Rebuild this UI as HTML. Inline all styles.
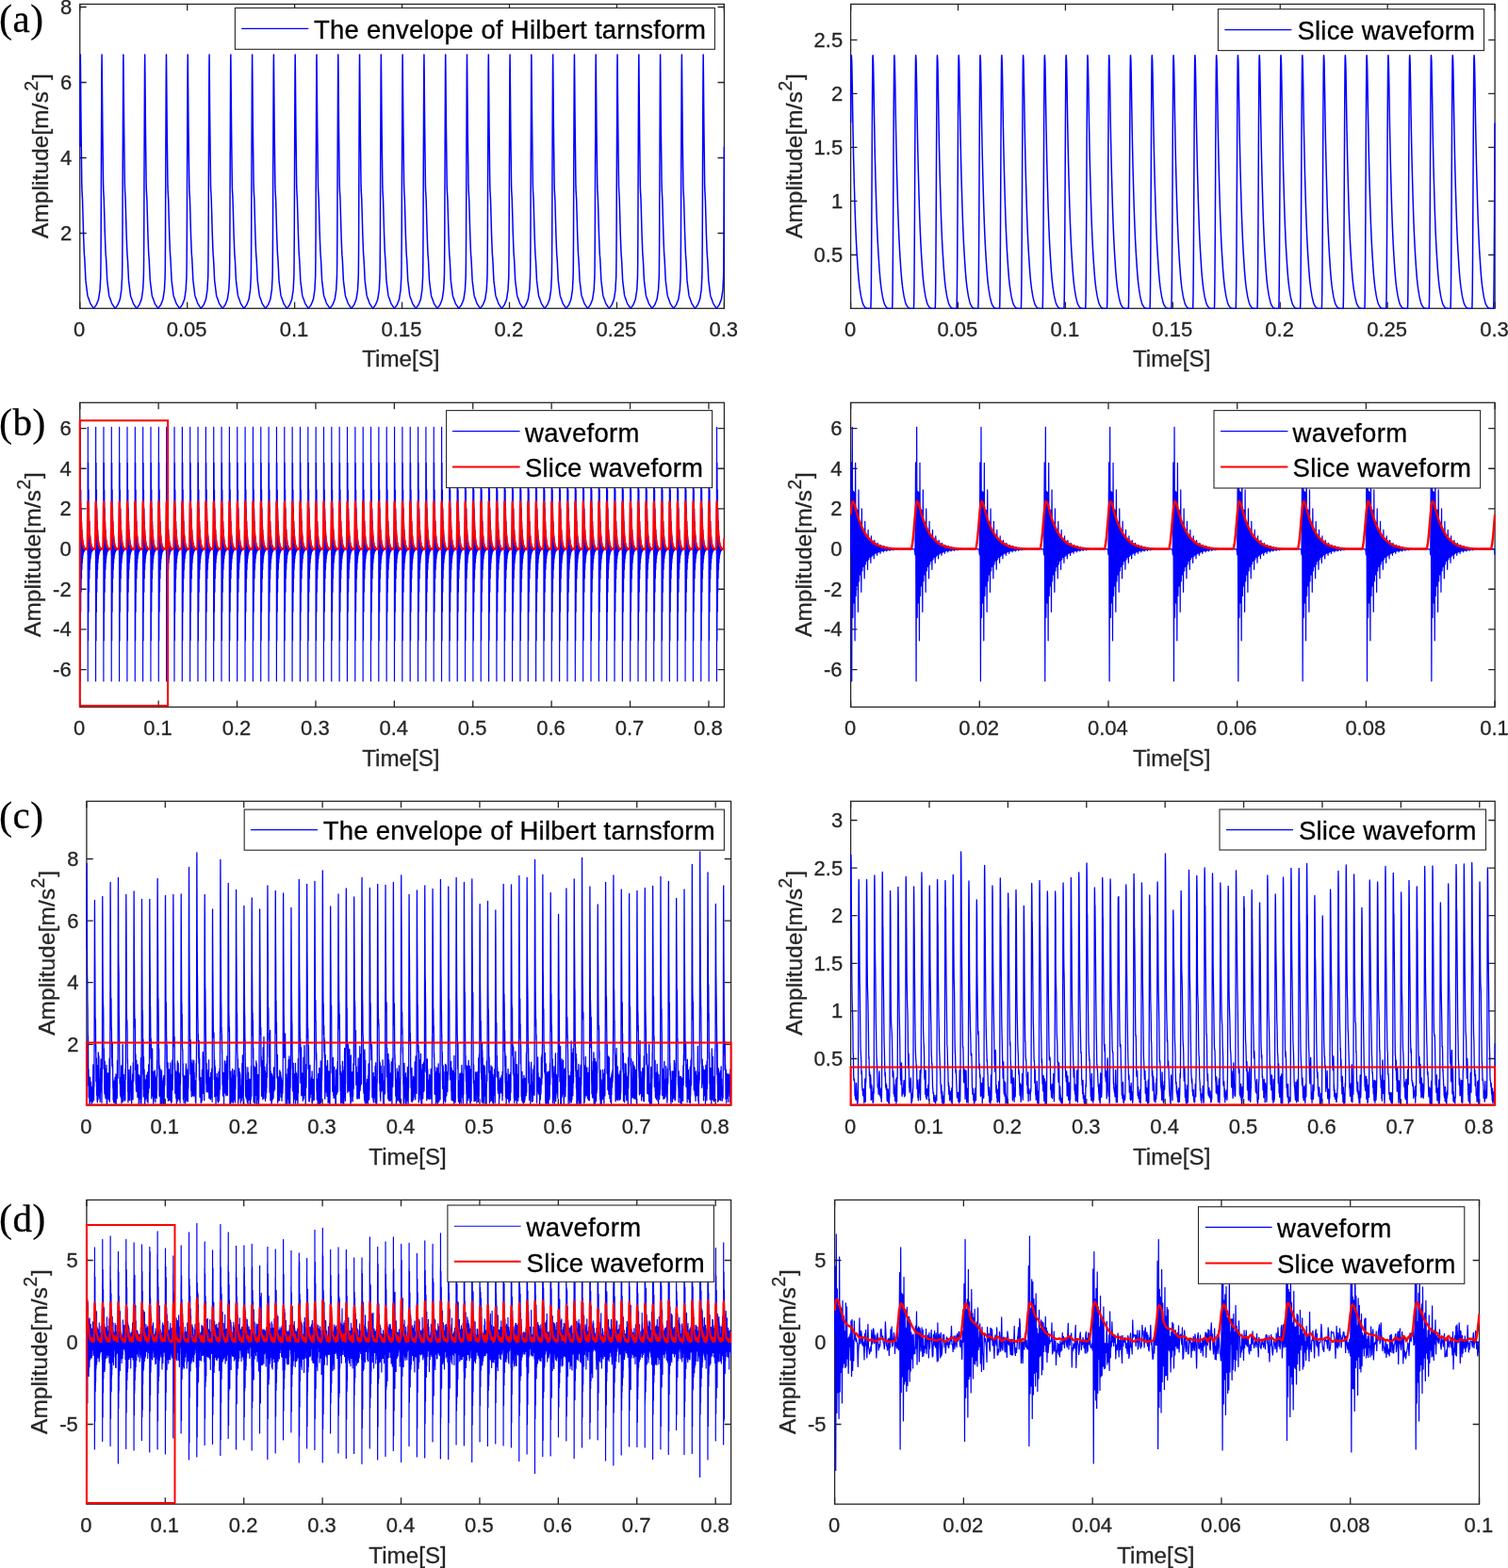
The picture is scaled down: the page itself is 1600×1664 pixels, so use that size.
<!DOCTYPE html>
<html lang="en"><head><meta charset="utf-8"><title>Waveform, Hilbert envelope and slice waveform</title>
<style>html,body{margin:0;padding:0;background:#fff}body{width:1600px;height:1664px;overflow:hidden}svg{display:block}text{white-space:pre}</style>
</head><body>
<svg width="1600" height="1664" viewBox="0 0 1600 1664">
<rect width="1600" height="1664" fill="#fff"/>
<clipPath id="caL"><rect x="84.15" y="3.80" width="684.85" height="324.10"/></clipPath>
<g stroke="#262626" stroke-width="1.3" fill="none" stroke-linecap="butt">
<rect x="84.75" y="4.40" width="683.65" height="322.90"/>
<path d="M84.75 327.30v-6.90M84.75 4.40v6.90M198.69 327.30v-6.90M198.69 4.40v6.90M312.63 327.30v-6.90M312.63 4.40v6.90M426.58 327.30v-6.90M426.58 4.40v6.90M540.52 327.30v-6.90M540.52 4.40v6.90M654.46 327.30v-6.90M654.46 4.40v6.90M768.40 327.30v-6.90M768.40 4.40v6.90M84.75 247.50h6.90M768.40 247.50h-6.90M84.75 167.50h6.90M768.40 167.50h-6.90M84.75 87.50h6.90M768.40 87.50h-6.90M84.75 7.50h6.90M768.40 7.50h-6.90"/>
</g>
<g clip-path="url(#caL)"><path transform="translate(84.750 4.40) scale(0.186790 0.25)" d="M0 605l1-164 1-153 1-74 1 71 1 82 1 85 1 77 1 61 1 60 1 61 1 60 1 21 1 13 1 13 1 15 1 27 1 27 1 26 1 27 1 27 1 22 1 20 1 20 1 20 1 14 1 9 1 9 1 13 1 15 1 16 1 16 1 16 1 15 1 6 1 7 1 6 1 6 1 6 1 6 1 6 1 6 1 6 1 6 1 4 1 3 1 2 1 2 1 2 1 2 1 2 1 2 1 2 1 2 1 2 1 2 1 3 1 2 1 2 1 2 1 2 1 1 1 2 1 1 1 1 1 1 1 1 1 1 1 1 1 2 1 1 1 1 1 1 1 1 1 1 1 1 1 2 1 0 1 1 1 0 1-1 1-1 1-1 1-1 1-1 1-1 1-1 1-1 1-1 1-1 1-1 1-1 1-1 1-1 1-2 1-2 1-2 1-2 1-1 1-2 1-2 1-2 1-2 1-2 1-2 1-2 1-1 1-5 1-5 1-5 1-5 1-5 1-5 1-5 1-5 1-14 1-14 1-14 1-14 1-56 1-111 1-212 1-173 1-164 1-153 1-74 1 71 1 82 1 85 1 77 1 61 1 60 1 61 1 60 1 21 1 13 1 13 1 15 1 27 1 27 1 26 1 27 1 27 1 22 1 20 1 20 1 20 1 14 1 9 1 9 1 13 1 15 1 16 1 16 1 16 1 15 1 6 1 7 1 6 1 6 1 6 1 6 1 6 1 6 1 6 1 6 1 4 1 3 1 2 1 2 1 2 1 2 1 2 1 2 1 2 1 2 1 2 1 2 1 3 1 2 1 2 1 2 1 2 1 1 1 2 1 1 1 1 1 1 1 1 1 1 1 1 1 2 1 1 1 1 1 1 1 1 1 1 1 1 1 2 1 0 1 1 1 0 1-1 1-1 1-1 1-1 1-1 1-1 1-1 1-1 1-1 1-1 1-1 1-1 1-1 1-1 1-2 1-2 1-2 1-2 1-1 1-2 1-2 1-2 1-2 1-2 1-2 1-2 1-1 1-5 1-5 1-5 1-5 1-5 1-5 1-5 1-5 1-14 1-14 1-14 1-14 1-56 1-111 1-212 1-173 1-164 1-153 1-74 1 71 1 82 1 85 1 77 1 61 1 60 1 61 1 60 1 21 1 13 1 13 1 15 1 27 1 27 1 26 1 27 1 27 1 22 1 20 1 20 1 20 1 14 1 9 1 9 1 13 1 15 1 16 1 16 1 16 1 15 1 6 1 7 1 6 1 6 1 6 1 6 1 6 1 6 1 6 1 6 1 4 1 3 1 2 1 2 1 2 1 2 1 2 1 2 1 2 1 2 1 2 1 2 1 3 1 2 1 2 1 2 1 2 1 1 1 2 1 1 1 1 1 1 1 1 1 1 1 1 1 2 1 1 1 1 1 1 1 1 1 1 1 1 1 2 1 0 1 1 1 0 1-1 1-1 1-1 1-1 1-1 1-1 1-1 1-1 1-1 1-1 1-1 1-1 1-1 1-1 1-2 1-2 1-2 1-2 1-1 1-2 1-2 1-2 1-2 1-2 1-2 1-2 1-1 1-5 1-5 1-5 1-5 1-5 1-5 1-5 1-5 1-14 1-14 1-14 1-14 1-56 1-111 1-212 1-173 1-164 1-153 1-74 1 71 1 82 1 85 1 77 1 61 1 60 1 61 1 60 1 21 1 13 1 13 1 15 1 27 1 27 1 26 1 27 1 27 1 22 1 20 1 20 1 20 1 14 1 9 1 9 1 13 1 15 1 16 1 16 1 16 1 15 1 6 1 7 1 6 1 6 1 6 1 6 1 6 1 6 1 6 1 6 1 4 1 3 1 2 1 2 1 2 1 2 1 2 1 2 1 2 1 2 1 2 1 2 1 3 1 2 1 2 1 2 1 2 1 1 1 2 1 1 1 1 1 1 1 1 1 1 1 1 1 2 1 1 1 1 1 1 1 1 1 1 1 1 1 2 1 0 1 1 1 0 1-1 1-1 1-1 1-1 1-1 1-1 1-1 1-1 1-1 1-1 1-1 1-1 1-1 1-1 1-2 1-2 1-2 1-2 1-1 1-2 1-2 1-2 1-2 1-2 1-2 1-2 1-1 1-5 1-5 1-5 1-5 1-5 1-5 1-5 1-5 1-14 1-14 1-14 1-14 1-56 1-111 1-212 1-173 1-164 1-153 1-74 1 71 1 82 1 85 1 77 1 61 1 60 1 61 1 60 1 21 1 13 1 13 1 15 1 27 1 27 1 26 1 27 1 27 1 22 1 20 1 20 1 20 1 14 1 9 1 9 1 13 1 15 1 16 1 16 1 16 1 15 1 6 1 7 1 6 1 6 1 6 1 6 1 6 1 6 1 6 1 6 1 4 1 3 1 2 1 2 1 2 1 2 1 2 1 2 1 2 1 2 1 2 1 2 1 3 1 2 1 2 1 2 1 2 1 1 1 2 1 1 1 1 1 1 1 1 1 1 1 1 1 2 1 1 1 1 1 1 1 1 1 1 1 1 1 2 1 0 1 1 1 0 1-1 1-1 1-1 1-1 1-1 1-1 1-1 1-1 1-1 1-1 1-1 1-1 1-1 1-1 1-2 1-2 1-2 1-2 1-1 1-2 1-2 1-2 1-2 1-2 1-2 1-2 1-1 1-5 1-5 1-5 1-5 1-5 1-5 1-5 1-5 1-14 1-14 1-14 1-14 1-56 1-111 1-212 1-173 1-164 1-153 1-74 1 71 1 82 1 85 1 77 1 61 1 60 1 61 1 60 1 21 1 13 1 13 1 15 1 27 1 27 1 26 1 27 1 27 1 22 1 20 1 20 1 20 1 14 1 9 1 9 1 13 1 15 1 16 1 16 1 16 1 15 1 6 1 7 1 6 1 6 1 6 1 6 1 6 1 6 1 6 1 6 1 4 1 3 1 2 1 2 1 2 1 2 1 2 1 2 1 2 1 2 1 2 1 2 1 3 1 2 1 2 1 2 1 2 1 1 1 2 1 1 1 1 1 1 1 1 1 1 1 1 1 2 1 1 1 1 1 1 1 1 1 1 1 1 1 2 1 0 1 1 1 0 1-1 1-1 1-1 1-1 1-1 1-1 1-1 1-1 1-1 1-1 1-1 1-1 1-1 1-1 1-2 1-2 1-2 1-2 1-1 1-2 1-2 1-2 1-2 1-2 1-2 1-2 1-1 1-5 1-5 1-5 1-5 1-5 1-5 1-5 1-5 1-14 1-14 1-14 1-14 1-56 1-111 1-212 1-173 1-164 1-153 1-74 1 71 1 82 1 85 1 77 1 61 1 60 1 61 1 60 1 21 1 13 1 13 1 15 1 27 1 27 1 26 1 27 1 27 1 22 1 20 1 20 1 20 1 14 1 9 1 9 1 13 1 15 1 16 1 16 1 16 1 15 1 6 1 7 1 6 1 6 1 6 1 6 1 6 1 6 1 6 1 6 1 4 1 3 1 2 1 2 1 2 1 2 1 2 1 2 1 2 1 2 1 2 1 2 1 3 1 2 1 2 1 2 1 2 1 1 1 2 1 1 1 1 1 1 1 1 1 1 1 1 1 2 1 1 1 1 1 1 1 1 1 1 1 1 1 2 1 0 1 1 1 0 1-1 1-1 1-1 1-1 1-1 1-1 1-1 1-1 1-1 1-1 1-1 1-1 1-1 1-1 1-2 1-2 1-2 1-2 1-1 1-2 1-2 1-2 1-2 1-2 1-2 1-2 1-1 1-5 1-5 1-5 1-5 1-5 1-5 1-5 1-5 1-14 1-14 1-14 1-14 1-56 1-111 1-212 1-173 1-164 1-153 1-74 1 71 1 82 1 85 1 77 1 61 1 60 1 61 1 60 1 21 1 13 1 13 1 15 1 27 1 27 1 26 1 27 1 27 1 22 1 20 1 20 1 20 1 14 1 9 1 9 1 13 1 15 1 16 1 16 1 16 1 15 1 6 1 7 1 6 1 6 1 6 1 6 1 6 1 6 1 6 1 6 1 4 1 3 1 2 1 2 1 2 1 2 1 2 1 2 1 2 1 2 1 2 1 2 1 3 1 2 1 2 1 2 1 2 1 1 1 2 1 1 1 1 1 1 1 1 1 1 1 1 1 2 1 1 1 1 1 1 1 1 1 1 1 1 1 2 1 0 1 1 1 0 1-1 1-1 1-1 1-1 1-1 1-1 1-1 1-1 1-1 1-1 1-1 1-1 1-1 1-1 1-2 1-2 1-2 1-2 1-1 1-2 1-2 1-2 1-2 1-2 1-2 1-2 1-1 1-5 1-5 1-5 1-5 1-5 1-5 1-5 1-5 1-14 1-14 1-14 1-14 1-56 1-111 1-212 1-173 1-164 1-153 1-74 1 71 1 82 1 85 1 77 1 61 1 60 1 61 1 60 1 21 1 13 1 13 1 15 1 27 1 27 1 26 1 27 1 27 1 22 1 20 1 20 1 20 1 14 1 9 1 9 1 13 1 15 1 16 1 16 1 16 1 15 1 6 1 7 1 6 1 6 1 6 1 6 1 6 1 6 1 6 1 6 1 4 1 3 1 2 1 2 1 2 1 2 1 2 1 2 1 2 1 2 1 2 1 2 1 3 1 2 1 2 1 2 1 2 1 1 1 2 1 1 1 1 1 1 1 1 1 1 1 1 1 2 1 1 1 1 1 1 1 1 1 1 1 1 1 2 1 0 1 1 1 0 1-1 1-1 1-1 1-1 1-1 1-1 1-1 1-1 1-1 1-1 1-1 1-1 1-1 1-1 1-2 1-2 1-2 1-2 1-1 1-2 1-2 1-2 1-2 1-2 1-2 1-2 1-1 1-5 1-5 1-5 1-5 1-5 1-5 1-5 1-5 1-14 1-14 1-14 1-14 1-56 1-111 1-212 1-173 1-164 1-153 1-74 1 71 1 82 1 85 1 77 1 61 1 60 1 61 1 60 1 21 1 13 1 13 1 15 1 27 1 27 1 26 1 27 1 27 1 22 1 20 1 20 1 20 1 14 1 9 1 9 1 13 1 15 1 16 1 16 1 16 1 15 1 6 1 7 1 6 1 6 1 6 1 6 1 6 1 6 1 6 1 6 1 4 1 3 1 2 1 2 1 2 1 2 1 2 1 2 1 2 1 2 1 2 1 2 1 3 1 2 1 2 1 2 1 2 1 1 1 2 1 1 1 1 1 1 1 1 1 1 1 1 1 2 1 1 1 1 1 1 1 1 1 1 1 1 1 2 1 0 1 1 1 0 1-1 1-1 1-1 1-1 1-1 1-1 1-1 1-1 1-1 1-1 1-1 1-1 1-1 1-1 1-2 1-2 1-2 1-2 1-1 1-2 1-2 1-2 1-2 1-2 1-2 1-2 1-1 1-5 1-5 1-5 1-5 1-5 1-5 1-5 1-5 1-14 1-14 1-14 1-14 1-56 1-111 1-212 1-173 1-164 1-153 1-74 1 71 1 82 1 85 1 77 1 61 1 60 1 61 1 60 1 21 1 13 1 13 1 15 1 27 1 27 1 26 1 27 1 27 1 22 1 20 1 20 1 20 1 14 1 9 1 9 1 13 1 15 1 16 1 16 1 16 1 15 1 6 1 7 1 6 1 6 1 6 1 6 1 6 1 6 1 6 1 6 1 4 1 3 1 2 1 2 1 2 1 2 1 2 1 2 1 2 1 2 1 2 1 2 1 3 1 2 1 2 1 2 1 2 1 1 1 2 1 1 1 1 1 1 1 1 1 1 1 1 1 2 1 1 1 1 1 1 1 1 1 1 1 1 1 2 1 0 1 1 1 0 1-1 1-1 1-1 1-1 1-1 1-1 1-1 1-1 1-1 1-1 1-1 1-1 1-1 1-1 1-2 1-2 1-2 1-2 1-1 1-2 1-2 1-2 1-2 1-2 1-2 1-2 1-1 1-5 1-5 1-5 1-5 1-5 1-5 1-5 1-5 1-14 1-14 1-14 1-14 1-56 1-111 1-212 1-173 1-164 1-153 1-74 1 71 1 82 1 85 1 77 1 61 1 60 1 61 1 60 1 21 1 13 1 13 1 15 1 27 1 27 1 26 1 27 1 27 1 22 1 20 1 20 1 20 1 14 1 9 1 9 1 13 1 15 1 16 1 16 1 16 1 15 1 6 1 7 1 6 1 6 1 6 1 6 1 6 1 6 1 6 1 6 1 4 1 3 1 2 1 2 1 2 1 2 1 2 1 2 1 2 1 2 1 2 1 2 1 3 1 2 1 2 1 2 1 2 1 1 1 2 1 1 1 1 1 1 1 1 1 1 1 1 1 2 1 1 1 1 1 1 1 1 1 1 1 1 1 2 1 0 1 1 1 0 1-1 1-1 1-1 1-1 1-1 1-1 1-1 1-1 1-1 1-1 1-1 1-1 1-1 1-1 1-2 1-2 1-2 1-2 1-1 1-2 1-2 1-2 1-2 1-2 1-2 1-2 1-1 1-5 1-5 1-5 1-5 1-5 1-5 1-5 1-5 1-14 1-14 1-14 1-14 1-56 1-111 1-212 1-173 1-164 1-153 1-74 1 71 1 82 1 85 1 77 1 61 1 60 1 61 1 60 1 21 1 13 1 13 1 15 1 27 1 27 1 26 1 27 1 27 1 22 1 20 1 20 1 20 1 14 1 9 1 9 1 13 1 15 1 16 1 16 1 16 1 15 1 6 1 7 1 6 1 6 1 6 1 6 1 6 1 6 1 6 1 6 1 4 1 3 1 2 1 2 1 2 1 2 1 2 1 2 1 2 1 2 1 2 1 2 1 3 1 2 1 2 1 2 1 2 1 1 1 2 1 1 1 1 1 1 1 1 1 1 1 1 1 2 1 1 1 1 1 1 1 1 1 1 1 1 1 2 1 0 1 1 1 0 1-1 1-1 1-1 1-1 1-1 1-1 1-1 1-1 1-1 1-1 1-1 1-1 1-1 1-1 1-2 1-2 1-2 1-2 1-1 1-2 1-2 1-2 1-2 1-2 1-2 1-2 1-1 1-5 1-5 1-5 1-5 1-5 1-5 1-5 1-5 1-14 1-14 1-14 1-14 1-56 1-111 1-212 1-173 1-164 1-153 1-74 1 71 1 82 1 85 1 77 1 61 1 60 1 61 1 60 1 21 1 13 1 13 1 15 1 27 1 27 1 26 1 27 1 27 1 22 1 20 1 20 1 20 1 14 1 9 1 9 1 13 1 15 1 16 1 16 1 16 1 15 1 6 1 7 1 6 1 6 1 6 1 6 1 6 1 6 1 6 1 6 1 4 1 3 1 2 1 2 1 2 1 2 1 2 1 2 1 2 1 2 1 2 1 2 1 3 1 2 1 2 1 2 1 2 1 1 1 2 1 1 1 1 1 1 1 1 1 1 1 1 1 2 1 1 1 1 1 1 1 1 1 1 1 1 1 2 1 0 1 1 1 0 1-1 1-1 1-1 1-1 1-1 1-1 1-1 1-1 1-1 1-1 1-1 1-1 1-1 1-1 1-2 1-2 1-2 1-2 1-1 1-2 1-2 1-2 1-2 1-2 1-2 1-2 1-1 1-5 1-5 1-5 1-5 1-5 1-5 1-5 1-5 1-14 1-14 1-14 1-14 1-56 1-111 1-212 1-173 1-164 1-153 1-74 1 71 1 82 1 85 1 77 1 61 1 60 1 61 1 60 1 21 1 13 1 13 1 15 1 27 1 27 1 26 1 27 1 27 1 22 1 20 1 20 1 20 1 14 1 9 1 9 1 13 1 15 1 16 1 16 1 16 1 15 1 6 1 7 1 6 1 6 1 6 1 6 1 6 1 6 1 6 1 6 1 4 1 3 1 2 1 2 1 2 1 2 1 2 1 2 1 2 1 2 1 2 1 2 1 3 1 2 1 2 1 2 1 2 1 1 1 2 1 1 1 1 1 1 1 1 1 1 1 1 1 2 1 1 1 1 1 1 1 1 1 1 1 1 1 2 1 0 1 1 1 0 1-1 1-1 1-1 1-1 1-1 1-1 1-1 1-1 1-1 1-1 1-1 1-1 1-1 1-1 1-2 1-2 1-2 1-2 1-1 1-2 1-2 1-2 1-2 1-2 1-2 1-2 1-1 1-5 1-5 1-5 1-5 1-5 1-5 1-5 1-5 1-14 1-14 1-14 1-14 1-56 1-111 1-212 1-173 1-164 1-153 1-74 1 71 1 82 1 85 1 77 1 61 1 60 1 61 1 60 1 21 1 13 1 13 1 15 1 27 1 27 1 26 1 27 1 27 1 22 1 20 1 20 1 20 1 14 1 9 1 9 1 13 1 15 1 16 1 16 1 16 1 15 1 6 1 7 1 6 1 6 1 6 1 6 1 6 1 6 1 6 1 6 1 4 1 3 1 2 1 2 1 2 1 2 1 2 1 2 1 2 1 2 1 2 1 2 1 3 1 2 1 2 1 2 1 2 1 1 1 2 1 1 1 1 1 1 1 1 1 1 1 1 1 2 1 1 1 1 1 1 1 1 1 1 1 1 1 2 1 0 1 1 1 0 1-1 1-1 1-1 1-1 1-1 1-1 1-1 1-1 1-1 1-1 1-1 1-1 1-1 1-1 1-2 1-2 1-2 1-2 1-1 1-2 1-2 1-2 1-2 1-2 1-2 1-2 1-1 1-5 1-5 1-5 1-5 1-5 1-5 1-5 1-5 1-14 1-14 1-14 1-14 1-56 1-111 1-212 1-173 1-164 1-153 1-74 1 71 1 82 1 85 1 77 1 61 1 60 1 61 1 60 1 21 1 13 1 13 1 15 1 27 1 27 1 26 1 27 1 27 1 22 1 20 1 20 1 20 1 14 1 9 1 9 1 13 1 15 1 16 1 16 1 16 1 15 1 6 1 7 1 6 1 6 1 6 1 6 1 6 1 6 1 6 1 6 1 4 1 3 1 2 1 2 1 2 1 2 1 2 1 2 1 2 1 2 1 2 1 2 1 3 1 2 1 2 1 2 1 2 1 1 1 2 1 1 1 1 1 1 1 1 1 1 1 1 1 2 1 1 1 1 1 1 1 1 1 1 1 1 1 2 1 0 1 1 1 0 1-1 1-1 1-1 1-1 1-1 1-1 1-1 1-1 1-1 1-1 1-1 1-1 1-1 1-1 1-2 1-2 1-2 1-2 1-1 1-2 1-2 1-2 1-2 1-2 1-2 1-2 1-1 1-5 1-5 1-5 1-5 1-5 1-5 1-5 1-5 1-14 1-14 1-14 1-14 1-56 1-111 1-212 1-173 1-164 1-153 1-74 1 71 1 82 1 85 1 77 1 61 1 60 1 61 1 60 1 21 1 13 1 13 1 15 1 27 1 27 1 26 1 27 1 27 1 22 1 20 1 20 1 20 1 14 1 9 1 9 1 13 1 15 1 16 1 16 1 16 1 15 1 6 1 7 1 6 1 6 1 6 1 6 1 6 1 6 1 6 1 6 1 4 1 3 1 2 1 2 1 2 1 2 1 2 1 2 1 2 1 2 1 2 1 2 1 3 1 2 1 2 1 2 1 2 1 1 1 2 1 1 1 1 1 1 1 1 1 1 1 1 1 2 1 1 1 1 1 1 1 1 1 1 1 1 1 2 1 0 1 1 1 0 1-1 1-1 1-1 1-1 1-1 1-1 1-1 1-1 1-1 1-1 1-1 1-1 1-1 1-1 1-2 1-2 1-2 1-2 1-1 1-2 1-2 1-2 1-2 1-2 1-2 1-2 1-1 1-5 1-5 1-5 1-5 1-5 1-5 1-5 1-5 1-14 1-14 1-14 1-14 1-56 1-111 1-212 1-173 1-164 1-153 1-74 1 71 1 82 1 85 1 77 1 61 1 60 1 61 1 60 1 21 1 13 1 13 1 15 1 27 1 27 1 26 1 27 1 27 1 22 1 20 1 20 1 20 1 14 1 9 1 9 1 13 1 15 1 16 1 16 1 16 1 15 1 6 1 7 1 6 1 6 1 6 1 6 1 6 1 6 1 6 1 6 1 4 1 3 1 2 1 2 1 2 1 2 1 2 1 2 1 2 1 2 1 2 1 2 1 3 1 2 1 2 1 2 1 2 1 1 1 2 1 1 1 1 1 1 1 1 1 1 1 1 1 2 1 1 1 1 1 1 1 1 1 1 1 1 1 2 1 0 1 1 1 0 1-1 1-1 1-1 1-1 1-1 1-1 1-1 1-1 1-1 1-1 1-1 1-1 1-1 1-1 1-2 1-2 1-2 1-2 1-1 1-2 1-2 1-2 1-2 1-2 1-2 1-2 1-1 1-5 1-5 1-5 1-5 1-5 1-5 1-5 1-5 1-14 1-14 1-14 1-14 1-56 1-111 1-212 1-173 1-164 1-153 1-74 1 71 1 82 1 85 1 77 1 61 1 60 1 61 1 60 1 21 1 13 1 13 1 15 1 27 1 27 1 26 1 27 1 27 1 22 1 20 1 20 1 20 1 14 1 9 1 9 1 13 1 15 1 16 1 16 1 16 1 15 1 6 1 7 1 6 1 6 1 6 1 6 1 6 1 6 1 6 1 6 1 4 1 3 1 2 1 2 1 2 1 2 1 2 1 2 1 2 1 2 1 2 1 2 1 3 1 2 1 2 1 2 1 2 1 1 1 2 1 1 1 1 1 1 1 1 1 1 1 1 1 2 1 1 1 1 1 1 1 1 1 1 1 1 1 2 1 0 1 1 1 0 1-1 1-1 1-1 1-1 1-1 1-1 1-1 1-1 1-1 1-1 1-1 1-1 1-1 1-1 1-2 1-2 1-2 1-2 1-1 1-2 1-2 1-2 1-2 1-2 1-2 1-2 1-1 1-5 1-5 1-5 1-5 1-5 1-5 1-5 1-5 1-14 1-14 1-14 1-14 1-56 1-111 1-212 1-173 1-164 1-153 1-74 1 71 1 82 1 85 1 77 1 61 1 60 1 61 1 60 1 21 1 13 1 13 1 15 1 27 1 27 1 26 1 27 1 27 1 22 1 20 1 20 1 20 1 14 1 9 1 9 1 13 1 15 1 16 1 16 1 16 1 15 1 6 1 7 1 6 1 6 1 6 1 6 1 6 1 6 1 6 1 6 1 4 1 3 1 2 1 2 1 2 1 2 1 2 1 2 1 2 1 2 1 2 1 2 1 3 1 2 1 2 1 2 1 2 1 1 1 2 1 1 1 1 1 1 1 1 1 1 1 1 1 2 1 1 1 1 1 1 1 1 1 1 1 1 1 2 1 0 1 1 1 0 1-1 1-1 1-1 1-1 1-1 1-1 1-1 1-1 1-1 1-1 1-1 1-1 1-1 1-1 1-2 1-2 1-2 1-2 1-1 1-2 1-2 1-2 1-2 1-2 1-2 1-2 1-1 1-5 1-5 1-5 1-5 1-5 1-5 1-5 1-5 1-14 1-14 1-14 1-14 1-56 1-111 1-212 1-173 1-164 1-153 1-74 1 71 1 82 1 85 1 77 1 61 1 60 1 61 1 60 1 21 1 13 1 13 1 15 1 27 1 27 1 26 1 27 1 27 1 22 1 20 1 20 1 20 1 14 1 9 1 9 1 13 1 15 1 16 1 16 1 16 1 15 1 6 1 7 1 6 1 6 1 6 1 6 1 6 1 6 1 6 1 6 1 4 1 3 1 2 1 2 1 2 1 2 1 2 1 2 1 2 1 2 1 2 1 2 1 3 1 2 1 2 1 2 1 2 1 1 1 2 1 1 1 1 1 1 1 1 1 1 1 1 1 2 1 1 1 1 1 1 1 1 1 1 1 1 1 2 1 0 1 1 1 0 1-1 1-1 1-1 1-1 1-1 1-1 1-1 1-1 1-1 1-1 1-1 1-1 1-1 1-1 1-2 1-2 1-2 1-2 1-1 1-2 1-2 1-2 1-2 1-2 1-2 1-2 1-1 1-5 1-5 1-5 1-5 1-5 1-5 1-5 1-5 1-14 1-14 1-14 1-14 1-56 1-111 1-212 1-173 1-164 1-153 1-74 1 71 1 82 1 85 1 77 1 61 1 60 1 61 1 60 1 21 1 13 1 13 1 15 1 27 1 27 1 26 1 27 1 27 1 22 1 20 1 20 1 20 1 14 1 9 1 9 1 13 1 15 1 16 1 16 1 16 1 15 1 6 1 7 1 6 1 6 1 6 1 6 1 6 1 6 1 6 1 6 1 4 1 3 1 2 1 2 1 2 1 2 1 2 1 2 1 2 1 2 1 2 1 2 1 3 1 2 1 2 1 2 1 2 1 1 1 2 1 1 1 1 1 1 1 1 1 1 1 1 1 2 1 1 1 1 1 1 1 1 1 1 1 1 1 2 1 0 1 1 1 0 1-1 1-1 1-1 1-1 1-1 1-1 1-1 1-1 1-1 1-1 1-1 1-1 1-1 1-1 1-2 1-2 1-2 1-2 1-1 1-2 1-2 1-2 1-2 1-2 1-2 1-2 1-1 1-5 1-5 1-5 1-5 1-5 1-5 1-5 1-5 1-14 1-14 1-14 1-14 1-56 1-111 1-212 1-173 1-164 1-153 1-74 1 71 1 82 1 85 1 77 1 61 1 60 1 61 1 60 1 21 1 13 1 13 1 15 1 27 1 27 1 26 1 27 1 27 1 22 1 20 1 20 1 20 1 14 1 9 1 9 1 13 1 15 1 16 1 16 1 16 1 15 1 6 1 7 1 6 1 6 1 6 1 6 1 6 1 6 1 6 1 6 1 4 1 3 1 2 1 2 1 2 1 2 1 2 1 2 1 2 1 2 1 2 1 2 1 3 1 2 1 2 1 2 1 2 1 1 1 2 1 1 1 1 1 1 1 1 1 1 1 1 1 2 1 1 1 1 1 1 1 1 1 1 1 1 1 2 1 0 1 1 1 0 1-1 1-1 1-1 1-1 1-1 1-1 1-1 1-1 1-1 1-1 1-1 1-1 1-1 1-1 1-2 1-2 1-2 1-2 1-1 1-2 1-2 1-2 1-2 1-2 1-2 1-2 1-1 1-5 1-5 1-5 1-5 1-5 1-5 1-5 1-5 1-14 1-14 1-14 1-14 1-56 1-111 1-212 1-173 1-164 1-153 1-74 1 71 1 82 1 85 1 77 1 61 1 60 1 61 1 60 1 21 1 13 1 13 1 15 1 27 1 27 1 26 1 27 1 27 1 22 1 20 1 20 1 20 1 14 1 9 1 9 1 13 1 15 1 16 1 16 1 16 1 15 1 6 1 7 1 6 1 6 1 6 1 6 1 6 1 6 1 6 1 6 1 4 1 3 1 2 1 2 1 2 1 2 1 2 1 2 1 2 1 2 1 2 1 2 1 3 1 2 1 2 1 2 1 2 1 1 1 2 1 1 1 1 1 1 1 1 1 1 1 1 1 2 1 1 1 1 1 1 1 1 1 1 1 1 1 2 1 0 1 1 1 0 1-1 1-1 1-1 1-1 1-1 1-1 1-1 1-1 1-1 1-1 1-1 1-1 1-1 1-1 1-2 1-2 1-2 1-2 1-1 1-2 1-2 1-2 1-2 1-2 1-2 1-2 1-1 1-5 1-5 1-5 1-5 1-5 1-5 1-5 1-5 1-14 1-14 1-14 1-14 1-56 1-111 1-212 1-173 1-164 1-153 1-74 1 71 1 82 1 85 1 77 1 61 1 60 1 61 1 60 1 21 1 13 1 13 1 15 1 27 1 27 1 26 1 27 1 27 1 22 1 20 1 20 1 20 1 14 1 9 1 9 1 13 1 15 1 16 1 16 1 16 1 15 1 6 1 7 1 6 1 6 1 6 1 6 1 6 1 6 1 6 1 6 1 4 1 3 1 2 1 2 1 2 1 2 1 2 1 2 1 2 1 2 1 2 1 2 1 3 1 2 1 2 1 2 1 2 1 1 1 2 1 1 1 1 1 1 1 1 1 1 1 1 1 2 1 1 1 1 1 1 1 1 1 1 1 1 1 2 1 0 1 1 1 0 1-1 1-1 1-1 1-1 1-1 1-1 1-1 1-1 1-1 1-1 1-1 1-1 1-1 1-1 1-2 1-2 1-2 1-2 1-1 1-2 1-2 1-2 1-2 1-2 1-2 1-2 1-1 1-5 1-5 1-5 1-5 1-5 1-5 1-5 1-5 1-14 1-14 1-14 1-14 1-56 1-111 1-212 1-173 1-164 1-153 1-74 1 71 1 82 1 85 1 77 1 61 1 60 1 61 1 60 1 21 1 13 1 13 1 15 1 27 1 27 1 26 1 27 1 27 1 22 1 20 1 20 1 20 1 14 1 9 1 9 1 13 1 15 1 16 1 16 1 16 1 15 1 6 1 7 1 6 1 6 1 6 1 6 1 6 1 6 1 6 1 6 1 4 1 3 1 2 1 2 1 2 1 2 1 2 1 2 1 2 1 2 1 2 1 2 1 3 1 2 1 2 1 2 1 2 1 1 1 2 1 1 1 1 1 1 1 1 1 1 1 1 1 2 1 1 1 1 1 1 1 1 1 1 1 1 1 2 1 0 1 1 1 0 1-1 1-1 1-1 1-1 1-1 1-1 1-1 1-1 1-1 1-1 1-1 1-1 1-1 1-1 1-2 1-2 1-2 1-2 1-1 1-2 1-2 1-2 1-2 1-2 1-2 1-2 1-1 1-5 1-5 1-5 1-5 1-5 1-5 1-5 1-5 1-14 1-14 1-14 1-14 1-56 1-111 1-212 1-173 1-164 1-153 1-74 1 71 1 82 1 85 1 77 1 61 1 60 1 61 1 60 1 21 1 13 1 13 1 15 1 27 1 27 1 26 1 27 1 27 1 22 1 20 1 20 1 20 1 14 1 9 1 9 1 13 1 15 1 16 1 16 1 16 1 15 1 6 1 7 1 6 1 6 1 6 1 6 1 6 1 6 1 6 1 6 1 4 1 3 1 2 1 2 1 2 1 2 1 2 1 2 1 2 1 2 1 2 1 2 1 3 1 2 1 2 1 2 1 2 1 1 1 2 1 1 1 1 1 1 1 1 1 1 1 1 1 2 1 1 1 1 1 1 1 1 1 1 1 1 1 2 1 0 1 1 1 0 1-1 1-1 1-1 1-1 1-1 1-1 1-1 1-1 1-1 1-1 1-1 1-1 1-1 1-1 1-2 1-2 1-2 1-2 1-1 1-2 1-2 1-2 1-2 1-2 1-2 1-2 1-1 1-5 1-5 1-5 1-5 1-5 1-5 1-5 1-5 1-14 1-14 1-14 1-14 1-56 1-111 1-212 1-173 1-164 1-153 1-74 1 71 1 82 1 85 1 77 1 61 1 60 1 61 1 60 1 21 1 13 1 13 1 15 1 27 1 27 1 26 1 27 1 27 1 22 1 20 1 20 1 20 1 14 1 9 1 9 1 13 1 15 1 16 1 16 1 16 1 15 1 6 1 7 1 6 1 6 1 6 1 6 1 6 1 6 1 6 1 6 1 4 1 3 1 2 1 2 1 2 1 2 1 2 1 2 1 2 1 2 1 2 1 2 1 3 1 2 1 2 1 2 1 2 1 1 1 2 1 1 1 1 1 1 1 1 1 1 1 1 1 2 1 1 1 1 1 1 1 1 1 1 1 1 1 2 1 0 1 1 1 0 1-1 1-1 1-1 1-1 1-1 1-1 1-1 1-1 1-1 1-1 1-1 1-1 1-1 1-1 1-2 1-2 1-2 1-2 1-1 1-2 1-2 1-2 1-2 1-2 1-2 1-2 1-1 1-5 1-5 1-5 1-5 1-5 1-5 1-5 1-5 1-14 1-14 1-14 1-14 1-56 1-111 1-212 1-173 1-164 1-153 1-74 1 71 1 82 1 85 1 77 1 61 1 60 1 61 1 60 1 21 1 13 1 13 1 15 1 27 1 27 1 26 1 27 1 27 1 22 1 20 1 20 1 20 1 14 1 9 1 9 1 13 1 15 1 16 1 16 1 16 1 15 1 6 1 7 1 6 1 6 1 6 1 6 1 6 1 6 1 6 1 6 1 4 1 3 1 2 1 2 1 2 1 2 1 2 1 2 1 2 1 2 1 2 1 2 1 3 1 2 1 2 1 2 1 2 1 1 1 2 1 1 1 1 1 1 1 1 1 1 1 1 1 2 1 1 1 1 1 1 1 1 1 1 1 1 1 2 1 0 1 1 1 0 1-1 1-1 1-1 1-1 1-1 1-1 1-1 1-1 1-1 1-1 1-1 1-1 1-1 1-1 1-2 1-2 1-2 1-2 1-1 1-2 1-2 1-2 1-2 1-2 1-2 1-2 1-1 1-5 1-5 1-5 1-5 1-5 1-5 1-5 1-5 1-14 1-14 1-14 1-14 1-56 1-111 1-212 1-173" fill="none" stroke="#0000ff" stroke-width="1.5" stroke-linejoin="round" vector-effect="non-scaling-stroke"/></g>
<g fill="#262626" stroke="#262626" stroke-width="0.3">
<text x="84.15" y="357.10" font-size="22" text-anchor="middle" font-family='"Liberation Sans", Arial, Helvetica, sans-serif'>0</text>
<text x="198.09" y="357.10" font-size="22" text-anchor="middle" font-family='"Liberation Sans", Arial, Helvetica, sans-serif'>0.05</text>
<text x="312.03" y="357.10" font-size="22" text-anchor="middle" font-family='"Liberation Sans", Arial, Helvetica, sans-serif'>0.1</text>
<text x="425.98" y="357.10" font-size="22" text-anchor="middle" font-family='"Liberation Sans", Arial, Helvetica, sans-serif'>0.15</text>
<text x="539.92" y="357.10" font-size="22" text-anchor="middle" font-family='"Liberation Sans", Arial, Helvetica, sans-serif'>0.2</text>
<text x="653.86" y="357.10" font-size="22" text-anchor="middle" font-family='"Liberation Sans", Arial, Helvetica, sans-serif'>0.25</text>
<text x="767.80" y="357.10" font-size="22" text-anchor="middle" font-family='"Liberation Sans", Arial, Helvetica, sans-serif'>0.3</text>
<text x="76.35" y="255.00" font-size="22" text-anchor="end" font-family='"Liberation Sans", Arial, Helvetica, sans-serif'>2</text>
<text x="76.35" y="175.00" font-size="22" text-anchor="end" font-family='"Liberation Sans", Arial, Helvetica, sans-serif'>4</text>
<text x="76.35" y="95.00" font-size="22" text-anchor="end" font-family='"Liberation Sans", Arial, Helvetica, sans-serif'>6</text>
<text x="76.35" y="15.00" font-size="22" text-anchor="end" font-family='"Liberation Sans", Arial, Helvetica, sans-serif'>8</text>
<text x="425.38" y="389.20" font-size="24.2" text-anchor="middle" font-family='"Liberation Sans", Arial, Helvetica, sans-serif'>Time[S]</text>
<text transform="translate(50.90 165.65) rotate(-90)" font-size="24.3" text-anchor="middle" textLength="174.7" lengthAdjust="spacing" font-family='"Liberation Sans", Arial, Helvetica, sans-serif'>Amplitude[m/s<tspan dy="-11" dx="0.4" font-size="19.4">2</tspan><tspan dy="11" dx="0.6">]</tspan></text>
</g>
<rect x="249.40" y="8.45" width="509.00" height="43.85" fill="#fff" stroke="#262626" stroke-width="1.1"/>
<path d="M256.20 30.40H327.30" stroke="#0000ff" stroke-width="1.1" fill="none"/>
<text x="333.00" y="40.60" font-size="27.5" text-anchor="start" font-family='"Liberation Sans", Arial, Helvetica, sans-serif' textLength="416.0" lengthAdjust="spacing" fill="#000" stroke="#000" stroke-width="0.3">The envelope of Hilbert tarnsform</text>
<text x="-0.90" y="34.40" font-family='"Liberation Serif", "Times New Roman", serif' fill="#000" stroke="#000" stroke-width="0.15" font-size="41"><tspan font-size="42.5">(</tspan><tspan dy="-0.5" dx="0.3" stroke-width="0.3">a</tspan><tspan font-size="42.5" dy="0.5" dx="0.3">)</tspan></text>
<clipPath id="caR"><rect x="902.00" y="3.80" width="684.70" height="324.10"/></clipPath>
<g stroke="#262626" stroke-width="1.3" fill="none" stroke-linecap="butt">
<rect x="902.60" y="4.40" width="683.50" height="322.90"/>
<path d="M902.60 327.30v-6.90M902.60 4.40v6.90M1016.52 327.30v-6.90M1016.52 4.40v6.90M1130.43 327.30v-6.90M1130.43 4.40v6.90M1244.35 327.30v-6.90M1244.35 4.40v6.90M1358.27 327.30v-6.90M1358.27 4.40v6.90M1472.18 327.30v-6.90M1472.18 4.40v6.90M1586.10 327.30v-6.90M1586.10 4.40v6.90M902.60 270.50h6.90M1586.10 270.50h-6.90M902.60 213.47h6.90M1586.10 213.47h-6.90M902.60 156.45h6.90M1586.10 156.45h-6.90M902.60 99.42h6.90M1586.10 99.42h-6.90M902.60 42.40h6.90M1586.10 42.40h-6.90"/>
</g>
<g clip-path="url(#caR)"><path transform="translate(902.600 4.40) scale(0.186749 0.25)" d="M0 504l1-123 1-95 1-58 1-11 1 12 1 12 1 32 1 38 1 41 1 50 1 48 1 45 1 41 1 38 1 37 1 34 1 32 1 29 1 29 1 27 1 26 1 26 1 26 1 24 1 23 1 21 1 21 1 19 1 18 1 17 1 17 1 15 1 14 1 14 1 13 1 12 1 12 1 11 1 12 1 12 1 11 1 10 1 9 1 9 1 9 1 8 1 7 1 7 1 6 1 7 1 5 1 6 1 5 1 4 1 5 1 5 1 4 1 5 1 4 1 3 1 4 1 3 1 3 1 3 1 3 1 3 1 3 1 2 1 2 1 2 1 2 1 2 1 1 1 2 1 1 1 1 1 1 1 2 1 1 1 1 1 1 1 0 1 1 1 1 1 0 1 0 1 1 1 0 1 0 1 1 1 0 1 0 1 0 1 0 1 1 1 0 1 0 1 0 1 0 1 0 1 0 1 0 1 0 1 0 1 0 1 0 1 0 1 0 1 0 1 0 1 0 1 0 1 0 1-1 1-17 1-45 1-73 1-101 1-124 1-140 1-146 1-141 1-123 1-95 1-58 1-11 1 12 1 12 1 32 1 38 1 41 1 50 1 48 1 45 1 41 1 38 1 37 1 34 1 32 1 29 1 29 1 27 1 26 1 26 1 26 1 24 1 23 1 21 1 21 1 19 1 18 1 17 1 17 1 15 1 14 1 14 1 13 1 12 1 12 1 11 1 12 1 12 1 11 1 10 1 9 1 9 1 9 1 8 1 7 1 7 1 6 1 7 1 5 1 6 1 5 1 4 1 5 1 5 1 4 1 5 1 4 1 3 1 4 1 3 1 3 1 3 1 3 1 3 1 3 1 2 1 2 1 2 1 2 1 2 1 1 1 2 1 1 1 1 1 1 1 2 1 1 1 1 1 1 1 0 1 1 1 1 1 0 1 0 1 1 1 0 1 0 1 1 1 0 1 0 1 0 1 0 1 1 1 0 1 0 1 0 1 0 1 0 1 0 1 0 1 0 1 0 1 0 1 0 1 0 1 0 1 0 1 0 1 0 1 0 1 0 1-1 1-17 1-45 1-73 1-101 1-124 1-140 1-146 1-141 1-123 1-95 1-58 1-11 1 12 1 12 1 32 1 38 1 41 1 50 1 48 1 45 1 41 1 38 1 37 1 34 1 32 1 29 1 29 1 27 1 26 1 26 1 26 1 24 1 23 1 21 1 21 1 19 1 18 1 17 1 17 1 15 1 14 1 14 1 13 1 12 1 12 1 11 1 12 1 12 1 11 1 10 1 9 1 9 1 9 1 8 1 7 1 7 1 6 1 7 1 5 1 6 1 5 1 4 1 5 1 5 1 4 1 5 1 4 1 3 1 4 1 3 1 3 1 3 1 3 1 3 1 3 1 2 1 2 1 2 1 2 1 2 1 1 1 2 1 1 1 1 1 1 1 2 1 1 1 1 1 1 1 0 1 1 1 1 1 0 1 0 1 1 1 0 1 0 1 1 1 0 1 0 1 0 1 0 1 1 1 0 1 0 1 0 1 0 1 0 1 0 1 0 1 0 1 0 1 0 1 0 1 0 1 0 1 0 1 0 1 0 1 0 1 0 1-1 1-17 1-45 1-73 1-101 1-124 1-140 1-146 1-141 1-123 1-95 1-58 1-11 1 12 1 12 1 32 1 38 1 41 1 50 1 48 1 45 1 41 1 38 1 37 1 34 1 32 1 29 1 29 1 27 1 26 1 26 1 26 1 24 1 23 1 21 1 21 1 19 1 18 1 17 1 17 1 15 1 14 1 14 1 13 1 12 1 12 1 11 1 12 1 12 1 11 1 10 1 9 1 9 1 9 1 8 1 7 1 7 1 6 1 7 1 5 1 6 1 5 1 4 1 5 1 5 1 4 1 5 1 4 1 3 1 4 1 3 1 3 1 3 1 3 1 3 1 3 1 2 1 2 1 2 1 2 1 2 1 1 1 2 1 1 1 1 1 1 1 2 1 1 1 1 1 1 1 0 1 1 1 1 1 0 1 0 1 1 1 0 1 0 1 1 1 0 1 0 1 0 1 0 1 1 1 0 1 0 1 0 1 0 1 0 1 0 1 0 1 0 1 0 1 0 1 0 1 0 1 0 1 0 1 0 1 0 1 0 1 0 1-1 1-17 1-45 1-73 1-101 1-124 1-140 1-146 1-141 1-123 1-95 1-58 1-11 1 12 1 12 1 32 1 38 1 41 1 50 1 48 1 45 1 41 1 38 1 37 1 34 1 32 1 29 1 29 1 27 1 26 1 26 1 26 1 24 1 23 1 21 1 21 1 19 1 18 1 17 1 17 1 15 1 14 1 14 1 13 1 12 1 12 1 11 1 12 1 12 1 11 1 10 1 9 1 9 1 9 1 8 1 7 1 7 1 6 1 7 1 5 1 6 1 5 1 4 1 5 1 5 1 4 1 5 1 4 1 3 1 4 1 3 1 3 1 3 1 3 1 3 1 3 1 2 1 2 1 2 1 2 1 2 1 1 1 2 1 1 1 1 1 1 1 2 1 1 1 1 1 1 1 0 1 1 1 1 1 0 1 0 1 1 1 0 1 0 1 1 1 0 1 0 1 0 1 0 1 1 1 0 1 0 1 0 1 0 1 0 1 0 1 0 1 0 1 0 1 0 1 0 1 0 1 0 1 0 1 0 1 0 1 0 1 0 1-1 1-17 1-45 1-73 1-101 1-124 1-140 1-146 1-141 1-123 1-95 1-58 1-11 1 12 1 12 1 32 1 38 1 41 1 50 1 48 1 45 1 41 1 38 1 37 1 34 1 32 1 29 1 29 1 27 1 26 1 26 1 26 1 24 1 23 1 21 1 21 1 19 1 18 1 17 1 17 1 15 1 14 1 14 1 13 1 12 1 12 1 11 1 12 1 12 1 11 1 10 1 9 1 9 1 9 1 8 1 7 1 7 1 6 1 7 1 5 1 6 1 5 1 4 1 5 1 5 1 4 1 5 1 4 1 3 1 4 1 3 1 3 1 3 1 3 1 3 1 3 1 2 1 2 1 2 1 2 1 2 1 1 1 2 1 1 1 1 1 1 1 2 1 1 1 1 1 1 1 0 1 1 1 1 1 0 1 0 1 1 1 0 1 0 1 1 1 0 1 0 1 0 1 0 1 1 1 0 1 0 1 0 1 0 1 0 1 0 1 0 1 0 1 0 1 0 1 0 1 0 1 0 1 0 1 0 1 0 1 0 1 0 1-1 1-17 1-45 1-73 1-101 1-124 1-140 1-146 1-141 1-123 1-95 1-58 1-11 1 12 1 12 1 32 1 38 1 41 1 50 1 48 1 45 1 41 1 38 1 37 1 34 1 32 1 29 1 29 1 27 1 26 1 26 1 26 1 24 1 23 1 21 1 21 1 19 1 18 1 17 1 17 1 15 1 14 1 14 1 13 1 12 1 12 1 11 1 12 1 12 1 11 1 10 1 9 1 9 1 9 1 8 1 7 1 7 1 6 1 7 1 5 1 6 1 5 1 4 1 5 1 5 1 4 1 5 1 4 1 3 1 4 1 3 1 3 1 3 1 3 1 3 1 3 1 2 1 2 1 2 1 2 1 2 1 1 1 2 1 1 1 1 1 1 1 2 1 1 1 1 1 1 1 0 1 1 1 1 1 0 1 0 1 1 1 0 1 0 1 1 1 0 1 0 1 0 1 0 1 1 1 0 1 0 1 0 1 0 1 0 1 0 1 0 1 0 1 0 1 0 1 0 1 0 1 0 1 0 1 0 1 0 1 0 1 0 1-1 1-17 1-45 1-73 1-101 1-124 1-140 1-146 1-141 1-123 1-95 1-58 1-11 1 12 1 12 1 32 1 38 1 41 1 50 1 48 1 45 1 41 1 38 1 37 1 34 1 32 1 29 1 29 1 27 1 26 1 26 1 26 1 24 1 23 1 21 1 21 1 19 1 18 1 17 1 17 1 15 1 14 1 14 1 13 1 12 1 12 1 11 1 12 1 12 1 11 1 10 1 9 1 9 1 9 1 8 1 7 1 7 1 6 1 7 1 5 1 6 1 5 1 4 1 5 1 5 1 4 1 5 1 4 1 3 1 4 1 3 1 3 1 3 1 3 1 3 1 3 1 2 1 2 1 2 1 2 1 2 1 1 1 2 1 1 1 1 1 1 1 2 1 1 1 1 1 1 1 0 1 1 1 1 1 0 1 0 1 1 1 0 1 0 1 1 1 0 1 0 1 0 1 0 1 1 1 0 1 0 1 0 1 0 1 0 1 0 1 0 1 0 1 0 1 0 1 0 1 0 1 0 1 0 1 0 1 0 1 0 1 0 1-1 1-17 1-45 1-73 1-101 1-124 1-140 1-146 1-141 1-123 1-95 1-58 1-11 1 12 1 12 1 32 1 38 1 41 1 50 1 48 1 45 1 41 1 38 1 37 1 34 1 32 1 29 1 29 1 27 1 26 1 26 1 26 1 24 1 23 1 21 1 21 1 19 1 18 1 17 1 17 1 15 1 14 1 14 1 13 1 12 1 12 1 11 1 12 1 12 1 11 1 10 1 9 1 9 1 9 1 8 1 7 1 7 1 6 1 7 1 5 1 6 1 5 1 4 1 5 1 5 1 4 1 5 1 4 1 3 1 4 1 3 1 3 1 3 1 3 1 3 1 3 1 2 1 2 1 2 1 2 1 2 1 1 1 2 1 1 1 1 1 1 1 2 1 1 1 1 1 1 1 0 1 1 1 1 1 0 1 0 1 1 1 0 1 0 1 1 1 0 1 0 1 0 1 0 1 1 1 0 1 0 1 0 1 0 1 0 1 0 1 0 1 0 1 0 1 0 1 0 1 0 1 0 1 0 1 0 1 0 1 0 1 0 1-1 1-17 1-45 1-73 1-101 1-124 1-140 1-146 1-141 1-123 1-95 1-58 1-11 1 12 1 12 1 32 1 38 1 41 1 50 1 48 1 45 1 41 1 38 1 37 1 34 1 32 1 29 1 29 1 27 1 26 1 26 1 26 1 24 1 23 1 21 1 21 1 19 1 18 1 17 1 17 1 15 1 14 1 14 1 13 1 12 1 12 1 11 1 12 1 12 1 11 1 10 1 9 1 9 1 9 1 8 1 7 1 7 1 6 1 7 1 5 1 6 1 5 1 4 1 5 1 5 1 4 1 5 1 4 1 3 1 4 1 3 1 3 1 3 1 3 1 3 1 3 1 2 1 2 1 2 1 2 1 2 1 1 1 2 1 1 1 1 1 1 1 2 1 1 1 1 1 1 1 0 1 1 1 1 1 0 1 0 1 1 1 0 1 0 1 1 1 0 1 0 1 0 1 0 1 1 1 0 1 0 1 0 1 0 1 0 1 0 1 0 1 0 1 0 1 0 1 0 1 0 1 0 1 0 1 0 1 0 1 0 1 0 1-1 1-17 1-45 1-73 1-101 1-124 1-140 1-146 1-141 1-123 1-95 1-58 1-11 1 12 1 12 1 32 1 38 1 41 1 50 1 48 1 45 1 41 1 38 1 37 1 34 1 32 1 29 1 29 1 27 1 26 1 26 1 26 1 24 1 23 1 21 1 21 1 19 1 18 1 17 1 17 1 15 1 14 1 14 1 13 1 12 1 12 1 11 1 12 1 12 1 11 1 10 1 9 1 9 1 9 1 8 1 7 1 7 1 6 1 7 1 5 1 6 1 5 1 4 1 5 1 5 1 4 1 5 1 4 1 3 1 4 1 3 1 3 1 3 1 3 1 3 1 3 1 2 1 2 1 2 1 2 1 2 1 1 1 2 1 1 1 1 1 1 1 2 1 1 1 1 1 1 1 0 1 1 1 1 1 0 1 0 1 1 1 0 1 0 1 1 1 0 1 0 1 0 1 0 1 1 1 0 1 0 1 0 1 0 1 0 1 0 1 0 1 0 1 0 1 0 1 0 1 0 1 0 1 0 1 0 1 0 1 0 1 0 1-1 1-17 1-45 1-73 1-101 1-124 1-140 1-146 1-141 1-123 1-95 1-58 1-11 1 12 1 12 1 32 1 38 1 41 1 50 1 48 1 45 1 41 1 38 1 37 1 34 1 32 1 29 1 29 1 27 1 26 1 26 1 26 1 24 1 23 1 21 1 21 1 19 1 18 1 17 1 17 1 15 1 14 1 14 1 13 1 12 1 12 1 11 1 12 1 12 1 11 1 10 1 9 1 9 1 9 1 8 1 7 1 7 1 6 1 7 1 5 1 6 1 5 1 4 1 5 1 5 1 4 1 5 1 4 1 3 1 4 1 3 1 3 1 3 1 3 1 3 1 3 1 2 1 2 1 2 1 2 1 2 1 1 1 2 1 1 1 1 1 1 1 2 1 1 1 1 1 1 1 0 1 1 1 1 1 0 1 0 1 1 1 0 1 0 1 1 1 0 1 0 1 0 1 0 1 1 1 0 1 0 1 0 1 0 1 0 1 0 1 0 1 0 1 0 1 0 1 0 1 0 1 0 1 0 1 0 1 0 1 0 1 0 1-1 1-17 1-45 1-73 1-101 1-124 1-140 1-146 1-141 1-123 1-95 1-58 1-11 1 12 1 12 1 32 1 38 1 41 1 50 1 48 1 45 1 41 1 38 1 37 1 34 1 32 1 29 1 29 1 27 1 26 1 26 1 26 1 24 1 23 1 21 1 21 1 19 1 18 1 17 1 17 1 15 1 14 1 14 1 13 1 12 1 12 1 11 1 12 1 12 1 11 1 10 1 9 1 9 1 9 1 8 1 7 1 7 1 6 1 7 1 5 1 6 1 5 1 4 1 5 1 5 1 4 1 5 1 4 1 3 1 4 1 3 1 3 1 3 1 3 1 3 1 3 1 2 1 2 1 2 1 2 1 2 1 1 1 2 1 1 1 1 1 1 1 2 1 1 1 1 1 1 1 0 1 1 1 1 1 0 1 0 1 1 1 0 1 0 1 1 1 0 1 0 1 0 1 0 1 1 1 0 1 0 1 0 1 0 1 0 1 0 1 0 1 0 1 0 1 0 1 0 1 0 1 0 1 0 1 0 1 0 1 0 1 0 1-1 1-17 1-45 1-73 1-101 1-124 1-140 1-146 1-141 1-123 1-95 1-58 1-11 1 12 1 12 1 32 1 38 1 41 1 50 1 48 1 45 1 41 1 38 1 37 1 34 1 32 1 29 1 29 1 27 1 26 1 26 1 26 1 24 1 23 1 21 1 21 1 19 1 18 1 17 1 17 1 15 1 14 1 14 1 13 1 12 1 12 1 11 1 12 1 12 1 11 1 10 1 9 1 9 1 9 1 8 1 7 1 7 1 6 1 7 1 5 1 6 1 5 1 4 1 5 1 5 1 4 1 5 1 4 1 3 1 4 1 3 1 3 1 3 1 3 1 3 1 3 1 2 1 2 1 2 1 2 1 2 1 1 1 2 1 1 1 1 1 1 1 2 1 1 1 1 1 1 1 0 1 1 1 1 1 0 1 0 1 1 1 0 1 0 1 1 1 0 1 0 1 0 1 0 1 1 1 0 1 0 1 0 1 0 1 0 1 0 1 0 1 0 1 0 1 0 1 0 1 0 1 0 1 0 1 0 1 0 1 0 1 0 1-1 1-17 1-45 1-73 1-101 1-124 1-140 1-146 1-141 1-123 1-95 1-58 1-11 1 12 1 12 1 32 1 38 1 41 1 50 1 48 1 45 1 41 1 38 1 37 1 34 1 32 1 29 1 29 1 27 1 26 1 26 1 26 1 24 1 23 1 21 1 21 1 19 1 18 1 17 1 17 1 15 1 14 1 14 1 13 1 12 1 12 1 11 1 12 1 12 1 11 1 10 1 9 1 9 1 9 1 8 1 7 1 7 1 6 1 7 1 5 1 6 1 5 1 4 1 5 1 5 1 4 1 5 1 4 1 3 1 4 1 3 1 3 1 3 1 3 1 3 1 3 1 2 1 2 1 2 1 2 1 2 1 1 1 2 1 1 1 1 1 1 1 2 1 1 1 1 1 1 1 0 1 1 1 1 1 0 1 0 1 1 1 0 1 0 1 1 1 0 1 0 1 0 1 0 1 1 1 0 1 0 1 0 1 0 1 0 1 0 1 0 1 0 1 0 1 0 1 0 1 0 1 0 1 0 1 0 1 0 1 0 1 0 1-1 1-17 1-45 1-73 1-101 1-124 1-140 1-146 1-141 1-123 1-95 1-58 1-11 1 12 1 12 1 32 1 38 1 41 1 50 1 48 1 45 1 41 1 38 1 37 1 34 1 32 1 29 1 29 1 27 1 26 1 26 1 26 1 24 1 23 1 21 1 21 1 19 1 18 1 17 1 17 1 15 1 14 1 14 1 13 1 12 1 12 1 11 1 12 1 12 1 11 1 10 1 9 1 9 1 9 1 8 1 7 1 7 1 6 1 7 1 5 1 6 1 5 1 4 1 5 1 5 1 4 1 5 1 4 1 3 1 4 1 3 1 3 1 3 1 3 1 3 1 3 1 2 1 2 1 2 1 2 1 2 1 1 1 2 1 1 1 1 1 1 1 2 1 1 1 1 1 1 1 0 1 1 1 1 1 0 1 0 1 1 1 0 1 0 1 1 1 0 1 0 1 0 1 0 1 1 1 0 1 0 1 0 1 0 1 0 1 0 1 0 1 0 1 0 1 0 1 0 1 0 1 0 1 0 1 0 1 0 1 0 1 0 1-1 1-17 1-45 1-73 1-101 1-124 1-140 1-146 1-141 1-123 1-95 1-58 1-11 1 12 1 12 1 32 1 38 1 41 1 50 1 48 1 45 1 41 1 38 1 37 1 34 1 32 1 29 1 29 1 27 1 26 1 26 1 26 1 24 1 23 1 21 1 21 1 19 1 18 1 17 1 17 1 15 1 14 1 14 1 13 1 12 1 12 1 11 1 12 1 12 1 11 1 10 1 9 1 9 1 9 1 8 1 7 1 7 1 6 1 7 1 5 1 6 1 5 1 4 1 5 1 5 1 4 1 5 1 4 1 3 1 4 1 3 1 3 1 3 1 3 1 3 1 3 1 2 1 2 1 2 1 2 1 2 1 1 1 2 1 1 1 1 1 1 1 2 1 1 1 1 1 1 1 0 1 1 1 1 1 0 1 0 1 1 1 0 1 0 1 1 1 0 1 0 1 0 1 0 1 1 1 0 1 0 1 0 1 0 1 0 1 0 1 0 1 0 1 0 1 0 1 0 1 0 1 0 1 0 1 0 1 0 1 0 1 0 1-1 1-17 1-45 1-73 1-101 1-124 1-140 1-146 1-141 1-123 1-95 1-58 1-11 1 12 1 12 1 32 1 38 1 41 1 50 1 48 1 45 1 41 1 38 1 37 1 34 1 32 1 29 1 29 1 27 1 26 1 26 1 26 1 24 1 23 1 21 1 21 1 19 1 18 1 17 1 17 1 15 1 14 1 14 1 13 1 12 1 12 1 11 1 12 1 12 1 11 1 10 1 9 1 9 1 9 1 8 1 7 1 7 1 6 1 7 1 5 1 6 1 5 1 4 1 5 1 5 1 4 1 5 1 4 1 3 1 4 1 3 1 3 1 3 1 3 1 3 1 3 1 2 1 2 1 2 1 2 1 2 1 1 1 2 1 1 1 1 1 1 1 2 1 1 1 1 1 1 1 0 1 1 1 1 1 0 1 0 1 1 1 0 1 0 1 1 1 0 1 0 1 0 1 0 1 1 1 0 1 0 1 0 1 0 1 0 1 0 1 0 1 0 1 0 1 0 1 0 1 0 1 0 1 0 1 0 1 0 1 0 1 0 1-1 1-17 1-45 1-73 1-101 1-124 1-140 1-146 1-141 1-123 1-95 1-58 1-11 1 12 1 12 1 32 1 38 1 41 1 50 1 48 1 45 1 41 1 38 1 37 1 34 1 32 1 29 1 29 1 27 1 26 1 26 1 26 1 24 1 23 1 21 1 21 1 19 1 18 1 17 1 17 1 15 1 14 1 14 1 13 1 12 1 12 1 11 1 12 1 12 1 11 1 10 1 9 1 9 1 9 1 8 1 7 1 7 1 6 1 7 1 5 1 6 1 5 1 4 1 5 1 5 1 4 1 5 1 4 1 3 1 4 1 3 1 3 1 3 1 3 1 3 1 3 1 2 1 2 1 2 1 2 1 2 1 1 1 2 1 1 1 1 1 1 1 2 1 1 1 1 1 1 1 0 1 1 1 1 1 0 1 0 1 1 1 0 1 0 1 1 1 0 1 0 1 0 1 0 1 1 1 0 1 0 1 0 1 0 1 0 1 0 1 0 1 0 1 0 1 0 1 0 1 0 1 0 1 0 1 0 1 0 1 0 1 0 1-1 1-17 1-45 1-73 1-101 1-124 1-140 1-146 1-141 1-123 1-95 1-58 1-11 1 12 1 12 1 32 1 38 1 41 1 50 1 48 1 45 1 41 1 38 1 37 1 34 1 32 1 29 1 29 1 27 1 26 1 26 1 26 1 24 1 23 1 21 1 21 1 19 1 18 1 17 1 17 1 15 1 14 1 14 1 13 1 12 1 12 1 11 1 12 1 12 1 11 1 10 1 9 1 9 1 9 1 8 1 7 1 7 1 6 1 7 1 5 1 6 1 5 1 4 1 5 1 5 1 4 1 5 1 4 1 3 1 4 1 3 1 3 1 3 1 3 1 3 1 3 1 2 1 2 1 2 1 2 1 2 1 1 1 2 1 1 1 1 1 1 1 2 1 1 1 1 1 1 1 0 1 1 1 1 1 0 1 0 1 1 1 0 1 0 1 1 1 0 1 0 1 0 1 0 1 1 1 0 1 0 1 0 1 0 1 0 1 0 1 0 1 0 1 0 1 0 1 0 1 0 1 0 1 0 1 0 1 0 1 0 1 0 1-1 1-17 1-45 1-73 1-101 1-124 1-140 1-146 1-141 1-123 1-95 1-58 1-11 1 12 1 12 1 32 1 38 1 41 1 50 1 48 1 45 1 41 1 38 1 37 1 34 1 32 1 29 1 29 1 27 1 26 1 26 1 26 1 24 1 23 1 21 1 21 1 19 1 18 1 17 1 17 1 15 1 14 1 14 1 13 1 12 1 12 1 11 1 12 1 12 1 11 1 10 1 9 1 9 1 9 1 8 1 7 1 7 1 6 1 7 1 5 1 6 1 5 1 4 1 5 1 5 1 4 1 5 1 4 1 3 1 4 1 3 1 3 1 3 1 3 1 3 1 3 1 2 1 2 1 2 1 2 1 2 1 1 1 2 1 1 1 1 1 1 1 2 1 1 1 1 1 1 1 0 1 1 1 1 1 0 1 0 1 1 1 0 1 0 1 1 1 0 1 0 1 0 1 0 1 1 1 0 1 0 1 0 1 0 1 0 1 0 1 0 1 0 1 0 1 0 1 0 1 0 1 0 1 0 1 0 1 0 1 0 1 0 1-1 1-17 1-45 1-73 1-101 1-124 1-140 1-146 1-141 1-123 1-95 1-58 1-11 1 12 1 12 1 32 1 38 1 41 1 50 1 48 1 45 1 41 1 38 1 37 1 34 1 32 1 29 1 29 1 27 1 26 1 26 1 26 1 24 1 23 1 21 1 21 1 19 1 18 1 17 1 17 1 15 1 14 1 14 1 13 1 12 1 12 1 11 1 12 1 12 1 11 1 10 1 9 1 9 1 9 1 8 1 7 1 7 1 6 1 7 1 5 1 6 1 5 1 4 1 5 1 5 1 4 1 5 1 4 1 3 1 4 1 3 1 3 1 3 1 3 1 3 1 3 1 2 1 2 1 2 1 2 1 2 1 1 1 2 1 1 1 1 1 1 1 2 1 1 1 1 1 1 1 0 1 1 1 1 1 0 1 0 1 1 1 0 1 0 1 1 1 0 1 0 1 0 1 0 1 1 1 0 1 0 1 0 1 0 1 0 1 0 1 0 1 0 1 0 1 0 1 0 1 0 1 0 1 0 1 0 1 0 1 0 1 0 1-1 1-17 1-45 1-73 1-101 1-124 1-140 1-146 1-141 1-123 1-95 1-58 1-11 1 12 1 12 1 32 1 38 1 41 1 50 1 48 1 45 1 41 1 38 1 37 1 34 1 32 1 29 1 29 1 27 1 26 1 26 1 26 1 24 1 23 1 21 1 21 1 19 1 18 1 17 1 17 1 15 1 14 1 14 1 13 1 12 1 12 1 11 1 12 1 12 1 11 1 10 1 9 1 9 1 9 1 8 1 7 1 7 1 6 1 7 1 5 1 6 1 5 1 4 1 5 1 5 1 4 1 5 1 4 1 3 1 4 1 3 1 3 1 3 1 3 1 3 1 3 1 2 1 2 1 2 1 2 1 2 1 1 1 2 1 1 1 1 1 1 1 2 1 1 1 1 1 1 1 0 1 1 1 1 1 0 1 0 1 1 1 0 1 0 1 1 1 0 1 0 1 0 1 0 1 1 1 0 1 0 1 0 1 0 1 0 1 0 1 0 1 0 1 0 1 0 1 0 1 0 1 0 1 0 1 0 1 0 1 0 1 0 1-1 1-17 1-45 1-73 1-101 1-124 1-140 1-146 1-141 1-123 1-95 1-58 1-11 1 12 1 12 1 32 1 38 1 41 1 50 1 48 1 45 1 41 1 38 1 37 1 34 1 32 1 29 1 29 1 27 1 26 1 26 1 26 1 24 1 23 1 21 1 21 1 19 1 18 1 17 1 17 1 15 1 14 1 14 1 13 1 12 1 12 1 11 1 12 1 12 1 11 1 10 1 9 1 9 1 9 1 8 1 7 1 7 1 6 1 7 1 5 1 6 1 5 1 4 1 5 1 5 1 4 1 5 1 4 1 3 1 4 1 3 1 3 1 3 1 3 1 3 1 3 1 2 1 2 1 2 1 2 1 2 1 1 1 2 1 1 1 1 1 1 1 2 1 1 1 1 1 1 1 0 1 1 1 1 1 0 1 0 1 1 1 0 1 0 1 1 1 0 1 0 1 0 1 0 1 1 1 0 1 0 1 0 1 0 1 0 1 0 1 0 1 0 1 0 1 0 1 0 1 0 1 0 1 0 1 0 1 0 1 0 1 0 1-1 1-17 1-45 1-73 1-101 1-124 1-140 1-146 1-141 1-123 1-95 1-58 1-11 1 12 1 12 1 32 1 38 1 41 1 50 1 48 1 45 1 41 1 38 1 37 1 34 1 32 1 29 1 29 1 27 1 26 1 26 1 26 1 24 1 23 1 21 1 21 1 19 1 18 1 17 1 17 1 15 1 14 1 14 1 13 1 12 1 12 1 11 1 12 1 12 1 11 1 10 1 9 1 9 1 9 1 8 1 7 1 7 1 6 1 7 1 5 1 6 1 5 1 4 1 5 1 5 1 4 1 5 1 4 1 3 1 4 1 3 1 3 1 3 1 3 1 3 1 3 1 2 1 2 1 2 1 2 1 2 1 1 1 2 1 1 1 1 1 1 1 2 1 1 1 1 1 1 1 0 1 1 1 1 1 0 1 0 1 1 1 0 1 0 1 1 1 0 1 0 1 0 1 0 1 1 1 0 1 0 1 0 1 0 1 0 1 0 1 0 1 0 1 0 1 0 1 0 1 0 1 0 1 0 1 0 1 0 1 0 1 0 1-1 1-17 1-45 1-73 1-101 1-124 1-140 1-146 1-141 1-123 1-95 1-58 1-11 1 12 1 12 1 32 1 38 1 41 1 50 1 48 1 45 1 41 1 38 1 37 1 34 1 32 1 29 1 29 1 27 1 26 1 26 1 26 1 24 1 23 1 21 1 21 1 19 1 18 1 17 1 17 1 15 1 14 1 14 1 13 1 12 1 12 1 11 1 12 1 12 1 11 1 10 1 9 1 9 1 9 1 8 1 7 1 7 1 6 1 7 1 5 1 6 1 5 1 4 1 5 1 5 1 4 1 5 1 4 1 3 1 4 1 3 1 3 1 3 1 3 1 3 1 3 1 2 1 2 1 2 1 2 1 2 1 1 1 2 1 1 1 1 1 1 1 2 1 1 1 1 1 1 1 0 1 1 1 1 1 0 1 0 1 1 1 0 1 0 1 1 1 0 1 0 1 0 1 0 1 1 1 0 1 0 1 0 1 0 1 0 1 0 1 0 1 0 1 0 1 0 1 0 1 0 1 0 1 0 1 0 1 0 1 0 1 0 1-1 1-17 1-45 1-73 1-101 1-124 1-140 1-146 1-141 1-123 1-95 1-58 1-11 1 12 1 12 1 32 1 38 1 41 1 50 1 48 1 45 1 41 1 38 1 37 1 34 1 32 1 29 1 29 1 27 1 26 1 26 1 26 1 24 1 23 1 21 1 21 1 19 1 18 1 17 1 17 1 15 1 14 1 14 1 13 1 12 1 12 1 11 1 12 1 12 1 11 1 10 1 9 1 9 1 9 1 8 1 7 1 7 1 6 1 7 1 5 1 6 1 5 1 4 1 5 1 5 1 4 1 5 1 4 1 3 1 4 1 3 1 3 1 3 1 3 1 3 1 3 1 2 1 2 1 2 1 2 1 2 1 1 1 2 1 1 1 1 1 1 1 2 1 1 1 1 1 1 1 0 1 1 1 1 1 0 1 0 1 1 1 0 1 0 1 1 1 0 1 0 1 0 1 0 1 1 1 0 1 0 1 0 1 0 1 0 1 0 1 0 1 0 1 0 1 0 1 0 1 0 1 0 1 0 1 0 1 0 1 0 1 0 1-1 1-17 1-45 1-73 1-101 1-124 1-140 1-146 1-141 1-123 1-95 1-58 1-11 1 12 1 12 1 32 1 38 1 41 1 50 1 48 1 45 1 41 1 38 1 37 1 34 1 32 1 29 1 29 1 27 1 26 1 26 1 26 1 24 1 23 1 21 1 21 1 19 1 18 1 17 1 17 1 15 1 14 1 14 1 13 1 12 1 12 1 11 1 12 1 12 1 11 1 10 1 9 1 9 1 9 1 8 1 7 1 7 1 6 1 7 1 5 1 6 1 5 1 4 1 5 1 5 1 4 1 5 1 4 1 3 1 4 1 3 1 3 1 3 1 3 1 3 1 3 1 2 1 2 1 2 1 2 1 2 1 1 1 2 1 1 1 1 1 1 1 2 1 1 1 1 1 1 1 0 1 1 1 1 1 0 1 0 1 1 1 0 1 0 1 1 1 0 1 0 1 0 1 0 1 1 1 0 1 0 1 0 1 0 1 0 1 0 1 0 1 0 1 0 1 0 1 0 1 0 1 0 1 0 1 0 1 0 1 0 1 0 1-1 1-17 1-45 1-73 1-101 1-124 1-140 1-146 1-141 1-123 1-95 1-58 1-11 1 12 1 12 1 32 1 38 1 41 1 50 1 48 1 45 1 41 1 38 1 37 1 34 1 32 1 29 1 29 1 27 1 26 1 26 1 26 1 24 1 23 1 21 1 21 1 19 1 18 1 17 1 17 1 15 1 14 1 14 1 13 1 12 1 12 1 11 1 12 1 12 1 11 1 10 1 9 1 9 1 9 1 8 1 7 1 7 1 6 1 7 1 5 1 6 1 5 1 4 1 5 1 5 1 4 1 5 1 4 1 3 1 4 1 3 1 3 1 3 1 3 1 3 1 3 1 2 1 2 1 2 1 2 1 2 1 1 1 2 1 1 1 1 1 1 1 2 1 1 1 1 1 1 1 0 1 1 1 1 1 0 1 0 1 1 1 0 1 0 1 1 1 0 1 0 1 0 1 0 1 1 1 0 1 0 1 0 1 0 1 0 1 0 1 0 1 0 1 0 1 0 1 0 1 0 1 0 1 0 1 0 1 0 1 0 1 0 1-1 1-17 1-45 1-73 1-101 1-124 1-140 1-146 1-141 1-123 1-95 1-58 1-11 1 12 1 12 1 32 1 38 1 41 1 50 1 48 1 45 1 41 1 38 1 37 1 34 1 32 1 29 1 29 1 27 1 26 1 26 1 26 1 24 1 23 1 21 1 21 1 19 1 18 1 17 1 17 1 15 1 14 1 14 1 13 1 12 1 12 1 11 1 12 1 12 1 11 1 10 1 9 1 9 1 9 1 8 1 7 1 7 1 6 1 7 1 5 1 6 1 5 1 4 1 5 1 5 1 4 1 5 1 4 1 3 1 4 1 3 1 3 1 3 1 3 1 3 1 3 1 2 1 2 1 2 1 2 1 2 1 1 1 2 1 1 1 1 1 1 1 2 1 1 1 1 1 1 1 0 1 1 1 1 1 0 1 0 1 1 1 0 1 0 1 1 1 0 1 0 1 0 1 0 1 1 1 0 1 0 1 0 1 0 1 0 1 0 1 0 1 0 1 0 1 0 1 0 1 0 1 0 1 0 1 0 1 0 1 0 1 0 1-1 1-17 1-45 1-73 1-101 1-124 1-140 1-146 1-141" fill="none" stroke="#0000ff" stroke-width="1.5" stroke-linejoin="round" vector-effect="non-scaling-stroke"/></g>
<g fill="#262626" stroke="#262626" stroke-width="0.3">
<text x="902.00" y="357.10" font-size="22" text-anchor="middle" font-family='"Liberation Sans", Arial, Helvetica, sans-serif'>0</text>
<text x="1015.92" y="357.10" font-size="22" text-anchor="middle" font-family='"Liberation Sans", Arial, Helvetica, sans-serif'>0.05</text>
<text x="1129.83" y="357.10" font-size="22" text-anchor="middle" font-family='"Liberation Sans", Arial, Helvetica, sans-serif'>0.1</text>
<text x="1243.75" y="357.10" font-size="22" text-anchor="middle" font-family='"Liberation Sans", Arial, Helvetica, sans-serif'>0.15</text>
<text x="1357.67" y="357.10" font-size="22" text-anchor="middle" font-family='"Liberation Sans", Arial, Helvetica, sans-serif'>0.2</text>
<text x="1471.58" y="357.10" font-size="22" text-anchor="middle" font-family='"Liberation Sans", Arial, Helvetica, sans-serif'>0.25</text>
<text x="1585.50" y="357.10" font-size="22" text-anchor="middle" font-family='"Liberation Sans", Arial, Helvetica, sans-serif'>0.3</text>
<text x="894.20" y="278.00" font-size="22" text-anchor="end" font-family='"Liberation Sans", Arial, Helvetica, sans-serif'>0.5</text>
<text x="894.20" y="220.97" font-size="22" text-anchor="end" font-family='"Liberation Sans", Arial, Helvetica, sans-serif'>1</text>
<text x="894.20" y="163.95" font-size="22" text-anchor="end" font-family='"Liberation Sans", Arial, Helvetica, sans-serif'>1.5</text>
<text x="894.20" y="106.92" font-size="22" text-anchor="end" font-family='"Liberation Sans", Arial, Helvetica, sans-serif'>2</text>
<text x="894.20" y="49.90" font-size="22" text-anchor="end" font-family='"Liberation Sans", Arial, Helvetica, sans-serif'>2.5</text>
<text x="1243.15" y="389.20" font-size="24.2" text-anchor="middle" font-family='"Liberation Sans", Arial, Helvetica, sans-serif'>Time[S]</text>
<text transform="translate(850.90 165.65) rotate(-90)" font-size="24.3" text-anchor="middle" textLength="174.7" lengthAdjust="spacing" font-family='"Liberation Sans", Arial, Helvetica, sans-serif'>Amplitude[m/s<tspan dy="-11" dx="0.4" font-size="19.4">2</tspan><tspan dy="11" dx="0.6">]</tspan></text>
</g>
<rect x="1292.40" y="9.70" width="282.10" height="43.90" fill="#fff" stroke="#262626" stroke-width="1.1"/>
<path d="M1299.40 31.60H1370.40" stroke="#0000ff" stroke-width="1.1" fill="none"/>
<text x="1376.60" y="41.80" font-size="27.5" text-anchor="start" font-family='"Liberation Sans", Arial, Helvetica, sans-serif' textLength="188.4" lengthAdjust="spacing" fill="#000" stroke="#000" stroke-width="0.3">Slice waveform</text>
<clipPath id="cbL"><rect x="84.15" y="426.70" width="684.85" height="324.20"/></clipPath>
<g stroke="#262626" stroke-width="1.3" fill="none" stroke-linecap="butt">
<rect x="84.75" y="427.30" width="683.65" height="323.00"/>
<path d="M84.75 750.30v-6.90M84.75 427.30v6.90M168.15 750.30v-6.90M168.15 427.30v6.90M251.55 750.30v-6.90M251.55 427.30v6.90M334.96 750.30v-6.90M334.96 427.30v6.90M418.36 750.30v-6.90M418.36 427.30v6.90M501.76 750.30v-6.90M501.76 427.30v6.90M585.16 750.30v-6.90M585.16 427.30v6.90M668.57 750.30v-6.90M668.57 427.30v6.90M751.97 750.30v-6.90M751.97 427.30v6.90M84.75 710.60h6.90M768.40 710.60h-6.90M84.75 667.93h6.90M768.40 667.93h-6.90M84.75 625.27h6.90M768.40 625.27h-6.90M84.75 582.60h6.90M768.40 582.60h-6.90M84.75 539.93h6.90M768.40 539.93h-6.90M84.75 497.27h6.90M768.40 497.27h-6.90M84.75 454.60h6.90M768.40 454.60h-6.90"/>
</g>
<g clip-path="url(#cbL)"><path transform="translate(84.750 427.30) scale(0.068363 0.5)" d="M0 323l1-196 1 464 1-539 1 404 1-268 1 237 1-235 1 315 1-377 1 282 1-183 1 162 1-161 1 216 1-259 1 194 1-126 1 112 1-111 1 148 1-177 1 132 1-86 1 77 1-76 1 101 1-121 1 91 1-59 1 52 1-52 1 70 1-84 1 63 1-41 1 36 1-36 1 48 1-57 1 43 1-28 1 25 1-25 1 33 1-39 1 29 1-19 1 17 1-17 1 22 1-26 1 20 1-13 1 11 1-11 1 15 1-18 1 13 1-8 1 7 1-7 1 10 1-13 1 10 1-6 1 5 1-5 1 7 1-9 1 7 1-4 1 3 1-3 1 5 1-6 1 4 1-3 1 3 1-3 1 4 1-4 1 3 1-2 1 1 1-1 1 2 1-3 1 2 1-1 1 1 1-1 1 2 1-2 1 1 1-1 1 1 1-1 1 1 1-1 1 1 1-1 1 1 1-1 1 1 1-1 1 1 1-1 1 1 1-1 1 1 1-1 1 1 1-1 1 1 1-1 1 1 1-1 1 1 1 0 1 0 1 0 1 12 1-196 1 464 1-539 1 404 1-268 1 237 1-235 1 315 1-377 1 282 1-183 1 162 1-161 1 216 1-259 1 194 1-126 1 112 1-111 1 148 1-177 1 132 1-86 1 77 1-76 1 101 1-121 1 91 1-59 1 52 1-52 1 70 1-84 1 63 1-41 1 36 1-36 1 48 1-57 1 43 1-28 1 25 1-25 1 33 1-39 1 29 1-19 1 17 1-17 1 22 1-26 1 20 1-13 1 11 1-11 1 15 1-18 1 13 1-8 1 7 1-7 1 10 1-13 1 10 1-6 1 5 1-5 1 7 1-9 1 7 1-4 1 3 1-3 1 5 1-6 1 4 1-3 1 3 1-3 1 4 1-4 1 3 1-2 1 1 1-1 1 2 1-3 1 2 1-1 1 1 1-1 1 2 1-2 1 1 1-1 1 1 1-1 1 1 1-1 1 1 1-1 1 1 1-1 1 1 1-1 1 1 1-1 1 1 1-1 1 1 1-1 1 1 1-1 1 1 1-1 1 1 1-1 1 1 1 0 1 0 1 0 1 12 1-196 1 464 1-539 1 404 1-268 1 237 1-235 1 315 1-377 1 282 1-183 1 162 1-161 1 216 1-259 1 194 1-126 1 112 1-111 1 148 1-177 1 132 1-86 1 77 1-76 1 101 1-121 1 91 1-59 1 52 1-52 1 70 1-84 1 63 1-41 1 36 1-36 1 48 1-57 1 43 1-28 1 25 1-25 1 33 1-39 1 29 1-19 1 17 1-17 1 22 1-26 1 20 1-13 1 11 1-11 1 15 1-18 1 13 1-8 1 7 1-7 1 10 1-13 1 10 1-6 1 5 1-5 1 7 1-9 1 7 1-4 1 3 1-3 1 5 1-6 1 4 1-3 1 3 1-3 1 4 1-4 1 3 1-2 1 1 1-1 1 2 1-3 1 2 1-1 1 1 1-1 1 2 1-2 1 1 1-1 1 1 1-1 1 1 1-1 1 1 1-1 1 1 1-1 1 1 1-1 1 1 1-1 1 1 1-1 1 1 1-1 1 1 1-1 1 1 1-1 1 1 1-1 1 1 1 0 1 0 1 0 1 12 1-196 1 464 1-539 1 404 1-268 1 237 1-235 1 315 1-377 1 282 1-183 1 162 1-161 1 216 1-259 1 194 1-126 1 112 1-111 1 148 1-177 1 132 1-86 1 77 1-76 1 101 1-121 1 91 1-59 1 52 1-52 1 70 1-84 1 63 1-41 1 36 1-36 1 48 1-57 1 43 1-28 1 25 1-25 1 33 1-39 1 29 1-19 1 17 1-17 1 22 1-26 1 20 1-13 1 11 1-11 1 15 1-18 1 13 1-8 1 7 1-7 1 10 1-13 1 10 1-6 1 5 1-5 1 7 1-9 1 7 1-4 1 3 1-3 1 5 1-6 1 4 1-3 1 3 1-3 1 4 1-4 1 3 1-2 1 1 1-1 1 2 1-3 1 2 1-1 1 1 1-1 1 2 1-2 1 1 1-1 1 1 1-1 1 1 1-1 1 1 1-1 1 1 1-1 1 1 1-1 1 1 1-1 1 1 1-1 1 1 1-1 1 1 1-1 1 1 1-1 1 1 1-1 1 1 1 0 1 0 1 0 1 12 1-196 1 464 1-539 1 404 1-268 1 237 1-235 1 315 1-377 1 282 1-183 1 162 1-161 1 216 1-259 1 194 1-126 1 112 1-111 1 148 1-177 1 132 1-86 1 77 1-76 1 101 1-121 1 91 1-59 1 52 1-52 1 70 1-84 1 63 1-41 1 36 1-36 1 48 1-57 1 43 1-28 1 25 1-25 1 33 1-39 1 29 1-19 1 17 1-17 1 22 1-26 1 20 1-13 1 11 1-11 1 15 1-18 1 13 1-8 1 7 1-7 1 10 1-13 1 10 1-6 1 5 1-5 1 7 1-9 1 7 1-4 1 3 1-3 1 5 1-6 1 4 1-3 1 3 1-3 1 4 1-4 1 3 1-2 1 1 1-1 1 2 1-3 1 2 1-1 1 1 1-1 1 2 1-2 1 1 1-1 1 1 1-1 1 1 1-1 1 1 1-1 1 1 1-1 1 1 1-1 1 1 1-1 1 1 1-1 1 1 1-1 1 1 1-1 1 1 1-1 1 1 1-1 1 1 1 0 1 0 1 0 1 12 1-196 1 464 1-539 1 404 1-268 1 237 1-235 1 315 1-377 1 282 1-183 1 162 1-161 1 216 1-259 1 194 1-126 1 112 1-111 1 148 1-177 1 132 1-86 1 77 1-76 1 101 1-121 1 91 1-59 1 52 1-52 1 70 1-84 1 63 1-41 1 36 1-36 1 48 1-57 1 43 1-28 1 25 1-25 1 33 1-39 1 29 1-19 1 17 1-17 1 22 1-26 1 20 1-13 1 11 1-11 1 15 1-18 1 13 1-8 1 7 1-7 1 10 1-13 1 10 1-6 1 5 1-5 1 7 1-9 1 7 1-4 1 3 1-3 1 5 1-6 1 4 1-3 1 3 1-3 1 4 1-4 1 3 1-2 1 1 1-1 1 2 1-3 1 2 1-1 1 1 1-1 1 2 1-2 1 1 1-1 1 1 1-1 1 1 1-1 1 1 1-1 1 1 1-1 1 1 1-1 1 1 1-1 1 1 1-1 1 1 1-1 1 1 1-1 1 1 1-1 1 1 1-1 1 1 1 0 1 0 1 0 1 12 1-196 1 464 1-539 1 404 1-268 1 237 1-235 1 315 1-377 1 282 1-183 1 162 1-161 1 216 1-259 1 194 1-126 1 112 1-111 1 148 1-177 1 132 1-86 1 77 1-76 1 101 1-121 1 91 1-59 1 52 1-52 1 70 1-84 1 63 1-41 1 36 1-36 1 48 1-57 1 43 1-28 1 25 1-25 1 33 1-39 1 29 1-19 1 17 1-17 1 22 1-26 1 20 1-13 1 11 1-11 1 15 1-18 1 13 1-8 1 7 1-7 1 10 1-13 1 10 1-6 1 5 1-5 1 7 1-9 1 7 1-4 1 3 1-3 1 5 1-6 1 4 1-3 1 3 1-3 1 4 1-4 1 3 1-2 1 1 1-1 1 2 1-3 1 2 1-1 1 1 1-1 1 2 1-2 1 1 1-1 1 1 1-1 1 1 1-1 1 1 1-1 1 1 1-1 1 1 1-1 1 1 1-1 1 1 1-1 1 1 1-1 1 1 1-1 1 1 1-1 1 1 1-1 1 1 1 0 1 0 1 0 1 12 1-196 1 464 1-539 1 404 1-268 1 237 1-235 1 315 1-377 1 282 1-183 1 162 1-161 1 216 1-259 1 194 1-126 1 112 1-111 1 148 1-177 1 132 1-86 1 77 1-76 1 101 1-121 1 91 1-59 1 52 1-52 1 70 1-84 1 63 1-41 1 36 1-36 1 48 1-57 1 43 1-28 1 25 1-25 1 33 1-39 1 29 1-19 1 17 1-17 1 22 1-26 1 20 1-13 1 11 1-11 1 15 1-18 1 13 1-8 1 7 1-7 1 10 1-13 1 10 1-6 1 5 1-5 1 7 1-9 1 7 1-4 1 3 1-3 1 5 1-6 1 4 1-3 1 3 1-3 1 4 1-4 1 3 1-2 1 1 1-1 1 2 1-3 1 2 1-1 1 1 1-1 1 2 1-2 1 1 1-1 1 1 1-1 1 1 1-1 1 1 1-1 1 1 1-1 1 1 1-1 1 1 1-1 1 1 1-1 1 1 1-1 1 1 1-1 1 1 1-1 1 1 1-1 1 1 1 0 1 0 1 0 1 12 1-196 1 464 1-539 1 404 1-268 1 237 1-235 1 315 1-377 1 282 1-183 1 162 1-161 1 216 1-259 1 194 1-126 1 112 1-111 1 148 1-177 1 132 1-86 1 77 1-76 1 101 1-121 1 91 1-59 1 52 1-52 1 70 1-84 1 63 1-41 1 36 1-36 1 48 1-57 1 43 1-28 1 25 1-25 1 33 1-39 1 29 1-19 1 17 1-17 1 22 1-26 1 20 1-13 1 11 1-11 1 15 1-18 1 13 1-8 1 7 1-7 1 10 1-13 1 10 1-6 1 5 1-5 1 7 1-9 1 7 1-4 1 3 1-3 1 5 1-6 1 4 1-3 1 3 1-3 1 4 1-4 1 3 1-2 1 1 1-1 1 2 1-3 1 2 1-1 1 1 1-1 1 2 1-2 1 1 1-1 1 1 1-1 1 1 1-1 1 1 1-1 1 1 1-1 1 1 1-1 1 1 1-1 1 1 1-1 1 1 1-1 1 1 1-1 1 1 1-1 1 1 1-1 1 1 1 0 1 0 1 0 1 12 1-196 1 464 1-539 1 404 1-268 1 237 1-235 1 315 1-377 1 282 1-183 1 162 1-161 1 216 1-259 1 194 1-126 1 112 1-111 1 148 1-177 1 132 1-86 1 77 1-76 1 101 1-121 1 91 1-59 1 52 1-52 1 70 1-84 1 63 1-41 1 36 1-36 1 48 1-57 1 43 1-28 1 25 1-25 1 33 1-39 1 29 1-19 1 17 1-17 1 22 1-26 1 20 1-13 1 11 1-11 1 15 1-18 1 13 1-8 1 7 1-7 1 10 1-13 1 10 1-6 1 5 1-5 1 7 1-9 1 7 1-4 1 3 1-3 1 5 1-6 1 4 1-3 1 3 1-3 1 4 1-4 1 3 1-2 1 1 1-1 1 2 1-3 1 2 1-1 1 1 1-1 1 2 1-2 1 1 1-1 1 1 1-1 1 1 1-1 1 1 1-1 1 1 1-1 1 1 1-1 1 1 1-1 1 1 1-1 1 1 1-1 1 1 1-1 1 1 1-1 1 1 1-1 1 1 1 0 1 0 1 0 1 12 1-196 1 464 1-539 1 404 1-268 1 237 1-235 1 315 1-377 1 282 1-183 1 162 1-161 1 216 1-259 1 194 1-126 1 112 1-111 1 148 1-177 1 132 1-86 1 77 1-76 1 101 1-121 1 91 1-59 1 52 1-52 1 70 1-84 1 63 1-41 1 36 1-36 1 48 1-57 1 43 1-28 1 25 1-25 1 33 1-39 1 29 1-19 1 17 1-17 1 22 1-26 1 20 1-13 1 11 1-11 1 15 1-18 1 13 1-8 1 7 1-7 1 10 1-13 1 10 1-6 1 5 1-5 1 7 1-9 1 7 1-4 1 3 1-3 1 5 1-6 1 4 1-3 1 3 1-3 1 4 1-4 1 3 1-2 1 1 1-1 1 2 1-3 1 2 1-1 1 1 1-1 1 2 1-2 1 1 1-1 1 1 1-1 1 1 1-1 1 1 1-1 1 1 1-1 1 1 1-1 1 1 1-1 1 1 1-1 1 1 1-1 1 1 1-1 1 1 1-1 1 1 1-1 1 1 1 0 1 0 1 0 1 12 1-196 1 464 1-539 1 404 1-268 1 237 1-235 1 315 1-377 1 282 1-183 1 162 1-161 1 216 1-259 1 194 1-126 1 112 1-111 1 148 1-177 1 132 1-86 1 77 1-76 1 101 1-121 1 91 1-59 1 52 1-52 1 70 1-84 1 63 1-41 1 36 1-36 1 48 1-57 1 43 1-28 1 25 1-25 1 33 1-39 1 29 1-19 1 17 1-17 1 22 1-26 1 20 1-13 1 11 1-11 1 15 1-18 1 13 1-8 1 7 1-7 1 10 1-13 1 10 1-6 1 5 1-5 1 7 1-9 1 7 1-4 1 3 1-3 1 5 1-6 1 4 1-3 1 3 1-3 1 4 1-4 1 3 1-2 1 1 1-1 1 2 1-3 1 2 1-1 1 1 1-1 1 2 1-2 1 1 1-1 1 1 1-1 1 1 1-1 1 1 1-1 1 1 1-1 1 1 1-1 1 1 1-1 1 1 1-1 1 1 1-1 1 1 1-1 1 1 1-1 1 1 1-1 1 1 1 0 1 0 1 0 1 12 1-196 1 464 1-539 1 404 1-268 1 237 1-235 1 315 1-377 1 282 1-183 1 162 1-161 1 216 1-259 1 194 1-126 1 112 1-111 1 148 1-177 1 132 1-86 1 77 1-76 1 101 1-121 1 91 1-59 1 52 1-52 1 70 1-84 1 63 1-41 1 36 1-36 1 48 1-57 1 43 1-28 1 25 1-25 1 33 1-39 1 29 1-19 1 17 1-17 1 22 1-26 1 20 1-13 1 11 1-11 1 15 1-18 1 13 1-8 1 7 1-7 1 10 1-13 1 10 1-6 1 5 1-5 1 7 1-9 1 7 1-4 1 3 1-3 1 5 1-6 1 4 1-3 1 3 1-3 1 4 1-4 1 3 1-2 1 1 1-1 1 2 1-3 1 2 1-1 1 1 1-1 1 2 1-2 1 1 1-1 1 1 1-1 1 1 1-1 1 1 1-1 1 1 1-1 1 1 1-1 1 1 1-1 1 1 1-1 1 1 1-1 1 1 1-1 1 1 1-1 1 1 1-1 1 1 1 0 1 0 1 0 1 12 1-196 1 464 1-539 1 404 1-268 1 237 1-235 1 315 1-377 1 282 1-183 1 162 1-161 1 216 1-259 1 194 1-126 1 112 1-111 1 148 1-177 1 132 1-86 1 77 1-76 1 101 1-121 1 91 1-59 1 52 1-52 1 70 1-84 1 63 1-41 1 36 1-36 1 48 1-57 1 43 1-28 1 25 1-25 1 33 1-39 1 29 1-19 1 17 1-17 1 22 1-26 1 20 1-13 1 11 1-11 1 15 1-18 1 13 1-8 1 7 1-7 1 10 1-13 1 10 1-6 1 5 1-5 1 7 1-9 1 7 1-4 1 3 1-3 1 5 1-6 1 4 1-3 1 3 1-3 1 4 1-4 1 3 1-2 1 1 1-1 1 2 1-3 1 2 1-1 1 1 1-1 1 2 1-2 1 1 1-1 1 1 1-1 1 1 1-1 1 1 1-1 1 1 1-1 1 1 1-1 1 1 1-1 1 1 1-1 1 1 1-1 1 1 1-1 1 1 1-1 1 1 1-1 1 1 1 0 1 0 1 0 1 12 1-196 1 464 1-539 1 404 1-268 1 237 1-235 1 315 1-377 1 282 1-183 1 162 1-161 1 216 1-259 1 194 1-126 1 112 1-111 1 148 1-177 1 132 1-86 1 77 1-76 1 101 1-121 1 91 1-59 1 52 1-52 1 70 1-84 1 63 1-41 1 36 1-36 1 48 1-57 1 43 1-28 1 25 1-25 1 33 1-39 1 29 1-19 1 17 1-17 1 22 1-26 1 20 1-13 1 11 1-11 1 15 1-18 1 13 1-8 1 7 1-7 1 10 1-13 1 10 1-6 1 5 1-5 1 7 1-9 1 7 1-4 1 3 1-3 1 5 1-6 1 4 1-3 1 3 1-3 1 4 1-4 1 3 1-2 1 1 1-1 1 2 1-3 1 2 1-1 1 1 1-1 1 2 1-2 1 1 1-1 1 1 1-1 1 1 1-1 1 1 1-1 1 1 1-1 1 1 1-1 1 1 1-1 1 1 1-1 1 1 1-1 1 1 1-1 1 1 1-1 1 1 1-1 1 1 1 0 1 0 1 0 1 12 1-196 1 464 1-539 1 404 1-268 1 237 1-235 1 315 1-377 1 282 1-183 1 162 1-161 1 216 1-259 1 194 1-126 1 112 1-111 1 148 1-177 1 132 1-86 1 77 1-76 1 101 1-121 1 91 1-59 1 52 1-52 1 70 1-84 1 63 1-41 1 36 1-36 1 48 1-57 1 43 1-28 1 25 1-25 1 33 1-39 1 29 1-19 1 17 1-17 1 22 1-26 1 20 1-13 1 11 1-11 1 15 1-18 1 13 1-8 1 7 1-7 1 10 1-13 1 10 1-6 1 5 1-5 1 7 1-9 1 7 1-4 1 3 1-3 1 5 1-6 1 4 1-3 1 3 1-3 1 4 1-4 1 3 1-2 1 1 1-1 1 2 1-3 1 2 1-1 1 1 1-1 1 2 1-2 1 1 1-1 1 1 1-1 1 1 1-1 1 1 1-1 1 1 1-1 1 1 1-1 1 1 1-1 1 1 1-1 1 1 1-1 1 1 1-1 1 1 1-1 1 1 1-1 1 1 1 0 1 0 1 0 1 12 1-196 1 464 1-539 1 404 1-268 1 237 1-235 1 315 1-377 1 282 1-183 1 162 1-161 1 216 1-259 1 194 1-126 1 112 1-111 1 148 1-177 1 132 1-86 1 77 1-76 1 101 1-121 1 91 1-59 1 52 1-52 1 70 1-84 1 63 1-41 1 36 1-36 1 48 1-57 1 43 1-28 1 25 1-25 1 33 1-39 1 29 1-19 1 17 1-17 1 22 1-26 1 20 1-13 1 11 1-11 1 15 1-18 1 13 1-8 1 7 1-7 1 10 1-13 1 10 1-6 1 5 1-5 1 7 1-9 1 7 1-4 1 3 1-3 1 5 1-6 1 4 1-3 1 3 1-3 1 4 1-4 1 3 1-2 1 1 1-1 1 2 1-3 1 2 1-1 1 1 1-1 1 2 1-2 1 1 1-1 1 1 1-1 1 1 1-1 1 1 1-1 1 1 1-1 1 1 1-1 1 1 1-1 1 1 1-1 1 1 1-1 1 1 1-1 1 1 1-1 1 1 1-1 1 1 1 0 1 0 1 0 1 12 1-196 1 464 1-539 1 404 1-268 1 237 1-235 1 315 1-377 1 282 1-183 1 162 1-161 1 216 1-259 1 194 1-126 1 112 1-111 1 148 1-177 1 132 1-86 1 77 1-76 1 101 1-121 1 91 1-59 1 52 1-52 1 70 1-84 1 63 1-41 1 36 1-36 1 48 1-57 1 43 1-28 1 25 1-25 1 33 1-39 1 29 1-19 1 17 1-17 1 22 1-26 1 20 1-13 1 11 1-11 1 15 1-18 1 13 1-8 1 7 1-7 1 10 1-13 1 10 1-6 1 5 1-5 1 7 1-9 1 7 1-4 1 3 1-3 1 5 1-6 1 4 1-3 1 3 1-3 1 4 1-4 1 3 1-2 1 1 1-1 1 2 1-3 1 2 1-1 1 1 1-1 1 2 1-2 1 1 1-1 1 1 1-1 1 1 1-1 1 1 1-1 1 1 1-1 1 1 1-1 1 1 1-1 1 1 1-1 1 1 1-1 1 1 1-1 1 1 1-1 1 1 1-1 1 1 1 0 1 0 1 0 1 12 1-196 1 464 1-539 1 404 1-268 1 237 1-235 1 315 1-377 1 282 1-183 1 162 1-161 1 216 1-259 1 194 1-126 1 112 1-111 1 148 1-177 1 132 1-86 1 77 1-76 1 101 1-121 1 91 1-59 1 52 1-52 1 70 1-84 1 63 1-41 1 36 1-36 1 48 1-57 1 43 1-28 1 25 1-25 1 33 1-39 1 29 1-19 1 17 1-17 1 22 1-26 1 20 1-13 1 11 1-11 1 15 1-18 1 13 1-8 1 7 1-7 1 10 1-13 1 10 1-6 1 5 1-5 1 7 1-9 1 7 1-4 1 3 1-3 1 5 1-6 1 4 1-3 1 3 1-3 1 4 1-4 1 3 1-2 1 1 1-1 1 2 1-3 1 2 1-1 1 1 1-1 1 2 1-2 1 1 1-1 1 1 1-1 1 1 1-1 1 1 1-1 1 1 1-1 1 1 1-1 1 1 1-1 1 1 1-1 1 1 1-1 1 1 1-1 1 1 1-1 1 1 1-1 1 1 1 0 1 0 1 0 1 12 1-196 1 464 1-539 1 404 1-268 1 237 1-235 1 315 1-377 1 282 1-183 1 162 1-161 1 216 1-259 1 194 1-126 1 112 1-111 1 148 1-177 1 132 1-86 1 77 1-76 1 101 1-121 1 91 1-59 1 52 1-52 1 70 1-84 1 63 1-41 1 36 1-36 1 48 1-57 1 43 1-28 1 25 1-25 1 33 1-39 1 29 1-19 1 17 1-17 1 22 1-26 1 20 1-13 1 11 1-11 1 15 1-18 1 13 1-8 1 7 1-7 1 10 1-13 1 10 1-6 1 5 1-5 1 7 1-9 1 7 1-4 1 3 1-3 1 5 1-6 1 4 1-3 1 3 1-3 1 4 1-4 1 3 1-2 1 1 1-1 1 2 1-3 1 2 1-1 1 1 1-1 1 2 1-2 1 1 1-1 1 1 1-1 1 1 1-1 1 1 1-1 1 1 1-1 1 1 1-1 1 1 1-1 1 1 1-1 1 1 1-1 1 1 1-1 1 1 1-1 1 1 1-1 1 1 1 0 1 0 1 0 1 12 1-196 1 464 1-539 1 404 1-268 1 237 1-235 1 315 1-377 1 282 1-183 1 162 1-161 1 216 1-259 1 194 1-126 1 112 1-111 1 148 1-177 1 132 1-86 1 77 1-76 1 101 1-121 1 91 1-59 1 52 1-52 1 70 1-84 1 63 1-41 1 36 1-36 1 48 1-57 1 43 1-28 1 25 1-25 1 33 1-39 1 29 1-19 1 17 1-17 1 22 1-26 1 20 1-13 1 11 1-11 1 15 1-18 1 13 1-8 1 7 1-7 1 10 1-13 1 10 1-6 1 5 1-5 1 7 1-9 1 7 1-4 1 3 1-3 1 5 1-6 1 4 1-3 1 3 1-3 1 4 1-4 1 3 1-2 1 1 1-1 1 2 1-3 1 2 1-1 1 1 1-1 1 2 1-2 1 1 1-1 1 1 1-1 1 1 1-1 1 1 1-1 1 1 1-1 1 1 1-1 1 1 1-1 1 1 1-1 1 1 1-1 1 1 1-1 1 1 1-1 1 1 1-1 1 1 1 0 1 0 1 0 1 12 1-196 1 464 1-539 1 404 1-268 1 237 1-235 1 315 1-377 1 282 1-183 1 162 1-161 1 216 1-259 1 194 1-126 1 112 1-111 1 148 1-177 1 132 1-86 1 77 1-76 1 101 1-121 1 91 1-59 1 52 1-52 1 70 1-84 1 63 1-41 1 36 1-36 1 48 1-57 1 43 1-28 1 25 1-25 1 33 1-39 1 29 1-19 1 17 1-17 1 22 1-26 1 20 1-13 1 11 1-11 1 15 1-18 1 13 1-8 1 7 1-7 1 10 1-13 1 10 1-6 1 5 1-5 1 7 1-9 1 7 1-4 1 3 1-3 1 5 1-6 1 4 1-3 1 3 1-3 1 4 1-4 1 3 1-2 1 1 1-1 1 2 1-3 1 2 1-1 1 1 1-1 1 2 1-2 1 1 1-1 1 1 1-1 1 1 1-1 1 1 1-1 1 1 1-1 1 1 1-1 1 1 1-1 1 1 1-1 1 1 1-1 1 1 1-1 1 1 1-1 1 1 1-1 1 1 1 0 1 0 1 0 1 12 1-196 1 464 1-539 1 404 1-268 1 237 1-235 1 315 1-377 1 282 1-183 1 162 1-161 1 216 1-259 1 194 1-126 1 112 1-111 1 148 1-177 1 132 1-86 1 77 1-76 1 101 1-121 1 91 1-59 1 52 1-52 1 70 1-84 1 63 1-41 1 36 1-36 1 48 1-57 1 43 1-28 1 25 1-25 1 33 1-39 1 29 1-19 1 17 1-17 1 22 1-26 1 20 1-13 1 11 1-11 1 15 1-18 1 13 1-8 1 7 1-7 1 10 1-13 1 10 1-6 1 5 1-5 1 7 1-9 1 7 1-4 1 3 1-3 1 5 1-6 1 4 1-3 1 3 1-3 1 4 1-4 1 3 1-2 1 1 1-1 1 2 1-3 1 2 1-1 1 1 1-1 1 2 1-2 1 1 1-1 1 1 1-1 1 1 1-1 1 1 1-1 1 1 1-1 1 1 1-1 1 1 1-1 1 1 1-1 1 1 1-1 1 1 1-1 1 1 1-1 1 1 1-1 1 1 1 0 1 0 1 0 1 12 1-196 1 464 1-539 1 404 1-268 1 237 1-235 1 315 1-377 1 282 1-183 1 162 1-161 1 216 1-259 1 194 1-126 1 112 1-111 1 148 1-177 1 132 1-86 1 77 1-76 1 101 1-121 1 91 1-59 1 52 1-52 1 70 1-84 1 63 1-41 1 36 1-36 1 48 1-57 1 43 1-28 1 25 1-25 1 33 1-39 1 29 1-19 1 17 1-17 1 22 1-26 1 20 1-13 1 11 1-11 1 15 1-18 1 13 1-8 1 7 1-7 1 10 1-13 1 10 1-6 1 5 1-5 1 7 1-9 1 7 1-4 1 3 1-3 1 5 1-6 1 4 1-3 1 3 1-3 1 4 1-4 1 3 1-2 1 1 1-1 1 2 1-3 1 2 1-1 1 1 1-1 1 2 1-2 1 1 1-1 1 1 1-1 1 1 1-1 1 1 1-1 1 1 1-1 1 1 1-1 1 1 1-1 1 1 1-1 1 1 1-1 1 1 1-1 1 1 1-1 1 1 1-1 1 1 1 0 1 0 1 0 1 12 1-196 1 464 1-539 1 404 1-268 1 237 1-235 1 315 1-377 1 282 1-183 1 162 1-161 1 216 1-259 1 194 1-126 1 112 1-111 1 148 1-177 1 132 1-86 1 77 1-76 1 101 1-121 1 91 1-59 1 52 1-52 1 70 1-84 1 63 1-41 1 36 1-36 1 48 1-57 1 43 1-28 1 25 1-25 1 33 1-39 1 29 1-19 1 17 1-17 1 22 1-26 1 20 1-13 1 11 1-11 1 15 1-18 1 13 1-8 1 7 1-7 1 10 1-13 1 10 1-6 1 5 1-5 1 7 1-9 1 7 1-4 1 3 1-3 1 5 1-6 1 4 1-3 1 3 1-3 1 4 1-4 1 3 1-2 1 1 1-1 1 2 1-3 1 2 1-1 1 1 1-1 1 2 1-2 1 1 1-1 1 1 1-1 1 1 1-1 1 1 1-1 1 1 1-1 1 1 1-1 1 1 1-1 1 1 1-1 1 1 1-1 1 1 1-1 1 1 1-1 1 1 1-1 1 1 1 0 1 0 1 0 1 12 1-196 1 464 1-539 1 404 1-268 1 237 1-235 1 315 1-377 1 282 1-183 1 162 1-161 1 216 1-259 1 194 1-126 1 112 1-111 1 148 1-177 1 132 1-86 1 77 1-76 1 101 1-121 1 91 1-59 1 52 1-52 1 70 1-84 1 63 1-41 1 36 1-36 1 48 1-57 1 43 1-28 1 25 1-25 1 33 1-39 1 29 1-19 1 17 1-17 1 22 1-26 1 20 1-13 1 11 1-11 1 15 1-18 1 13 1-8 1 7 1-7 1 10 1-13 1 10 1-6 1 5 1-5 1 7 1-9 1 7 1-4 1 3 1-3 1 5 1-6 1 4 1-3 1 3 1-3 1 4 1-4 1 3 1-2 1 1 1-1 1 2 1-3 1 2 1-1 1 1 1-1 1 2 1-2 1 1 1-1 1 1 1-1 1 1 1-1 1 1 1-1 1 1 1-1 1 1 1-1 1 1 1-1 1 1 1-1 1 1 1-1 1 1 1-1 1 1 1-1 1 1 1-1 1 1 1 0 1 0 1 0 1 12 1-196 1 464 1-539 1 404 1-268 1 237 1-235 1 315 1-377 1 282 1-183 1 162 1-161 1 216 1-259 1 194 1-126 1 112 1-111 1 148 1-177 1 132 1-86 1 77 1-76 1 101 1-121 1 91 1-59 1 52 1-52 1 70 1-84 1 63 1-41 1 36 1-36 1 48 1-57 1 43 1-28 1 25 1-25 1 33 1-39 1 29 1-19 1 17 1-17 1 22 1-26 1 20 1-13 1 11 1-11 1 15 1-18 1 13 1-8 1 7 1-7 1 10 1-13 1 10 1-6 1 5 1-5 1 7 1-9 1 7 1-4 1 3 1-3 1 5 1-6 1 4 1-3 1 3 1-3 1 4 1-4 1 3 1-2 1 1 1-1 1 2 1-3 1 2 1-1 1 1 1-1 1 2 1-2 1 1 1-1 1 1 1-1 1 1 1-1 1 1 1-1 1 1 1-1 1 1 1-1 1 1 1-1 1 1 1-1 1 1 1-1 1 1 1-1 1 1 1-1 1 1 1-1 1 1 1 0 1 0 1 0 1 12 1-196 1 464 1-539 1 404 1-268 1 237 1-235 1 315 1-377 1 282 1-183 1 162 1-161 1 216 1-259 1 194 1-126 1 112 1-111 1 148 1-177 1 132 1-86 1 77 1-76 1 101 1-121 1 91 1-59 1 52 1-52 1 70 1-84 1 63 1-41 1 36 1-36 1 48 1-57 1 43 1-28 1 25 1-25 1 33 1-39 1 29 1-19 1 17 1-17 1 22 1-26 1 20 1-13 1 11 1-11 1 15 1-18 1 13 1-8 1 7 1-7 1 10 1-13 1 10 1-6 1 5 1-5 1 7 1-9 1 7 1-4 1 3 1-3 1 5 1-6 1 4 1-3 1 3 1-3 1 4 1-4 1 3 1-2 1 1 1-1 1 2 1-3 1 2 1-1 1 1 1-1 1 2 1-2 1 1 1-1 1 1 1-1 1 1 1-1 1 1 1-1 1 1 1-1 1 1 1-1 1 1 1-1 1 1 1-1 1 1 1-1 1 1 1-1 1 1 1-1 1 1 1-1 1 1 1 0 1 0 1 0 1 12 1-196 1 464 1-539 1 404 1-268 1 237 1-235 1 315 1-377 1 282 1-183 1 162 1-161 1 216 1-259 1 194 1-126 1 112 1-111 1 148 1-177 1 132 1-86 1 77 1-76 1 101 1-121 1 91 1-59 1 52 1-52 1 70 1-84 1 63 1-41 1 36 1-36 1 48 1-57 1 43 1-28 1 25 1-25 1 33 1-39 1 29 1-19 1 17 1-17 1 22 1-26 1 20 1-13 1 11 1-11 1 15 1-18 1 13 1-8 1 7 1-7 1 10 1-13 1 10 1-6 1 5 1-5 1 7 1-9 1 7 1-4 1 3 1-3 1 5 1-6 1 4 1-3 1 3 1-3 1 4 1-4 1 3 1-2 1 1 1-1 1 2 1-3 1 2 1-1 1 1 1-1 1 2 1-2 1 1 1-1 1 1 1-1 1 1 1-1 1 1 1-1 1 1 1-1 1 1 1-1 1 1 1-1 1 1 1-1 1 1 1-1 1 1 1-1 1 1 1-1 1 1 1-1 1 1 1 0 1 0 1 0 1 12 1-196 1 464 1-539 1 404 1-268 1 237 1-235 1 315 1-377 1 282 1-183 1 162 1-161 1 216 1-259 1 194 1-126 1 112 1-111 1 148 1-177 1 132 1-86 1 77 1-76 1 101 1-121 1 91 1-59 1 52 1-52 1 70 1-84 1 63 1-41 1 36 1-36 1 48 1-57 1 43 1-28 1 25 1-25 1 33 1-39 1 29 1-19 1 17 1-17 1 22 1-26 1 20 1-13 1 11 1-11 1 15 1-18 1 13 1-8 1 7 1-7 1 10 1-13 1 10 1-6 1 5 1-5 1 7 1-9 1 7 1-4 1 3 1-3 1 5 1-6 1 4 1-3 1 3 1-3 1 4 1-4 1 3 1-2 1 1 1-1 1 2 1-3 1 2 1-1 1 1 1-1 1 2 1-2 1 1 1-1 1 1 1-1 1 1 1-1 1 1 1-1 1 1 1-1 1 1 1-1 1 1 1-1 1 1 1-1 1 1 1-1 1 1 1-1 1 1 1-1 1 1 1-1 1 1 1 0 1 0 1 0 1 12 1-196 1 464 1-539 1 404 1-268 1 237 1-235 1 315 1-377 1 282 1-183 1 162 1-161 1 216 1-259 1 194 1-126 1 112 1-111 1 148 1-177 1 132 1-86 1 77 1-76 1 101 1-121 1 91 1-59 1 52 1-52 1 70 1-84 1 63 1-41 1 36 1-36 1 48 1-57 1 43 1-28 1 25 1-25 1 33 1-39 1 29 1-19 1 17 1-17 1 22 1-26 1 20 1-13 1 11 1-11 1 15 1-18 1 13 1-8 1 7 1-7 1 10 1-13 1 10 1-6 1 5 1-5 1 7 1-9 1 7 1-4 1 3 1-3 1 5 1-6 1 4 1-3 1 3 1-3 1 4 1-4 1 3 1-2 1 1 1-1 1 2 1-3 1 2 1-1 1 1 1-1 1 2 1-2 1 1 1-1 1 1 1-1 1 1 1-1 1 1 1-1 1 1 1-1 1 1 1-1 1 1 1-1 1 1 1-1 1 1 1-1 1 1 1-1 1 1 1-1 1 1 1-1 1 1 1 0 1 0 1 0 1 12 1-196 1 464 1-539 1 404 1-268 1 237 1-235 1 315 1-377 1 282 1-183 1 162 1-161 1 216 1-259 1 194 1-126 1 112 1-111 1 148 1-177 1 132 1-86 1 77 1-76 1 101 1-121 1 91 1-59 1 52 1-52 1 70 1-84 1 63 1-41 1 36 1-36 1 48 1-57 1 43 1-28 1 25 1-25 1 33 1-39 1 29 1-19 1 17 1-17 1 22 1-26 1 20 1-13 1 11 1-11 1 15 1-18 1 13 1-8 1 7 1-7 1 10 1-13 1 10 1-6 1 5 1-5 1 7 1-9 1 7 1-4 1 3 1-3 1 5 1-6 1 4 1-3 1 3 1-3 1 4 1-4 1 3 1-2 1 1 1-1 1 2 1-3 1 2 1-1 1 1 1-1 1 2 1-2 1 1 1-1 1 1 1-1 1 1 1-1 1 1 1-1 1 1 1-1 1 1 1-1 1 1 1-1 1 1 1-1 1 1 1-1 1 1 1-1 1 1 1-1 1 1 1-1 1 1 1 0 1 0 1 0 1 12 1-196 1 464 1-539 1 404 1-268 1 237 1-235 1 315 1-377 1 282 1-183 1 162 1-161 1 216 1-259 1 194 1-126 1 112 1-111 1 148 1-177 1 132 1-86 1 77 1-76 1 101 1-121 1 91 1-59 1 52 1-52 1 70 1-84 1 63 1-41 1 36 1-36 1 48 1-57 1 43 1-28 1 25 1-25 1 33 1-39 1 29 1-19 1 17 1-17 1 22 1-26 1 20 1-13 1 11 1-11 1 15 1-18 1 13 1-8 1 7 1-7 1 10 1-13 1 10 1-6 1 5 1-5 1 7 1-9 1 7 1-4 1 3 1-3 1 5 1-6 1 4 1-3 1 3 1-3 1 4 1-4 1 3 1-2 1 1 1-1 1 2 1-3 1 2 1-1 1 1 1-1 1 2 1-2 1 1 1-1 1 1 1-1 1 1 1-1 1 1 1-1 1 1 1-1 1 1 1-1 1 1 1-1 1 1 1-1 1 1 1-1 1 1 1-1 1 1 1-1 1 1 1-1 1 1 1 0 1 0 1 0 1 12 1-196 1 464 1-539 1 404 1-268 1 237 1-235 1 315 1-377 1 282 1-183 1 162 1-161 1 216 1-259 1 194 1-126 1 112 1-111 1 148 1-177 1 132 1-86 1 77 1-76 1 101 1-121 1 91 1-59 1 52 1-52 1 70 1-84 1 63 1-41 1 36 1-36 1 48 1-57 1 43 1-28 1 25 1-25 1 33 1-39 1 29 1-19 1 17 1-17 1 22 1-26 1 20 1-13 1 11 1-11 1 15 1-18 1 13 1-8 1 7 1-7 1 10 1-13 1 10 1-6 1 5 1-5 1 7 1-9 1 7 1-4 1 3 1-3 1 5 1-6 1 4 1-3 1 3 1-3 1 4 1-4 1 3 1-2 1 1 1-1 1 2 1-3 1 2 1-1 1 1 1-1 1 2 1-2 1 1 1-1 1 1 1-1 1 1 1-1 1 1 1-1 1 1 1-1 1 1 1-1 1 1 1-1 1 1 1-1 1 1 1-1 1 1 1-1 1 1 1-1 1 1 1-1 1 1 1 0 1 0 1 0 1 12 1-196 1 464 1-539 1 404 1-268 1 237 1-235 1 315 1-377 1 282 1-183 1 162 1-161 1 216 1-259 1 194 1-126 1 112 1-111 1 148 1-177 1 132 1-86 1 77 1-76 1 101 1-121 1 91 1-59 1 52 1-52 1 70 1-84 1 63 1-41 1 36 1-36 1 48 1-57 1 43 1-28 1 25 1-25 1 33 1-39 1 29 1-19 1 17 1-17 1 22 1-26 1 20 1-13 1 11 1-11 1 15 1-18 1 13 1-8 1 7 1-7 1 10 1-13 1 10 1-6 1 5 1-5 1 7 1-9 1 7 1-4 1 3 1-3 1 5 1-6 1 4 1-3 1 3 1-3 1 4 1-4 1 3 1-2 1 1 1-1 1 2 1-3 1 2 1-1 1 1 1-1 1 2 1-2 1 1 1-1 1 1 1-1 1 1 1-1 1 1 1-1 1 1 1-1 1 1 1-1 1 1 1-1 1 1 1-1 1 1 1-1 1 1 1-1 1 1 1-1 1 1 1-1 1 1 1 0 1 0 1 0 1 12 1-196 1 464 1-539 1 404 1-268 1 237 1-235 1 315 1-377 1 282 1-183 1 162 1-161 1 216 1-259 1 194 1-126 1 112 1-111 1 148 1-177 1 132 1-86 1 77 1-76 1 101 1-121 1 91 1-59 1 52 1-52 1 70 1-84 1 63 1-41 1 36 1-36 1 48 1-57 1 43 1-28 1 25 1-25 1 33 1-39 1 29 1-19 1 17 1-17 1 22 1-26 1 20 1-13 1 11 1-11 1 15 1-18 1 13 1-8 1 7 1-7 1 10 1-13 1 10 1-6 1 5 1-5 1 7 1-9 1 7 1-4 1 3 1-3 1 5 1-6 1 4 1-3 1 3 1-3 1 4 1-4 1 3 1-2 1 1 1-1 1 2 1-3 1 2 1-1 1 1 1-1 1 2 1-2 1 1 1-1 1 1 1-1 1 1 1-1 1 1 1-1 1 1 1-1 1 1 1-1 1 1 1-1 1 1 1-1 1 1 1-1 1 1 1-1 1 1 1-1 1 1 1-1 1 1 1 0 1 0 1 0 1 12 1-196 1 464 1-539 1 404 1-268 1 237 1-235 1 315 1-377 1 282 1-183 1 162 1-161 1 216 1-259 1 194 1-126 1 112 1-111 1 148 1-177 1 132 1-86 1 77 1-76 1 101 1-121 1 91 1-59 1 52 1-52 1 70 1-84 1 63 1-41 1 36 1-36 1 48 1-57 1 43 1-28 1 25 1-25 1 33 1-39 1 29 1-19 1 17 1-17 1 22 1-26 1 20 1-13 1 11 1-11 1 15 1-18 1 13 1-8 1 7 1-7 1 10 1-13 1 10 1-6 1 5 1-5 1 7 1-9 1 7 1-4 1 3 1-3 1 5 1-6 1 4 1-3 1 3 1-3 1 4 1-4 1 3 1-2 1 1 1-1 1 2 1-3 1 2 1-1 1 1 1-1 1 2 1-2 1 1 1-1 1 1 1-1 1 1 1-1 1 1 1-1 1 1 1-1 1 1 1-1 1 1 1-1 1 1 1-1 1 1 1-1 1 1 1-1 1 1 1-1 1 1 1-1 1 1 1 0 1 0 1 0 1 12 1-196 1 464 1-539 1 404 1-268 1 237 1-235 1 315 1-377 1 282 1-183 1 162 1-161 1 216 1-259 1 194 1-126 1 112 1-111 1 148 1-177 1 132 1-86 1 77 1-76 1 101 1-121 1 91 1-59 1 52 1-52 1 70 1-84 1 63 1-41 1 36 1-36 1 48 1-57 1 43 1-28 1 25 1-25 1 33 1-39 1 29 1-19 1 17 1-17 1 22 1-26 1 20 1-13 1 11 1-11 1 15 1-18 1 13 1-8 1 7 1-7 1 10 1-13 1 10 1-6 1 5 1-5 1 7 1-9 1 7 1-4 1 3 1-3 1 5 1-6 1 4 1-3 1 3 1-3 1 4 1-4 1 3 1-2 1 1 1-1 1 2 1-3 1 2 1-1 1 1 1-1 1 2 1-2 1 1 1-1 1 1 1-1 1 1 1-1 1 1 1-1 1 1 1-1 1 1 1-1 1 1 1-1 1 1 1-1 1 1 1-1 1 1 1-1 1 1 1-1 1 1 1-1 1 1 1 0 1 0 1 0 1 12 1-196 1 464 1-539 1 404 1-268 1 237 1-235 1 315 1-377 1 282 1-183 1 162 1-161 1 216 1-259 1 194 1-126 1 112 1-111 1 148 1-177 1 132 1-86 1 77 1-76 1 101 1-121 1 91 1-59 1 52 1-52 1 70 1-84 1 63 1-41 1 36 1-36 1 48 1-57 1 43 1-28 1 25 1-25 1 33 1-39 1 29 1-19 1 17 1-17 1 22 1-26 1 20 1-13 1 11 1-11 1 15 1-18 1 13 1-8 1 7 1-7 1 10 1-13 1 10 1-6 1 5 1-5 1 7 1-9 1 7 1-4 1 3 1-3 1 5 1-6 1 4 1-3 1 3 1-3 1 4 1-4 1 3 1-2 1 1 1-1 1 2 1-3 1 2 1-1 1 1 1-1 1 2 1-2 1 1 1-1 1 1 1-1 1 1 1-1 1 1 1-1 1 1 1-1 1 1 1-1 1 1 1-1 1 1 1-1 1 1 1-1 1 1 1-1 1 1 1-1 1 1 1-1 1 1 1 0 1 0 1 0 1 12 1-196 1 464 1-539 1 404 1-268 1 237 1-235 1 315 1-377 1 282 1-183 1 162 1-161 1 216 1-259 1 194 1-126 1 112 1-111 1 148 1-177 1 132 1-86 1 77 1-76 1 101 1-121 1 91 1-59 1 52 1-52 1 70 1-84 1 63 1-41 1 36 1-36 1 48 1-57 1 43 1-28 1 25 1-25 1 33 1-39 1 29 1-19 1 17 1-17 1 22 1-26 1 20 1-13 1 11 1-11 1 15 1-18 1 13 1-8 1 7 1-7 1 10 1-13 1 10 1-6 1 5 1-5 1 7 1-9 1 7 1-4 1 3 1-3 1 5 1-6 1 4 1-3 1 3 1-3 1 4 1-4 1 3 1-2 1 1 1-1 1 2 1-3 1 2 1-1 1 1 1-1 1 2 1-2 1 1 1-1 1 1 1-1 1 1 1-1 1 1 1-1 1 1 1-1 1 1 1-1 1 1 1-1 1 1 1-1 1 1 1-1 1 1 1-1 1 1 1-1 1 1 1-1 1 1 1 0 1 0 1 0 1 12 1-196 1 464 1-539 1 404 1-268 1 237 1-235 1 315 1-377 1 282 1-183 1 162 1-161 1 216 1-259 1 194 1-126 1 112 1-111 1 148 1-177 1 132 1-86 1 77 1-76 1 101 1-121 1 91 1-59 1 52 1-52 1 70 1-84 1 63 1-41 1 36 1-36 1 48 1-57 1 43 1-28 1 25 1-25 1 33 1-39 1 29 1-19 1 17 1-17 1 22 1-26 1 20 1-13 1 11 1-11 1 15 1-18 1 13 1-8 1 7 1-7 1 10 1-13 1 10 1-6 1 5 1-5 1 7 1-9 1 7 1-4 1 3 1-3 1 5 1-6 1 4 1-3 1 3 1-3 1 4 1-4 1 3 1-2 1 1 1-1 1 2 1-3 1 2 1-1 1 1 1-1 1 2 1-2 1 1 1-1 1 1 1-1 1 1 1-1 1 1 1-1 1 1 1-1 1 1 1-1 1 1 1-1 1 1 1-1 1 1 1-1 1 1 1-1 1 1 1-1 1 1 1-1 1 1 1 0 1 0 1 0 1 12 1-196 1 464 1-539 1 404 1-268 1 237 1-235 1 315 1-377 1 282 1-183 1 162 1-161 1 216 1-259 1 194 1-126 1 112 1-111 1 148 1-177 1 132 1-86 1 77 1-76 1 101 1-121 1 91 1-59 1 52 1-52 1 70 1-84 1 63 1-41 1 36 1-36 1 48 1-57 1 43 1-28 1 25 1-25 1 33 1-39 1 29 1-19 1 17 1-17 1 22 1-26 1 20 1-13 1 11 1-11 1 15 1-18 1 13 1-8 1 7 1-7 1 10 1-13 1 10 1-6 1 5 1-5 1 7 1-9 1 7 1-4 1 3 1-3 1 5 1-6 1 4 1-3 1 3 1-3 1 4 1-4 1 3 1-2 1 1 1-1 1 2 1-3 1 2 1-1 1 1 1-1 1 2 1-2 1 1 1-1 1 1 1-1 1 1 1-1 1 1 1-1 1 1 1-1 1 1 1-1 1 1 1-1 1 1 1-1 1 1 1-1 1 1 1-1 1 1 1-1 1 1 1-1 1 1 1 0 1 0 1 0 1 12 1-196 1 464 1-539 1 404 1-268 1 237 1-235 1 315 1-377 1 282 1-183 1 162 1-161 1 216 1-259 1 194 1-126 1 112 1-111 1 148 1-177 1 132 1-86 1 77 1-76 1 101 1-121 1 91 1-59 1 52 1-52 1 70 1-84 1 63 1-41 1 36 1-36 1 48 1-57 1 43 1-28 1 25 1-25 1 33 1-39 1 29 1-19 1 17 1-17 1 22 1-26 1 20 1-13 1 11 1-11 1 15 1-18 1 13 1-8 1 7 1-7 1 10 1-13 1 10 1-6 1 5 1-5 1 7 1-9 1 7 1-4 1 3 1-3 1 5 1-6 1 4 1-3 1 3 1-3 1 4 1-4 1 3 1-2 1 1 1-1 1 2 1-3 1 2 1-1 1 1 1-1 1 2 1-2 1 1 1-1 1 1 1-1 1 1 1-1 1 1 1-1 1 1 1-1 1 1 1-1 1 1 1-1 1 1 1-1 1 1 1-1 1 1 1-1 1 1 1-1 1 1 1-1 1 1 1 0 1 0 1 0 1 12 1-196 1 464 1-539 1 404 1-268 1 237 1-235 1 315 1-377 1 282 1-183 1 162 1-161 1 216 1-259 1 194 1-126 1 112 1-111 1 148 1-177 1 132 1-86 1 77 1-76 1 101 1-121 1 91 1-59 1 52 1-52 1 70 1-84 1 63 1-41 1 36 1-36 1 48 1-57 1 43 1-28 1 25 1-25 1 33 1-39 1 29 1-19 1 17 1-17 1 22 1-26 1 20 1-13 1 11 1-11 1 15 1-18 1 13 1-8 1 7 1-7 1 10 1-13 1 10 1-6 1 5 1-5 1 7 1-9 1 7 1-4 1 3 1-3 1 5 1-6 1 4 1-3 1 3 1-3 1 4 1-4 1 3 1-2 1 1 1-1 1 2 1-3 1 2 1-1 1 1 1-1 1 2 1-2 1 1 1-1 1 1 1-1 1 1 1-1 1 1 1-1 1 1 1-1 1 1 1-1 1 1 1-1 1 1 1-1 1 1 1-1 1 1 1-1 1 1 1-1 1 1 1-1 1 1 1 0 1 0 1 0 1 12 1-196 1 464 1-539 1 404 1-268 1 237 1-235 1 315 1-377 1 282 1-183 1 162 1-161 1 216 1-259 1 194 1-126 1 112 1-111 1 148 1-177 1 132 1-86 1 77 1-76 1 101 1-121 1 91 1-59 1 52 1-52 1 70 1-84 1 63 1-41 1 36 1-36 1 48 1-57 1 43 1-28 1 25 1-25 1 33 1-39 1 29 1-19 1 17 1-17 1 22 1-26 1 20 1-13 1 11 1-11 1 15 1-18 1 13 1-8 1 7 1-7 1 10 1-13 1 10 1-6 1 5 1-5 1 7 1-9 1 7 1-4 1 3 1-3 1 5 1-6 1 4 1-3 1 3 1-3 1 4 1-4 1 3 1-2 1 1 1-1 1 2 1-3 1 2 1-1 1 1 1-1 1 2 1-2 1 1 1-1 1 1 1-1 1 1 1-1 1 1 1-1 1 1 1-1 1 1 1-1 1 1 1-1 1 1 1-1 1 1 1-1 1 1 1-1 1 1 1-1 1 1 1-1 1 1 1 0 1 0 1 0 1 12 1-196 1 464 1-539 1 404 1-268 1 237 1-235 1 315 1-377 1 282 1-183 1 162 1-161 1 216 1-259 1 194 1-126 1 112 1-111 1 148 1-177 1 132 1-86 1 77 1-76 1 101 1-121 1 91 1-59 1 52 1-52 1 70 1-84 1 63 1-41 1 36 1-36 1 48 1-57 1 43 1-28 1 25 1-25 1 33 1-39 1 29 1-19 1 17 1-17 1 22 1-26 1 20 1-13 1 11 1-11 1 15 1-18 1 13 1-8 1 7 1-7 1 10 1-13 1 10 1-6 1 5 1-5 1 7 1-9 1 7 1-4 1 3 1-3 1 5 1-6 1 4 1-3 1 3 1-3 1 4 1-4 1 3 1-2 1 1 1-1 1 2 1-3 1 2 1-1 1 1 1-1 1 2 1-2 1 1 1-1 1 1 1-1 1 1 1-1 1 1 1-1 1 1 1-1 1 1 1-1 1 1 1-1 1 1 1-1 1 1 1-1 1 1 1-1 1 1 1-1 1 1 1-1 1 1 1 0 1 0 1 0 1 12 1-196 1 464 1-539 1 404 1-268 1 237 1-235 1 315 1-377 1 282 1-183 1 162 1-161 1 216 1-259 1 194 1-126 1 112 1-111 1 148 1-177 1 132 1-86 1 77 1-76 1 101 1-121 1 91 1-59 1 52 1-52 1 70 1-84 1 63 1-41 1 36 1-36 1 48 1-57 1 43 1-28 1 25 1-25 1 33 1-39 1 29 1-19 1 17 1-17 1 22 1-26 1 20 1-13 1 11 1-11 1 15 1-18 1 13 1-8 1 7 1-7 1 10 1-13 1 10 1-6 1 5 1-5 1 7 1-9 1 7 1-4 1 3 1-3 1 5 1-6 1 4 1-3 1 3 1-3 1 4 1-4 1 3 1-2 1 1 1-1 1 2 1-3 1 2 1-1 1 1 1-1 1 2 1-2 1 1 1-1 1 1 1-1 1 1 1-1 1 1 1-1 1 1 1-1 1 1 1-1 1 1 1-1 1 1 1-1 1 1 1-1 1 1 1-1 1 1 1-1 1 1 1-1 1 1 1 0 1 0 1 0 1 12 1-196 1 464 1-539 1 404 1-268 1 237 1-235 1 315 1-377 1 282 1-183 1 162 1-161 1 216 1-259 1 194 1-126 1 112 1-111 1 148 1-177 1 132 1-86 1 77 1-76 1 101 1-121 1 91 1-59 1 52 1-52 1 70 1-84 1 63 1-41 1 36 1-36 1 48 1-57 1 43 1-28 1 25 1-25 1 33 1-39 1 29 1-19 1 17 1-17 1 22 1-26 1 20 1-13 1 11 1-11 1 15 1-18 1 13 1-8 1 7 1-7 1 10 1-13 1 10 1-6 1 5 1-5 1 7 1-9 1 7 1-4 1 3 1-3 1 5 1-6 1 4 1-3 1 3 1-3 1 4 1-4 1 3 1-2 1 1 1-1 1 2 1-3 1 2 1-1 1 1 1-1 1 2 1-2 1 1 1-1 1 1 1-1 1 1 1-1 1 1 1-1 1 1 1-1 1 1 1-1 1 1 1-1 1 1 1-1 1 1 1-1 1 1 1-1 1 1 1-1 1 1 1-1 1 1 1 0 1 0 1 0 1 12 1-196 1 464 1-539 1 404 1-268 1 237 1-235 1 315 1-377 1 282 1-183 1 162 1-161 1 216 1-259 1 194 1-126 1 112 1-111 1 148 1-177 1 132 1-86 1 77 1-76 1 101 1-121 1 91 1-59 1 52 1-52 1 70 1-84 1 63 1-41 1 36 1-36 1 48 1-57 1 43 1-28 1 25 1-25 1 33 1-39 1 29 1-19 1 17 1-17 1 22 1-26 1 20 1-13 1 11 1-11 1 15 1-18 1 13 1-8 1 7 1-7 1 10 1-13 1 10 1-6 1 5 1-5 1 7 1-9 1 7 1-4 1 3 1-3 1 5 1-6 1 4 1-3 1 3 1-3 1 4 1-4 1 3 1-2 1 1 1-1 1 2 1-3 1 2 1-1 1 1 1-1 1 2 1-2 1 1 1-1 1 1 1-1 1 1 1-1 1 1 1-1 1 1 1-1 1 1 1-1 1 1 1-1 1 1 1-1 1 1 1-1 1 1 1-1 1 1 1-1 1 1 1-1 1 1 1 0 1 0 1 0 1 12 1-196 1 464 1-539 1 404 1-268 1 237 1-235 1 315 1-377 1 282 1-183 1 162 1-161 1 216 1-259 1 194 1-126 1 112 1-111 1 148 1-177 1 132 1-86 1 77 1-76 1 101 1-121 1 91 1-59 1 52 1-52 1 70 1-84 1 63 1-41 1 36 1-36 1 48 1-57 1 43 1-28 1 25 1-25 1 33 1-39 1 29 1-19 1 17 1-17 1 22 1-26 1 20 1-13 1 11 1-11 1 15 1-18 1 13 1-8 1 7 1-7 1 10 1-13 1 10 1-6 1 5 1-5 1 7 1-9 1 7 1-4 1 3 1-3 1 5 1-6 1 4 1-3 1 3 1-3 1 4 1-4 1 3 1-2 1 1 1-1 1 2 1-3 1 2 1-1 1 1 1-1 1 2 1-2 1 1 1-1 1 1 1-1 1 1 1-1 1 1 1-1 1 1 1-1 1 1 1-1 1 1 1-1 1 1 1-1 1 1 1-1 1 1 1-1 1 1 1-1 1 1 1-1 1 1 1 0 1 0 1 0 1 12 1-196 1 464 1-539 1 404 1-268 1 237 1-235 1 315 1-377 1 282 1-183 1 162 1-161 1 216 1-259 1 194 1-126 1 112 1-111 1 148 1-177 1 132 1-86 1 77 1-76 1 101 1-121 1 91 1-59 1 52 1-52 1 70 1-84 1 63 1-41 1 36 1-36 1 48 1-57 1 43 1-28 1 25 1-25 1 33 1-39 1 29 1-19 1 17 1-17 1 22 1-26 1 20 1-13 1 11 1-11 1 15 1-18 1 13 1-8 1 7 1-7 1 10 1-13 1 10 1-6 1 5 1-5 1 7 1-9 1 7 1-4 1 3 1-3 1 5 1-6 1 4 1-3 1 3 1-3 1 4 1-4 1 3 1-2 1 1 1-1 1 2 1-3 1 2 1-1 1 1 1-1 1 2 1-2 1 1 1-1 1 1 1-1 1 1 1-1 1 1 1-1 1 1 1-1 1 1 1-1 1 1 1-1 1 1 1-1 1 1 1-1 1 1 1-1 1 1 1-1 1 1 1-1 1 1 1 0 1 0 1 0 1 12 1-196 1 464 1-539 1 404 1-268 1 237 1-235 1 315 1-377 1 282 1-183 1 162 1-161 1 216 1-259 1 194 1-126 1 112 1-111 1 148 1-177 1 132 1-86 1 77 1-76 1 101 1-121 1 91 1-59 1 52 1-52 1 70 1-84 1 63 1-41 1 36 1-36 1 48 1-57 1 43 1-28 1 25 1-25 1 33 1-39 1 29 1-19 1 17 1-17 1 22 1-26 1 20 1-13 1 11 1-11 1 15 1-18 1 13 1-8 1 7 1-7 1 10 1-13 1 10 1-6 1 5 1-5 1 7 1-9 1 7 1-4 1 3 1-3 1 5 1-6 1 4 1-3 1 3 1-3 1 4 1-4 1 3 1-2 1 1 1-1 1 2 1-3 1 2 1-1 1 1 1-1 1 2 1-2 1 1 1-1 1 1 1-1 1 1 1-1 1 1 1-1 1 1 1-1 1 1 1-1 1 1 1-1 1 1 1-1 1 1 1-1 1 1 1-1 1 1 1-1 1 1 1-1 1 1 1 0 1 0 1 0 1 12 1-196 1 464 1-539 1 404 1-268 1 237 1-235 1 315 1-377 1 282 1-183 1 162 1-161 1 216 1-259 1 194 1-126 1 112 1-111 1 148 1-177 1 132 1-86 1 77 1-76 1 101 1-121 1 91 1-59 1 52 1-52 1 70 1-84 1 63 1-41 1 36 1-36 1 48 1-57 1 43 1-28 1 25 1-25 1 33 1-39 1 29 1-19 1 17 1-17 1 22 1-26 1 20 1-13 1 11 1-11 1 15 1-18 1 13 1-8 1 7 1-7 1 10 1-13 1 10 1-6 1 5 1-5 1 7 1-9 1 7 1-4 1 3 1-3 1 5 1-6 1 4 1-3 1 3 1-3 1 4 1-4 1 3 1-2 1 1 1-1 1 2 1-3 1 2 1-1 1 1 1-1 1 2 1-2 1 1 1-1 1 1 1-1 1 1 1-1 1 1 1-1 1 1 1-1 1 1 1-1 1 1 1-1 1 1 1-1 1 1 1-1 1 1 1-1 1 1 1-1 1 1 1-1 1 1 1 0 1 0 1 0 1 12 1-196 1 464 1-539 1 404 1-268 1 237 1-235 1 315 1-377 1 282 1-183 1 162 1-161 1 216 1-259 1 194 1-126 1 112 1-111 1 148 1-177 1 132 1-86 1 77 1-76 1 101 1-121 1 91 1-59 1 52 1-52 1 70 1-84 1 63 1-41 1 36 1-36 1 48 1-57 1 43 1-28 1 25 1-25 1 33 1-39 1 29 1-19 1 17 1-17 1 22 1-26 1 20 1-13 1 11 1-11 1 15 1-18 1 13 1-8 1 7 1-7 1 10 1-13 1 10 1-6 1 5 1-5 1 7 1-9 1 7 1-4 1 3 1-3 1 5 1-6 1 4 1-3 1 3 1-3 1 4 1-4 1 3 1-2 1 1 1-1 1 2 1-3 1 2 1-1 1 1 1-1 1 2 1-2 1 1 1-1 1 1 1-1 1 1 1-1 1 1 1-1 1 1 1-1 1 1 1-1 1 1 1-1 1 1 1-1 1 1 1-1 1 1 1-1 1 1 1-1 1 1 1-1 1 1 1 0 1 0 1 0 1 12 1-196 1 464 1-539 1 404 1-268 1 237 1-235 1 315 1-377 1 282 1-183 1 162 1-161 1 216 1-259 1 194 1-126 1 112 1-111 1 148 1-177 1 132 1-86 1 77 1-76 1 101 1-121 1 91 1-59 1 52 1-52 1 70 1-84 1 63 1-41 1 36 1-36 1 48 1-57 1 43 1-28 1 25 1-25 1 33 1-39 1 29 1-19 1 17 1-17 1 22 1-26 1 20 1-13 1 11 1-11 1 15 1-18 1 13 1-8 1 7 1-7 1 10 1-13 1 10 1-6 1 5 1-5 1 7 1-9 1 7 1-4 1 3 1-3 1 5 1-6 1 4 1-3 1 3 1-3 1 4 1-4 1 3 1-2 1 1 1-1 1 2 1-3 1 2 1-1 1 1 1-1 1 2 1-2 1 1 1-1 1 1 1-1 1 1 1-1 1 1 1-1 1 1 1-1 1 1 1-1 1 1 1-1 1 1 1-1 1 1 1-1 1 1 1-1 1 1 1-1 1 1 1-1 1 1 1 0 1 0 1 0 1 12 1-196 1 464 1-539 1 404 1-268 1 237 1-235 1 315 1-377 1 282 1-183 1 162 1-161 1 216 1-259 1 194 1-126 1 112 1-111 1 148 1-177 1 132 1-86 1 77 1-76 1 101 1-121 1 91 1-59 1 52 1-52 1 70 1-84 1 63 1-41 1 36 1-36 1 48 1-57 1 43 1-28 1 25 1-25 1 33 1-39 1 29 1-19 1 17 1-17 1 22 1-26 1 20 1-13 1 11 1-11 1 15 1-18 1 13 1-8 1 7 1-7 1 10 1-13 1 10 1-6 1 5 1-5 1 7 1-9 1 7 1-4 1 3 1-3 1 5 1-6 1 4 1-3 1 3 1-3 1 4 1-4 1 3 1-2 1 1 1-1 1 2 1-3 1 2 1-1 1 1 1-1 1 2 1-2 1 1 1-1 1 1 1-1 1 1 1-1 1 1 1-1 1 1 1-1 1 1 1-1 1 1 1-1 1 1 1-1 1 1 1-1 1 1 1-1 1 1 1-1 1 1 1-1 1 1 1 0 1 0 1 0 1 12 1-196 1 464 1-539 1 404 1-268 1 237 1-235 1 315 1-377 1 282 1-183 1 162 1-161 1 216 1-259 1 194 1-126 1 112 1-111 1 148 1-177 1 132 1-86 1 77 1-76 1 101 1-121 1 91 1-59 1 52 1-52 1 70 1-84 1 63 1-41 1 36 1-36 1 48 1-57 1 43 1-28 1 25 1-25 1 33 1-39 1 29 1-19 1 17 1-17 1 22 1-26 1 20 1-13 1 11 1-11 1 15 1-18 1 13 1-8 1 7 1-7 1 10 1-13 1 10 1-6 1 5 1-5 1 7 1-9 1 7 1-4 1 3 1-3 1 5 1-6 1 4 1-3 1 3 1-3 1 4 1-4 1 3 1-2 1 1 1-1 1 2 1-3 1 2 1-1 1 1 1-1 1 2 1-2 1 1 1-1 1 1 1-1 1 1 1-1 1 1 1-1 1 1 1-1 1 1 1-1 1 1 1-1 1 1 1-1 1 1 1-1 1 1 1-1 1 1 1-1 1 1 1-1 1 1 1 0 1 0 1 0 1 12 1-196 1 464 1-539 1 404 1-268 1 237 1-235 1 315 1-377 1 282 1-183 1 162 1-161 1 216 1-259 1 194 1-126 1 112 1-111 1 148 1-177 1 132 1-86 1 77 1-76 1 101 1-121 1 91 1-59 1 52 1-52 1 70 1-84 1 63 1-41 1 36 1-36 1 48 1-57 1 43 1-28 1 25 1-25 1 33 1-39 1 29 1-19 1 17 1-17 1 22 1-26 1 20 1-13 1 11 1-11 1 15 1-18 1 13 1-8 1 7 1-7 1 10 1-13 1 10 1-6 1 5 1-5 1 7 1-9 1 7 1-4 1 3 1-3 1 5 1-6 1 4 1-3 1 3 1-3 1 4 1-4 1 3 1-2 1 1 1-1 1 2 1-3 1 2 1-1 1 1 1-1 1 2 1-2 1 1 1-1 1 1 1-1 1 1 1-1 1 1 1-1 1 1 1-1 1 1 1-1 1 1 1-1 1 1 1-1 1 1 1-1 1 1 1-1 1 1 1-1 1 1 1-1 1 1 1 0 1 0 1 0 1 12 1-196 1 464 1-539 1 404 1-268 1 237 1-235 1 315 1-377 1 282 1-183 1 162 1-161 1 216 1-259 1 194 1-126 1 112 1-111 1 148 1-177 1 132 1-86 1 77 1-76 1 101 1-121 1 91 1-59 1 52 1-52 1 70 1-84 1 63 1-41 1 36 1-36 1 48 1-57 1 43 1-28 1 25 1-25 1 33 1-39 1 29 1-19 1 17 1-17 1 22 1-26 1 20 1-13 1 11 1-11 1 15 1-18 1 13 1-8 1 7 1-7 1 10 1-13 1 10 1-6 1 5 1-5 1 7 1-9 1 7 1-4 1 3 1-3 1 5 1-6 1 4 1-3 1 3 1-3 1 4 1-4 1 3 1-2 1 1 1-1 1 2 1-3 1 2 1-1 1 1 1-1 1 2 1-2 1 1 1-1 1 1 1-1 1 1 1-1 1 1 1-1 1 1 1-1 1 1 1-1 1 1 1-1 1 1 1-1 1 1 1-1 1 1 1-1 1 1 1-1 1 1 1-1 1 1 1 0 1 0 1 0 1 12 1-196 1 464 1-539 1 404 1-268 1 237 1-235 1 315 1-377 1 282 1-183 1 162 1-161 1 216 1-259 1 194 1-126 1 112 1-111 1 148 1-177 1 132 1-86 1 77 1-76 1 101 1-121 1 91 1-59 1 52 1-52 1 70 1-84 1 63 1-41 1 36 1-36 1 48 1-57 1 43 1-28 1 25 1-25 1 33 1-39 1 29 1-19 1 17 1-17 1 22 1-26 1 20 1-13 1 11 1-11 1 15 1-18 1 13 1-8 1 7 1-7 1 10 1-13 1 10 1-6 1 5 1-5 1 7 1-9 1 7 1-4 1 3 1-3 1 5 1-6 1 4 1-3 1 3 1-3 1 4 1-4 1 3 1-2 1 1 1-1 1 2 1-3 1 2 1-1 1 1 1-1 1 2 1-2 1 1 1-1 1 1 1-1 1 1 1-1 1 1 1-1 1 1 1-1 1 1 1-1 1 1 1-1 1 1 1-1 1 1 1-1 1 1 1-1 1 1 1-1 1 1 1-1 1 1 1 0 1 0 1 0 1 12 1-196 1 464 1-539 1 404 1-268 1 237 1-235 1 315 1-377 1 282 1-183 1 162 1-161 1 216 1-259 1 194 1-126 1 112 1-111 1 148 1-177 1 132 1-86 1 77 1-76 1 101 1-121 1 91 1-59 1 52 1-52 1 70 1-84 1 63 1-41 1 36 1-36 1 48 1-57 1 43 1-28 1 25 1-25 1 33 1-39 1 29 1-19 1 17 1-17 1 22 1-26 1 20 1-13 1 11 1-11 1 15 1-18 1 13 1-8 1 7 1-7 1 10 1-13 1 10 1-6 1 5 1-5 1 7 1-9 1 7 1-4 1 3 1-3 1 5 1-6 1 4 1-3 1 3 1-3 1 4 1-4 1 3 1-2 1 1 1-1 1 2 1-3 1 2 1-1 1 1 1-1 1 2 1-2 1 1 1-1 1 1 1-1 1 1 1-1 1 1 1-1 1 1 1-1 1 1 1-1 1 1 1-1 1 1 1-1 1 1 1-1 1 1 1-1 1 1 1-1 1 1 1-1 1 1 1 0 1 0 1 0 1 12 1-196 1 464 1-539 1 404 1-268 1 237 1-235 1 315 1-377 1 282 1-183 1 162 1-161 1 216 1-259 1 194 1-126 1 112 1-111 1 148 1-177 1 132 1-86 1 77 1-76 1 101 1-121 1 91 1-59 1 52 1-52 1 70 1-84 1 63 1-41 1 36 1-36 1 48 1-57 1 43 1-28 1 25 1-25 1 33 1-39 1 29 1-19 1 17 1-17 1 22 1-26 1 20 1-13 1 11 1-11 1 15 1-18 1 13 1-8 1 7 1-7 1 10 1-13 1 10 1-6 1 5 1-5 1 7 1-9 1 7 1-4 1 3 1-3 1 5 1-6 1 4 1-3 1 3 1-3 1 4 1-4 1 3 1-2 1 1 1-1 1 2 1-3 1 2 1-1 1 1 1-1 1 2 1-2 1 1 1-1 1 1 1-1 1 1 1-1 1 1 1-1 1 1 1-1 1 1 1-1 1 1 1-1 1 1 1-1 1 1 1-1 1 1 1-1 1 1 1-1 1 1 1-1 1 1 1 0 1 0 1 0 1 12 1-196 1 464 1-539 1 404 1-268 1 237 1-235 1 315 1-377 1 282 1-183 1 162 1-161 1 216 1-259 1 194 1-126 1 112 1-111 1 148 1-177 1 132 1-86 1 77 1-76 1 101 1-121 1 91 1-59 1 52 1-52 1 70 1-84 1 63 1-41 1 36 1-36 1 48 1-57 1 43 1-28 1 25 1-25 1 33 1-39 1 29 1-19 1 17 1-17 1 22 1-26 1 20 1-13 1 11 1-11 1 15 1-18 1 13 1-8 1 7 1-7 1 10 1-13 1 10 1-6 1 5 1-5 1 7 1-9 1 7 1-4 1 3 1-3 1 5 1-6 1 4 1-3 1 3 1-3 1 4 1-4 1 3 1-2 1 1 1-1 1 2 1-3 1 2 1-1 1 1 1-1 1 2 1-2 1 1 1-1 1 1 1-1 1 1 1-1 1 1 1-1 1 1 1-1 1 1 1-1 1 1 1-1 1 1 1-1 1 1 1-1 1 1 1-1 1 1 1-1 1 1 1-1 1 1 1 0 1 0 1 0 1 12 1-196 1 464 1-539 1 404 1-268 1 237 1-235 1 315 1-377 1 282 1-183 1 162 1-161 1 216 1-259 1 194 1-126 1 112 1-111 1 148 1-177 1 132 1-86 1 77 1-76 1 101 1-121 1 91 1-59 1 52 1-52 1 70 1-84 1 63 1-41 1 36 1-36 1 48 1-57 1 43 1-28 1 25 1-25 1 33 1-39 1 29 1-19 1 17 1-17 1 22 1-26 1 20 1-13 1 11 1-11 1 15 1-18 1 13 1-8 1 7 1-7 1 10 1-13 1 10 1-6 1 5 1-5 1 7 1-9 1 7 1-4 1 3 1-3 1 5 1-6 1 4 1-3 1 3 1-3 1 4 1-4 1 3 1-2 1 1 1-1 1 2 1-3 1 2 1-1 1 1 1-1 1 2 1-2 1 1 1-1 1 1 1-1 1 1 1-1 1 1 1-1 1 1 1-1 1 1 1-1 1 1 1-1 1 1 1-1 1 1 1-1 1 1 1-1 1 1 1-1 1 1 1-1 1 1 1 0 1 0 1 0 1 12 1-196 1 464 1-539 1 404 1-268 1 237 1-235 1 315 1-377 1 282 1-183 1 162 1-161 1 216 1-259 1 194 1-126 1 112 1-111 1 148 1-177 1 132 1-86 1 77 1-76 1 101 1-121 1 91 1-59 1 52 1-52 1 70 1-84 1 63 1-41 1 36 1-36 1 48 1-57 1 43 1-28 1 25 1-25 1 33 1-39 1 29 1-19 1 17 1-17 1 22 1-26 1 20 1-13 1 11 1-11 1 15 1-18 1 13 1-8 1 7 1-7 1 10 1-13 1 10 1-6 1 5 1-5 1 7 1-9 1 7 1-4 1 3 1-3 1 5 1-6 1 4 1-3 1 3 1-3 1 4 1-4 1 3 1-2 1 1 1-1 1 2 1-3 1 2 1-1 1 1 1-1 1 2 1-2 1 1 1-1 1 1 1-1 1 1 1-1 1 1 1-1 1 1 1-1 1 1 1-1 1 1 1-1 1 1 1-1 1 1 1-1 1 1 1-1 1 1 1-1 1 1 1-1 1 1 1 0 1 0 1 0 1 12 1-196 1 464 1-539 1 404 1-268 1 237 1-235 1 315 1-377 1 282 1-183 1 162 1-161 1 216 1-259 1 194 1-126 1 112 1-111 1 148 1-177 1 132 1-86 1 77 1-76 1 101 1-121 1 91 1-59 1 52 1-52 1 70 1-84 1 63 1-41 1 36 1-36 1 48 1-57 1 43 1-28 1 25 1-25 1 33 1-39 1 29 1-19 1 17 1-17 1 22 1-26 1 20 1-13 1 11 1-11 1 15 1-18 1 13 1-8 1 7 1-7 1 10 1-13 1 10 1-6 1 5 1-5 1 7 1-9 1 7 1-4 1 3 1-3 1 5 1-6 1 4 1-3 1 3 1-3 1 4 1-4 1 3 1-2 1 1 1-1 1 2 1-3 1 2 1-1 1 1 1-1 1 2 1-2 1 1 1-1 1 1 1-1 1 1 1-1 1 1 1-1 1 1 1-1 1 1 1-1 1 1 1-1 1 1 1-1 1 1 1-1 1 1 1-1 1 1 1-1 1 1 1-1 1 1 1 0 1 0 1 0 1 12 1-196 1 464 1-539 1 404 1-268 1 237 1-235 1 315 1-377 1 282 1-183 1 162 1-161 1 216 1-259 1 194 1-126 1 112 1-111 1 148 1-177 1 132 1-86 1 77 1-76 1 101 1-121 1 91 1-59 1 52 1-52 1 70 1-84 1 63 1-41 1 36 1-36 1 48 1-57 1 43 1-28 1 25 1-25 1 33 1-39 1 29 1-19 1 17 1-17 1 22 1-26 1 20 1-13 1 11 1-11 1 15 1-18 1 13 1-8 1 7 1-7 1 10 1-13 1 10 1-6 1 5 1-5 1 7 1-9 1 7 1-4 1 3 1-3 1 5 1-6 1 4 1-3 1 3 1-3 1 4 1-4 1 3 1-2 1 1 1-1 1 2 1-3 1 2 1-1 1 1 1-1 1 2 1-2 1 1 1-1 1 1 1-1 1 1 1-1 1 1 1-1 1 1 1-1 1 1 1-1 1 1 1-1 1 1 1-1 1 1 1-1 1 1 1-1 1 1 1-1 1 1 1-1 1 1 1 0 1 0 1 0 1 12 1-196 1 464 1-539 1 404 1-268 1 237 1-235 1 315 1-377 1 282 1-183 1 162 1-161 1 216 1-259 1 194 1-126 1 112 1-111 1 148 1-177 1 132 1-86 1 77 1-76 1 101 1-121 1 91 1-59 1 52 1-52 1 70 1-84 1 63 1-41 1 36 1-36 1 48 1-57 1 43 1-28 1 25 1-25 1 33 1-39 1 29 1-19 1 17 1-17 1 22 1-26 1 20 1-13 1 11 1-11 1 15 1-18 1 13 1-8 1 7 1-7 1 10 1-13 1 10 1-6 1 5 1-5 1 7 1-9 1 7 1-4 1 3 1-3 1 5 1-6 1 4 1-3 1 3 1-3 1 4 1-4 1 3 1-2 1 1 1-1 1 2 1-3 1 2 1-1 1 1 1-1 1 2 1-2 1 1 1-1 1 1 1-1 1 1 1-1 1 1 1-1 1 1 1-1 1 1 1-1 1 1 1-1 1 1 1-1 1 1 1-1 1 1 1-1 1 1 1-1 1 1 1-1 1 1 1 0 1 0 1 0 1 12 1-196 1 464 1-539 1 404 1-268 1 237 1-235 1 315 1-377 1 282 1-183 1 162 1-161 1 216 1-259 1 194 1-126 1 112 1-111 1 148 1-177 1 132 1-86 1 77 1-76 1 101 1-121 1 91 1-59 1 52 1-52 1 70 1-84 1 63 1-41 1 36 1-36 1 48 1-57 1 43 1-28 1 25 1-25 1 33 1-39 1 29 1-19 1 17 1-17 1 22 1-26 1 20 1-13 1 11 1-11 1 15 1-18 1 13 1-8 1 7 1-7 1 10 1-13 1 10 1-6 1 5 1-5 1 7 1-9 1 7 1-4 1 3 1-3 1 5 1-6 1 4 1-3 1 3 1-3 1 4 1-4 1 3 1-2 1 1 1-1 1 2 1-3 1 2 1-1 1 1 1-1 1 2 1-2 1 1 1-1 1 1 1-1 1 1 1-1 1 1 1-1 1 1 1-1 1 1 1-1 1 1 1-1 1 1 1-1 1 1 1-1 1 1 1-1 1 1 1-1 1 1 1-1 1 1 1 0 1 0 1 0 1 12 1-196 1 464 1-539 1 404 1-268 1 237 1-235 1 315 1-377 1 282 1-183 1 162 1-161 1 216 1-259 1 194 1-126 1 112 1-111 1 148 1-177 1 132 1-86 1 77 1-76 1 101 1-121 1 91 1-59 1 52 1-52 1 70 1-84 1 63 1-41 1 36 1-36 1 48 1-57 1 43 1-28 1 25 1-25 1 33 1-39 1 29 1-19 1 17 1-17 1 22 1-26 1 20 1-13 1 11 1-11 1 15 1-18 1 13 1-8 1 7 1-7 1 10 1-13 1 10 1-6 1 5 1-5 1 7 1-9 1 7 1-4 1 3 1-3 1 5 1-6 1 4 1-3 1 3 1-3 1 4 1-4 1 3 1-2 1 1 1-1 1 2 1-3 1 2 1-1 1 1 1-1 1 2 1-2 1 1 1-1 1 1 1-1 1 1 1-1 1 1 1-1 1 1 1-1 1 1 1-1 1 1 1-1 1 1 1-1 1 1 1-1 1 1 1-1 1 1 1-1 1 1 1-1 1 1 1 0 1 0 1 0 1 12 1-196 1 464 1-539 1 404 1-268 1 237 1-235 1 315 1-377 1 282 1-183 1 162 1-161 1 216 1-259 1 194 1-126 1 112 1-111 1 148 1-177 1 132 1-86 1 77 1-76 1 101 1-121 1 91 1-59 1 52 1-52 1 70 1-84 1 63 1-41 1 36 1-36 1 48 1-57 1 43 1-28 1 25 1-25 1 33 1-39 1 29 1-19 1 17 1-17 1 22 1-26 1 20 1-13 1 11 1-11 1 15 1-18 1 13 1-8 1 7 1-7 1 10 1-13 1 10 1-6 1 5 1-5 1 7 1-9 1 7 1-4 1 3 1-3 1 5 1-6 1 4 1-3 1 3 1-3 1 4 1-4 1 3 1-2 1 1 1-1 1 2 1-3 1 2 1-1 1 1 1-1 1 2 1-2 1 1 1-1 1 1 1-1 1 1 1-1 1 1 1-1 1 1 1-1 1 1 1-1 1 1 1-1 1 1 1-1 1 1 1-1 1 1 1-1 1 1 1-1 1 1 1-1 1 1 1 0 1 0 1 0 1 12 1-196 1 464 1-539 1 404 1-268 1 237 1-235 1 315 1-377 1 282 1-183 1 162 1-161 1 216 1-259 1 194 1-126 1 112 1-111 1 148 1-177 1 132 1-86 1 77 1-76 1 101 1-121 1 91 1-59 1 52 1-52 1 70 1-84 1 63 1-41 1 36 1-36 1 48 1-57 1 43 1-28 1 25 1-25 1 33 1-39 1 29 1-19 1 17 1-17 1 22 1-26 1 20 1-13 1 11 1-11 1 15 1-18 1 13 1-8 1 7 1-7 1 10 1-13 1 10 1-6 1 5 1-5 1 7 1-9 1 7 1-4 1 3 1-3 1 5 1-6 1 4 1-3 1 3 1-3 1 4 1-4 1 3 1-2 1 1 1-1 1 2 1-3 1 2 1-1 1 1 1-1 1 2 1-2 1 1 1-1 1 1 1-1 1 1 1-1 1 1 1-1 1 1 1-1 1 1 1-1 1 1 1-1 1 1 1-1 1 1 1-1 1 1 1-1 1 1 1-1 1 1 1-1 1 1 1 0 1 0 1 0 1 12 1-196 1 464 1-539 1 404 1-268 1 237 1-235 1 315 1-377 1 282 1-183 1 162 1-161 1 216 1-259 1 194 1-126 1 112 1-111 1 148 1-177 1 132 1-86 1 77 1-76 1 101 1-121 1 91 1-59 1 52 1-52 1 70 1-84 1 63 1-41 1 36 1-36 1 48 1-57 1 43 1-28 1 25 1-25 1 33 1-39 1 29 1-19 1 17 1-17 1 22 1-26 1 20 1-13 1 11 1-11 1 15 1-18 1 13 1-8 1 7 1-7 1 10 1-13 1 10 1-6 1 5 1-5 1 7 1-9 1 7 1-4 1 3 1-3 1 5 1-6 1 4 1-3 1 3 1-3 1 4 1-4 1 3 1-2 1 1 1-1 1 2 1-3 1 2 1-1 1 1 1-1 1 2 1-2 1 1 1-1 1 1 1-1 1 1 1-1 1 1 1-1 1 1 1-1 1 1 1-1 1 1 1-1 1 1 1-1 1 1 1-1 1 1 1-1 1 1 1-1 1 1 1-1 1 1 1 0 1 0 1 0 1 12 1-196 1 464 1-539 1 404 1-268 1 237 1-235 1 315 1-377 1 282 1-183 1 162 1-161 1 216 1-259 1 194 1-126 1 112 1-111 1 148 1-177 1 132 1-86 1 77 1-76 1 101 1-121 1 91 1-59 1 52 1-52 1 70 1-84 1 63 1-41 1 36 1-36 1 48 1-57 1 43 1-28 1 25 1-25 1 33 1-39 1 29 1-19 1 17 1-17 1 22 1-26 1 20 1-13 1 11 1-11 1 15 1-18 1 13 1-8 1 7 1-7 1 10 1-13 1 10 1-6 1 5 1-5 1 7 1-9 1 7 1-4 1 3 1-3 1 5 1-6 1 4 1-3 1 3 1-3 1 4 1-4 1 3 1-2 1 1 1-1 1 2 1-3 1 2 1-1 1 1 1-1 1 2 1-2 1 1 1-1 1 1 1-1 1 1 1-1 1 1 1-1 1 1 1-1 1 1 1-1 1 1 1-1 1 1 1-1 1 1 1-1 1 1 1-1 1 1 1-1 1 1 1-1 1 1 1 0 1 0 1 0 1 12 1-196 1 464 1-539 1 404 1-268 1 237 1-235 1 315 1-377 1 282 1-183 1 162 1-161 1 216 1-259 1 194 1-126 1 112 1-111 1 148 1-177 1 132 1-86 1 77 1-76 1 101 1-121 1 91 1-59 1 52 1-52 1 70 1-84 1 63 1-41 1 36 1-36 1 48 1-57 1 43 1-28 1 25 1-25 1 33 1-39 1 29 1-19 1 17 1-17 1 22 1-26 1 20 1-13 1 11 1-11 1 15 1-18 1 13 1-8 1 7 1-7 1 10 1-13 1 10 1-6 1 5 1-5 1 7 1-9 1 7 1-4 1 3 1-3 1 5 1-6 1 4 1-3 1 3 1-3 1 4 1-4 1 3 1-2 1 1 1-1 1 2 1-3 1 2 1-1 1 1 1-1 1 2 1-2 1 1 1-1 1 1 1-1 1 1 1-1 1 1 1-1 1 1 1-1 1 1 1-1 1 1 1-1 1 1 1-1 1 1 1-1 1 1 1-1 1 1 1-1 1 1 1-1 1 1 1 0 1 0 1 0 1 12 1-196 1 464 1-539 1 404 1-268 1 237 1-235 1 315 1-377 1 282 1-183 1 162 1-161 1 216 1-259 1 194 1-126 1 112 1-111 1 148 1-177 1 132 1-86 1 77 1-76 1 101 1-121 1 91 1-59 1 52 1-52 1 70 1-84 1 63 1-41 1 36 1-36 1 48 1-57 1 43 1-28 1 25 1-25 1 33 1-39 1 29 1-19 1 17 1-17 1 22 1-26 1 20 1-13 1 11 1-11 1 15 1-18 1 13 1-8 1 7 1-7 1 10 1-13 1 10 1-6 1 5 1-5 1 7 1-9 1 7 1-4 1 3 1-3 1 5 1-6 1 4 1-3 1 3 1-3 1 4 1-4 1 3 1-2 1 1 1-1 1 2 1-3 1 2 1-1 1 1 1-1 1 2 1-2 1 1 1-1 1 1 1-1 1 1 1-1 1 1 1-1 1 1 1-1 1 1 1-1 1 1 1-1 1 1 1-1 1 1 1-1 1 1 1-1 1 1 1-1 1 1 1-1 1 1 1 0 1 0 1 0 1 12 1-196 1 464 1-539 1 404 1-268 1 237 1-235 1 315 1-377 1 282 1-183 1 162 1-161 1 216 1-259 1 194 1-126 1 112 1-111 1 148 1-177 1 132 1-86 1 77 1-76 1 101 1-121 1 91 1-59 1 52 1-52 1 70 1-84 1 63 1-41 1 36 1-36 1 48 1-57 1 43 1-28 1 25 1-25 1 33 1-39 1 29 1-19 1 17 1-17 1 22 1-26 1 20 1-13 1 11 1-11 1 15 1-18 1 13 1-8 1 7 1-7 1 10 1-13 1 10 1-6 1 5 1-5 1 7 1-9 1 7 1-4 1 3 1-3 1 5 1-6 1 4 1-3 1 3 1-3 1 4 1-4 1 3 1-2 1 1 1-1 1 2 1-3 1 2 1-1 1 1 1-1 1 2 1-2 1 1 1-1 1 1 1-1 1 1 1-1 1 1 1-1 1 1 1-1 1 1 1-1 1 1 1-1 1 1 1-1 1 1 1-1 1 1 1-1 1 1 1-1 1 1 1-1 1 1 1 0 1 0 1 0 1 12 1-196 1 464 1-539 1 404 1-268 1 237 1-235 1 315 1-377 1 282 1-183 1 162 1-161 1 216 1-259 1 194 1-126 1 112 1-111 1 148 1-177 1 132 1-86 1 77 1-76 1 101 1-121 1 91 1-59 1 52 1-52 1 70 1-84 1 63 1-41 1 36 1-36 1 48 1-57 1 43 1-28 1 25 1-25 1 33 1-39 1 29 1-19 1 17 1-17 1 22 1-26 1 20 1-13 1 11 1-11 1 15 1-18 1 13 1-8 1 7 1-7 1 10 1-13 1 10 1-6 1 5 1-5 1 7 1-9 1 7 1-4 1 3 1-3 1 5 1-6 1 4 1-3 1 3 1-3 1 4 1-4 1 3 1-2 1 1 1-1 1 2 1-3 1 2 1-1 1 1 1-1 1 2 1-2 1 1 1-1 1 1 1-1 1 1 1-1 1 1 1-1 1 1 1-1 1 1 1-1 1 1 1-1 1 1 1-1 1 1 1-1 1 1 1-1 1 1 1-1 1 1 1-1 1 1 1 0 1 0 1 0 1 12 1-196 1 464 1-539 1 404 1-268 1 237 1-235 1 315 1-377 1 282 1-183 1 162 1-161 1 216 1-259 1 194 1-126 1 112 1-111 1 148 1-177 1 132 1-86 1 77 1-76 1 101 1-121 1 91 1-59 1 52 1-52 1 70 1-84 1 63 1-41 1 36 1-36 1 48 1-57 1 43 1-28 1 25 1-25 1 33 1-39 1 29 1-19 1 17 1-17 1 22 1-26 1 20 1-13 1 11 1-11 1 15 1-18 1 13 1-8 1 7 1-7 1 10 1-13 1 10 1-6 1 5 1-5 1 7 1-9 1 7 1-4 1 3 1-3 1 5 1-6 1 4 1-3 1 3 1-3 1 4 1-4 1 3 1-2 1 1 1-1 1 2 1-3 1 2 1-1 1 1 1-1 1 2 1-2 1 1 1-1 1 1 1-1 1 1 1-1 1 1 1-1 1 1 1-1 1 1 1-1 1 1 1-1 1 1 1-1 1 1 1-1 1 1 1-1 1 1 1-1 1 1 1-1 1 1 1 0 1 0 1 0 1 12 1-196 1 464 1-539 1 404 1-268 1 237 1-235 1 315 1-377 1 282 1-183 1 162 1-161 1 216 1-259 1 194 1-126 1 112 1-111 1 148 1-177 1 132 1-86 1 77 1-76 1 101 1-121 1 91 1-59 1 52 1-52 1 70 1-84 1 63 1-41 1 36 1-36 1 48 1-57 1 43 1-28 1 25 1-25 1 33 1-39 1 29 1-19 1 17 1-17 1 22 1-26 1 20 1-13 1 11 1-11 1 15 1-18 1 13 1-8 1 7 1-7 1 10 1-13 1 10 1-6 1 5 1-5 1 7 1-9 1 7 1-4 1 3 1-3 1 5 1-6 1 4 1-3 1 3 1-3 1 4 1-4 1 3 1-2 1 1 1-1 1 2 1-3 1 2 1-1 1 1 1-1 1 2 1-2 1 1 1-1 1 1 1-1 1 1 1-1 1 1 1-1 1 1 1-1 1 1 1-1 1 1 1-1 1 1 1-1 1 1 1-1 1 1 1-1 1 1 1-1 1 1 1-1 1 1 1 0 1 0 1 0 1 12 1-196 1 464 1-539 1 404 1-268 1 237 1-235 1 315 1-377 1 282 1-183 1 162 1-161 1 216 1-259 1 194 1-126 1 112 1-111 1 148 1-177 1 132 1-86 1 77 1-76 1 101 1-121 1 91 1-59 1 52 1-52 1 70 1-84 1 63 1-41 1 36 1-36 1 48 1-57 1 43 1-28 1 25 1-25 1 33 1-39 1 29 1-19 1 17 1-17 1 22 1-26 1 20 1-13 1 11 1-11 1 15 1-18 1 13 1-8 1 7 1-7 1 10 1-13 1 10 1-6 1 5 1-5 1 7 1-9 1 7 1-4 1 3 1-3 1 5 1-6 1 4 1-3 1 3 1-3 1 4 1-4 1 3 1-2 1 1 1-1 1 2 1-3 1 2 1-1 1 1 1-1 1 2 1-2 1 1 1-1 1 1 1-1 1 1 1-1 1 1 1-1 1 1 1-1 1 1 1-1 1 1 1-1 1 1 1-1 1 1 1-1 1 1 1-1 1 1 1-1 1 1 1-1 1 1 1 0 1 0 1 0 1 12 1-196 1 464 1-539 1 404 1-268 1 237 1-235 1 315 1-377 1 282 1-183 1 162 1-161 1 216 1-259 1 194 1-126 1 112 1-111 1 148 1-177 1 132 1-86 1 77 1-76 1 101 1-121 1 91 1-59 1 52 1-52 1 70 1-84 1 63 1-41 1 36 1-36 1 48 1-57 1 43 1-28 1 25 1-25 1 33 1-39 1 29 1-19 1 17 1-17 1 22 1-26 1 20 1-13 1 11 1-11 1 15 1-18 1 13 1-8 1 7 1-7 1 10 1-13 1 10 1-6 1 5 1-5 1 7 1-9 1 7 1-4 1 3 1-3 1 5 1-6 1 4 1-3 1 3 1-3 1 4 1-4 1 3 1-2 1 1 1-1 1 2 1-3 1 2 1-1 1 1 1-1 1 2 1-2 1 1 1-1 1 1 1-1 1 1 1-1 1 1 1-1 1 1 1-1 1 1 1-1 1 1 1-1 1 1 1-1 1 1 1-1 1 1 1-1 1 1 1-1 1 1 1-1 1 1" fill="none" stroke="#0000ff" stroke-width="1.2" stroke-linejoin="round" vector-effect="non-scaling-stroke"/></g>
<g clip-path="url(#cbL)"><path transform="translate(84.750 427.30) scale(0.068363 0.5)" d="M0 237l1-12 1-9 1-5 1-1 1 1 1 1 1 3 1 4 1 4 1 4 1 5 1 4 1 4 1 3 1 4 1 3 1 3 1 3 1 2 1 3 1 2 1 3 1 2 1 3 1 2 1 2 1 2 1 1 1 2 1 2 1 1 1 2 1 1 1 1 1 1 1 2 1 1 1 1 1 1 1 1 1 1 1 1 1 1 1 1 1 0 1 1 1 1 1 1 1 0 1 1 1 0 1 1 1 0 1 1 1 0 1 1 1 0 1 0 1 1 1 0 1 0 1 1 1 0 1 0 1 1 1 0 1 0 1 0 1 1 1 0 1 0 1 0 1 0 1 0 1 0 1 1 1 0 1 0 1 0 1 0 1 0 1 0 1 0 1 0 1 0 1 0 1 0 1 0 1 0 1 0 1 0 1 0 1 0 1 0 1 1 1 0 1 0 1 0 1 0 1 0 1 0 1 0 1 0 1 0 1 0 1 0 1 0 1 0 1 0 1 0 1 0 1 0 1 0 1-1 1-1 1-4 1-7 1-10 1-11 1-13 1-14 1-13 1-12 1-9 1-5 1-1 1 1 1 1 1 3 1 4 1 4 1 4 1 5 1 4 1 4 1 3 1 4 1 3 1 3 1 3 1 2 1 3 1 2 1 3 1 2 1 3 1 2 1 2 1 2 1 1 1 2 1 2 1 1 1 2 1 1 1 1 1 1 1 2 1 1 1 1 1 1 1 1 1 1 1 1 1 1 1 1 1 0 1 1 1 1 1 1 1 0 1 1 1 0 1 1 1 0 1 1 1 0 1 1 1 0 1 0 1 1 1 0 1 0 1 1 1 0 1 0 1 1 1 0 1 0 1 0 1 1 1 0 1 0 1 0 1 0 1 0 1 0 1 1 1 0 1 0 1 0 1 0 1 0 1 0 1 0 1 0 1 0 1 0 1 0 1 0 1 0 1 0 1 0 1 0 1 0 1 0 1 1 1 0 1 0 1 0 1 0 1 0 1 0 1 0 1 0 1 0 1 0 1 0 1 0 1 0 1 0 1 0 1 0 1 0 1 0 1-1 1-1 1-4 1-7 1-10 1-11 1-13 1-14 1-13 1-12 1-9 1-5 1-1 1 1 1 1 1 3 1 4 1 4 1 4 1 5 1 4 1 4 1 3 1 4 1 3 1 3 1 3 1 2 1 3 1 2 1 3 1 2 1 3 1 2 1 2 1 2 1 1 1 2 1 2 1 1 1 2 1 1 1 1 1 1 1 2 1 1 1 1 1 1 1 1 1 1 1 1 1 1 1 1 1 0 1 1 1 1 1 1 1 0 1 1 1 0 1 1 1 0 1 1 1 0 1 1 1 0 1 0 1 1 1 0 1 0 1 1 1 0 1 0 1 1 1 0 1 0 1 0 1 1 1 0 1 0 1 0 1 0 1 0 1 0 1 1 1 0 1 0 1 0 1 0 1 0 1 0 1 0 1 0 1 0 1 0 1 0 1 0 1 0 1 0 1 0 1 0 1 0 1 0 1 1 1 0 1 0 1 0 1 0 1 0 1 0 1 0 1 0 1 0 1 0 1 0 1 0 1 0 1 0 1 0 1 0 1 0 1 0 1-1 1-1 1-4 1-7 1-10 1-11 1-13 1-14 1-13 1-12 1-9 1-5 1-1 1 1 1 1 1 3 1 4 1 4 1 4 1 5 1 4 1 4 1 3 1 4 1 3 1 3 1 3 1 2 1 3 1 2 1 3 1 2 1 3 1 2 1 2 1 2 1 1 1 2 1 2 1 1 1 2 1 1 1 1 1 1 1 2 1 1 1 1 1 1 1 1 1 1 1 1 1 1 1 1 1 0 1 1 1 1 1 1 1 0 1 1 1 0 1 1 1 0 1 1 1 0 1 1 1 0 1 0 1 1 1 0 1 0 1 1 1 0 1 0 1 1 1 0 1 0 1 0 1 1 1 0 1 0 1 0 1 0 1 0 1 0 1 1 1 0 1 0 1 0 1 0 1 0 1 0 1 0 1 0 1 0 1 0 1 0 1 0 1 0 1 0 1 0 1 0 1 0 1 0 1 1 1 0 1 0 1 0 1 0 1 0 1 0 1 0 1 0 1 0 1 0 1 0 1 0 1 0 1 0 1 0 1 0 1 0 1 0 1-1 1-1 1-4 1-7 1-10 1-11 1-13 1-14 1-13 1-12 1-9 1-5 1-1 1 1 1 1 1 3 1 4 1 4 1 4 1 5 1 4 1 4 1 3 1 4 1 3 1 3 1 3 1 2 1 3 1 2 1 3 1 2 1 3 1 2 1 2 1 2 1 1 1 2 1 2 1 1 1 2 1 1 1 1 1 1 1 2 1 1 1 1 1 1 1 1 1 1 1 1 1 1 1 1 1 0 1 1 1 1 1 1 1 0 1 1 1 0 1 1 1 0 1 1 1 0 1 1 1 0 1 0 1 1 1 0 1 0 1 1 1 0 1 0 1 1 1 0 1 0 1 0 1 1 1 0 1 0 1 0 1 0 1 0 1 0 1 1 1 0 1 0 1 0 1 0 1 0 1 0 1 0 1 0 1 0 1 0 1 0 1 0 1 0 1 0 1 0 1 0 1 0 1 0 1 1 1 0 1 0 1 0 1 0 1 0 1 0 1 0 1 0 1 0 1 0 1 0 1 0 1 0 1 0 1 0 1 0 1 0 1 0 1-1 1-1 1-4 1-7 1-10 1-11 1-13 1-14 1-13 1-12 1-9 1-5 1-1 1 1 1 1 1 3 1 4 1 4 1 4 1 5 1 4 1 4 1 3 1 4 1 3 1 3 1 3 1 2 1 3 1 2 1 3 1 2 1 3 1 2 1 2 1 2 1 1 1 2 1 2 1 1 1 2 1 1 1 1 1 1 1 2 1 1 1 1 1 1 1 1 1 1 1 1 1 1 1 1 1 0 1 1 1 1 1 1 1 0 1 1 1 0 1 1 1 0 1 1 1 0 1 1 1 0 1 0 1 1 1 0 1 0 1 1 1 0 1 0 1 1 1 0 1 0 1 0 1 1 1 0 1 0 1 0 1 0 1 0 1 0 1 1 1 0 1 0 1 0 1 0 1 0 1 0 1 0 1 0 1 0 1 0 1 0 1 0 1 0 1 0 1 0 1 0 1 0 1 0 1 1 1 0 1 0 1 0 1 0 1 0 1 0 1 0 1 0 1 0 1 0 1 0 1 0 1 0 1 0 1 0 1 0 1 0 1 0 1-1 1-1 1-4 1-7 1-10 1-11 1-13 1-14 1-13 1-12 1-9 1-5 1-1 1 1 1 1 1 3 1 4 1 4 1 4 1 5 1 4 1 4 1 3 1 4 1 3 1 3 1 3 1 2 1 3 1 2 1 3 1 2 1 3 1 2 1 2 1 2 1 1 1 2 1 2 1 1 1 2 1 1 1 1 1 1 1 2 1 1 1 1 1 1 1 1 1 1 1 1 1 1 1 1 1 0 1 1 1 1 1 1 1 0 1 1 1 0 1 1 1 0 1 1 1 0 1 1 1 0 1 0 1 1 1 0 1 0 1 1 1 0 1 0 1 1 1 0 1 0 1 0 1 1 1 0 1 0 1 0 1 0 1 0 1 0 1 1 1 0 1 0 1 0 1 0 1 0 1 0 1 0 1 0 1 0 1 0 1 0 1 0 1 0 1 0 1 0 1 0 1 0 1 0 1 1 1 0 1 0 1 0 1 0 1 0 1 0 1 0 1 0 1 0 1 0 1 0 1 0 1 0 1 0 1 0 1 0 1 0 1 0 1-1 1-1 1-4 1-7 1-10 1-11 1-13 1-14 1-13 1-12 1-9 1-5 1-1 1 1 1 1 1 3 1 4 1 4 1 4 1 5 1 4 1 4 1 3 1 4 1 3 1 3 1 3 1 2 1 3 1 2 1 3 1 2 1 3 1 2 1 2 1 2 1 1 1 2 1 2 1 1 1 2 1 1 1 1 1 1 1 2 1 1 1 1 1 1 1 1 1 1 1 1 1 1 1 1 1 0 1 1 1 1 1 1 1 0 1 1 1 0 1 1 1 0 1 1 1 0 1 1 1 0 1 0 1 1 1 0 1 0 1 1 1 0 1 0 1 1 1 0 1 0 1 0 1 1 1 0 1 0 1 0 1 0 1 0 1 0 1 1 1 0 1 0 1 0 1 0 1 0 1 0 1 0 1 0 1 0 1 0 1 0 1 0 1 0 1 0 1 0 1 0 1 0 1 0 1 1 1 0 1 0 1 0 1 0 1 0 1 0 1 0 1 0 1 0 1 0 1 0 1 0 1 0 1 0 1 0 1 0 1 0 1 0 1-1 1-1 1-4 1-7 1-10 1-11 1-13 1-14 1-13 1-12 1-9 1-5 1-1 1 1 1 1 1 3 1 4 1 4 1 4 1 5 1 4 1 4 1 3 1 4 1 3 1 3 1 3 1 2 1 3 1 2 1 3 1 2 1 3 1 2 1 2 1 2 1 1 1 2 1 2 1 1 1 2 1 1 1 1 1 1 1 2 1 1 1 1 1 1 1 1 1 1 1 1 1 1 1 1 1 0 1 1 1 1 1 1 1 0 1 1 1 0 1 1 1 0 1 1 1 0 1 1 1 0 1 0 1 1 1 0 1 0 1 1 1 0 1 0 1 1 1 0 1 0 1 0 1 1 1 0 1 0 1 0 1 0 1 0 1 0 1 1 1 0 1 0 1 0 1 0 1 0 1 0 1 0 1 0 1 0 1 0 1 0 1 0 1 0 1 0 1 0 1 0 1 0 1 0 1 1 1 0 1 0 1 0 1 0 1 0 1 0 1 0 1 0 1 0 1 0 1 0 1 0 1 0 1 0 1 0 1 0 1 0 1 0 1-1 1-1 1-4 1-7 1-10 1-11 1-13 1-14 1-13 1-12 1-9 1-5 1-1 1 1 1 1 1 3 1 4 1 4 1 4 1 5 1 4 1 4 1 3 1 4 1 3 1 3 1 3 1 2 1 3 1 2 1 3 1 2 1 3 1 2 1 2 1 2 1 1 1 2 1 2 1 1 1 2 1 1 1 1 1 1 1 2 1 1 1 1 1 1 1 1 1 1 1 1 1 1 1 1 1 0 1 1 1 1 1 1 1 0 1 1 1 0 1 1 1 0 1 1 1 0 1 1 1 0 1 0 1 1 1 0 1 0 1 1 1 0 1 0 1 1 1 0 1 0 1 0 1 1 1 0 1 0 1 0 1 0 1 0 1 0 1 1 1 0 1 0 1 0 1 0 1 0 1 0 1 0 1 0 1 0 1 0 1 0 1 0 1 0 1 0 1 0 1 0 1 0 1 0 1 1 1 0 1 0 1 0 1 0 1 0 1 0 1 0 1 0 1 0 1 0 1 0 1 0 1 0 1 0 1 0 1 0 1 0 1 0 1-1 1-1 1-4 1-7 1-10 1-11 1-13 1-14 1-13 1-12 1-9 1-5 1-1 1 1 1 1 1 3 1 4 1 4 1 4 1 5 1 4 1 4 1 3 1 4 1 3 1 3 1 3 1 2 1 3 1 2 1 3 1 2 1 3 1 2 1 2 1 2 1 1 1 2 1 2 1 1 1 2 1 1 1 1 1 1 1 2 1 1 1 1 1 1 1 1 1 1 1 1 1 1 1 1 1 0 1 1 1 1 1 1 1 0 1 1 1 0 1 1 1 0 1 1 1 0 1 1 1 0 1 0 1 1 1 0 1 0 1 1 1 0 1 0 1 1 1 0 1 0 1 0 1 1 1 0 1 0 1 0 1 0 1 0 1 0 1 1 1 0 1 0 1 0 1 0 1 0 1 0 1 0 1 0 1 0 1 0 1 0 1 0 1 0 1 0 1 0 1 0 1 0 1 0 1 1 1 0 1 0 1 0 1 0 1 0 1 0 1 0 1 0 1 0 1 0 1 0 1 0 1 0 1 0 1 0 1 0 1 0 1 0 1-1 1-1 1-4 1-7 1-10 1-11 1-13 1-14 1-13 1-12 1-9 1-5 1-1 1 1 1 1 1 3 1 4 1 4 1 4 1 5 1 4 1 4 1 3 1 4 1 3 1 3 1 3 1 2 1 3 1 2 1 3 1 2 1 3 1 2 1 2 1 2 1 1 1 2 1 2 1 1 1 2 1 1 1 1 1 1 1 2 1 1 1 1 1 1 1 1 1 1 1 1 1 1 1 1 1 0 1 1 1 1 1 1 1 0 1 1 1 0 1 1 1 0 1 1 1 0 1 1 1 0 1 0 1 1 1 0 1 0 1 1 1 0 1 0 1 1 1 0 1 0 1 0 1 1 1 0 1 0 1 0 1 0 1 0 1 0 1 1 1 0 1 0 1 0 1 0 1 0 1 0 1 0 1 0 1 0 1 0 1 0 1 0 1 0 1 0 1 0 1 0 1 0 1 0 1 1 1 0 1 0 1 0 1 0 1 0 1 0 1 0 1 0 1 0 1 0 1 0 1 0 1 0 1 0 1 0 1 0 1 0 1 0 1-1 1-1 1-4 1-7 1-10 1-11 1-13 1-14 1-13 1-12 1-9 1-5 1-1 1 1 1 1 1 3 1 4 1 4 1 4 1 5 1 4 1 4 1 3 1 4 1 3 1 3 1 3 1 2 1 3 1 2 1 3 1 2 1 3 1 2 1 2 1 2 1 1 1 2 1 2 1 1 1 2 1 1 1 1 1 1 1 2 1 1 1 1 1 1 1 1 1 1 1 1 1 1 1 1 1 0 1 1 1 1 1 1 1 0 1 1 1 0 1 1 1 0 1 1 1 0 1 1 1 0 1 0 1 1 1 0 1 0 1 1 1 0 1 0 1 1 1 0 1 0 1 0 1 1 1 0 1 0 1 0 1 0 1 0 1 0 1 1 1 0 1 0 1 0 1 0 1 0 1 0 1 0 1 0 1 0 1 0 1 0 1 0 1 0 1 0 1 0 1 0 1 0 1 0 1 1 1 0 1 0 1 0 1 0 1 0 1 0 1 0 1 0 1 0 1 0 1 0 1 0 1 0 1 0 1 0 1 0 1 0 1 0 1-1 1-1 1-4 1-7 1-10 1-11 1-13 1-14 1-13 1-12 1-9 1-5 1-1 1 1 1 1 1 3 1 4 1 4 1 4 1 5 1 4 1 4 1 3 1 4 1 3 1 3 1 3 1 2 1 3 1 2 1 3 1 2 1 3 1 2 1 2 1 2 1 1 1 2 1 2 1 1 1 2 1 1 1 1 1 1 1 2 1 1 1 1 1 1 1 1 1 1 1 1 1 1 1 1 1 0 1 1 1 1 1 1 1 0 1 1 1 0 1 1 1 0 1 1 1 0 1 1 1 0 1 0 1 1 1 0 1 0 1 1 1 0 1 0 1 1 1 0 1 0 1 0 1 1 1 0 1 0 1 0 1 0 1 0 1 0 1 1 1 0 1 0 1 0 1 0 1 0 1 0 1 0 1 0 1 0 1 0 1 0 1 0 1 0 1 0 1 0 1 0 1 0 1 0 1 1 1 0 1 0 1 0 1 0 1 0 1 0 1 0 1 0 1 0 1 0 1 0 1 0 1 0 1 0 1 0 1 0 1 0 1 0 1-1 1-1 1-4 1-7 1-10 1-11 1-13 1-14 1-13 1-12 1-9 1-5 1-1 1 1 1 1 1 3 1 4 1 4 1 4 1 5 1 4 1 4 1 3 1 4 1 3 1 3 1 3 1 2 1 3 1 2 1 3 1 2 1 3 1 2 1 2 1 2 1 1 1 2 1 2 1 1 1 2 1 1 1 1 1 1 1 2 1 1 1 1 1 1 1 1 1 1 1 1 1 1 1 1 1 0 1 1 1 1 1 1 1 0 1 1 1 0 1 1 1 0 1 1 1 0 1 1 1 0 1 0 1 1 1 0 1 0 1 1 1 0 1 0 1 1 1 0 1 0 1 0 1 1 1 0 1 0 1 0 1 0 1 0 1 0 1 1 1 0 1 0 1 0 1 0 1 0 1 0 1 0 1 0 1 0 1 0 1 0 1 0 1 0 1 0 1 0 1 0 1 0 1 0 1 1 1 0 1 0 1 0 1 0 1 0 1 0 1 0 1 0 1 0 1 0 1 0 1 0 1 0 1 0 1 0 1 0 1 0 1 0 1-1 1-1 1-4 1-7 1-10 1-11 1-13 1-14 1-13 1-12 1-9 1-5 1-1 1 1 1 1 1 3 1 4 1 4 1 4 1 5 1 4 1 4 1 3 1 4 1 3 1 3 1 3 1 2 1 3 1 2 1 3 1 2 1 3 1 2 1 2 1 2 1 1 1 2 1 2 1 1 1 2 1 1 1 1 1 1 1 2 1 1 1 1 1 1 1 1 1 1 1 1 1 1 1 1 1 0 1 1 1 1 1 1 1 0 1 1 1 0 1 1 1 0 1 1 1 0 1 1 1 0 1 0 1 1 1 0 1 0 1 1 1 0 1 0 1 1 1 0 1 0 1 0 1 1 1 0 1 0 1 0 1 0 1 0 1 0 1 1 1 0 1 0 1 0 1 0 1 0 1 0 1 0 1 0 1 0 1 0 1 0 1 0 1 0 1 0 1 0 1 0 1 0 1 0 1 1 1 0 1 0 1 0 1 0 1 0 1 0 1 0 1 0 1 0 1 0 1 0 1 0 1 0 1 0 1 0 1 0 1 0 1 0 1-1 1-1 1-4 1-7 1-10 1-11 1-13 1-14 1-13 1-12 1-9 1-5 1-1 1 1 1 1 1 3 1 4 1 4 1 4 1 5 1 4 1 4 1 3 1 4 1 3 1 3 1 3 1 2 1 3 1 2 1 3 1 2 1 3 1 2 1 2 1 2 1 1 1 2 1 2 1 1 1 2 1 1 1 1 1 1 1 2 1 1 1 1 1 1 1 1 1 1 1 1 1 1 1 1 1 0 1 1 1 1 1 1 1 0 1 1 1 0 1 1 1 0 1 1 1 0 1 1 1 0 1 0 1 1 1 0 1 0 1 1 1 0 1 0 1 1 1 0 1 0 1 0 1 1 1 0 1 0 1 0 1 0 1 0 1 0 1 1 1 0 1 0 1 0 1 0 1 0 1 0 1 0 1 0 1 0 1 0 1 0 1 0 1 0 1 0 1 0 1 0 1 0 1 0 1 1 1 0 1 0 1 0 1 0 1 0 1 0 1 0 1 0 1 0 1 0 1 0 1 0 1 0 1 0 1 0 1 0 1 0 1 0 1-1 1-1 1-4 1-7 1-10 1-11 1-13 1-14 1-13 1-12 1-9 1-5 1-1 1 1 1 1 1 3 1 4 1 4 1 4 1 5 1 4 1 4 1 3 1 4 1 3 1 3 1 3 1 2 1 3 1 2 1 3 1 2 1 3 1 2 1 2 1 2 1 1 1 2 1 2 1 1 1 2 1 1 1 1 1 1 1 2 1 1 1 1 1 1 1 1 1 1 1 1 1 1 1 1 1 0 1 1 1 1 1 1 1 0 1 1 1 0 1 1 1 0 1 1 1 0 1 1 1 0 1 0 1 1 1 0 1 0 1 1 1 0 1 0 1 1 1 0 1 0 1 0 1 1 1 0 1 0 1 0 1 0 1 0 1 0 1 1 1 0 1 0 1 0 1 0 1 0 1 0 1 0 1 0 1 0 1 0 1 0 1 0 1 0 1 0 1 0 1 0 1 0 1 0 1 1 1 0 1 0 1 0 1 0 1 0 1 0 1 0 1 0 1 0 1 0 1 0 1 0 1 0 1 0 1 0 1 0 1 0 1 0 1-1 1-1 1-4 1-7 1-10 1-11 1-13 1-14 1-13 1-12 1-9 1-5 1-1 1 1 1 1 1 3 1 4 1 4 1 4 1 5 1 4 1 4 1 3 1 4 1 3 1 3 1 3 1 2 1 3 1 2 1 3 1 2 1 3 1 2 1 2 1 2 1 1 1 2 1 2 1 1 1 2 1 1 1 1 1 1 1 2 1 1 1 1 1 1 1 1 1 1 1 1 1 1 1 1 1 0 1 1 1 1 1 1 1 0 1 1 1 0 1 1 1 0 1 1 1 0 1 1 1 0 1 0 1 1 1 0 1 0 1 1 1 0 1 0 1 1 1 0 1 0 1 0 1 1 1 0 1 0 1 0 1 0 1 0 1 0 1 1 1 0 1 0 1 0 1 0 1 0 1 0 1 0 1 0 1 0 1 0 1 0 1 0 1 0 1 0 1 0 1 0 1 0 1 0 1 1 1 0 1 0 1 0 1 0 1 0 1 0 1 0 1 0 1 0 1 0 1 0 1 0 1 0 1 0 1 0 1 0 1 0 1 0 1-1 1-1 1-4 1-7 1-10 1-11 1-13 1-14 1-13 1-12 1-9 1-5 1-1 1 1 1 1 1 3 1 4 1 4 1 4 1 5 1 4 1 4 1 3 1 4 1 3 1 3 1 3 1 2 1 3 1 2 1 3 1 2 1 3 1 2 1 2 1 2 1 1 1 2 1 2 1 1 1 2 1 1 1 1 1 1 1 2 1 1 1 1 1 1 1 1 1 1 1 1 1 1 1 1 1 0 1 1 1 1 1 1 1 0 1 1 1 0 1 1 1 0 1 1 1 0 1 1 1 0 1 0 1 1 1 0 1 0 1 1 1 0 1 0 1 1 1 0 1 0 1 0 1 1 1 0 1 0 1 0 1 0 1 0 1 0 1 1 1 0 1 0 1 0 1 0 1 0 1 0 1 0 1 0 1 0 1 0 1 0 1 0 1 0 1 0 1 0 1 0 1 0 1 0 1 1 1 0 1 0 1 0 1 0 1 0 1 0 1 0 1 0 1 0 1 0 1 0 1 0 1 0 1 0 1 0 1 0 1 0 1 0 1-1 1-1 1-4 1-7 1-10 1-11 1-13 1-14 1-13 1-12 1-9 1-5 1-1 1 1 1 1 1 3 1 4 1 4 1 4 1 5 1 4 1 4 1 3 1 4 1 3 1 3 1 3 1 2 1 3 1 2 1 3 1 2 1 3 1 2 1 2 1 2 1 1 1 2 1 2 1 1 1 2 1 1 1 1 1 1 1 2 1 1 1 1 1 1 1 1 1 1 1 1 1 1 1 1 1 0 1 1 1 1 1 1 1 0 1 1 1 0 1 1 1 0 1 1 1 0 1 1 1 0 1 0 1 1 1 0 1 0 1 1 1 0 1 0 1 1 1 0 1 0 1 0 1 1 1 0 1 0 1 0 1 0 1 0 1 0 1 1 1 0 1 0 1 0 1 0 1 0 1 0 1 0 1 0 1 0 1 0 1 0 1 0 1 0 1 0 1 0 1 0 1 0 1 0 1 1 1 0 1 0 1 0 1 0 1 0 1 0 1 0 1 0 1 0 1 0 1 0 1 0 1 0 1 0 1 0 1 0 1 0 1 0 1-1 1-1 1-4 1-7 1-10 1-11 1-13 1-14 1-13 1-12 1-9 1-5 1-1 1 1 1 1 1 3 1 4 1 4 1 4 1 5 1 4 1 4 1 3 1 4 1 3 1 3 1 3 1 2 1 3 1 2 1 3 1 2 1 3 1 2 1 2 1 2 1 1 1 2 1 2 1 1 1 2 1 1 1 1 1 1 1 2 1 1 1 1 1 1 1 1 1 1 1 1 1 1 1 1 1 0 1 1 1 1 1 1 1 0 1 1 1 0 1 1 1 0 1 1 1 0 1 1 1 0 1 0 1 1 1 0 1 0 1 1 1 0 1 0 1 1 1 0 1 0 1 0 1 1 1 0 1 0 1 0 1 0 1 0 1 0 1 1 1 0 1 0 1 0 1 0 1 0 1 0 1 0 1 0 1 0 1 0 1 0 1 0 1 0 1 0 1 0 1 0 1 0 1 0 1 1 1 0 1 0 1 0 1 0 1 0 1 0 1 0 1 0 1 0 1 0 1 0 1 0 1 0 1 0 1 0 1 0 1 0 1 0 1-1 1-1 1-4 1-7 1-10 1-11 1-13 1-14 1-13 1-12 1-9 1-5 1-1 1 1 1 1 1 3 1 4 1 4 1 4 1 5 1 4 1 4 1 3 1 4 1 3 1 3 1 3 1 2 1 3 1 2 1 3 1 2 1 3 1 2 1 2 1 2 1 1 1 2 1 2 1 1 1 2 1 1 1 1 1 1 1 2 1 1 1 1 1 1 1 1 1 1 1 1 1 1 1 1 1 0 1 1 1 1 1 1 1 0 1 1 1 0 1 1 1 0 1 1 1 0 1 1 1 0 1 0 1 1 1 0 1 0 1 1 1 0 1 0 1 1 1 0 1 0 1 0 1 1 1 0 1 0 1 0 1 0 1 0 1 0 1 1 1 0 1 0 1 0 1 0 1 0 1 0 1 0 1 0 1 0 1 0 1 0 1 0 1 0 1 0 1 0 1 0 1 0 1 0 1 1 1 0 1 0 1 0 1 0 1 0 1 0 1 0 1 0 1 0 1 0 1 0 1 0 1 0 1 0 1 0 1 0 1 0 1 0 1-1 1-1 1-4 1-7 1-10 1-11 1-13 1-14 1-13 1-12 1-9 1-5 1-1 1 1 1 1 1 3 1 4 1 4 1 4 1 5 1 4 1 4 1 3 1 4 1 3 1 3 1 3 1 2 1 3 1 2 1 3 1 2 1 3 1 2 1 2 1 2 1 1 1 2 1 2 1 1 1 2 1 1 1 1 1 1 1 2 1 1 1 1 1 1 1 1 1 1 1 1 1 1 1 1 1 0 1 1 1 1 1 1 1 0 1 1 1 0 1 1 1 0 1 1 1 0 1 1 1 0 1 0 1 1 1 0 1 0 1 1 1 0 1 0 1 1 1 0 1 0 1 0 1 1 1 0 1 0 1 0 1 0 1 0 1 0 1 1 1 0 1 0 1 0 1 0 1 0 1 0 1 0 1 0 1 0 1 0 1 0 1 0 1 0 1 0 1 0 1 0 1 0 1 0 1 1 1 0 1 0 1 0 1 0 1 0 1 0 1 0 1 0 1 0 1 0 1 0 1 0 1 0 1 0 1 0 1 0 1 0 1 0 1-1 1-1 1-4 1-7 1-10 1-11 1-13 1-14 1-13 1-12 1-9 1-5 1-1 1 1 1 1 1 3 1 4 1 4 1 4 1 5 1 4 1 4 1 3 1 4 1 3 1 3 1 3 1 2 1 3 1 2 1 3 1 2 1 3 1 2 1 2 1 2 1 1 1 2 1 2 1 1 1 2 1 1 1 1 1 1 1 2 1 1 1 1 1 1 1 1 1 1 1 1 1 1 1 1 1 0 1 1 1 1 1 1 1 0 1 1 1 0 1 1 1 0 1 1 1 0 1 1 1 0 1 0 1 1 1 0 1 0 1 1 1 0 1 0 1 1 1 0 1 0 1 0 1 1 1 0 1 0 1 0 1 0 1 0 1 0 1 1 1 0 1 0 1 0 1 0 1 0 1 0 1 0 1 0 1 0 1 0 1 0 1 0 1 0 1 0 1 0 1 0 1 0 1 0 1 1 1 0 1 0 1 0 1 0 1 0 1 0 1 0 1 0 1 0 1 0 1 0 1 0 1 0 1 0 1 0 1 0 1 0 1 0 1-1 1-1 1-4 1-7 1-10 1-11 1-13 1-14 1-13 1-12 1-9 1-5 1-1 1 1 1 1 1 3 1 4 1 4 1 4 1 5 1 4 1 4 1 3 1 4 1 3 1 3 1 3 1 2 1 3 1 2 1 3 1 2 1 3 1 2 1 2 1 2 1 1 1 2 1 2 1 1 1 2 1 1 1 1 1 1 1 2 1 1 1 1 1 1 1 1 1 1 1 1 1 1 1 1 1 0 1 1 1 1 1 1 1 0 1 1 1 0 1 1 1 0 1 1 1 0 1 1 1 0 1 0 1 1 1 0 1 0 1 1 1 0 1 0 1 1 1 0 1 0 1 0 1 1 1 0 1 0 1 0 1 0 1 0 1 0 1 1 1 0 1 0 1 0 1 0 1 0 1 0 1 0 1 0 1 0 1 0 1 0 1 0 1 0 1 0 1 0 1 0 1 0 1 0 1 1 1 0 1 0 1 0 1 0 1 0 1 0 1 0 1 0 1 0 1 0 1 0 1 0 1 0 1 0 1 0 1 0 1 0 1 0 1-1 1-1 1-4 1-7 1-10 1-11 1-13 1-14 1-13 1-12 1-9 1-5 1-1 1 1 1 1 1 3 1 4 1 4 1 4 1 5 1 4 1 4 1 3 1 4 1 3 1 3 1 3 1 2 1 3 1 2 1 3 1 2 1 3 1 2 1 2 1 2 1 1 1 2 1 2 1 1 1 2 1 1 1 1 1 1 1 2 1 1 1 1 1 1 1 1 1 1 1 1 1 1 1 1 1 0 1 1 1 1 1 1 1 0 1 1 1 0 1 1 1 0 1 1 1 0 1 1 1 0 1 0 1 1 1 0 1 0 1 1 1 0 1 0 1 1 1 0 1 0 1 0 1 1 1 0 1 0 1 0 1 0 1 0 1 0 1 1 1 0 1 0 1 0 1 0 1 0 1 0 1 0 1 0 1 0 1 0 1 0 1 0 1 0 1 0 1 0 1 0 1 0 1 0 1 1 1 0 1 0 1 0 1 0 1 0 1 0 1 0 1 0 1 0 1 0 1 0 1 0 1 0 1 0 1 0 1 0 1 0 1 0 1-1 1-1 1-4 1-7 1-10 1-11 1-13 1-14 1-13 1-12 1-9 1-5 1-1 1 1 1 1 1 3 1 4 1 4 1 4 1 5 1 4 1 4 1 3 1 4 1 3 1 3 1 3 1 2 1 3 1 2 1 3 1 2 1 3 1 2 1 2 1 2 1 1 1 2 1 2 1 1 1 2 1 1 1 1 1 1 1 2 1 1 1 1 1 1 1 1 1 1 1 1 1 1 1 1 1 0 1 1 1 1 1 1 1 0 1 1 1 0 1 1 1 0 1 1 1 0 1 1 1 0 1 0 1 1 1 0 1 0 1 1 1 0 1 0 1 1 1 0 1 0 1 0 1 1 1 0 1 0 1 0 1 0 1 0 1 0 1 1 1 0 1 0 1 0 1 0 1 0 1 0 1 0 1 0 1 0 1 0 1 0 1 0 1 0 1 0 1 0 1 0 1 0 1 0 1 1 1 0 1 0 1 0 1 0 1 0 1 0 1 0 1 0 1 0 1 0 1 0 1 0 1 0 1 0 1 0 1 0 1 0 1 0 1-1 1-1 1-4 1-7 1-10 1-11 1-13 1-14 1-13 1-12 1-9 1-5 1-1 1 1 1 1 1 3 1 4 1 4 1 4 1 5 1 4 1 4 1 3 1 4 1 3 1 3 1 3 1 2 1 3 1 2 1 3 1 2 1 3 1 2 1 2 1 2 1 1 1 2 1 2 1 1 1 2 1 1 1 1 1 1 1 2 1 1 1 1 1 1 1 1 1 1 1 1 1 1 1 1 1 0 1 1 1 1 1 1 1 0 1 1 1 0 1 1 1 0 1 1 1 0 1 1 1 0 1 0 1 1 1 0 1 0 1 1 1 0 1 0 1 1 1 0 1 0 1 0 1 1 1 0 1 0 1 0 1 0 1 0 1 0 1 1 1 0 1 0 1 0 1 0 1 0 1 0 1 0 1 0 1 0 1 0 1 0 1 0 1 0 1 0 1 0 1 0 1 0 1 0 1 1 1 0 1 0 1 0 1 0 1 0 1 0 1 0 1 0 1 0 1 0 1 0 1 0 1 0 1 0 1 0 1 0 1 0 1 0 1-1 1-1 1-4 1-7 1-10 1-11 1-13 1-14 1-13 1-12 1-9 1-5 1-1 1 1 1 1 1 3 1 4 1 4 1 4 1 5 1 4 1 4 1 3 1 4 1 3 1 3 1 3 1 2 1 3 1 2 1 3 1 2 1 3 1 2 1 2 1 2 1 1 1 2 1 2 1 1 1 2 1 1 1 1 1 1 1 2 1 1 1 1 1 1 1 1 1 1 1 1 1 1 1 1 1 0 1 1 1 1 1 1 1 0 1 1 1 0 1 1 1 0 1 1 1 0 1 1 1 0 1 0 1 1 1 0 1 0 1 1 1 0 1 0 1 1 1 0 1 0 1 0 1 1 1 0 1 0 1 0 1 0 1 0 1 0 1 1 1 0 1 0 1 0 1 0 1 0 1 0 1 0 1 0 1 0 1 0 1 0 1 0 1 0 1 0 1 0 1 0 1 0 1 0 1 1 1 0 1 0 1 0 1 0 1 0 1 0 1 0 1 0 1 0 1 0 1 0 1 0 1 0 1 0 1 0 1 0 1 0 1 0 1-1 1-1 1-4 1-7 1-10 1-11 1-13 1-14 1-13 1-12 1-9 1-5 1-1 1 1 1 1 1 3 1 4 1 4 1 4 1 5 1 4 1 4 1 3 1 4 1 3 1 3 1 3 1 2 1 3 1 2 1 3 1 2 1 3 1 2 1 2 1 2 1 1 1 2 1 2 1 1 1 2 1 1 1 1 1 1 1 2 1 1 1 1 1 1 1 1 1 1 1 1 1 1 1 1 1 0 1 1 1 1 1 1 1 0 1 1 1 0 1 1 1 0 1 1 1 0 1 1 1 0 1 0 1 1 1 0 1 0 1 1 1 0 1 0 1 1 1 0 1 0 1 0 1 1 1 0 1 0 1 0 1 0 1 0 1 0 1 1 1 0 1 0 1 0 1 0 1 0 1 0 1 0 1 0 1 0 1 0 1 0 1 0 1 0 1 0 1 0 1 0 1 0 1 0 1 1 1 0 1 0 1 0 1 0 1 0 1 0 1 0 1 0 1 0 1 0 1 0 1 0 1 0 1 0 1 0 1 0 1 0 1 0 1-1 1-1 1-4 1-7 1-10 1-11 1-13 1-14 1-13 1-12 1-9 1-5 1-1 1 1 1 1 1 3 1 4 1 4 1 4 1 5 1 4 1 4 1 3 1 4 1 3 1 3 1 3 1 2 1 3 1 2 1 3 1 2 1 3 1 2 1 2 1 2 1 1 1 2 1 2 1 1 1 2 1 1 1 1 1 1 1 2 1 1 1 1 1 1 1 1 1 1 1 1 1 1 1 1 1 0 1 1 1 1 1 1 1 0 1 1 1 0 1 1 1 0 1 1 1 0 1 1 1 0 1 0 1 1 1 0 1 0 1 1 1 0 1 0 1 1 1 0 1 0 1 0 1 1 1 0 1 0 1 0 1 0 1 0 1 0 1 1 1 0 1 0 1 0 1 0 1 0 1 0 1 0 1 0 1 0 1 0 1 0 1 0 1 0 1 0 1 0 1 0 1 0 1 0 1 1 1 0 1 0 1 0 1 0 1 0 1 0 1 0 1 0 1 0 1 0 1 0 1 0 1 0 1 0 1 0 1 0 1 0 1 0 1-1 1-1 1-4 1-7 1-10 1-11 1-13 1-14 1-13 1-12 1-9 1-5 1-1 1 1 1 1 1 3 1 4 1 4 1 4 1 5 1 4 1 4 1 3 1 4 1 3 1 3 1 3 1 2 1 3 1 2 1 3 1 2 1 3 1 2 1 2 1 2 1 1 1 2 1 2 1 1 1 2 1 1 1 1 1 1 1 2 1 1 1 1 1 1 1 1 1 1 1 1 1 1 1 1 1 0 1 1 1 1 1 1 1 0 1 1 1 0 1 1 1 0 1 1 1 0 1 1 1 0 1 0 1 1 1 0 1 0 1 1 1 0 1 0 1 1 1 0 1 0 1 0 1 1 1 0 1 0 1 0 1 0 1 0 1 0 1 1 1 0 1 0 1 0 1 0 1 0 1 0 1 0 1 0 1 0 1 0 1 0 1 0 1 0 1 0 1 0 1 0 1 0 1 0 1 1 1 0 1 0 1 0 1 0 1 0 1 0 1 0 1 0 1 0 1 0 1 0 1 0 1 0 1 0 1 0 1 0 1 0 1 0 1-1 1-1 1-4 1-7 1-10 1-11 1-13 1-14 1-13 1-12 1-9 1-5 1-1 1 1 1 1 1 3 1 4 1 4 1 4 1 5 1 4 1 4 1 3 1 4 1 3 1 3 1 3 1 2 1 3 1 2 1 3 1 2 1 3 1 2 1 2 1 2 1 1 1 2 1 2 1 1 1 2 1 1 1 1 1 1 1 2 1 1 1 1 1 1 1 1 1 1 1 1 1 1 1 1 1 0 1 1 1 1 1 1 1 0 1 1 1 0 1 1 1 0 1 1 1 0 1 1 1 0 1 0 1 1 1 0 1 0 1 1 1 0 1 0 1 1 1 0 1 0 1 0 1 1 1 0 1 0 1 0 1 0 1 0 1 0 1 1 1 0 1 0 1 0 1 0 1 0 1 0 1 0 1 0 1 0 1 0 1 0 1 0 1 0 1 0 1 0 1 0 1 0 1 0 1 1 1 0 1 0 1 0 1 0 1 0 1 0 1 0 1 0 1 0 1 0 1 0 1 0 1 0 1 0 1 0 1 0 1 0 1 0 1-1 1-1 1-4 1-7 1-10 1-11 1-13 1-14 1-13 1-12 1-9 1-5 1-1 1 1 1 1 1 3 1 4 1 4 1 4 1 5 1 4 1 4 1 3 1 4 1 3 1 3 1 3 1 2 1 3 1 2 1 3 1 2 1 3 1 2 1 2 1 2 1 1 1 2 1 2 1 1 1 2 1 1 1 1 1 1 1 2 1 1 1 1 1 1 1 1 1 1 1 1 1 1 1 1 1 0 1 1 1 1 1 1 1 0 1 1 1 0 1 1 1 0 1 1 1 0 1 1 1 0 1 0 1 1 1 0 1 0 1 1 1 0 1 0 1 1 1 0 1 0 1 0 1 1 1 0 1 0 1 0 1 0 1 0 1 0 1 1 1 0 1 0 1 0 1 0 1 0 1 0 1 0 1 0 1 0 1 0 1 0 1 0 1 0 1 0 1 0 1 0 1 0 1 0 1 1 1 0 1 0 1 0 1 0 1 0 1 0 1 0 1 0 1 0 1 0 1 0 1 0 1 0 1 0 1 0 1 0 1 0 1 0 1-1 1-1 1-4 1-7 1-10 1-11 1-13 1-14 1-13 1-12 1-9 1-5 1-1 1 1 1 1 1 3 1 4 1 4 1 4 1 5 1 4 1 4 1 3 1 4 1 3 1 3 1 3 1 2 1 3 1 2 1 3 1 2 1 3 1 2 1 2 1 2 1 1 1 2 1 2 1 1 1 2 1 1 1 1 1 1 1 2 1 1 1 1 1 1 1 1 1 1 1 1 1 1 1 1 1 0 1 1 1 1 1 1 1 0 1 1 1 0 1 1 1 0 1 1 1 0 1 1 1 0 1 0 1 1 1 0 1 0 1 1 1 0 1 0 1 1 1 0 1 0 1 0 1 1 1 0 1 0 1 0 1 0 1 0 1 0 1 1 1 0 1 0 1 0 1 0 1 0 1 0 1 0 1 0 1 0 1 0 1 0 1 0 1 0 1 0 1 0 1 0 1 0 1 0 1 1 1 0 1 0 1 0 1 0 1 0 1 0 1 0 1 0 1 0 1 0 1 0 1 0 1 0 1 0 1 0 1 0 1 0 1 0 1-1 1-1 1-4 1-7 1-10 1-11 1-13 1-14 1-13 1-12 1-9 1-5 1-1 1 1 1 1 1 3 1 4 1 4 1 4 1 5 1 4 1 4 1 3 1 4 1 3 1 3 1 3 1 2 1 3 1 2 1 3 1 2 1 3 1 2 1 2 1 2 1 1 1 2 1 2 1 1 1 2 1 1 1 1 1 1 1 2 1 1 1 1 1 1 1 1 1 1 1 1 1 1 1 1 1 0 1 1 1 1 1 1 1 0 1 1 1 0 1 1 1 0 1 1 1 0 1 1 1 0 1 0 1 1 1 0 1 0 1 1 1 0 1 0 1 1 1 0 1 0 1 0 1 1 1 0 1 0 1 0 1 0 1 0 1 0 1 1 1 0 1 0 1 0 1 0 1 0 1 0 1 0 1 0 1 0 1 0 1 0 1 0 1 0 1 0 1 0 1 0 1 0 1 0 1 1 1 0 1 0 1 0 1 0 1 0 1 0 1 0 1 0 1 0 1 0 1 0 1 0 1 0 1 0 1 0 1 0 1 0 1 0 1-1 1-1 1-4 1-7 1-10 1-11 1-13 1-14 1-13 1-12 1-9 1-5 1-1 1 1 1 1 1 3 1 4 1 4 1 4 1 5 1 4 1 4 1 3 1 4 1 3 1 3 1 3 1 2 1 3 1 2 1 3 1 2 1 3 1 2 1 2 1 2 1 1 1 2 1 2 1 1 1 2 1 1 1 1 1 1 1 2 1 1 1 1 1 1 1 1 1 1 1 1 1 1 1 1 1 0 1 1 1 1 1 1 1 0 1 1 1 0 1 1 1 0 1 1 1 0 1 1 1 0 1 0 1 1 1 0 1 0 1 1 1 0 1 0 1 1 1 0 1 0 1 0 1 1 1 0 1 0 1 0 1 0 1 0 1 0 1 1 1 0 1 0 1 0 1 0 1 0 1 0 1 0 1 0 1 0 1 0 1 0 1 0 1 0 1 0 1 0 1 0 1 0 1 0 1 1 1 0 1 0 1 0 1 0 1 0 1 0 1 0 1 0 1 0 1 0 1 0 1 0 1 0 1 0 1 0 1 0 1 0 1 0 1-1 1-1 1-4 1-7 1-10 1-11 1-13 1-14 1-13 1-12 1-9 1-5 1-1 1 1 1 1 1 3 1 4 1 4 1 4 1 5 1 4 1 4 1 3 1 4 1 3 1 3 1 3 1 2 1 3 1 2 1 3 1 2 1 3 1 2 1 2 1 2 1 1 1 2 1 2 1 1 1 2 1 1 1 1 1 1 1 2 1 1 1 1 1 1 1 1 1 1 1 1 1 1 1 1 1 0 1 1 1 1 1 1 1 0 1 1 1 0 1 1 1 0 1 1 1 0 1 1 1 0 1 0 1 1 1 0 1 0 1 1 1 0 1 0 1 1 1 0 1 0 1 0 1 1 1 0 1 0 1 0 1 0 1 0 1 0 1 1 1 0 1 0 1 0 1 0 1 0 1 0 1 0 1 0 1 0 1 0 1 0 1 0 1 0 1 0 1 0 1 0 1 0 1 0 1 1 1 0 1 0 1 0 1 0 1 0 1 0 1 0 1 0 1 0 1 0 1 0 1 0 1 0 1 0 1 0 1 0 1 0 1 0 1-1 1-1 1-4 1-7 1-10 1-11 1-13 1-14 1-13 1-12 1-9 1-5 1-1 1 1 1 1 1 3 1 4 1 4 1 4 1 5 1 4 1 4 1 3 1 4 1 3 1 3 1 3 1 2 1 3 1 2 1 3 1 2 1 3 1 2 1 2 1 2 1 1 1 2 1 2 1 1 1 2 1 1 1 1 1 1 1 2 1 1 1 1 1 1 1 1 1 1 1 1 1 1 1 1 1 0 1 1 1 1 1 1 1 0 1 1 1 0 1 1 1 0 1 1 1 0 1 1 1 0 1 0 1 1 1 0 1 0 1 1 1 0 1 0 1 1 1 0 1 0 1 0 1 1 1 0 1 0 1 0 1 0 1 0 1 0 1 1 1 0 1 0 1 0 1 0 1 0 1 0 1 0 1 0 1 0 1 0 1 0 1 0 1 0 1 0 1 0 1 0 1 0 1 0 1 1 1 0 1 0 1 0 1 0 1 0 1 0 1 0 1 0 1 0 1 0 1 0 1 0 1 0 1 0 1 0 1 0 1 0 1 0 1-1 1-1 1-4 1-7 1-10 1-11 1-13 1-14 1-13 1-12 1-9 1-5 1-1 1 1 1 1 1 3 1 4 1 4 1 4 1 5 1 4 1 4 1 3 1 4 1 3 1 3 1 3 1 2 1 3 1 2 1 3 1 2 1 3 1 2 1 2 1 2 1 1 1 2 1 2 1 1 1 2 1 1 1 1 1 1 1 2 1 1 1 1 1 1 1 1 1 1 1 1 1 1 1 1 1 0 1 1 1 1 1 1 1 0 1 1 1 0 1 1 1 0 1 1 1 0 1 1 1 0 1 0 1 1 1 0 1 0 1 1 1 0 1 0 1 1 1 0 1 0 1 0 1 1 1 0 1 0 1 0 1 0 1 0 1 0 1 1 1 0 1 0 1 0 1 0 1 0 1 0 1 0 1 0 1 0 1 0 1 0 1 0 1 0 1 0 1 0 1 0 1 0 1 0 1 1 1 0 1 0 1 0 1 0 1 0 1 0 1 0 1 0 1 0 1 0 1 0 1 0 1 0 1 0 1 0 1 0 1 0 1 0 1-1 1-1 1-4 1-7 1-10 1-11 1-13 1-14 1-13 1-12 1-9 1-5 1-1 1 1 1 1 1 3 1 4 1 4 1 4 1 5 1 4 1 4 1 3 1 4 1 3 1 3 1 3 1 2 1 3 1 2 1 3 1 2 1 3 1 2 1 2 1 2 1 1 1 2 1 2 1 1 1 2 1 1 1 1 1 1 1 2 1 1 1 1 1 1 1 1 1 1 1 1 1 1 1 1 1 0 1 1 1 1 1 1 1 0 1 1 1 0 1 1 1 0 1 1 1 0 1 1 1 0 1 0 1 1 1 0 1 0 1 1 1 0 1 0 1 1 1 0 1 0 1 0 1 1 1 0 1 0 1 0 1 0 1 0 1 0 1 1 1 0 1 0 1 0 1 0 1 0 1 0 1 0 1 0 1 0 1 0 1 0 1 0 1 0 1 0 1 0 1 0 1 0 1 0 1 1 1 0 1 0 1 0 1 0 1 0 1 0 1 0 1 0 1 0 1 0 1 0 1 0 1 0 1 0 1 0 1 0 1 0 1 0 1-1 1-1 1-4 1-7 1-10 1-11 1-13 1-14 1-13 1-12 1-9 1-5 1-1 1 1 1 1 1 3 1 4 1 4 1 4 1 5 1 4 1 4 1 3 1 4 1 3 1 3 1 3 1 2 1 3 1 2 1 3 1 2 1 3 1 2 1 2 1 2 1 1 1 2 1 2 1 1 1 2 1 1 1 1 1 1 1 2 1 1 1 1 1 1 1 1 1 1 1 1 1 1 1 1 1 0 1 1 1 1 1 1 1 0 1 1 1 0 1 1 1 0 1 1 1 0 1 1 1 0 1 0 1 1 1 0 1 0 1 1 1 0 1 0 1 1 1 0 1 0 1 0 1 1 1 0 1 0 1 0 1 0 1 0 1 0 1 1 1 0 1 0 1 0 1 0 1 0 1 0 1 0 1 0 1 0 1 0 1 0 1 0 1 0 1 0 1 0 1 0 1 0 1 0 1 1 1 0 1 0 1 0 1 0 1 0 1 0 1 0 1 0 1 0 1 0 1 0 1 0 1 0 1 0 1 0 1 0 1 0 1 0 1-1 1-1 1-4 1-7 1-10 1-11 1-13 1-14 1-13 1-12 1-9 1-5 1-1 1 1 1 1 1 3 1 4 1 4 1 4 1 5 1 4 1 4 1 3 1 4 1 3 1 3 1 3 1 2 1 3 1 2 1 3 1 2 1 3 1 2 1 2 1 2 1 1 1 2 1 2 1 1 1 2 1 1 1 1 1 1 1 2 1 1 1 1 1 1 1 1 1 1 1 1 1 1 1 1 1 0 1 1 1 1 1 1 1 0 1 1 1 0 1 1 1 0 1 1 1 0 1 1 1 0 1 0 1 1 1 0 1 0 1 1 1 0 1 0 1 1 1 0 1 0 1 0 1 1 1 0 1 0 1 0 1 0 1 0 1 0 1 1 1 0 1 0 1 0 1 0 1 0 1 0 1 0 1 0 1 0 1 0 1 0 1 0 1 0 1 0 1 0 1 0 1 0 1 0 1 1 1 0 1 0 1 0 1 0 1 0 1 0 1 0 1 0 1 0 1 0 1 0 1 0 1 0 1 0 1 0 1 0 1 0 1 0 1-1 1-1 1-4 1-7 1-10 1-11 1-13 1-14 1-13 1-12 1-9 1-5 1-1 1 1 1 1 1 3 1 4 1 4 1 4 1 5 1 4 1 4 1 3 1 4 1 3 1 3 1 3 1 2 1 3 1 2 1 3 1 2 1 3 1 2 1 2 1 2 1 1 1 2 1 2 1 1 1 2 1 1 1 1 1 1 1 2 1 1 1 1 1 1 1 1 1 1 1 1 1 1 1 1 1 0 1 1 1 1 1 1 1 0 1 1 1 0 1 1 1 0 1 1 1 0 1 1 1 0 1 0 1 1 1 0 1 0 1 1 1 0 1 0 1 1 1 0 1 0 1 0 1 1 1 0 1 0 1 0 1 0 1 0 1 0 1 1 1 0 1 0 1 0 1 0 1 0 1 0 1 0 1 0 1 0 1 0 1 0 1 0 1 0 1 0 1 0 1 0 1 0 1 0 1 1 1 0 1 0 1 0 1 0 1 0 1 0 1 0 1 0 1 0 1 0 1 0 1 0 1 0 1 0 1 0 1 0 1 0 1 0 1-1 1-1 1-4 1-7 1-10 1-11 1-13 1-14 1-13 1-12 1-9 1-5 1-1 1 1 1 1 1 3 1 4 1 4 1 4 1 5 1 4 1 4 1 3 1 4 1 3 1 3 1 3 1 2 1 3 1 2 1 3 1 2 1 3 1 2 1 2 1 2 1 1 1 2 1 2 1 1 1 2 1 1 1 1 1 1 1 2 1 1 1 1 1 1 1 1 1 1 1 1 1 1 1 1 1 0 1 1 1 1 1 1 1 0 1 1 1 0 1 1 1 0 1 1 1 0 1 1 1 0 1 0 1 1 1 0 1 0 1 1 1 0 1 0 1 1 1 0 1 0 1 0 1 1 1 0 1 0 1 0 1 0 1 0 1 0 1 1 1 0 1 0 1 0 1 0 1 0 1 0 1 0 1 0 1 0 1 0 1 0 1 0 1 0 1 0 1 0 1 0 1 0 1 0 1 1 1 0 1 0 1 0 1 0 1 0 1 0 1 0 1 0 1 0 1 0 1 0 1 0 1 0 1 0 1 0 1 0 1 0 1 0 1-1 1-1 1-4 1-7 1-10 1-11 1-13 1-14 1-13 1-12 1-9 1-5 1-1 1 1 1 1 1 3 1 4 1 4 1 4 1 5 1 4 1 4 1 3 1 4 1 3 1 3 1 3 1 2 1 3 1 2 1 3 1 2 1 3 1 2 1 2 1 2 1 1 1 2 1 2 1 1 1 2 1 1 1 1 1 1 1 2 1 1 1 1 1 1 1 1 1 1 1 1 1 1 1 1 1 0 1 1 1 1 1 1 1 0 1 1 1 0 1 1 1 0 1 1 1 0 1 1 1 0 1 0 1 1 1 0 1 0 1 1 1 0 1 0 1 1 1 0 1 0 1 0 1 1 1 0 1 0 1 0 1 0 1 0 1 0 1 1 1 0 1 0 1 0 1 0 1 0 1 0 1 0 1 0 1 0 1 0 1 0 1 0 1 0 1 0 1 0 1 0 1 0 1 0 1 1 1 0 1 0 1 0 1 0 1 0 1 0 1 0 1 0 1 0 1 0 1 0 1 0 1 0 1 0 1 0 1 0 1 0 1 0 1-1 1-1 1-4 1-7 1-10 1-11 1-13 1-14 1-13 1-12 1-9 1-5 1-1 1 1 1 1 1 3 1 4 1 4 1 4 1 5 1 4 1 4 1 3 1 4 1 3 1 3 1 3 1 2 1 3 1 2 1 3 1 2 1 3 1 2 1 2 1 2 1 1 1 2 1 2 1 1 1 2 1 1 1 1 1 1 1 2 1 1 1 1 1 1 1 1 1 1 1 1 1 1 1 1 1 0 1 1 1 1 1 1 1 0 1 1 1 0 1 1 1 0 1 1 1 0 1 1 1 0 1 0 1 1 1 0 1 0 1 1 1 0 1 0 1 1 1 0 1 0 1 0 1 1 1 0 1 0 1 0 1 0 1 0 1 0 1 1 1 0 1 0 1 0 1 0 1 0 1 0 1 0 1 0 1 0 1 0 1 0 1 0 1 0 1 0 1 0 1 0 1 0 1 0 1 1 1 0 1 0 1 0 1 0 1 0 1 0 1 0 1 0 1 0 1 0 1 0 1 0 1 0 1 0 1 0 1 0 1 0 1 0 1-1 1-1 1-4 1-7 1-10 1-11 1-13 1-14 1-13 1-12 1-9 1-5 1-1 1 1 1 1 1 3 1 4 1 4 1 4 1 5 1 4 1 4 1 3 1 4 1 3 1 3 1 3 1 2 1 3 1 2 1 3 1 2 1 3 1 2 1 2 1 2 1 1 1 2 1 2 1 1 1 2 1 1 1 1 1 1 1 2 1 1 1 1 1 1 1 1 1 1 1 1 1 1 1 1 1 0 1 1 1 1 1 1 1 0 1 1 1 0 1 1 1 0 1 1 1 0 1 1 1 0 1 0 1 1 1 0 1 0 1 1 1 0 1 0 1 1 1 0 1 0 1 0 1 1 1 0 1 0 1 0 1 0 1 0 1 0 1 1 1 0 1 0 1 0 1 0 1 0 1 0 1 0 1 0 1 0 1 0 1 0 1 0 1 0 1 0 1 0 1 0 1 0 1 0 1 1 1 0 1 0 1 0 1 0 1 0 1 0 1 0 1 0 1 0 1 0 1 0 1 0 1 0 1 0 1 0 1 0 1 0 1 0 1-1 1-1 1-4 1-7 1-10 1-11 1-13 1-14 1-13 1-12 1-9 1-5 1-1 1 1 1 1 1 3 1 4 1 4 1 4 1 5 1 4 1 4 1 3 1 4 1 3 1 3 1 3 1 2 1 3 1 2 1 3 1 2 1 3 1 2 1 2 1 2 1 1 1 2 1 2 1 1 1 2 1 1 1 1 1 1 1 2 1 1 1 1 1 1 1 1 1 1 1 1 1 1 1 1 1 0 1 1 1 1 1 1 1 0 1 1 1 0 1 1 1 0 1 1 1 0 1 1 1 0 1 0 1 1 1 0 1 0 1 1 1 0 1 0 1 1 1 0 1 0 1 0 1 1 1 0 1 0 1 0 1 0 1 0 1 0 1 1 1 0 1 0 1 0 1 0 1 0 1 0 1 0 1 0 1 0 1 0 1 0 1 0 1 0 1 0 1 0 1 0 1 0 1 0 1 1 1 0 1 0 1 0 1 0 1 0 1 0 1 0 1 0 1 0 1 0 1 0 1 0 1 0 1 0 1 0 1 0 1 0 1 0 1-1 1-1 1-4 1-7 1-10 1-11 1-13 1-14 1-13 1-12 1-9 1-5 1-1 1 1 1 1 1 3 1 4 1 4 1 4 1 5 1 4 1 4 1 3 1 4 1 3 1 3 1 3 1 2 1 3 1 2 1 3 1 2 1 3 1 2 1 2 1 2 1 1 1 2 1 2 1 1 1 2 1 1 1 1 1 1 1 2 1 1 1 1 1 1 1 1 1 1 1 1 1 1 1 1 1 0 1 1 1 1 1 1 1 0 1 1 1 0 1 1 1 0 1 1 1 0 1 1 1 0 1 0 1 1 1 0 1 0 1 1 1 0 1 0 1 1 1 0 1 0 1 0 1 1 1 0 1 0 1 0 1 0 1 0 1 0 1 1 1 0 1 0 1 0 1 0 1 0 1 0 1 0 1 0 1 0 1 0 1 0 1 0 1 0 1 0 1 0 1 0 1 0 1 0 1 1 1 0 1 0 1 0 1 0 1 0 1 0 1 0 1 0 1 0 1 0 1 0 1 0 1 0 1 0 1 0 1 0 1 0 1 0 1-1 1-1 1-4 1-7 1-10 1-11 1-13 1-14 1-13 1-12 1-9 1-5 1-1 1 1 1 1 1 3 1 4 1 4 1 4 1 5 1 4 1 4 1 3 1 4 1 3 1 3 1 3 1 2 1 3 1 2 1 3 1 2 1 3 1 2 1 2 1 2 1 1 1 2 1 2 1 1 1 2 1 1 1 1 1 1 1 2 1 1 1 1 1 1 1 1 1 1 1 1 1 1 1 1 1 0 1 1 1 1 1 1 1 0 1 1 1 0 1 1 1 0 1 1 1 0 1 1 1 0 1 0 1 1 1 0 1 0 1 1 1 0 1 0 1 1 1 0 1 0 1 0 1 1 1 0 1 0 1 0 1 0 1 0 1 0 1 1 1 0 1 0 1 0 1 0 1 0 1 0 1 0 1 0 1 0 1 0 1 0 1 0 1 0 1 0 1 0 1 0 1 0 1 0 1 1 1 0 1 0 1 0 1 0 1 0 1 0 1 0 1 0 1 0 1 0 1 0 1 0 1 0 1 0 1 0 1 0 1 0 1 0 1-1 1-1 1-4 1-7 1-10 1-11 1-13 1-14 1-13 1-12 1-9 1-5 1-1 1 1 1 1 1 3 1 4 1 4 1 4 1 5 1 4 1 4 1 3 1 4 1 3 1 3 1 3 1 2 1 3 1 2 1 3 1 2 1 3 1 2 1 2 1 2 1 1 1 2 1 2 1 1 1 2 1 1 1 1 1 1 1 2 1 1 1 1 1 1 1 1 1 1 1 1 1 1 1 1 1 0 1 1 1 1 1 1 1 0 1 1 1 0 1 1 1 0 1 1 1 0 1 1 1 0 1 0 1 1 1 0 1 0 1 1 1 0 1 0 1 1 1 0 1 0 1 0 1 1 1 0 1 0 1 0 1 0 1 0 1 0 1 1 1 0 1 0 1 0 1 0 1 0 1 0 1 0 1 0 1 0 1 0 1 0 1 0 1 0 1 0 1 0 1 0 1 0 1 0 1 1 1 0 1 0 1 0 1 0 1 0 1 0 1 0 1 0 1 0 1 0 1 0 1 0 1 0 1 0 1 0 1 0 1 0 1 0 1-1 1-1 1-4 1-7 1-10 1-11 1-13 1-14 1-13 1-12 1-9 1-5 1-1 1 1 1 1 1 3 1 4 1 4 1 4 1 5 1 4 1 4 1 3 1 4 1 3 1 3 1 3 1 2 1 3 1 2 1 3 1 2 1 3 1 2 1 2 1 2 1 1 1 2 1 2 1 1 1 2 1 1 1 1 1 1 1 2 1 1 1 1 1 1 1 1 1 1 1 1 1 1 1 1 1 0 1 1 1 1 1 1 1 0 1 1 1 0 1 1 1 0 1 1 1 0 1 1 1 0 1 0 1 1 1 0 1 0 1 1 1 0 1 0 1 1 1 0 1 0 1 0 1 1 1 0 1 0 1 0 1 0 1 0 1 0 1 1 1 0 1 0 1 0 1 0 1 0 1 0 1 0 1 0 1 0 1 0 1 0 1 0 1 0 1 0 1 0 1 0 1 0 1 0 1 1 1 0 1 0 1 0 1 0 1 0 1 0 1 0 1 0 1 0 1 0 1 0 1 0 1 0 1 0 1 0 1 0 1 0 1 0 1-1 1-1 1-4 1-7 1-10 1-11 1-13 1-14 1-13 1-12 1-9 1-5 1-1 1 1 1 1 1 3 1 4 1 4 1 4 1 5 1 4 1 4 1 3 1 4 1 3 1 3 1 3 1 2 1 3 1 2 1 3 1 2 1 3 1 2 1 2 1 2 1 1 1 2 1 2 1 1 1 2 1 1 1 1 1 1 1 2 1 1 1 1 1 1 1 1 1 1 1 1 1 1 1 1 1 0 1 1 1 1 1 1 1 0 1 1 1 0 1 1 1 0 1 1 1 0 1 1 1 0 1 0 1 1 1 0 1 0 1 1 1 0 1 0 1 1 1 0 1 0 1 0 1 1 1 0 1 0 1 0 1 0 1 0 1 0 1 1 1 0 1 0 1 0 1 0 1 0 1 0 1 0 1 0 1 0 1 0 1 0 1 0 1 0 1 0 1 0 1 0 1 0 1 0 1 1 1 0 1 0 1 0 1 0 1 0 1 0 1 0 1 0 1 0 1 0 1 0 1 0 1 0 1 0 1 0 1 0 1 0 1 0 1-1 1-1 1-4 1-7 1-10 1-11 1-13 1-14 1-13 1-12 1-9 1-5 1-1 1 1 1 1 1 3 1 4 1 4 1 4 1 5 1 4 1 4 1 3 1 4 1 3 1 3 1 3 1 2 1 3 1 2 1 3 1 2 1 3 1 2 1 2 1 2 1 1 1 2 1 2 1 1 1 2 1 1 1 1 1 1 1 2 1 1 1 1 1 1 1 1 1 1 1 1 1 1 1 1 1 0 1 1 1 1 1 1 1 0 1 1 1 0 1 1 1 0 1 1 1 0 1 1 1 0 1 0 1 1 1 0 1 0 1 1 1 0 1 0 1 1 1 0 1 0 1 0 1 1 1 0 1 0 1 0 1 0 1 0 1 0 1 1 1 0 1 0 1 0 1 0 1 0 1 0 1 0 1 0 1 0 1 0 1 0 1 0 1 0 1 0 1 0 1 0 1 0 1 0 1 1 1 0 1 0 1 0 1 0 1 0 1 0 1 0 1 0 1 0 1 0 1 0 1 0 1 0 1 0 1 0 1 0 1 0 1 0 1-1 1-1 1-4 1-7 1-10 1-11 1-13 1-14 1-13 1-12 1-9 1-5 1-1 1 1 1 1 1 3 1 4 1 4 1 4 1 5 1 4 1 4 1 3 1 4 1 3 1 3 1 3 1 2 1 3 1 2 1 3 1 2 1 3 1 2 1 2 1 2 1 1 1 2 1 2 1 1 1 2 1 1 1 1 1 1 1 2 1 1 1 1 1 1 1 1 1 1 1 1 1 1 1 1 1 0 1 1 1 1 1 1 1 0 1 1 1 0 1 1 1 0 1 1 1 0 1 1 1 0 1 0 1 1 1 0 1 0 1 1 1 0 1 0 1 1 1 0 1 0 1 0 1 1 1 0 1 0 1 0 1 0 1 0 1 0 1 1 1 0 1 0 1 0 1 0 1 0 1 0 1 0 1 0 1 0 1 0 1 0 1 0 1 0 1 0 1 0 1 0 1 0 1 0 1 1 1 0 1 0 1 0 1 0 1 0 1 0 1 0 1 0 1 0 1 0 1 0 1 0 1 0 1 0 1 0 1 0 1 0 1 0 1-1 1-1 1-4 1-7 1-10 1-11 1-13 1-14 1-13 1-12 1-9 1-5 1-1 1 1 1 1 1 3 1 4 1 4 1 4 1 5 1 4 1 4 1 3 1 4 1 3 1 3 1 3 1 2 1 3 1 2 1 3 1 2 1 3 1 2 1 2 1 2 1 1 1 2 1 2 1 1 1 2 1 1 1 1 1 1 1 2 1 1 1 1 1 1 1 1 1 1 1 1 1 1 1 1 1 0 1 1 1 1 1 1 1 0 1 1 1 0 1 1 1 0 1 1 1 0 1 1 1 0 1 0 1 1 1 0 1 0 1 1 1 0 1 0 1 1 1 0 1 0 1 0 1 1 1 0 1 0 1 0 1 0 1 0 1 0 1 1 1 0 1 0 1 0 1 0 1 0 1 0 1 0 1 0 1 0 1 0 1 0 1 0 1 0 1 0 1 0 1 0 1 0 1 0 1 1 1 0 1 0 1 0 1 0 1 0 1 0 1 0 1 0 1 0 1 0 1 0 1 0 1 0 1 0 1 0 1 0 1 0 1 0 1-1 1-1 1-4 1-7 1-10 1-11 1-13 1-14 1-13 1-12 1-9 1-5 1-1 1 1 1 1 1 3 1 4 1 4 1 4 1 5 1 4 1 4 1 3 1 4 1 3 1 3 1 3 1 2 1 3 1 2 1 3 1 2 1 3 1 2 1 2 1 2 1 1 1 2 1 2 1 1 1 2 1 1 1 1 1 1 1 2 1 1 1 1 1 1 1 1 1 1 1 1 1 1 1 1 1 0 1 1 1 1 1 1 1 0 1 1 1 0 1 1 1 0 1 1 1 0 1 1 1 0 1 0 1 1 1 0 1 0 1 1 1 0 1 0 1 1 1 0 1 0 1 0 1 1 1 0 1 0 1 0 1 0 1 0 1 0 1 1 1 0 1 0 1 0 1 0 1 0 1 0 1 0 1 0 1 0 1 0 1 0 1 0 1 0 1 0 1 0 1 0 1 0 1 0 1 1 1 0 1 0 1 0 1 0 1 0 1 0 1 0 1 0 1 0 1 0 1 0 1 0 1 0 1 0 1 0 1 0 1 0 1 0 1-1 1-1 1-4 1-7 1-10 1-11 1-13 1-14 1-13 1-12 1-9 1-5 1-1 1 1 1 1 1 3 1 4 1 4 1 4 1 5 1 4 1 4 1 3 1 4 1 3 1 3 1 3 1 2 1 3 1 2 1 3 1 2 1 3 1 2 1 2 1 2 1 1 1 2 1 2 1 1 1 2 1 1 1 1 1 1 1 2 1 1 1 1 1 1 1 1 1 1 1 1 1 1 1 1 1 0 1 1 1 1 1 1 1 0 1 1 1 0 1 1 1 0 1 1 1 0 1 1 1 0 1 0 1 1 1 0 1 0 1 1 1 0 1 0 1 1 1 0 1 0 1 0 1 1 1 0 1 0 1 0 1 0 1 0 1 0 1 1 1 0 1 0 1 0 1 0 1 0 1 0 1 0 1 0 1 0 1 0 1 0 1 0 1 0 1 0 1 0 1 0 1 0 1 0 1 1 1 0 1 0 1 0 1 0 1 0 1 0 1 0 1 0 1 0 1 0 1 0 1 0 1 0 1 0 1 0 1 0 1 0 1 0 1-1 1-1 1-4 1-7 1-10 1-11 1-13 1-14 1-13 1-12 1-9 1-5 1-1 1 1 1 1 1 3 1 4 1 4 1 4 1 5 1 4 1 4 1 3 1 4 1 3 1 3 1 3 1 2 1 3 1 2 1 3 1 2 1 3 1 2 1 2 1 2 1 1 1 2 1 2 1 1 1 2 1 1 1 1 1 1 1 2 1 1 1 1 1 1 1 1 1 1 1 1 1 1 1 1 1 0 1 1 1 1 1 1 1 0 1 1 1 0 1 1 1 0 1 1 1 0 1 1 1 0 1 0 1 1 1 0 1 0 1 1 1 0 1 0 1 1 1 0 1 0 1 0 1 1 1 0 1 0 1 0 1 0 1 0 1 0 1 1 1 0 1 0 1 0 1 0 1 0 1 0 1 0 1 0 1 0 1 0 1 0 1 0 1 0 1 0 1 0 1 0 1 0 1 0 1 1 1 0 1 0 1 0 1 0 1 0 1 0 1 0 1 0 1 0 1 0 1 0 1 0 1 0 1 0 1 0 1 0 1 0 1 0 1-1 1-1 1-4 1-7 1-10 1-11 1-13 1-14 1-13 1-12 1-9 1-5 1-1 1 1 1 1 1 3 1 4 1 4 1 4 1 5 1 4 1 4 1 3 1 4 1 3 1 3 1 3 1 2 1 3 1 2 1 3 1 2 1 3 1 2 1 2 1 2 1 1 1 2 1 2 1 1 1 2 1 1 1 1 1 1 1 2 1 1 1 1 1 1 1 1 1 1 1 1 1 1 1 1 1 0 1 1 1 1 1 1 1 0 1 1 1 0 1 1 1 0 1 1 1 0 1 1 1 0 1 0 1 1 1 0 1 0 1 1 1 0 1 0 1 1 1 0 1 0 1 0 1 1 1 0 1 0 1 0 1 0 1 0 1 0 1 1 1 0 1 0 1 0 1 0 1 0 1 0 1 0 1 0 1 0 1 0 1 0 1 0 1 0 1 0 1 0 1 0 1 0 1 0 1 1 1 0 1 0 1 0 1 0 1 0 1 0 1 0 1 0 1 0 1 0 1 0 1 0 1 0 1 0 1 0 1 0 1 0 1 0 1-1 1-1 1-4 1-7 1-10 1-11 1-13 1-14 1-13 1-12 1-9 1-5 1-1 1 1 1 1 1 3 1 4 1 4 1 4 1 5 1 4 1 4 1 3 1 4 1 3 1 3 1 3 1 2 1 3 1 2 1 3 1 2 1 3 1 2 1 2 1 2 1 1 1 2 1 2 1 1 1 2 1 1 1 1 1 1 1 2 1 1 1 1 1 1 1 1 1 1 1 1 1 1 1 1 1 0 1 1 1 1 1 1 1 0 1 1 1 0 1 1 1 0 1 1 1 0 1 1 1 0 1 0 1 1 1 0 1 0 1 1 1 0 1 0 1 1 1 0 1 0 1 0 1 1 1 0 1 0 1 0 1 0 1 0 1 0 1 1 1 0 1 0 1 0 1 0 1 0 1 0 1 0 1 0 1 0 1 0 1 0 1 0 1 0 1 0 1 0 1 0 1 0 1 0 1 1 1 0 1 0 1 0 1 0 1 0 1 0 1 0 1 0 1 0 1 0 1 0 1 0 1 0 1 0 1 0 1 0 1 0 1 0 1-1 1-1 1-4 1-7 1-10 1-11 1-13 1-14 1-13 1-12 1-9 1-5 1-1 1 1 1 1 1 3 1 4 1 4 1 4 1 5 1 4 1 4 1 3 1 4 1 3 1 3 1 3 1 2 1 3 1 2 1 3 1 2 1 3 1 2 1 2 1 2 1 1 1 2 1 2 1 1 1 2 1 1 1 1 1 1 1 2 1 1 1 1 1 1 1 1 1 1 1 1 1 1 1 1 1 0 1 1 1 1 1 1 1 0 1 1 1 0 1 1 1 0 1 1 1 0 1 1 1 0 1 0 1 1 1 0 1 0 1 1 1 0 1 0 1 1 1 0 1 0 1 0 1 1 1 0 1 0 1 0 1 0 1 0 1 0 1 1 1 0 1 0 1 0 1 0 1 0 1 0 1 0 1 0 1 0 1 0 1 0 1 0 1 0 1 0 1 0 1 0 1 0 1 0 1 1 1 0 1 0 1 0 1 0 1 0 1 0 1 0 1 0 1 0 1 0 1 0 1 0 1 0 1 0 1 0 1 0 1 0 1 0 1-1 1-1 1-4 1-7 1-10 1-11 1-13 1-14 1-13 1-12 1-9 1-5 1-1 1 1 1 1 1 3 1 4 1 4 1 4 1 5 1 4 1 4 1 3 1 4 1 3 1 3 1 3 1 2 1 3 1 2 1 3 1 2 1 3 1 2 1 2 1 2 1 1 1 2 1 2 1 1 1 2 1 1 1 1 1 1 1 2 1 1 1 1 1 1 1 1 1 1 1 1 1 1 1 1 1 0 1 1 1 1 1 1 1 0 1 1 1 0 1 1 1 0 1 1 1 0 1 1 1 0 1 0 1 1 1 0 1 0 1 1 1 0 1 0 1 1 1 0 1 0 1 0 1 1 1 0 1 0 1 0 1 0 1 0 1 0 1 1 1 0 1 0 1 0 1 0 1 0 1 0 1 0 1 0 1 0 1 0 1 0 1 0 1 0 1 0 1 0 1 0 1 0 1 0 1 1 1 0 1 0 1 0 1 0 1 0 1 0 1 0 1 0 1 0 1 0 1 0 1 0 1 0 1 0 1 0 1 0 1 0 1 0 1-1 1-1 1-4 1-7 1-10 1-11 1-13 1-14 1-13 1-12 1-9 1-5 1-1 1 1 1 1 1 3 1 4 1 4 1 4 1 5 1 4 1 4 1 3 1 4 1 3 1 3 1 3 1 2 1 3 1 2 1 3 1 2 1 3 1 2 1 2 1 2 1 1 1 2 1 2 1 1 1 2 1 1 1 1 1 1 1 2 1 1 1 1 1 1 1 1 1 1 1 1 1 1 1 1 1 0 1 1 1 1 1 1 1 0 1 1 1 0 1 1 1 0 1 1 1 0 1 1 1 0 1 0 1 1 1 0 1 0 1 1 1 0 1 0 1 1 1 0 1 0 1 0 1 1 1 0 1 0 1 0 1 0 1 0 1 0 1 1 1 0 1 0 1 0 1 0 1 0 1 0 1 0 1 0 1 0 1 0 1 0 1 0 1 0 1 0 1 0 1 0 1 0 1 0 1 1 1 0 1 0 1 0 1 0 1 0 1 0 1 0 1 0 1 0 1 0 1 0 1 0 1 0 1 0 1 0 1 0 1 0 1 0 1-1 1-1 1-4 1-7 1-10 1-11 1-13 1-14 1-13 1-12 1-9 1-5 1-1 1 1 1 1 1 3 1 4 1 4 1 4 1 5 1 4 1 4 1 3 1 4 1 3 1 3 1 3 1 2 1 3 1 2 1 3 1 2 1 3 1 2 1 2 1 2 1 1 1 2 1 2 1 1 1 2 1 1 1 1 1 1 1 2 1 1 1 1 1 1 1 1 1 1 1 1 1 1 1 1 1 0 1 1 1 1 1 1 1 0 1 1 1 0 1 1 1 0 1 1 1 0 1 1 1 0 1 0 1 1 1 0 1 0 1 1 1 0 1 0 1 1 1 0 1 0 1 0 1 1 1 0 1 0 1 0 1 0 1 0 1 0 1 1 1 0 1 0 1 0 1 0 1 0 1 0 1 0 1 0 1 0 1 0 1 0 1 0 1 0 1 0 1 0 1 0 1 0 1 0 1 1 1 0 1 0 1 0 1 0 1 0 1 0 1 0 1 0 1 0 1 0 1 0 1 0 1 0 1 0 1 0 1 0 1 0 1 0 1-1 1-1 1-4 1-7 1-10 1-11 1-13 1-14 1-13 1-12 1-9 1-5 1-1 1 1 1 1 1 3 1 4 1 4 1 4 1 5 1 4 1 4 1 3 1 4 1 3 1 3 1 3 1 2 1 3 1 2 1 3 1 2 1 3 1 2 1 2 1 2 1 1 1 2 1 2 1 1 1 2 1 1 1 1 1 1 1 2 1 1 1 1 1 1 1 1 1 1 1 1 1 1 1 1 1 0 1 1 1 1 1 1 1 0 1 1 1 0 1 1 1 0 1 1 1 0 1 1 1 0 1 0 1 1 1 0 1 0 1 1 1 0 1 0 1 1 1 0 1 0 1 0 1 1 1 0 1 0 1 0 1 0 1 0 1 0 1 1 1 0 1 0 1 0 1 0 1 0 1 0 1 0 1 0 1 0 1 0 1 0 1 0 1 0 1 0 1 0 1 0 1 0 1 0 1 1 1 0 1 0 1 0 1 0 1 0 1 0 1 0 1 0 1 0 1 0 1 0 1 0 1 0 1 0 1 0 1 0 1 0 1 0 1-1 1-1 1-4 1-7 1-10 1-11 1-13 1-14 1-13 1-12 1-9 1-5 1-1 1 1 1 1 1 3 1 4 1 4 1 4 1 5 1 4 1 4 1 3 1 4 1 3 1 3 1 3 1 2 1 3 1 2 1 3 1 2 1 3 1 2 1 2 1 2 1 1 1 2 1 2 1 1 1 2 1 1 1 1 1 1 1 2 1 1 1 1 1 1 1 1 1 1 1 1 1 1 1 1 1 0 1 1 1 1 1 1 1 0 1 1 1 0 1 1 1 0 1 1 1 0 1 1 1 0 1 0 1 1 1 0 1 0 1 1 1 0 1 0 1 1 1 0 1 0 1 0 1 1 1 0 1 0 1 0 1 0 1 0 1 0 1 1 1 0 1 0 1 0 1 0 1 0 1 0 1 0 1 0 1 0 1 0 1 0 1 0 1 0 1 0 1 0 1 0 1 0 1 0 1 1 1 0 1 0 1 0 1 0 1 0 1 0 1 0 1 0 1 0 1 0 1 0 1 0 1 0 1 0 1 0 1 0 1 0 1 0 1-1 1-1 1-4 1-7 1-10 1-11 1-13 1-14 1-13 1-12 1-9 1-5 1-1 1 1 1 1 1 3 1 4 1 4 1 4 1 5 1 4 1 4 1 3 1 4 1 3 1 3 1 3 1 2 1 3 1 2 1 3 1 2 1 3 1 2 1 2 1 2 1 1 1 2 1 2 1 1 1 2 1 1 1 1 1 1 1 2 1 1 1 1 1 1 1 1 1 1 1 1 1 1 1 1 1 0 1 1 1 1 1 1 1 0 1 1 1 0 1 1 1 0 1 1 1 0 1 1 1 0 1 0 1 1 1 0 1 0 1 1 1 0 1 0 1 1 1 0 1 0 1 0 1 1 1 0 1 0 1 0 1 0 1 0 1 0 1 1 1 0 1 0 1 0 1 0 1 0 1 0 1 0 1 0 1 0 1 0 1 0 1 0 1 0 1 0 1 0 1 0 1 0 1 0 1 1 1 0 1 0 1 0 1 0 1 0 1 0 1 0 1 0 1 0 1 0 1 0 1 0 1 0 1 0 1 0 1 0 1 0 1 0 1-1 1-1 1-4 1-7 1-10 1-11 1-13 1-14 1-13 1-12 1-9 1-5 1-1 1 1 1 1 1 3 1 4 1 4 1 4 1 5 1 4 1 4 1 3 1 4 1 3 1 3 1 3 1 2 1 3 1 2 1 3 1 2 1 3 1 2 1 2 1 2 1 1 1 2 1 2 1 1 1 2 1 1 1 1 1 1 1 2 1 1 1 1 1 1 1 1 1 1 1 1 1 1 1 1 1 0 1 1 1 1 1 1 1 0 1 1 1 0 1 1 1 0 1 1 1 0 1 1 1 0 1 0 1 1 1 0 1 0 1 1 1 0 1 0 1 1 1 0 1 0 1 0 1 1 1 0 1 0 1 0 1 0 1 0 1 0 1 1 1 0 1 0 1 0 1 0 1 0 1 0 1 0 1 0 1 0 1 0 1 0 1 0 1 0 1 0 1 0 1 0 1 0 1 0 1 1 1 0 1 0 1 0 1 0 1 0 1 0 1 0 1 0 1 0 1 0 1 0 1 0 1 0 1 0 1 0 1 0 1 0 1 0 1-1 1-1 1-4 1-7 1-10 1-11 1-13 1-14 1-13 1-12 1-9 1-5 1-1 1 1 1 1 1 3 1 4 1 4 1 4 1 5 1 4 1 4 1 3 1 4 1 3 1 3 1 3 1 2 1 3 1 2 1 3 1 2 1 3 1 2 1 2 1 2 1 1 1 2 1 2 1 1 1 2 1 1 1 1 1 1 1 2 1 1 1 1 1 1 1 1 1 1 1 1 1 1 1 1 1 0 1 1 1 1 1 1 1 0 1 1 1 0 1 1 1 0 1 1 1 0 1 1 1 0 1 0 1 1 1 0 1 0 1 1 1 0 1 0 1 1 1 0 1 0 1 0 1 1 1 0 1 0 1 0 1 0 1 0 1 0 1 1 1 0 1 0 1 0 1 0 1 0 1 0 1 0 1 0 1 0 1 0 1 0 1 0 1 0 1 0 1 0 1 0 1 0 1 0 1 1 1 0 1 0 1 0 1 0 1 0 1 0 1 0 1 0 1 0 1 0 1 0 1 0 1 0 1 0 1 0 1 0 1 0 1 0 1-1 1-1 1-4 1-7 1-10 1-11 1-13 1-14 1-13 1-12 1-9 1-5 1-1 1 1 1 1 1 3 1 4 1 4 1 4 1 5 1 4 1 4 1 3 1 4 1 3 1 3 1 3 1 2 1 3 1 2 1 3 1 2 1 3 1 2 1 2 1 2 1 1 1 2 1 2 1 1 1 2 1 1 1 1 1 1 1 2 1 1 1 1 1 1 1 1 1 1 1 1 1 1 1 1 1 0 1 1 1 1 1 1 1 0 1 1 1 0 1 1 1 0 1 1 1 0 1 1 1 0 1 0 1 1 1 0 1 0 1 1 1 0 1 0 1 1 1 0 1 0 1 0 1 1 1 0 1 0 1 0 1 0 1 0 1 0 1 1 1 0 1 0 1 0 1 0 1 0 1 0 1 0 1 0 1 0 1 0 1 0 1 0 1 0 1 0 1 0 1 0 1 0 1 0 1 1 1 0 1 0 1 0 1 0 1 0 1 0 1 0 1 0 1 0 1 0 1 0 1 0 1 0 1 0 1 0 1 0 1 0 1 0 1-1 1-1 1-4 1-7 1-10 1-11 1-13 1-14 1-13 1-12 1-9 1-5 1-1 1 1 1 1 1 3 1 4 1 4 1 4 1 5 1 4 1 4 1 3 1 4 1 3 1 3 1 3 1 2 1 3 1 2 1 3 1 2 1 3 1 2 1 2 1 2 1 1 1 2 1 2 1 1 1 2 1 1 1 1 1 1 1 2 1 1 1 1 1 1 1 1 1 1 1 1 1 1 1 1 1 0 1 1 1 1 1 1 1 0 1 1 1 0 1 1 1 0 1 1 1 0 1 1 1 0 1 0 1 1 1 0 1 0 1 1 1 0 1 0 1 1 1 0 1 0 1 0 1 1 1 0 1 0 1 0 1 0 1 0 1 0 1 1 1 0 1 0 1 0 1 0 1 0 1 0 1 0 1 0 1 0 1 0 1 0 1 0 1 0 1 0 1 0 1 0 1 0 1 0 1 1 1 0 1 0 1 0 1 0 1 0 1 0 1 0 1 0 1 0 1 0 1 0 1 0 1 0 1 0 1 0 1 0 1 0 1 0 1-1 1-1 1-4 1-7 1-10 1-11 1-13 1-14 1-13 1-12 1-9 1-5 1-1 1 1 1 1 1 3 1 4 1 4 1 4 1 5 1 4 1 4 1 3 1 4 1 3 1 3 1 3 1 2 1 3 1 2 1 3 1 2 1 3 1 2 1 2 1 2 1 1 1 2 1 2 1 1 1 2 1 1 1 1 1 1 1 2 1 1 1 1 1 1 1 1 1 1 1 1 1 1 1 1 1 0 1 1 1 1 1 1 1 0 1 1 1 0 1 1 1 0 1 1 1 0 1 1 1 0 1 0 1 1 1 0 1 0 1 1 1 0 1 0 1 1 1 0 1 0 1 0 1 1 1 0 1 0 1 0 1 0 1 0 1 0 1 1 1 0 1 0 1 0 1 0 1 0 1 0 1 0 1 0 1 0 1 0 1 0 1 0 1 0 1 0 1 0 1 0 1 0 1 0 1 1 1 0 1 0 1 0 1 0 1 0 1 0 1 0 1 0 1 0 1 0 1 0 1 0 1 0 1 0 1 0 1 0 1 0 1 0 1-1 1-1 1-4 1-7 1-10 1-11 1-13 1-14 1-13 1-12 1-9 1-5 1-1 1 1 1 1 1 3 1 4 1 4 1 4 1 5 1 4 1 4 1 3 1 4 1 3 1 3 1 3 1 2 1 3 1 2 1 3 1 2 1 3 1 2 1 2 1 2 1 1 1 2 1 2 1 1 1 2 1 1 1 1 1 1 1 2 1 1 1 1 1 1 1 1 1 1 1 1 1 1 1 1 1 0 1 1 1 1 1 1 1 0 1 1 1 0 1 1 1 0 1 1 1 0 1 1 1 0 1 0 1 1 1 0 1 0 1 1 1 0 1 0 1 1 1 0 1 0 1 0 1 1 1 0 1 0 1 0 1 0 1 0 1 0 1 1 1 0 1 0 1 0 1 0 1 0 1 0 1 0 1 0 1 0 1 0 1 0 1 0 1 0 1 0 1 0 1 0 1 0 1 0 1 1 1 0 1 0 1 0 1 0 1 0 1 0 1 0 1 0 1 0 1 0 1 0 1 0 1 0 1 0 1 0 1 0 1 0 1 0 1-1 1-1 1-4 1-7 1-10 1-11 1-13 1-14 1-13 1-12 1-9 1-5 1-1 1 1 1 1 1 3 1 4 1 4 1 4 1 5 1 4 1 4 1 3 1 4 1 3 1 3 1 3 1 2 1 3 1 2 1 3 1 2 1 3 1 2 1 2 1 2 1 1 1 2 1 2 1 1 1 2 1 1 1 1 1 1 1 2 1 1 1 1 1 1 1 1 1 1 1 1 1 1 1 1 1 0 1 1 1 1 1 1 1 0 1 1 1 0 1 1 1 0 1 1 1 0 1 1 1 0 1 0 1 1 1 0 1 0 1 1 1 0 1 0 1 1 1 0 1 0 1 0 1 1 1 0 1 0 1 0 1 0 1 0 1 0 1 1 1 0 1 0 1 0 1 0 1 0 1 0 1 0 1 0 1 0 1 0 1 0 1 0 1 0 1 0 1 0 1 0 1 0 1 0 1 1 1 0 1 0 1 0 1 0 1 0 1 0 1 0 1 0 1 0 1 0 1 0 1 0 1 0 1 0 1 0 1 0 1 0 1 0 1-1 1-1 1-4 1-7 1-10 1-11 1-13 1-14 1-13 1-12 1-9 1-5 1-1 1 1 1 1 1 3 1 4 1 4 1 4 1 5 1 4 1 4 1 3 1 4 1 3 1 3 1 3 1 2 1 3 1 2 1 3 1 2 1 3 1 2 1 2 1 2 1 1 1 2 1 2 1 1 1 2 1 1 1 1 1 1 1 2 1 1 1 1 1 1 1 1 1 1 1 1 1 1 1 1 1 0 1 1 1 1 1 1 1 0 1 1 1 0 1 1 1 0 1 1 1 0 1 1 1 0 1 0 1 1 1 0 1 0 1 1 1 0 1 0 1 1 1 0 1 0 1 0 1 1 1 0 1 0 1 0 1 0 1 0 1 0 1 1 1 0 1 0 1 0 1 0 1 0 1 0 1 0 1 0 1 0 1 0 1 0 1 0 1 0 1 0 1 0 1 0 1 0 1 0 1 1 1 0 1 0 1 0 1 0 1 0 1 0 1 0 1 0 1 0 1 0 1 0 1 0 1 0 1 0 1 0 1 0 1 0 1 0 1-1 1-1 1-4 1-7 1-10 1-11 1-13 1-14 1-13 1-12 1-9 1-5 1-1 1 1 1 1 1 3 1 4 1 4 1 4 1 5 1 4 1 4 1 3 1 4 1 3 1 3 1 3 1 2 1 3 1 2 1 3 1 2 1 3 1 2 1 2 1 2 1 1 1 2 1 2 1 1 1 2 1 1 1 1 1 1 1 2 1 1 1 1 1 1 1 1 1 1 1 1 1 1 1 1 1 0 1 1 1 1 1 1 1 0 1 1 1 0 1 1 1 0 1 1 1 0 1 1 1 0 1 0 1 1 1 0 1 0 1 1 1 0 1 0 1 1 1 0 1 0 1 0 1 1 1 0 1 0 1 0 1 0 1 0 1 0 1 1 1 0 1 0 1 0 1 0 1 0 1 0 1 0 1 0 1 0 1 0 1 0 1 0 1 0 1 0 1 0 1 0 1 0 1 0 1 1 1 0 1 0 1 0 1 0 1 0 1 0 1 0 1 0 1 0 1 0 1 0 1 0 1 0 1 0 1 0 1 0 1 0 1 0 1-1 1-1 1-4 1-7 1-10 1-11 1-13 1-14 1-13 1-12 1-9 1-5 1-1 1 1 1 1 1 3 1 4 1 4 1 4 1 5 1 4 1 4 1 3 1 4 1 3 1 3 1 3 1 2 1 3 1 2 1 3 1 2 1 3 1 2 1 2 1 2 1 1 1 2 1 2 1 1 1 2 1 1 1 1 1 1 1 2 1 1 1 1 1 1 1 1 1 1 1 1 1 1 1 1 1 0 1 1 1 1 1 1 1 0 1 1 1 0 1 1 1 0 1 1 1 0 1 1 1 0 1 0 1 1 1 0 1 0 1 1 1 0 1 0 1 1 1 0 1 0 1 0 1 1 1 0 1 0 1 0 1 0 1 0 1 0 1 1 1 0 1 0 1 0 1 0 1 0 1 0 1 0 1 0 1 0 1 0 1 0 1 0 1 0 1 0 1 0 1 0 1 0 1 0 1 1 1 0 1 0 1 0 1 0 1 0 1 0 1 0 1 0 1 0 1 0 1 0 1 0 1 0 1 0 1 0 1 0 1 0 1 0 1-1 1-1 1-4 1-7 1-10 1-11 1-13 1-14 1-13 1-12 1-9 1-5 1-1 1 1 1 1 1 3 1 4 1 4 1 4 1 5 1 4 1 4 1 3 1 4 1 3 1 3 1 3 1 2 1 3 1 2 1 3 1 2 1 3 1 2 1 2 1 2 1 1 1 2 1 2 1 1 1 2 1 1 1 1 1 1 1 2 1 1 1 1 1 1 1 1 1 1 1 1 1 1 1 1 1 0 1 1 1 1 1 1 1 0 1 1 1 0 1 1 1 0 1 1 1 0 1 1 1 0 1 0 1 1 1 0 1 0 1 1 1 0 1 0 1 1 1 0 1 0 1 0 1 1 1 0 1 0 1 0 1 0 1 0 1 0 1 1 1 0 1 0 1 0 1 0 1 0 1 0 1 0 1 0 1 0 1 0 1 0 1 0 1 0 1 0 1 0 1 0 1 0 1 0 1 1 1 0 1 0 1 0 1 0 1 0 1 0 1 0 1 0 1 0 1 0 1 0 1 0 1 0 1 0 1 0 1 0 1 0 1 0 1-1 1-1 1-4 1-7 1-10 1-11 1-13 1-14 1-13 1-12 1-9 1-5 1-1 1 1 1 1 1 3 1 4 1 4 1 4 1 5 1 4 1 4 1 3 1 4 1 3 1 3 1 3 1 2 1 3 1 2 1 3 1 2 1 3 1 2 1 2 1 2 1 1 1 2 1 2 1 1 1 2 1 1 1 1 1 1 1 2 1 1 1 1 1 1 1 1 1 1 1 1 1 1 1 1 1 0 1 1 1 1 1 1 1 0 1 1 1 0 1 1 1 0 1 1 1 0 1 1 1 0 1 0 1 1 1 0 1 0 1 1 1 0 1 0 1 1 1 0 1 0 1 0 1 1 1 0 1 0 1 0 1 0 1 0 1 0 1 1 1 0 1 0 1 0 1 0 1 0 1 0 1 0 1 0 1 0 1 0 1 0 1 0 1 0 1 0 1 0 1 0 1 0 1 0 1 1 1 0 1 0 1 0 1 0 1 0 1 0 1 0 1 0 1 0 1 0 1 0 1 0 1 0 1 0 1 0 1 0 1 0 1 0 1-1 1-1 1-4 1-7 1-10" fill="none" stroke="#ff0000" stroke-width="2.2" stroke-linejoin="round" vector-effect="non-scaling-stroke"/></g>
<rect x="84.75" y="446.25" width="93.35" height="302.65" fill="none" stroke="#ff0000" stroke-width="2"/>
<g fill="#262626" stroke="#262626" stroke-width="0.3">
<text x="84.15" y="780.10" font-size="22" text-anchor="middle" font-family='"Liberation Sans", Arial, Helvetica, sans-serif'>0</text>
<text x="167.55" y="780.10" font-size="22" text-anchor="middle" font-family='"Liberation Sans", Arial, Helvetica, sans-serif'>0.1</text>
<text x="250.95" y="780.10" font-size="22" text-anchor="middle" font-family='"Liberation Sans", Arial, Helvetica, sans-serif'>0.2</text>
<text x="334.36" y="780.10" font-size="22" text-anchor="middle" font-family='"Liberation Sans", Arial, Helvetica, sans-serif'>0.3</text>
<text x="417.76" y="780.10" font-size="22" text-anchor="middle" font-family='"Liberation Sans", Arial, Helvetica, sans-serif'>0.4</text>
<text x="501.16" y="780.10" font-size="22" text-anchor="middle" font-family='"Liberation Sans", Arial, Helvetica, sans-serif'>0.5</text>
<text x="584.56" y="780.10" font-size="22" text-anchor="middle" font-family='"Liberation Sans", Arial, Helvetica, sans-serif'>0.6</text>
<text x="667.97" y="780.10" font-size="22" text-anchor="middle" font-family='"Liberation Sans", Arial, Helvetica, sans-serif'>0.7</text>
<text x="751.37" y="780.10" font-size="22" text-anchor="middle" font-family='"Liberation Sans", Arial, Helvetica, sans-serif'>0.8</text>
<text x="75.65" y="718.10" font-size="22" text-anchor="end" font-family='"Liberation Sans", Arial, Helvetica, sans-serif'>-6</text>
<text x="75.65" y="675.43" font-size="22" text-anchor="end" font-family='"Liberation Sans", Arial, Helvetica, sans-serif'>-4</text>
<text x="75.65" y="632.77" font-size="22" text-anchor="end" font-family='"Liberation Sans", Arial, Helvetica, sans-serif'>-2</text>
<text x="75.65" y="590.10" font-size="22" text-anchor="end" font-family='"Liberation Sans", Arial, Helvetica, sans-serif'>0</text>
<text x="75.65" y="547.43" font-size="22" text-anchor="end" font-family='"Liberation Sans", Arial, Helvetica, sans-serif'>2</text>
<text x="75.65" y="504.77" font-size="22" text-anchor="end" font-family='"Liberation Sans", Arial, Helvetica, sans-serif'>4</text>
<text x="75.65" y="462.10" font-size="22" text-anchor="end" font-family='"Liberation Sans", Arial, Helvetica, sans-serif'>6</text>
<text x="425.38" y="813.10" font-size="24.2" text-anchor="middle" font-family='"Liberation Sans", Arial, Helvetica, sans-serif'>Time[S]</text>
<text transform="translate(42.90 588.60) rotate(-90)" font-size="24.3" text-anchor="middle" textLength="174.7" lengthAdjust="spacing" font-family='"Liberation Sans", Arial, Helvetica, sans-serif'>Amplitude[m/s<tspan dy="-11" dx="0.4" font-size="19.4">2</tspan><tspan dy="11" dx="0.6">]</tspan></text>
</g>
<rect x="473.60" y="435.60" width="282.00" height="82.00" fill="#fff" stroke="#262626" stroke-width="1.1"/>
<path d="M480.00 457.60H551.60" stroke="#0000ff" stroke-width="1.1" fill="none"/>
<text x="557.00" y="468.60" font-size="27.5" text-anchor="start" font-family='"Liberation Sans", Arial, Helvetica, sans-serif' textLength="121.5" lengthAdjust="spacing" fill="#000" stroke="#000" stroke-width="0.3">waveform</text>
<path d="M480.00 495.60H551.60" stroke="#ff0000" stroke-width="2" fill="none"/>
<text x="557.00" y="506.40" font-size="27.5" text-anchor="start" font-family='"Liberation Sans", Arial, Helvetica, sans-serif' textLength="189.0" lengthAdjust="spacing" fill="#000" stroke="#000" stroke-width="0.3">Slice waveform</text>
<text x="-0.90" y="462.50" font-family='"Liberation Serif", "Times New Roman", serif' fill="#000" stroke="#000" stroke-width="0.15" font-size="41"><tspan font-size="42.5">(</tspan><tspan dy="-0.5" dx="0.3" stroke-width="0.3">b</tspan><tspan font-size="42.5" dy="0.5" dx="0.3">)</tspan></text>
<clipPath id="cbR"><rect x="902.00" y="426.70" width="684.70" height="324.20"/></clipPath>
<g stroke="#262626" stroke-width="1.3" fill="none" stroke-linecap="butt">
<rect x="902.60" y="427.30" width="683.50" height="323.00"/>
<path d="M902.60 750.30v-6.90M902.60 427.30v6.90M1039.30 750.30v-6.90M1039.30 427.30v6.90M1176.00 750.30v-6.90M1176.00 427.30v6.90M1312.70 750.30v-6.90M1312.70 427.30v6.90M1449.40 750.30v-6.90M1449.40 427.30v6.90M1586.10 750.30v-6.90M1586.10 427.30v6.90M902.60 710.60h6.90M1586.10 710.60h-6.90M902.60 667.93h6.90M1586.10 667.93h-6.90M902.60 625.27h6.90M1586.10 625.27h-6.90M902.60 582.60h6.90M1586.10 582.60h-6.90M902.60 539.93h6.90M1586.10 539.93h-6.90M902.60 497.27h6.90M1586.10 497.27h-6.90M902.60 454.60h6.90M1586.10 454.60h-6.90"/>
</g>
<g clip-path="url(#cbR)"><path transform="translate(902.600 427.30) scale(0.560246 0.5)" d="M0 323l1-196 1 464 1-539 1 404 1-268 1 237 1-235 1 315 1-377 1 282 1-183 1 162 1-161 1 216 1-259 1 194 1-126 1 112 1-111 1 148 1-177 1 132 1-86 1 77 1-76 1 101 1-121 1 91 1-59 1 52 1-52 1 70 1-84 1 63 1-41 1 36 1-36 1 48 1-57 1 43 1-28 1 25 1-25 1 33 1-39 1 29 1-19 1 17 1-17 1 22 1-26 1 20 1-13 1 11 1-11 1 15 1-18 1 13 1-8 1 7 1-7 1 10 1-13 1 10 1-6 1 5 1-5 1 7 1-9 1 7 1-4 1 3 1-3 1 5 1-6 1 4 1-3 1 3 1-3 1 4 1-4 1 3 1-2 1 1 1-1 1 2 1-3 1 2 1-1 1 1 1-1 1 2 1-2 1 1 1-1 1 1 1-1 1 1 1-1 1 1 1-1 1 1 1-1 1 1 1-1 1 1 1-1 1 1 1-1 1 1 1-1 1 1 1-1 1 1 1-1 1 1 1-1 1 1 1 0 1 0 1 0 1 12 1-196 1 464 1-539 1 404 1-268 1 237 1-235 1 315 1-377 1 282 1-183 1 162 1-161 1 216 1-259 1 194 1-126 1 112 1-111 1 148 1-177 1 132 1-86 1 77 1-76 1 101 1-121 1 91 1-59 1 52 1-52 1 70 1-84 1 63 1-41 1 36 1-36 1 48 1-57 1 43 1-28 1 25 1-25 1 33 1-39 1 29 1-19 1 17 1-17 1 22 1-26 1 20 1-13 1 11 1-11 1 15 1-18 1 13 1-8 1 7 1-7 1 10 1-13 1 10 1-6 1 5 1-5 1 7 1-9 1 7 1-4 1 3 1-3 1 5 1-6 1 4 1-3 1 3 1-3 1 4 1-4 1 3 1-2 1 1 1-1 1 2 1-3 1 2 1-1 1 1 1-1 1 2 1-2 1 1 1-1 1 1 1-1 1 1 1-1 1 1 1-1 1 1 1-1 1 1 1-1 1 1 1-1 1 1 1-1 1 1 1-1 1 1 1-1 1 1 1-1 1 1 1-1 1 1 1 0 1 0 1 0 1 12 1-196 1 464 1-539 1 404 1-268 1 237 1-235 1 315 1-377 1 282 1-183 1 162 1-161 1 216 1-259 1 194 1-126 1 112 1-111 1 148 1-177 1 132 1-86 1 77 1-76 1 101 1-121 1 91 1-59 1 52 1-52 1 70 1-84 1 63 1-41 1 36 1-36 1 48 1-57 1 43 1-28 1 25 1-25 1 33 1-39 1 29 1-19 1 17 1-17 1 22 1-26 1 20 1-13 1 11 1-11 1 15 1-18 1 13 1-8 1 7 1-7 1 10 1-13 1 10 1-6 1 5 1-5 1 7 1-9 1 7 1-4 1 3 1-3 1 5 1-6 1 4 1-3 1 3 1-3 1 4 1-4 1 3 1-2 1 1 1-1 1 2 1-3 1 2 1-1 1 1 1-1 1 2 1-2 1 1 1-1 1 1 1-1 1 1 1-1 1 1 1-1 1 1 1-1 1 1 1-1 1 1 1-1 1 1 1-1 1 1 1-1 1 1 1-1 1 1 1-1 1 1 1-1 1 1 1 0 1 0 1 0 1 12 1-196 1 464 1-539 1 404 1-268 1 237 1-235 1 315 1-377 1 282 1-183 1 162 1-161 1 216 1-259 1 194 1-126 1 112 1-111 1 148 1-177 1 132 1-86 1 77 1-76 1 101 1-121 1 91 1-59 1 52 1-52 1 70 1-84 1 63 1-41 1 36 1-36 1 48 1-57 1 43 1-28 1 25 1-25 1 33 1-39 1 29 1-19 1 17 1-17 1 22 1-26 1 20 1-13 1 11 1-11 1 15 1-18 1 13 1-8 1 7 1-7 1 10 1-13 1 10 1-6 1 5 1-5 1 7 1-9 1 7 1-4 1 3 1-3 1 5 1-6 1 4 1-3 1 3 1-3 1 4 1-4 1 3 1-2 1 1 1-1 1 2 1-3 1 2 1-1 1 1 1-1 1 2 1-2 1 1 1-1 1 1 1-1 1 1 1-1 1 1 1-1 1 1 1-1 1 1 1-1 1 1 1-1 1 1 1-1 1 1 1-1 1 1 1-1 1 1 1-1 1 1 1-1 1 1 1 0 1 0 1 0 1 12 1-196 1 464 1-539 1 404 1-268 1 237 1-235 1 315 1-377 1 282 1-183 1 162 1-161 1 216 1-259 1 194 1-126 1 112 1-111 1 148 1-177 1 132 1-86 1 77 1-76 1 101 1-121 1 91 1-59 1 52 1-52 1 70 1-84 1 63 1-41 1 36 1-36 1 48 1-57 1 43 1-28 1 25 1-25 1 33 1-39 1 29 1-19 1 17 1-17 1 22 1-26 1 20 1-13 1 11 1-11 1 15 1-18 1 13 1-8 1 7 1-7 1 10 1-13 1 10 1-6 1 5 1-5 1 7 1-9 1 7 1-4 1 3 1-3 1 5 1-6 1 4 1-3 1 3 1-3 1 4 1-4 1 3 1-2 1 1 1-1 1 2 1-3 1 2 1-1 1 1 1-1 1 2 1-2 1 1 1-1 1 1 1-1 1 1 1-1 1 1 1-1 1 1 1-1 1 1 1-1 1 1 1-1 1 1 1-1 1 1 1-1 1 1 1-1 1 1 1-1 1 1 1-1 1 1 1 0 1 0 1 0 1 12 1-196 1 464 1-539 1 404 1-268 1 237 1-235 1 315 1-377 1 282 1-183 1 162 1-161 1 216 1-259 1 194 1-126 1 112 1-111 1 148 1-177 1 132 1-86 1 77 1-76 1 101 1-121 1 91 1-59 1 52 1-52 1 70 1-84 1 63 1-41 1 36 1-36 1 48 1-57 1 43 1-28 1 25 1-25 1 33 1-39 1 29 1-19 1 17 1-17 1 22 1-26 1 20 1-13 1 11 1-11 1 15 1-18 1 13 1-8 1 7 1-7 1 10 1-13 1 10 1-6 1 5 1-5 1 7 1-9 1 7 1-4 1 3 1-3 1 5 1-6 1 4 1-3 1 3 1-3 1 4 1-4 1 3 1-2 1 1 1-1 1 2 1-3 1 2 1-1 1 1 1-1 1 2 1-2 1 1 1-1 1 1 1-1 1 1 1-1 1 1 1-1 1 1 1-1 1 1 1-1 1 1 1-1 1 1 1-1 1 1 1-1 1 1 1-1 1 1 1-1 1 1 1-1 1 1 1 0 1 0 1 0 1 12 1-196 1 464 1-539 1 404 1-268 1 237 1-235 1 315 1-377 1 282 1-183 1 162 1-161 1 216 1-259 1 194 1-126 1 112 1-111 1 148 1-177 1 132 1-86 1 77 1-76 1 101 1-121 1 91 1-59 1 52 1-52 1 70 1-84 1 63 1-41 1 36 1-36 1 48 1-57 1 43 1-28 1 25 1-25 1 33 1-39 1 29 1-19 1 17 1-17 1 22 1-26 1 20 1-13 1 11 1-11 1 15 1-18 1 13 1-8 1 7 1-7 1 10 1-13 1 10 1-6 1 5 1-5 1 7 1-9 1 7 1-4 1 3 1-3 1 5 1-6 1 4 1-3 1 3 1-3 1 4 1-4 1 3 1-2 1 1 1-1 1 2 1-3 1 2 1-1 1 1 1-1 1 2 1-2 1 1 1-1 1 1 1-1 1 1 1-1 1 1 1-1 1 1 1-1 1 1 1-1 1 1 1-1 1 1 1-1 1 1 1-1 1 1 1-1 1 1 1-1 1 1 1-1 1 1 1 0 1 0 1 0 1 12 1-196 1 464 1-539 1 404 1-268 1 237 1-235 1 315 1-377 1 282 1-183 1 162 1-161 1 216 1-259 1 194 1-126 1 112 1-111 1 148 1-177 1 132 1-86 1 77 1-76 1 101 1-121 1 91 1-59 1 52 1-52 1 70 1-84 1 63 1-41 1 36 1-36 1 48 1-57 1 43 1-28 1 25 1-25 1 33 1-39 1 29 1-19 1 17 1-17 1 22 1-26 1 20 1-13 1 11 1-11 1 15 1-18 1 13 1-8 1 7 1-7 1 10 1-13 1 10 1-6 1 5 1-5 1 7 1-9 1 7 1-4 1 3 1-3 1 5 1-6 1 4 1-3 1 3 1-3 1 4 1-4 1 3 1-2 1 1 1-1 1 2 1-3 1 2 1-1 1 1 1-1 1 2 1-2 1 1 1-1 1 1 1-1 1 1 1-1 1 1 1-1 1 1 1-1 1 1 1-1 1 1 1-1 1 1 1-1 1 1 1-1 1 1 1-1 1 1 1-1 1 1 1-1 1 1 1 0 1 0 1 0 1 12 1-196 1 464 1-539 1 404 1-268 1 237 1-235 1 315 1-377 1 282 1-183 1 162 1-161 1 216 1-259 1 194 1-126 1 112 1-111 1 148 1-177 1 132 1-86 1 77 1-76 1 101 1-121 1 91 1-59 1 52 1-52 1 70 1-84 1 63 1-41 1 36 1-36 1 48 1-57 1 43 1-28 1 25 1-25 1 33 1-39 1 29 1-19 1 17 1-17 1 22 1-26 1 20 1-13 1 11 1-11 1 15 1-18 1 13 1-8 1 7 1-7 1 10 1-13 1 10 1-6 1 5 1-5 1 7 1-9 1 7 1-4 1 3 1-3 1 5 1-6 1 4 1-3 1 3 1-3 1 4 1-4 1 3 1-2 1 1 1-1 1 2 1-3 1 2 1-1 1 1 1-1 1 2 1-2 1 1 1-1 1 1 1-1 1 1 1-1 1 1 1-1 1 1 1-1 1 1 1-1 1 1 1-1 1 1 1-1 1 1 1-1 1 1 1-1 1 1 1-1 1 1 1-1 1 1 1 0 1 0 1 0 1 12 1-196 1 464 1-539 1 404 1-268 1 237 1-235 1 315 1-377 1 282 1-183 1 162 1-161 1 216 1-259 1 194 1-126 1 112 1-111 1 148 1-177 1 132 1-86 1 77 1-76 1 101 1-121 1 91 1-59 1 52 1-52 1 70 1-84 1 63 1-41 1 36 1-36 1 48 1-57 1 43 1-28 1 25 1-25 1 33 1-39 1 29 1-19 1 17 1-17 1 22 1-26 1 20 1-13 1 11 1-11 1 15 1-18 1 13 1-8 1 7 1-7 1 10 1-13 1 10 1-6 1 5 1-5 1 7 1-9 1 7 1-4 1 3 1-3 1 5 1-6 1 4 1-3 1 3 1-3 1 4 1-4 1 3 1-2 1 1 1-1 1 2 1-3 1 2 1-1 1 1 1-1 1 2 1-2 1 1 1-1 1 1 1-1 1 1 1-1 1 1 1-1 1 1 1-1 1 1 1-1 1 1 1-1 1 1 1-1 1 1 1-1 1 1 1-1 1 1 1-1 1 1 1-1 1 1 1 0 1 0 1 0 1 12" fill="none" stroke="#0000ff" stroke-width="1.25" stroke-linejoin="round" vector-effect="non-scaling-stroke"/></g>
<g clip-path="url(#cbR)"><path transform="translate(902.600 427.30) scale(0.140061 0.25)" d="M0 474l1-6 1-6 1-6 1-5 1-5 1-5 1-4 1-4 1-4 1-2 1-3 1-2 1-1 1-1 1-1 1 1 1 1 1 0 1 1 1 0 1 1 1 0 1 1 1 0 1 1 1 2 1 2 1 2 1 1 1 2 1 2 1 2 1 1 1 2 1 2 1 2 1 3 1 2 1 2 1 3 1 2 1 2 1 2 1 3 1 2 1 2 1 2 1 2 1 2 1 2 1 2 1 2 1 1 1 2 1 2 1 2 1 2 1 1 1 2 1 2 1 1 1 2 1 2 1 1 1 2 1 1 1 2 1 1 1 1 1 2 1 1 1 2 1 1 1 1 1 2 1 1 1 1 1 1 1 2 1 1 1 1 1 1 1 2 1 1 1 1 1 1 1 2 1 1 1 1 1 1 1 1 1 2 1 1 1 1 1 1 1 1 1 1 1 1 1 1 1 1 1 1 1 1 1 1 1 1 1 1 1 1 1 1 1 1 1 1 1 1 1 1 1 1 1 1 1 0 1 1 1 1 1 1 1 1 1 1 1 0 1 1 1 1 1 1 1 0 1 1 1 1 1 1 1 0 1 1 1 1 1 0 1 1 1 1 1 0 1 1 1 1 1 0 1 1 1 0 1 1 1 1 1 0 1 1 1 0 1 1 1 0 1 1 1 0 1 1 1 1 1 0 1 1 1 0 1 1 1 0 1 1 1 0 1 1 1 0 1 1 1 0 1 1 1 0 1 1 1 0 1 1 1 0 1 1 1 0 1 1 1 0 1 1 1 0 1 1 1 0 1 0 1 1 1 0 1 1 1 0 1 0 1 1 1 0 1 0 1 1 1 0 1 0 1 1 1 0 1 0 1 1 1 0 1 0 1 1 1 0 1 0 1 1 1 0 1 0 1 0 1 1 1 0 1 0 1 1 1 0 1 0 1 0 1 1 1 0 1 0 1 0 1 0 1 1 1 0 1 0 1 0 1 1 1 0 1 0 1 0 1 0 1 1 1 0 1 0 1 0 1 1 1 0 1 0 1 0 1 0 1 1 1 0 1 0 1 0 1 0 1 0 1 1 1 0 1 0 1 0 1 0 1 0 1 1 1 0 1 0 1 0 1 0 1 0 1 1 1 0 1 0 1 0 1 0 1 0 1 0 1 0 1 1 1 0 1 0 1 0 1 0 1 0 1 1 1 0 1 0 1 0 1 0 1 0 1 0 1 0 1 1 1 0 1 0 1 0 1 0 1 0 1 0 1 0 1 0 1 0 1 1 1 0 1 0 1 0 1 0 1 0 1 0 1 0 1 0 1 0 1 0 1 0 1 0 1 1 1 0 1 0 1 0 1 0 1 0 1 0 1 0 1 0 1 0 1 0 1 0 1 0 1 0 1 0 1 0 1 0 1 0 1 1 1 0 1 0 1 0 1 0 1 0 1 0 1 0 1 0 1 0 1 0 1 0 1 0 1 0 1 0 1 0 1 0 1 0 1 0 1 0 1 0 1 0 1 0 1 0 1 0 1 0 1 1 1 0 1 0 1 0 1 0 1 0 1 0 1 0 1 0 1 0 1 0 1 0 1 0 1 0 1 0 1 0 1 0 1 0 1 0 1 0 1 0 1 0 1 0 1 0 1 0 1 0 1 0 1 0 1 0 1 0 1 0 1 0 1 0 1 0 1 0 1 0 1 0 1 0 1 0 1 0 1 0 1 0 1 0 1 0 1 0 1 0 1 0 1 0 1 0 1 0 1 0 1 0 1 0 1 0 1 0 1 0 1 0 1 0 1 0 1 0 1 0 1 0 1 0 1 0 1 0 1 0 1 0 1 0 1 0 1 0 1 0 1 0 1 0 1 0 1 0 1 0 1 0 1 0 1 0 1 0 1 0 1 0 1 0 1 0 1 0 1 0 1 0 1 0 1 0 1 0 1 0 1 0 1 0 1 0 1 0 1 0 1 0 1 0 1 0 1 0 1 0 1 0 1 0 1 0 1 0 1 0 1 0 1 0 1 0 1 0 1 0 1 0 1 0 1 0 1 0 1 0 1 0 1 0 1 0 1 0 1-1 1-1 1-1 1-2 1-2 1-2 1-3 1-3 1-3 1-3 1-4 1-5 1-4 1-5 1-5 1-6 1-5 1-6 1-6 1-7 1-6 1-7 1-7 1-6 1-7 1-7 1-7 1-7 1-6 1-7 1-6 1-6 1-6 1-6 1-5 1-5 1-5 1-4 1-4 1-4 1-2 1-3 1-2 1-1 1-1 1-1 1 1 1 1 1 0 1 1 1 0 1 1 1 0 1 1 1 0 1 1 1 2 1 2 1 2 1 1 1 2 1 2 1 2 1 1 1 2 1 2 1 2 1 3 1 2 1 2 1 3 1 2 1 2 1 2 1 3 1 2 1 2 1 2 1 2 1 2 1 2 1 2 1 2 1 1 1 2 1 2 1 2 1 2 1 1 1 2 1 2 1 1 1 2 1 2 1 1 1 2 1 1 1 2 1 1 1 1 1 2 1 1 1 2 1 1 1 1 1 2 1 1 1 1 1 1 1 2 1 1 1 1 1 1 1 2 1 1 1 1 1 1 1 2 1 1 1 1 1 1 1 1 1 2 1 1 1 1 1 1 1 1 1 1 1 1 1 1 1 1 1 1 1 1 1 1 1 1 1 1 1 1 1 1 1 1 1 1 1 1 1 1 1 1 1 1 1 0 1 1 1 1 1 1 1 1 1 1 1 0 1 1 1 1 1 1 1 0 1 1 1 1 1 1 1 0 1 1 1 1 1 0 1 1 1 1 1 0 1 1 1 1 1 0 1 1 1 0 1 1 1 1 1 0 1 1 1 0 1 1 1 0 1 1 1 0 1 1 1 1 1 0 1 1 1 0 1 1 1 0 1 1 1 0 1 1 1 0 1 1 1 0 1 1 1 0 1 1 1 0 1 1 1 0 1 1 1 0 1 1 1 0 1 1 1 0 1 1 1 0 1 0 1 1 1 0 1 1 1 0 1 0 1 1 1 0 1 0 1 1 1 0 1 0 1 1 1 0 1 0 1 1 1 0 1 0 1 1 1 0 1 0 1 1 1 0 1 0 1 0 1 1 1 0 1 0 1 1 1 0 1 0 1 0 1 1 1 0 1 0 1 0 1 0 1 1 1 0 1 0 1 0 1 1 1 0 1 0 1 0 1 0 1 1 1 0 1 0 1 0 1 1 1 0 1 0 1 0 1 0 1 1 1 0 1 0 1 0 1 0 1 0 1 1 1 0 1 0 1 0 1 0 1 0 1 1 1 0 1 0 1 0 1 0 1 0 1 1 1 0 1 0 1 0 1 0 1 0 1 0 1 0 1 1 1 0 1 0 1 0 1 0 1 0 1 1 1 0 1 0 1 0 1 0 1 0 1 0 1 0 1 1 1 0 1 0 1 0 1 0 1 0 1 0 1 0 1 0 1 0 1 1 1 0 1 0 1 0 1 0 1 0 1 0 1 0 1 0 1 0 1 0 1 0 1 0 1 1 1 0 1 0 1 0 1 0 1 0 1 0 1 0 1 0 1 0 1 0 1 0 1 0 1 0 1 0 1 0 1 0 1 0 1 1 1 0 1 0 1 0 1 0 1 0 1 0 1 0 1 0 1 0 1 0 1 0 1 0 1 0 1 0 1 0 1 0 1 0 1 0 1 0 1 0 1 0 1 0 1 0 1 0 1 0 1 1 1 0 1 0 1 0 1 0 1 0 1 0 1 0 1 0 1 0 1 0 1 0 1 0 1 0 1 0 1 0 1 0 1 0 1 0 1 0 1 0 1 0 1 0 1 0 1 0 1 0 1 0 1 0 1 0 1 0 1 0 1 0 1 0 1 0 1 0 1 0 1 0 1 0 1 0 1 0 1 0 1 0 1 0 1 0 1 0 1 0 1 0 1 0 1 0 1 0 1 0 1 0 1 0 1 0 1 0 1 0 1 0 1 0 1 0 1 0 1 0 1 0 1 0 1 0 1 0 1 0 1 0 1 0 1 0 1 0 1 0 1 0 1 0 1 0 1 0 1 0 1 0 1 0 1 0 1 0 1 0 1 0 1 0 1 0 1 0 1 0 1 0 1 0 1 0 1 0 1 0 1 0 1 0 1 0 1 0 1 0 1 0 1 0 1 0 1 0 1 0 1 0 1 0 1 0 1 0 1 0 1 0 1 0 1 0 1 0 1 0 1 0 1 0 1 0 1 0 1 0 1 0 1 0 1 0 1 0 1-1 1-1 1-1 1-2 1-2 1-2 1-3 1-3 1-3 1-3 1-4 1-5 1-4 1-5 1-5 1-6 1-5 1-6 1-6 1-7 1-6 1-7 1-7 1-6 1-7 1-7 1-7 1-7 1-6 1-7 1-6 1-6 1-6 1-6 1-5 1-5 1-5 1-4 1-4 1-4 1-2 1-3 1-2 1-1 1-1 1-1 1 1 1 1 1 0 1 1 1 0 1 1 1 0 1 1 1 0 1 1 1 2 1 2 1 2 1 1 1 2 1 2 1 2 1 1 1 2 1 2 1 2 1 3 1 2 1 2 1 3 1 2 1 2 1 2 1 3 1 2 1 2 1 2 1 2 1 2 1 2 1 2 1 2 1 1 1 2 1 2 1 2 1 2 1 1 1 2 1 2 1 1 1 2 1 2 1 1 1 2 1 1 1 2 1 1 1 1 1 2 1 1 1 2 1 1 1 1 1 2 1 1 1 1 1 1 1 2 1 1 1 1 1 1 1 2 1 1 1 1 1 1 1 2 1 1 1 1 1 1 1 1 1 2 1 1 1 1 1 1 1 1 1 1 1 1 1 1 1 1 1 1 1 1 1 1 1 1 1 1 1 1 1 1 1 1 1 1 1 1 1 1 1 1 1 1 1 0 1 1 1 1 1 1 1 1 1 1 1 0 1 1 1 1 1 1 1 0 1 1 1 1 1 1 1 0 1 1 1 1 1 0 1 1 1 1 1 0 1 1 1 1 1 0 1 1 1 0 1 1 1 1 1 0 1 1 1 0 1 1 1 0 1 1 1 0 1 1 1 1 1 0 1 1 1 0 1 1 1 0 1 1 1 0 1 1 1 0 1 1 1 0 1 1 1 0 1 1 1 0 1 1 1 0 1 1 1 0 1 1 1 0 1 1 1 0 1 1 1 0 1 0 1 1 1 0 1 1 1 0 1 0 1 1 1 0 1 0 1 1 1 0 1 0 1 1 1 0 1 0 1 1 1 0 1 0 1 1 1 0 1 0 1 1 1 0 1 0 1 0 1 1 1 0 1 0 1 1 1 0 1 0 1 0 1 1 1 0 1 0 1 0 1 0 1 1 1 0 1 0 1 0 1 1 1 0 1 0 1 0 1 0 1 1 1 0 1 0 1 0 1 1 1 0 1 0 1 0 1 0 1 1 1 0 1 0 1 0 1 0 1 0 1 1 1 0 1 0 1 0 1 0 1 0 1 1 1 0 1 0 1 0 1 0 1 0 1 1 1 0 1 0 1 0 1 0 1 0 1 0 1 0 1 1 1 0 1 0 1 0 1 0 1 0 1 1 1 0 1 0 1 0 1 0 1 0 1 0 1 0 1 1 1 0 1 0 1 0 1 0 1 0 1 0 1 0 1 0 1 0 1 1 1 0 1 0 1 0 1 0 1 0 1 0 1 0 1 0 1 0 1 0 1 0 1 0 1 1 1 0 1 0 1 0 1 0 1 0 1 0 1 0 1 0 1 0 1 0 1 0 1 0 1 0 1 0 1 0 1 0 1 0 1 1 1 0 1 0 1 0 1 0 1 0 1 0 1 0 1 0 1 0 1 0 1 0 1 0 1 0 1 0 1 0 1 0 1 0 1 0 1 0 1 0 1 0 1 0 1 0 1 0 1 0 1 1 1 0 1 0 1 0 1 0 1 0 1 0 1 0 1 0 1 0 1 0 1 0 1 0 1 0 1 0 1 0 1 0 1 0 1 0 1 0 1 0 1 0 1 0 1 0 1 0 1 0 1 0 1 0 1 0 1 0 1 0 1 0 1 0 1 0 1 0 1 0 1 0 1 0 1 0 1 0 1 0 1 0 1 0 1 0 1 0 1 0 1 0 1 0 1 0 1 0 1 0 1 0 1 0 1 0 1 0 1 0 1 0 1 0 1 0 1 0 1 0 1 0 1 0 1 0 1 0 1 0 1 0 1 0 1 0 1 0 1 0 1 0 1 0 1 0 1 0 1 0 1 0 1 0 1 0 1 0 1 0 1 0 1 0 1 0 1 0 1 0 1 0 1 0 1 0 1 0 1 0 1 0 1 0 1 0 1 0 1 0 1 0 1 0 1 0 1 0 1 0 1 0 1 0 1 0 1 0 1 0 1 0 1 0 1 0 1 0 1 0 1 0 1 0 1 0 1 0 1 0 1 0 1 0 1 0 1 0 1-1 1-1 1-1 1-2 1-2 1-2 1-3 1-3 1-3 1-3 1-4 1-5 1-4 1-5 1-5 1-6 1-5 1-6 1-6 1-7 1-6 1-7 1-7 1-6 1-7 1-7 1-7 1-7 1-6 1-7 1-6 1-6 1-6 1-6 1-5 1-5 1-5 1-4 1-4 1-4 1-2 1-3 1-2 1-1 1-1 1-1 1 1 1 1 1 0 1 1 1 0 1 1 1 0 1 1 1 0 1 1 1 2 1 2 1 2 1 1 1 2 1 2 1 2 1 1 1 2 1 2 1 2 1 3 1 2 1 2 1 3 1 2 1 2 1 2 1 3 1 2 1 2 1 2 1 2 1 2 1 2 1 2 1 2 1 1 1 2 1 2 1 2 1 2 1 1 1 2 1 2 1 1 1 2 1 2 1 1 1 2 1 1 1 2 1 1 1 1 1 2 1 1 1 2 1 1 1 1 1 2 1 1 1 1 1 1 1 2 1 1 1 1 1 1 1 2 1 1 1 1 1 1 1 2 1 1 1 1 1 1 1 1 1 2 1 1 1 1 1 1 1 1 1 1 1 1 1 1 1 1 1 1 1 1 1 1 1 1 1 1 1 1 1 1 1 1 1 1 1 1 1 1 1 1 1 1 1 0 1 1 1 1 1 1 1 1 1 1 1 0 1 1 1 1 1 1 1 0 1 1 1 1 1 1 1 0 1 1 1 1 1 0 1 1 1 1 1 0 1 1 1 1 1 0 1 1 1 0 1 1 1 1 1 0 1 1 1 0 1 1 1 0 1 1 1 0 1 1 1 1 1 0 1 1 1 0 1 1 1 0 1 1 1 0 1 1 1 0 1 1 1 0 1 1 1 0 1 1 1 0 1 1 1 0 1 1 1 0 1 1 1 0 1 1 1 0 1 1 1 0 1 0 1 1 1 0 1 1 1 0 1 0 1 1 1 0 1 0 1 1 1 0 1 0 1 1 1 0 1 0 1 1 1 0 1 0 1 1 1 0 1 0 1 1 1 0 1 0 1 0 1 1 1 0 1 0 1 1 1 0 1 0 1 0 1 1 1 0 1 0 1 0 1 0 1 1 1 0 1 0 1 0 1 1 1 0 1 0 1 0 1 0 1 1 1 0 1 0 1 0 1 1 1 0 1 0 1 0 1 0 1 1 1 0 1 0 1 0 1 0 1 0 1 1 1 0 1 0 1 0 1 0 1 0 1 1 1 0 1 0 1 0 1 0 1 0 1 1 1 0 1 0 1 0 1 0 1 0 1 0 1 0 1 1 1 0 1 0 1 0 1 0 1 0 1 1 1 0 1 0 1 0 1 0 1 0 1 0 1 0 1 1 1 0 1 0 1 0 1 0 1 0 1 0 1 0 1 0 1 0 1 1 1 0 1 0 1 0 1 0 1 0 1 0 1 0 1 0 1 0 1 0 1 0 1 0 1 1 1 0 1 0 1 0 1 0 1 0 1 0 1 0 1 0 1 0 1 0 1 0 1 0 1 0 1 0 1 0 1 0 1 0 1 1 1 0 1 0 1 0 1 0 1 0 1 0 1 0 1 0 1 0 1 0 1 0 1 0 1 0 1 0 1 0 1 0 1 0 1 0 1 0 1 0 1 0 1 0 1 0 1 0 1 0 1 1 1 0 1 0 1 0 1 0 1 0 1 0 1 0 1 0 1 0 1 0 1 0 1 0 1 0 1 0 1 0 1 0 1 0 1 0 1 0 1 0 1 0 1 0 1 0 1 0 1 0 1 0 1 0 1 0 1 0 1 0 1 0 1 0 1 0 1 0 1 0 1 0 1 0 1 0 1 0 1 0 1 0 1 0 1 0 1 0 1 0 1 0 1 0 1 0 1 0 1 0 1 0 1 0 1 0 1 0 1 0 1 0 1 0 1 0 1 0 1 0 1 0 1 0 1 0 1 0 1 0 1 0 1 0 1 0 1 0 1 0 1 0 1 0 1 0 1 0 1 0 1 0 1 0 1 0 1 0 1 0 1 0 1 0 1 0 1 0 1 0 1 0 1 0 1 0 1 0 1 0 1 0 1 0 1 0 1 0 1 0 1 0 1 0 1 0 1 0 1 0 1 0 1 0 1 0 1 0 1 0 1 0 1 0 1 0 1 0 1 0 1 0 1 0 1 0 1 0 1 0 1 0 1 0 1 0 1 0 1-1 1-1 1-1 1-2 1-2 1-2 1-3 1-3 1-3 1-3 1-4 1-5 1-4 1-5 1-5 1-6 1-5 1-6 1-6 1-7 1-6 1-7 1-7 1-6 1-7 1-7 1-7 1-7 1-6 1-7 1-6 1-6 1-6 1-6 1-5 1-5 1-5 1-4 1-4 1-4 1-2 1-3 1-2 1-1 1-1 1-1 1 1 1 1 1 0 1 1 1 0 1 1 1 0 1 1 1 0 1 1 1 2 1 2 1 2 1 1 1 2 1 2 1 2 1 1 1 2 1 2 1 2 1 3 1 2 1 2 1 3 1 2 1 2 1 2 1 3 1 2 1 2 1 2 1 2 1 2 1 2 1 2 1 2 1 1 1 2 1 2 1 2 1 2 1 1 1 2 1 2 1 1 1 2 1 2 1 1 1 2 1 1 1 2 1 1 1 1 1 2 1 1 1 2 1 1 1 1 1 2 1 1 1 1 1 1 1 2 1 1 1 1 1 1 1 2 1 1 1 1 1 1 1 2 1 1 1 1 1 1 1 1 1 2 1 1 1 1 1 1 1 1 1 1 1 1 1 1 1 1 1 1 1 1 1 1 1 1 1 1 1 1 1 1 1 1 1 1 1 1 1 1 1 1 1 1 1 0 1 1 1 1 1 1 1 1 1 1 1 0 1 1 1 1 1 1 1 0 1 1 1 1 1 1 1 0 1 1 1 1 1 0 1 1 1 1 1 0 1 1 1 1 1 0 1 1 1 0 1 1 1 1 1 0 1 1 1 0 1 1 1 0 1 1 1 0 1 1 1 1 1 0 1 1 1 0 1 1 1 0 1 1 1 0 1 1 1 0 1 1 1 0 1 1 1 0 1 1 1 0 1 1 1 0 1 1 1 0 1 1 1 0 1 1 1 0 1 1 1 0 1 0 1 1 1 0 1 1 1 0 1 0 1 1 1 0 1 0 1 1 1 0 1 0 1 1 1 0 1 0 1 1 1 0 1 0 1 1 1 0 1 0 1 1 1 0 1 0 1 0 1 1 1 0 1 0 1 1 1 0 1 0 1 0 1 1 1 0 1 0 1 0 1 0 1 1 1 0 1 0 1 0 1 1 1 0 1 0 1 0 1 0 1 1 1 0 1 0 1 0 1 1 1 0 1 0 1 0 1 0 1 1 1 0 1 0 1 0 1 0 1 0 1 1 1 0 1 0 1 0 1 0 1 0 1 1 1 0 1 0 1 0 1 0 1 0 1 1 1 0 1 0 1 0 1 0 1 0 1 0 1 0 1 1 1 0 1 0 1 0 1 0 1 0 1 1 1 0 1 0 1 0 1 0 1 0 1 0 1 0 1 1 1 0 1 0 1 0 1 0 1 0 1 0 1 0 1 0 1 0 1 1 1 0 1 0 1 0 1 0 1 0 1 0 1 0 1 0 1 0 1 0 1 0 1 0 1 1 1 0 1 0 1 0 1 0 1 0 1 0 1 0 1 0 1 0 1 0 1 0 1 0 1 0 1 0 1 0 1 0 1 0 1 1 1 0 1 0 1 0 1 0 1 0 1 0 1 0 1 0 1 0 1 0 1 0 1 0 1 0 1 0 1 0 1 0 1 0 1 0 1 0 1 0 1 0 1 0 1 0 1 0 1 0 1 1 1 0 1 0 1 0 1 0 1 0 1 0 1 0 1 0 1 0 1 0 1 0 1 0 1 0 1 0 1 0 1 0 1 0 1 0 1 0 1 0 1 0 1 0 1 0 1 0 1 0 1 0 1 0 1 0 1 0 1 0 1 0 1 0 1 0 1 0 1 0 1 0 1 0 1 0 1 0 1 0 1 0 1 0 1 0 1 0 1 0 1 0 1 0 1 0 1 0 1 0 1 0 1 0 1 0 1 0 1 0 1 0 1 0 1 0 1 0 1 0 1 0 1 0 1 0 1 0 1 0 1 0 1 0 1 0 1 0 1 0 1 0 1 0 1 0 1 0 1 0 1 0 1 0 1 0 1 0 1 0 1 0 1 0 1 0 1 0 1 0 1 0 1 0 1 0 1 0 1 0 1 0 1 0 1 0 1 0 1 0 1 0 1 0 1 0 1 0 1 0 1 0 1 0 1 0 1 0 1 0 1 0 1 0 1 0 1 0 1 0 1 0 1 0 1 0 1 0 1 0 1 0 1 0 1 0 1 0 1-1 1-1 1-1 1-2 1-2 1-2 1-3 1-3 1-3 1-3 1-4 1-5 1-4 1-5 1-5 1-6 1-5 1-6 1-6 1-7 1-6 1-7 1-7 1-6 1-7 1-7 1-7 1-7 1-6 1-7 1-6 1-6 1-6 1-6 1-5 1-5 1-5 1-4 1-4 1-4 1-2 1-3 1-2 1-1 1-1 1-1 1 1 1 1 1 0 1 1 1 0 1 1 1 0 1 1 1 0 1 1 1 2 1 2 1 2 1 1 1 2 1 2 1 2 1 1 1 2 1 2 1 2 1 3 1 2 1 2 1 3 1 2 1 2 1 2 1 3 1 2 1 2 1 2 1 2 1 2 1 2 1 2 1 2 1 1 1 2 1 2 1 2 1 2 1 1 1 2 1 2 1 1 1 2 1 2 1 1 1 2 1 1 1 2 1 1 1 1 1 2 1 1 1 2 1 1 1 1 1 2 1 1 1 1 1 1 1 2 1 1 1 1 1 1 1 2 1 1 1 1 1 1 1 2 1 1 1 1 1 1 1 1 1 2 1 1 1 1 1 1 1 1 1 1 1 1 1 1 1 1 1 1 1 1 1 1 1 1 1 1 1 1 1 1 1 1 1 1 1 1 1 1 1 1 1 1 1 0 1 1 1 1 1 1 1 1 1 1 1 0 1 1 1 1 1 1 1 0 1 1 1 1 1 1 1 0 1 1 1 1 1 0 1 1 1 1 1 0 1 1 1 1 1 0 1 1 1 0 1 1 1 1 1 0 1 1 1 0 1 1 1 0 1 1 1 0 1 1 1 1 1 0 1 1 1 0 1 1 1 0 1 1 1 0 1 1 1 0 1 1 1 0 1 1 1 0 1 1 1 0 1 1 1 0 1 1 1 0 1 1 1 0 1 1 1 0 1 1 1 0 1 0 1 1 1 0 1 1 1 0 1 0 1 1 1 0 1 0 1 1 1 0 1 0 1 1 1 0 1 0 1 1 1 0 1 0 1 1 1 0 1 0 1 1 1 0 1 0 1 0 1 1 1 0 1 0 1 1 1 0 1 0 1 0 1 1 1 0 1 0 1 0 1 0 1 1 1 0 1 0 1 0 1 1 1 0 1 0 1 0 1 0 1 1 1 0 1 0 1 0 1 1 1 0 1 0 1 0 1 0 1 1 1 0 1 0 1 0 1 0 1 0 1 1 1 0 1 0 1 0 1 0 1 0 1 1 1 0 1 0 1 0 1 0 1 0 1 1 1 0 1 0 1 0 1 0 1 0 1 0 1 0 1 1 1 0 1 0 1 0 1 0 1 0 1 1 1 0 1 0 1 0 1 0 1 0 1 0 1 0 1 1 1 0 1 0 1 0 1 0 1 0 1 0 1 0 1 0 1 0 1 1 1 0 1 0 1 0 1 0 1 0 1 0 1 0 1 0 1 0 1 0 1 0 1 0 1 1 1 0 1 0 1 0 1 0 1 0 1 0 1 0 1 0 1 0 1 0 1 0 1 0 1 0 1 0 1 0 1 0 1 0 1 1 1 0 1 0 1 0 1 0 1 0 1 0 1 0 1 0 1 0 1 0 1 0 1 0 1 0 1 0 1 0 1 0 1 0 1 0 1 0 1 0 1 0 1 0 1 0 1 0 1 0 1 1 1 0 1 0 1 0 1 0 1 0 1 0 1 0 1 0 1 0 1 0 1 0 1 0 1 0 1 0 1 0 1 0 1 0 1 0 1 0 1 0 1 0 1 0 1 0 1 0 1 0 1 0 1 0 1 0 1 0 1 0 1 0 1 0 1 0 1 0 1 0 1 0 1 0 1 0 1 0 1 0 1 0 1 0 1 0 1 0 1 0 1 0 1 0 1 0 1 0 1 0 1 0 1 0 1 0 1 0 1 0 1 0 1 0 1 0 1 0 1 0 1 0 1 0 1 0 1 0 1 0 1 0 1 0 1 0 1 0 1 0 1 0 1 0 1 0 1 0 1 0 1 0 1 0 1 0 1 0 1 0 1 0 1 0 1 0 1 0 1 0 1 0 1 0 1 0 1 0 1 0 1 0 1 0 1 0 1 0 1 0 1 0 1 0 1 0 1 0 1 0 1 0 1 0 1 0 1 0 1 0 1 0 1 0 1 0 1 0 1 0 1 0 1 0 1 0 1 0 1 0 1 0 1 0 1 0 1 0 1-1 1-1 1-1 1-2 1-2 1-2 1-3 1-3 1-3 1-3 1-4 1-5 1-4 1-5 1-5 1-6 1-5 1-6 1-6 1-7 1-6 1-7 1-7 1-6 1-7 1-7 1-7 1-7 1-6 1-7 1-6 1-6 1-6 1-6 1-5 1-5 1-5 1-4 1-4 1-4 1-2 1-3 1-2 1-1 1-1 1-1 1 1 1 1 1 0 1 1 1 0 1 1 1 0 1 1 1 0 1 1 1 2 1 2 1 2 1 1 1 2 1 2 1 2 1 1 1 2 1 2 1 2 1 3 1 2 1 2 1 3 1 2 1 2 1 2 1 3 1 2 1 2 1 2 1 2 1 2 1 2 1 2 1 2 1 1 1 2 1 2 1 2 1 2 1 1 1 2 1 2 1 1 1 2 1 2 1 1 1 2 1 1 1 2 1 1 1 1 1 2 1 1 1 2 1 1 1 1 1 2 1 1 1 1 1 1 1 2 1 1 1 1 1 1 1 2 1 1 1 1 1 1 1 2 1 1 1 1 1 1 1 1 1 2 1 1 1 1 1 1 1 1 1 1 1 1 1 1 1 1 1 1 1 1 1 1 1 1 1 1 1 1 1 1 1 1 1 1 1 1 1 1 1 1 1 1 1 0 1 1 1 1 1 1 1 1 1 1 1 0 1 1 1 1 1 1 1 0 1 1 1 1 1 1 1 0 1 1 1 1 1 0 1 1 1 1 1 0 1 1 1 1 1 0 1 1 1 0 1 1 1 1 1 0 1 1 1 0 1 1 1 0 1 1 1 0 1 1 1 1 1 0 1 1 1 0 1 1 1 0 1 1 1 0 1 1 1 0 1 1 1 0 1 1 1 0 1 1 1 0 1 1 1 0 1 1 1 0 1 1 1 0 1 1 1 0 1 1 1 0 1 0 1 1 1 0 1 1 1 0 1 0 1 1 1 0 1 0 1 1 1 0 1 0 1 1 1 0 1 0 1 1 1 0 1 0 1 1 1 0 1 0 1 1 1 0 1 0 1 0 1 1 1 0 1 0 1 1 1 0 1 0 1 0 1 1 1 0 1 0 1 0 1 0 1 1 1 0 1 0 1 0 1 1 1 0 1 0 1 0 1 0 1 1 1 0 1 0 1 0 1 1 1 0 1 0 1 0 1 0 1 1 1 0 1 0 1 0 1 0 1 0 1 1 1 0 1 0 1 0 1 0 1 0 1 1 1 0 1 0 1 0 1 0 1 0 1 1 1 0 1 0 1 0 1 0 1 0 1 0 1 0 1 1 1 0 1 0 1 0 1 0 1 0 1 1 1 0 1 0 1 0 1 0 1 0 1 0 1 0 1 1 1 0 1 0 1 0 1 0 1 0 1 0 1 0 1 0 1 0 1 1 1 0 1 0 1 0 1 0 1 0 1 0 1 0 1 0 1 0 1 0 1 0 1 0 1 1 1 0 1 0 1 0 1 0 1 0 1 0 1 0 1 0 1 0 1 0 1 0 1 0 1 0 1 0 1 0 1 0 1 0 1 1 1 0 1 0 1 0 1 0 1 0 1 0 1 0 1 0 1 0 1 0 1 0 1 0 1 0 1 0 1 0 1 0 1 0 1 0 1 0 1 0 1 0 1 0 1 0 1 0 1 0 1 1 1 0 1 0 1 0 1 0 1 0 1 0 1 0 1 0 1 0 1 0 1 0 1 0 1 0 1 0 1 0 1 0 1 0 1 0 1 0 1 0 1 0 1 0 1 0 1 0 1 0 1 0 1 0 1 0 1 0 1 0 1 0 1 0 1 0 1 0 1 0 1 0 1 0 1 0 1 0 1 0 1 0 1 0 1 0 1 0 1 0 1 0 1 0 1 0 1 0 1 0 1 0 1 0 1 0 1 0 1 0 1 0 1 0 1 0 1 0 1 0 1 0 1 0 1 0 1 0 1 0 1 0 1 0 1 0 1 0 1 0 1 0 1 0 1 0 1 0 1 0 1 0 1 0 1 0 1 0 1 0 1 0 1 0 1 0 1 0 1 0 1 0 1 0 1 0 1 0 1 0 1 0 1 0 1 0 1 0 1 0 1 0 1 0 1 0 1 0 1 0 1 0 1 0 1 0 1 0 1 0 1 0 1 0 1 0 1 0 1 0 1 0 1 0 1 0 1 0 1 0 1 0 1 0 1 0 1 0 1-1 1-1 1-1 1-2 1-2 1-2 1-3 1-3 1-3 1-3 1-4 1-5 1-4 1-5 1-5 1-6 1-5 1-6 1-6 1-7 1-6 1-7 1-7 1-6 1-7 1-7 1-7 1-7 1-6 1-7 1-6 1-6 1-6 1-6 1-5 1-5 1-5 1-4 1-4 1-4 1-2 1-3 1-2 1-1 1-1 1-1 1 1 1 1 1 0 1 1 1 0 1 1 1 0 1 1 1 0 1 1 1 2 1 2 1 2 1 1 1 2 1 2 1 2 1 1 1 2 1 2 1 2 1 3 1 2 1 2 1 3 1 2 1 2 1 2 1 3 1 2 1 2 1 2 1 2 1 2 1 2 1 2 1 2 1 1 1 2 1 2 1 2 1 2 1 1 1 2 1 2 1 1 1 2 1 2 1 1 1 2 1 1 1 2 1 1 1 1 1 2 1 1 1 2 1 1 1 1 1 2 1 1 1 1 1 1 1 2 1 1 1 1 1 1 1 2 1 1 1 1 1 1 1 2 1 1 1 1 1 1 1 1 1 2 1 1 1 1 1 1 1 1 1 1 1 1 1 1 1 1 1 1 1 1 1 1 1 1 1 1 1 1 1 1 1 1 1 1 1 1 1 1 1 1 1 1 1 0 1 1 1 1 1 1 1 1 1 1 1 0 1 1 1 1 1 1 1 0 1 1 1 1 1 1 1 0 1 1 1 1 1 0 1 1 1 1 1 0 1 1 1 1 1 0 1 1 1 0 1 1 1 1 1 0 1 1 1 0 1 1 1 0 1 1 1 0 1 1 1 1 1 0 1 1 1 0 1 1 1 0 1 1 1 0 1 1 1 0 1 1 1 0 1 1 1 0 1 1 1 0 1 1 1 0 1 1 1 0 1 1 1 0 1 1 1 0 1 1 1 0 1 0 1 1 1 0 1 1 1 0 1 0 1 1 1 0 1 0 1 1 1 0 1 0 1 1 1 0 1 0 1 1 1 0 1 0 1 1 1 0 1 0 1 1 1 0 1 0 1 0 1 1 1 0 1 0 1 1 1 0 1 0 1 0 1 1 1 0 1 0 1 0 1 0 1 1 1 0 1 0 1 0 1 1 1 0 1 0 1 0 1 0 1 1 1 0 1 0 1 0 1 1 1 0 1 0 1 0 1 0 1 1 1 0 1 0 1 0 1 0 1 0 1 1 1 0 1 0 1 0 1 0 1 0 1 1 1 0 1 0 1 0 1 0 1 0 1 1 1 0 1 0 1 0 1 0 1 0 1 0 1 0 1 1 1 0 1 0 1 0 1 0 1 0 1 1 1 0 1 0 1 0 1 0 1 0 1 0 1 0 1 1 1 0 1 0 1 0 1 0 1 0 1 0 1 0 1 0 1 0 1 1 1 0 1 0 1 0 1 0 1 0 1 0 1 0 1 0 1 0 1 0 1 0 1 0 1 1 1 0 1 0 1 0 1 0 1 0 1 0 1 0 1 0 1 0 1 0 1 0 1 0 1 0 1 0 1 0 1 0 1 0 1 1 1 0 1 0 1 0 1 0 1 0 1 0 1 0 1 0 1 0 1 0 1 0 1 0 1 0 1 0 1 0 1 0 1 0 1 0 1 0 1 0 1 0 1 0 1 0 1 0 1 0 1 1 1 0 1 0 1 0 1 0 1 0 1 0 1 0 1 0 1 0 1 0 1 0 1 0 1 0 1 0 1 0 1 0 1 0 1 0 1 0 1 0 1 0 1 0 1 0 1 0 1 0 1 0 1 0 1 0 1 0 1 0 1 0 1 0 1 0 1 0 1 0 1 0 1 0 1 0 1 0 1 0 1 0 1 0 1 0 1 0 1 0 1 0 1 0 1 0 1 0 1 0 1 0 1 0 1 0 1 0 1 0 1 0 1 0 1 0 1 0 1 0 1 0 1 0 1 0 1 0 1 0 1 0 1 0 1 0 1 0 1 0 1 0 1 0 1 0 1 0 1 0 1 0 1 0 1 0 1 0 1 0 1 0 1 0 1 0 1 0 1 0 1 0 1 0 1 0 1 0 1 0 1 0 1 0 1 0 1 0 1 0 1 0 1 0 1 0 1 0 1 0 1 0 1 0 1 0 1 0 1 0 1 0 1 0 1 0 1 0 1 0 1 0 1 0 1 0 1 0 1 0 1 0 1 0 1 0 1 0 1-1 1-1 1-1 1-2 1-2 1-2 1-3 1-3 1-3 1-3 1-4 1-5 1-4 1-5 1-5 1-6 1-5 1-6 1-6 1-7 1-6 1-7 1-7 1-6 1-7 1-7 1-7 1-7 1-6 1-7 1-6 1-6 1-6 1-6 1-5 1-5 1-5 1-4 1-4 1-4 1-2 1-3 1-2 1-1 1-1 1-1 1 1 1 1 1 0 1 1 1 0 1 1 1 0 1 1 1 0 1 1 1 2 1 2 1 2 1 1 1 2 1 2 1 2 1 1 1 2 1 2 1 2 1 3 1 2 1 2 1 3 1 2 1 2 1 2 1 3 1 2 1 2 1 2 1 2 1 2 1 2 1 2 1 2 1 1 1 2 1 2 1 2 1 2 1 1 1 2 1 2 1 1 1 2 1 2 1 1 1 2 1 1 1 2 1 1 1 1 1 2 1 1 1 2 1 1 1 1 1 2 1 1 1 1 1 1 1 2 1 1 1 1 1 1 1 2 1 1 1 1 1 1 1 2 1 1 1 1 1 1 1 1 1 2 1 1 1 1 1 1 1 1 1 1 1 1 1 1 1 1 1 1 1 1 1 1 1 1 1 1 1 1 1 1 1 1 1 1 1 1 1 1 1 1 1 1 1 0 1 1 1 1 1 1 1 1 1 1 1 0 1 1 1 1 1 1 1 0 1 1 1 1 1 1 1 0 1 1 1 1 1 0 1 1 1 1 1 0 1 1 1 1 1 0 1 1 1 0 1 1 1 1 1 0 1 1 1 0 1 1 1 0 1 1 1 0 1 1 1 1 1 0 1 1 1 0 1 1 1 0 1 1 1 0 1 1 1 0 1 1 1 0 1 1 1 0 1 1 1 0 1 1 1 0 1 1 1 0 1 1 1 0 1 1 1 0 1 1 1 0 1 0 1 1 1 0 1 1 1 0 1 0 1 1 1 0 1 0 1 1 1 0 1 0 1 1 1 0 1 0 1 1 1 0 1 0 1 1 1 0 1 0 1 1 1 0 1 0 1 0 1 1 1 0 1 0 1 1 1 0 1 0 1 0 1 1 1 0 1 0 1 0 1 0 1 1 1 0 1 0 1 0 1 1 1 0 1 0 1 0 1 0 1 1 1 0 1 0 1 0 1 1 1 0 1 0 1 0 1 0 1 1 1 0 1 0 1 0 1 0 1 0 1 1 1 0 1 0 1 0 1 0 1 0 1 1 1 0 1 0 1 0 1 0 1 0 1 1 1 0 1 0 1 0 1 0 1 0 1 0 1 0 1 1 1 0 1 0 1 0 1 0 1 0 1 1 1 0 1 0 1 0 1 0 1 0 1 0 1 0 1 1 1 0 1 0 1 0 1 0 1 0 1 0 1 0 1 0 1 0 1 1 1 0 1 0 1 0 1 0 1 0 1 0 1 0 1 0 1 0 1 0 1 0 1 0 1 1 1 0 1 0 1 0 1 0 1 0 1 0 1 0 1 0 1 0 1 0 1 0 1 0 1 0 1 0 1 0 1 0 1 0 1 1 1 0 1 0 1 0 1 0 1 0 1 0 1 0 1 0 1 0 1 0 1 0 1 0 1 0 1 0 1 0 1 0 1 0 1 0 1 0 1 0 1 0 1 0 1 0 1 0 1 0 1 1 1 0 1 0 1 0 1 0 1 0 1 0 1 0 1 0 1 0 1 0 1 0 1 0 1 0 1 0 1 0 1 0 1 0 1 0 1 0 1 0 1 0 1 0 1 0 1 0 1 0 1 0 1 0 1 0 1 0 1 0 1 0 1 0 1 0 1 0 1 0 1 0 1 0 1 0 1 0 1 0 1 0 1 0 1 0 1 0 1 0 1 0 1 0 1 0 1 0 1 0 1 0 1 0 1 0 1 0 1 0 1 0 1 0 1 0 1 0 1 0 1 0 1 0 1 0 1 0 1 0 1 0 1 0 1 0 1 0 1 0 1 0 1 0 1 0 1 0 1 0 1 0 1 0 1 0 1 0 1 0 1 0 1 0 1 0 1 0 1 0 1 0 1 0 1 0 1 0 1 0 1 0 1 0 1 0 1 0 1 0 1 0 1 0 1 0 1 0 1 0 1 0 1 0 1 0 1 0 1 0 1 0 1 0 1 0 1 0 1 0 1 0 1 0 1 0 1 0 1 0 1 0 1 0 1 0 1 0 1-1 1-1 1-1 1-2 1-2 1-2 1-3 1-3 1-3 1-3 1-4 1-5 1-4 1-5 1-5 1-6 1-5 1-6 1-6 1-7 1-6 1-7 1-7 1-6 1-7 1-7 1-7 1-7 1-6 1-7 1-6 1-6 1-6 1-6 1-5 1-5 1-5 1-4 1-4 1-4 1-2 1-3 1-2 1-1 1-1 1-1 1 1 1 1 1 0 1 1 1 0 1 1 1 0 1 1 1 0 1 1 1 2 1 2 1 2 1 1 1 2 1 2 1 2 1 1 1 2 1 2 1 2 1 3 1 2 1 2 1 3 1 2 1 2 1 2 1 3 1 2 1 2 1 2 1 2 1 2 1 2 1 2 1 2 1 1 1 2 1 2 1 2 1 2 1 1 1 2 1 2 1 1 1 2 1 2 1 1 1 2 1 1 1 2 1 1 1 1 1 2 1 1 1 2 1 1 1 1 1 2 1 1 1 1 1 1 1 2 1 1 1 1 1 1 1 2 1 1 1 1 1 1 1 2 1 1 1 1 1 1 1 1 1 2 1 1 1 1 1 1 1 1 1 1 1 1 1 1 1 1 1 1 1 1 1 1 1 1 1 1 1 1 1 1 1 1 1 1 1 1 1 1 1 1 1 1 1 0 1 1 1 1 1 1 1 1 1 1 1 0 1 1 1 1 1 1 1 0 1 1 1 1 1 1 1 0 1 1 1 1 1 0 1 1 1 1 1 0 1 1 1 1 1 0 1 1 1 0 1 1 1 1 1 0 1 1 1 0 1 1 1 0 1 1 1 0 1 1 1 1 1 0 1 1 1 0 1 1 1 0 1 1 1 0 1 1 1 0 1 1 1 0 1 1 1 0 1 1 1 0 1 1 1 0 1 1 1 0 1 1 1 0 1 1 1 0 1 1 1 0 1 0 1 1 1 0 1 1 1 0 1 0 1 1 1 0 1 0 1 1 1 0 1 0 1 1 1 0 1 0 1 1 1 0 1 0 1 1 1 0 1 0 1 1 1 0 1 0 1 0 1 1 1 0 1 0 1 1 1 0 1 0 1 0 1 1 1 0 1 0 1 0 1 0 1 1 1 0 1 0 1 0 1 1 1 0 1 0 1 0 1 0 1 1 1 0 1 0 1 0 1 1 1 0 1 0 1 0 1 0 1 1 1 0 1 0 1 0 1 0 1 0 1 1 1 0 1 0 1 0 1 0 1 0 1 1 1 0 1 0 1 0 1 0 1 0 1 1 1 0 1 0 1 0 1 0 1 0 1 0 1 0 1 1 1 0 1 0 1 0 1 0 1 0 1 1 1 0 1 0 1 0 1 0 1 0 1 0 1 0 1 1 1 0 1 0 1 0 1 0 1 0 1 0 1 0 1 0 1 0 1 1 1 0 1 0 1 0 1 0 1 0 1 0 1 0 1 0 1 0 1 0 1 0 1 0 1 1 1 0 1 0 1 0 1 0 1 0 1 0 1 0 1 0 1 0 1 0 1 0 1 0 1 0 1 0 1 0 1 0 1 0 1 1 1 0 1 0 1 0 1 0 1 0 1 0 1 0 1 0 1 0 1 0 1 0 1 0 1 0 1 0 1 0 1 0 1 0 1 0 1 0 1 0 1 0 1 0 1 0 1 0 1 0 1 1 1 0 1 0 1 0 1 0 1 0 1 0 1 0 1 0 1 0 1 0 1 0 1 0 1 0 1 0 1 0 1 0 1 0 1 0 1 0 1 0 1 0 1 0 1 0 1 0 1 0 1 0 1 0 1 0 1 0 1 0 1 0 1 0 1 0 1 0 1 0 1 0 1 0 1 0 1 0 1 0 1 0 1 0 1 0 1 0 1 0 1 0 1 0 1 0 1 0 1 0 1 0 1 0 1 0 1 0 1 0 1 0 1 0 1 0 1 0 1 0 1 0 1 0 1 0 1 0 1 0 1 0 1 0 1 0 1 0 1 0 1 0 1 0 1 0 1 0 1 0 1 0 1 0 1 0 1 0 1 0 1 0 1 0 1 0 1 0 1 0 1 0 1 0 1 0 1 0 1 0 1 0 1 0 1 0 1 0 1 0 1 0 1 0 1 0 1 0 1 0 1 0 1 0 1 0 1 0 1 0 1 0 1 0 1 0 1 0 1 0 1 0 1 0 1 0 1 0 1 0 1 0 1 0 1 0 1 0 1-1 1-1 1-1 1-2 1-2 1-2 1-3 1-3 1-3 1-3 1-4 1-5 1-4 1-5 1-5 1-6 1-5 1-6 1-6 1-7 1-6 1-7 1-7 1-6 1-7 1-7 1-7 1-7 1-6 1-7 1-6" fill="none" stroke="#ff0000" stroke-width="2.4" stroke-linejoin="round" vector-effect="non-scaling-stroke"/></g>
<g fill="#262626" stroke="#262626" stroke-width="0.3">
<text x="902.00" y="780.10" font-size="22" text-anchor="middle" font-family='"Liberation Sans", Arial, Helvetica, sans-serif'>0</text>
<text x="1038.70" y="780.10" font-size="22" text-anchor="middle" font-family='"Liberation Sans", Arial, Helvetica, sans-serif'>0.02</text>
<text x="1175.40" y="780.10" font-size="22" text-anchor="middle" font-family='"Liberation Sans", Arial, Helvetica, sans-serif'>0.04</text>
<text x="1312.10" y="780.10" font-size="22" text-anchor="middle" font-family='"Liberation Sans", Arial, Helvetica, sans-serif'>0.06</text>
<text x="1448.80" y="780.10" font-size="22" text-anchor="middle" font-family='"Liberation Sans", Arial, Helvetica, sans-serif'>0.08</text>
<text x="1585.50" y="780.10" font-size="22" text-anchor="middle" font-family='"Liberation Sans", Arial, Helvetica, sans-serif'>0.1</text>
<text x="893.50" y="718.10" font-size="22" text-anchor="end" font-family='"Liberation Sans", Arial, Helvetica, sans-serif'>-6</text>
<text x="893.50" y="675.43" font-size="22" text-anchor="end" font-family='"Liberation Sans", Arial, Helvetica, sans-serif'>-4</text>
<text x="893.50" y="632.77" font-size="22" text-anchor="end" font-family='"Liberation Sans", Arial, Helvetica, sans-serif'>-2</text>
<text x="893.50" y="590.10" font-size="22" text-anchor="end" font-family='"Liberation Sans", Arial, Helvetica, sans-serif'>0</text>
<text x="893.50" y="547.43" font-size="22" text-anchor="end" font-family='"Liberation Sans", Arial, Helvetica, sans-serif'>2</text>
<text x="893.50" y="504.77" font-size="22" text-anchor="end" font-family='"Liberation Sans", Arial, Helvetica, sans-serif'>4</text>
<text x="893.50" y="462.10" font-size="22" text-anchor="end" font-family='"Liberation Sans", Arial, Helvetica, sans-serif'>6</text>
<text x="1243.15" y="813.10" font-size="24.2" text-anchor="middle" font-family='"Liberation Sans", Arial, Helvetica, sans-serif'>Time[S]</text>
<text transform="translate(860.90 588.60) rotate(-90)" font-size="24.3" text-anchor="middle" textLength="174.7" lengthAdjust="spacing" font-family='"Liberation Sans", Arial, Helvetica, sans-serif'>Amplitude[m/s<tspan dy="-11" dx="0.4" font-size="19.4">2</tspan><tspan dy="11" dx="0.6">]</tspan></text>
</g>
<rect x="1288.00" y="435.60" width="282.60" height="82.40" fill="#fff" stroke="#262626" stroke-width="1.1"/>
<path d="M1295.00 457.60H1366.40" stroke="#0000ff" stroke-width="1.1" fill="none"/>
<text x="1371.60" y="468.60" font-size="27.5" text-anchor="start" font-family='"Liberation Sans", Arial, Helvetica, sans-serif' textLength="121.5" lengthAdjust="spacing" fill="#000" stroke="#000" stroke-width="0.3">waveform</text>
<path d="M1295.00 495.60H1366.40" stroke="#ff0000" stroke-width="2" fill="none"/>
<text x="1371.60" y="506.40" font-size="27.5" text-anchor="start" font-family='"Liberation Sans", Arial, Helvetica, sans-serif' textLength="189.4" lengthAdjust="spacing" fill="#000" stroke="#000" stroke-width="0.3">Slice waveform</text>
<clipPath id="ccL"><rect x="91.30" y="849.70" width="684.90" height="323.90"/></clipPath>
<g stroke="#262626" stroke-width="1.3" fill="none" stroke-linecap="butt">
<rect x="91.90" y="850.30" width="683.70" height="322.70"/>
<path d="M91.90 1173.00v-6.90M91.90 850.30v6.90M175.31 1173.00v-6.90M175.31 850.30v6.90M258.72 1173.00v-6.90M258.72 850.30v6.90M342.13 1173.00v-6.90M342.13 850.30v6.90M425.53 1173.00v-6.90M425.53 850.30v6.90M508.94 1173.00v-6.90M508.94 850.30v6.90M592.35 1173.00v-6.90M592.35 850.30v6.90M675.76 1173.00v-6.90M675.76 850.30v6.90M759.17 1173.00v-6.90M759.17 850.30v6.90M91.90 1108.30h6.90M775.60 1108.30h-6.90M91.90 1042.70h6.90M775.60 1042.70h-6.90M91.90 977.10h6.90M775.60 977.10h-6.90M91.90 911.50h6.90M775.60 911.50h-6.90"/>
</g>
<g clip-path="url(#ccL)"><path transform="translate(91.900 850.30) scale(0.068368 0.5)" d="M0 314l1-85 1-61 1-36 1 36 1 21 1 43 1 36 1 35 1 38 1 30 1 13 1-8 1 9 1 24 1 19 1 5 1 4 1 20 1 30 1 22 1 6 1-7 1-10 1 17 1 36 1 35 1 18 1-4 1-12 1-15 1-4 1 22 1 36 1 2 1-25 1-20 1 0 1 5 1 11 1-5 1-3 1 39 1-11 1-2 1 26 1-27 1-15 1-13 1 1 1 16 1 22 1 4 1 3 1-22 1-27 1 11 1 40 1-20 1-8 1 20 1-5 1-24 1 9 1 2 1 5 1 7 1-27 1 5 1 28 1 7 1-6 1-3 1-11 1-10 1 7 1 17 1 14 1-24 1-14 1 0 1 10 1 16 1-14 1 7 1 6 1 6 1-1 1-14 1-5 1 2 1 20 1-13 1-9 1 9 1 12 1-13 1-26 1-13 1-2 1-3 1-19 1-3 1 11 1 7 1 13 1 6 1-13 1-5 1 7 1 11 1 23 1 16 1-11 1-24 1-7 1 11 1 2 1-25 1-49 1-48 1-65 1-49 1-63 1-66 1-31 1 31 1 29 1 32 1 26 1 17 1 22 1 37 1 47 1 14 1-4 1 0 1 3 1-2 1 1 1 21 1 30 1 18 1-8 1-7 1 20 1 36 1 22 1-3 1-10 1-11 1-12 1-10 1-4 1 21 1 39 1 19 1-5 1-3 1-4 1-12 1-9 1 18 1 18 1 9 1-4 1-3 1 8 1 2 1-23 1-35 1-21 1 20 1 49 1-1 1-5 1 4 1 6 1-7 1-13 1-46 1-34 1 1 1 20 1 16 1 25 1 4 1-21 1-26 1-12 1 5 1 16 1 17 1 10 1 3 1 12 1 11 1 11 1 2 1-25 1-7 1 16 1 20 1-13 1 1 1-7 1-23 1 6 1 32 1 11 1-10 1-18 1 2 1 8 1-17 1-28 1-8 1 28 1 20 1-23 1 16 1-25 1-36 1 8 1 21 1 16 1 0 1-7 1-5 1 5 1 16 1 2 1-10 1 8 1 32 1 7 1-9 1-30 1-8 1 4 1-11 1-19 1-21 1-81 1-75 1-83 1-74 1-31 1 31 1 16 1 50 1 40 1 20 1 17 1 20 1 22 1 8 1 3 1 2 1 4 1 3 1 6 1 19 1 31 1 34 1 28 1 12 1-13 1-22 1-8 1 7 1 10 1 9 1 9 1 9 1 19 1 22 1-1 1 8 1 4 1-8 1-29 1-30 1-2 1 15 1 11 1 32 1 13 1-33 1 11 1 25 1-42 1 7 1 34 1 5 1-8 1 9 1-18 1-32 1-12 1-2 1 17 1 32 1-8 1-3 1 22 1-9 1-42 1-16 1 20 1 18 1-14 1 10 1 52 1-37 1 14 1 16 1-7 1 9 1-19 1 1 1 3 1-4 1-20 1-12 1 0 1 12 1-8 1-17 1 15 1 34 1 3 1-27 1-15 1 1 1 9 1-10 1-10 1 21 1 32 1 3 1-30 1-21 1 5 1 7 1 1 1 9 1 21 1-36 1-5 1 42 1-23 1-27 1-13 1-17 1 20 1 50 1 22 1-3 1-3 1-18 1-8 1 0 1-20 1-37 1-95 1-93 1-91 1-65 1-33 1 33 1 30 1 37 1 41 1 46 1 38 1 15 1 12 1 11 1 4 1-12 1-9 1 15 1 23 1 18 1 10 1 2 1-6 1 8 1 29 1 28 1-5 1-20 1 4 1 26 1 12 1-5 1-6 1-9 1-11 1-19 1 5 1 30 1 22 1-1 1-10 1 7 1 27 1 17 1-4 1-8 1-7 1 14 1 30 1-8 1-7 1 1 1-10 1 2 1 12 1 15 1-7 1-22 1-15 1 3 1 0 1 1 1 11 1 2 1-4 1 6 1 9 1-6 1-16 1-8 1 19 1 12 1-5 1 7 1 15 1-30 1-25 1 16 1 17 1 6 1 13 1 2 1-34 1-4 1 29 1-7 1-14 1 10 1 4 1-35 1-10 1 14 1 25 1 25 1-17 1-18 1-4 1-16 1-5 1 15 1 14 1 9 1-4 1-20 1-11 1 14 1 19 1 3 1 9 1-13 1-32 1-31 1-5 1 19 1 9 1-13 1-9 1 10 1 16 1 6 1-18 1-42 1-97 1-85 1-80 1-70 1-34 1 34 1 34 1 47 1 43 1 23 1 7 1 4 1 7 1 2 1 21 1 36 1 29 1 10 1-1 1 11 1 24 1 16 1 6 1 17 1 23 1 13 1 7 1 13 1 10 1 1 1-7 1-6 1 2 1 1 1 15 1 18 1-6 1-19 1-3 1 32 1-14 1-10 1 10 1-23 1 16 1 24 1-38 1 5 1 30 1-9 1-23 1-18 1-15 1 8 1 42 1 30 1-8 1-24 1-26 1-11 1 35 1 17 1-6 1 2 1-10 1 5 1-3 1-7 1-3 1 5 1 1 1-45 1-43 1-4 1 45 1 77 1-42 1 0 1 38 1-19 1-20 1-5 1 8 1 6 1 2 1 5 1-6 1-1 1 15 1-13 1-22 1-4 1 12 1 17 1-3 1-5 1 13 1 11 1-9 1-1 1 21 1-6 1-18 1-15 1-2 1 28 1-3 1-26 1 13 1 15 1-11 1 9 1 14 1-33 1-19 1-14 1 11 1 12 1-5 1-9 1-11 1-29 1-84 1-73 1-75 1-76 1-31 1 31 1 9 1 34 1 39 1 35 1 29 1 23 1 30 1 21 1 14 1 8 1 2 1-4 1-3 1-1 1 5 1 8 1 3 1 12 1 25 1 27 1 12 1-10 1 2 1 23 1 27 1 18 1-2 1-3 1 8 1 19 1-7 1-9 1 2 1 1 1-5 1-18 1-23 1 4 1 33 1 17 1-20 1-15 1 5 1-11 1-23 1 0 1 19 1 11 1-4 1 5 1 16 1 12 1-7 1 2 1-1 1-8 1-2 1 13 1 9 1-7 1-7 1-11 1-1 1 4 1-3 1-13 1-17 1-13 1-5 1 9 1 11 1 9 1 8 1 14 1-2 1-5 1 6 1 3 1-7 1-9 1 13 1 14 1 5 1 10 1-1 1-2 1-14 1-15 1-3 1-8 1-5 1 14 1 11 1 1 1-9 1-6 1 9 1-16 1-18 1 23 1 13 1-22 1 6 1 24 1 10 1-21 1-31 1-26 1 0 1 9 1-5 1 24 1 12 1-17 1 14 1-28 1-108 1-84 1-73 1-66 1-42 1 38 1 35 1 38 1 26 1 10 1 13 1 28 1 44 1 26 1 9 1 5 1 7 1 10 1-5 1-8 1 4 1-4 1-5 1 12 1 32 1 42 1 22 1-1 1-11 1-15 1-6 1 8 1 23 1 24 1 9 1-11 1-2 1 15 1 10 1-5 1 8 1-5 1-39 1-22 1 11 1 26 1 18 1-15 1-9 1 11 1 11 1 2 1-1 1-8 1 1 1 2 1-12 1-9 1 17 1 33 1-39 1-25 1-5 1 22 1 44 1 1 1-9 1 4 1 4 1-14 1-4 1 22 1-26 1-9 1-4 1-10 1 7 1 19 1 26 1 13 1-17 1-12 1 3 1-4 1-15 1 23 1-11 1-30 1 11 1 20 1 17 1-9 1 10 1-14 1-18 1 15 1 15 1-10 1-2 1-20 1-11 1 22 1 11 1-12 1 13 1 20 1-2 1-13 1-1 1-47 1-29 1 5 1-5 1-4 1 33 1 52 1 16 1-17 1-6 1 12 1-27 1-54 1-81 1-65 1-79 1-80 1-40 1 30 1 36 1 40 1 33 1 24 1 23 1 34 1 48 1 13 1-14 1-22 1-9 1 6 1 8 1 23 1 43 1 47 1 9 1-32 1-38 1-5 1 50 1 57 1-23 1 15 1 23 1-29 1-33 1-23 1 9 1 39 1 34 1-18 1-23 1-10 1 13 1-4 1-13 1 11 1 13 1 4 1 21 1 15 1-21 1 8 1 21 1 3 1-5 1-13 1-4 1-9 1 20 1-19 1-21 1 1 1-3 1 20 1 22 1-9 1-3 1-1 1-1 1 5 1-8 1-9 1 13 1 11 1-12 1 1 1-17 1-14 1-8 1 4 1 8 1 4 1 5 1 8 1-1 1-1 1 0 1 0 1 0 1 10 1 19 1-1 1-18 1-18 1-3 1 22 1-17 1-27 1 19 1 36 1 4 1 6 1-3 1-18 1 0 1 3 1-23 1-22 1-3 1 21 1 24 1-29 1-31 1 0 1 26 1 10 1-22 1 2 1 21 1 2 1-6 1 17 1-11 1-65 1-90 1-59 1-61 1-65 1-50 1 40 1 29 1 30 1 26 1 14 1 10 1 24 1 40 1 15 1-1 1 2 1 12 1 21 1 12 1 18 1 30 1 16 1-12 1-24 1-7 1 7 1-2 1 3 1 24 1 31 1 12 1 10 1 29 1 14 1-1 1-14 1-8 1-2 1-14 1-17 1-8 1-21 1-12 1 5 1-6 1-8 1 14 1 28 1 21 1 17 1 21 1-10 1-3 1-5 1-27 1-3 1 13 1-2 1-15 1 18 1 50 1-46 1 8 1 27 1-16 1-24 1-5 1 22 1 28 1-18 1-25 1-8 1 25 1 16 1-19 1 3 1 19 1-18 1-24 1-14 1 16 1 34 1-7 1-23 1-22 1 9 1 42 1 5 1-22 1-7 1-4 1 6 1 19 1 20 1-22 1-18 1 10 1 9 1-8 1 19 1-16 1-21 1 16 1 6 1-16 1-13 1 7 1 32 1 5 1-17 1 10 1 8 1-3 1-31 1-16 1 29 1 5 1-45 1-19 1 19 1 16 1-42 1-108 1-94 1-86 1-57 1-34 1 34 1 29 1 33 1 28 1 25 1 28 1 31 1 35 1 15 1 0 1-4 1 4 1 17 1 12 1 11 1 27 1 40 1 31 1 8 1-14 1-26 1-3 1 24 1 14 1-6 1 7 1 29 1 30 1 3 1-21 1-19 1-16 1-8 1 13 1 21 1-7 1 1 1 4 1-15 1 2 1 1 1-14 1 12 1 36 1 29 1-23 1-11 1 13 1 12 1-34 1-13 1 3 1 7 1 35 1-21 1-19 1 9 1 12 1 16 1 5 1 6 1-42 1-29 1 5 1 26 1-2 1-7 1 4 1-8 1-2 1 12 1 0 1-7 1 1 1 24 1 11 1-22 1 5 1 22 1-3 1-13 1 26 1-38 1 1 1 38 1-24 1 3 1-6 1-19 1-4 1 18 1 8 1 7 1-30 1-11 1 5 1-5 1-4 1 5 1 12 1 15 1 15 1 13 1-21 1-22 1-9 1-1 1 0 1 12 1-1 1-3 1 6 1-10 1-28 1-18 1-7 1-19 1-79 1-74 1-77 1-60 1-31 1 31 1 28 1 33 1 30 1 31 1 45 1 44 1 29 1-10 1-20 1-13 1-1 1 9 1 12 1 26 1 25 1 6 1-1 1 8 1 31 1 23 1-16 1-27 1-6 1 24 1 31 1 23 1 22 1 12 1-8 1-25 1-9 1 19 1 5 1-30 1-20 1 5 1 2 1-13 1 5 1 33 1 26 1 17 1 0 1-19 1-12 1 1 1-5 1-7 1 8 1 14 1 1 1-6 1-2 1 6 1-26 1-20 1 25 1 40 1-19 1 2 1-8 1-20 1-4 1-6 1 15 1 34 1 5 1-9 1-7 1-8 1-13 1-11 1 19 1 31 1-52 1-28 1 21 1 49 1 11 1 0 1-13 1-20 1-20 1-3 1 7 1 17 1 19 1 17 1-22 1-11 1 18 1-14 1-25 1 0 1 20 1 23 1 10 1-3 1-20 1-27 1-17 1-8 1-14 1 0 1 21 1 7 1-3 1 20 1 15 1 3 1-17 1-39 1 3 1 31 1-10 1-56 1-91 1-70 1-67 1-65 1-34 1 31 1 35 1 46 1 47 1 30 1 13 1 7 1 16 1 9 1 4 1 12 1 28 1 30 1 5 1-7 1 4 1 14 1-6 1-16 1 12 1 35 1 22 1-2 1-11 1 1 1 7 1 21 1 24 1 11 1-6 1-27 1-16 1 14 1 20 1-1 1-6 1 11 1 8 1-7 1-13 1 7 1 25 1-11 1 8 1 5 1-21 1 4 1 15 1-12 1 4 1 21 1-38 1-30 1 0 1 24 1 12 1-10 1-19 1 0 1 31 1 25 1-24 1-17 1-28 1-17 1 20 1 65 1-48 1-16 1 34 1 26 1-3 1 0 1 2 1-5 1-28 1-38 1-4 1 50 1 7 1-13 1 15 1-1 1-28 1 4 1 41 1-17 1-29 1-4 1 12 1 9 1-25 1 11 1 33 1 13 1-23 1-10 1 19 1 4 1-10 1 12 1 5 1-36 1-9 1 22 1 32 1-30 1-18 1-1 1 10 1 0 1-15 1-21 1-13 1 2 1-20 1-28 1-64 1-55 1-65 1-69 1-56 1 38 1 26 1 40 1 32 1 22 1 29 1 28 1 19 1-3 1 1 1 23 1 23 1 3 1-18 1-8 1 25 1 33 1 10 1 2 1 4 1 3 1 0 1-2 1 0 1 12 1 23 1 23 1-4 1-19 1-5 1 18 1 29 1 29 1-3 1-17 1-5 1-4 1 2 1 0 1-3 1 14 1 17 1 6 1-8 1-18 1-18 1-13 1 3 1 12 1-4 1 4 1 22 1 6 1-12 1-18 1-13 1 14 1 4 1-16 1 18 1 17 1-19 1-4 1 18 1 18 1 8 1-6 1-9 1 4 1-9 1-27 1-20 1-7 1 13 1-7 1-16 1 21 1 10 1-28 1 6 1 48 1 21 1-13 1-8 1-14 1-1 1-4 1-11 1-12 1 15 1 21 1-2 1 19 1-15 1-9 1-7 1 20 1 23 1-7 1-28 1-26 1-7 1 18 1 34 1 16 1-9 1-29 1-20 1 2 1 6 1 4 1 19 1-10 1-35 1-22 1-15 1-33 1-91 1-79 1-81 1-68 1-36 1 36 1 45 1 49 1 43 1 25 1 19 1 23 1 29 1 14 1 10 1 2 1-1 1 12 1 24 1 29 1 20 1 1 1-3 1 21 1 34 1 7 1-32 1-31 1-10 1 7 1 19 1 25 1 20 1 5 1 8 1 12 1 11 1 1 1-7 1-3 1 2 1 3 1-4 1 14 1 8 1-37 1-30 1-5 1 20 1 24 1-10 1 17 1 19 1-28 1-25 1-23 1 5 1 38 1 4 1-24 1 2 1 24 1 18 1 7 1-13 1 12 1-42 1-22 1 48 1 10 1-36 1 2 1 16 1 25 1 3 1-26 1 6 1 7 1-23 1-30 1-10 1 15 1 34 1 19 1-9 1-20 1-14 1 2 1 23 1 7 1 1 1 8 1-4 1-12 1 6 1 19 1-4 1-9 1 6 1 8 1 1 1-3 1-14 1-2 1 16 1 14 1-23 1-23 1 1 1 20 1 28 1-10 1-14 1-20 1-32 1-9 1 24 1 6 1-17 1-12 1-18 1-42 1-101 1-91 1-87 1-72 1-37 1 37 1 47 1 44 1 35 1 28 1 27 1 21 1 17 1 4 1 11 1 21 1 18 1 23 1 15 1 2 1 1 1 14 1 25 1 11 1-14 1-2 1 7 1 11 1 14 1 18 1-4 1-12 1 0 1 10 1 18 1-4 1-25 1-19 1 2 1 22 1 28 1 24 1 8 1-20 1-24 1-3 1 23 1 22 1 5 1 17 1 16 1-18 1 4 1 7 1-12 1-7 1-1 1-5 1-5 1 2 1 5 1 0 1-12 1 0 1 24 1 19 1 9 1 2 1 0 1-20 1-2 1 5 1 8 1 7 1-11 1-2 1 14 1-3 1-9 1-23 1 8 1 4 1-11 1 10 1-34 1-11 1 31 1 34 1-22 1-8 1 0 1 13 1 3 1-10 1-16 1-32 1-20 1-7 1-4 1 4 1 23 1 29 1 18 1 8 1 5 1-5 1-20 1-15 1-13 1-15 1-8 1 4 1 8 1 13 1 28 1 26 1-8 1-11 1 5 1 27 1-29 1-69 1-98 1-78 1-71 1-61 1-31 1 31 1 19 1 36 1 36 1 33 1 32 1 15 1 4 1-6 1 13 1 20 1 6 1 9 1 19 1 16 1 11 1 6 1 13 1 25 1 19 1 14 1 11 1 14 1 6 1-10 1-5 1 9 1 19 1 4 1-35 1-25 1 18 1 25 1 10 1 2 1-4 1-14 1-17 1 8 1 15 1 10 1 6 1-19 1-12 1 1 1 6 1 1 1 2 1 9 1 11 1-7 1-22 1-16 1 4 1 19 1 19 1 6 1-21 1-11 1 21 1 8 1-39 1-27 1 15 1 39 1 12 1 15 1-13 1-15 1-2 1 8 1 18 1-15 1-12 1 11 1 16 1-11 1-24 1-5 1 30 1 5 1-22 1 15 1 0 1-3 1 22 1-19 1-26 1 11 1 17 1-4 1 17 1 3 1-35 1-21 1 6 1-1 1 3 1 37 1-22 1-1 1 24 1-26 1-7 1 3 1 8 1 23 1-43 1-13 1 42 1 20 1-30 1 5 1 25 1 2 1 7 1-53 1-104 1-78 1-70 1-64 1-40 1 41 1 32 1 29 1 23 1 14 1 19 1 26 1 26 1 11 1 16 1 18 1 5 1 4 1 6 1 3 1-2 1-3 1 2 1-3 1-5 1 11 1 17 1 9 1 9 1 24 1 27 1 3 1-17 1-15 1-8 1-2 1 29 1 49 1-20 1-37 1-9 1 13 1 18 1-1 1-14 1-12 1 10 1 41 1 9 1-21 1 9 1 3 1-12 1 6 1 25 1 9 1-18 1-28 1-11 1 10 1 27 1 0 1-22 1 11 1 12 1-10 1-7 1-1 1-20 1-1 1-1 1-7 1 17 1 15 1 4 1 10 1-7 1 1 1-10 1-12 1 11 1 29 1-19 1-5 1 1 1-12 1 9 1 29 1-42 1-10 1 9 1 11 1 20 1 1 1 7 1 4 1-23 1-36 1-6 1 19 1 9 1-14 1-5 1 4 1 2 1 11 1 23 1 12 1-20 1-4 1 11 1-10 1-8 1-24 1-13 1 10 1 10 1 4 1 7 1 13 1-25 1-68 1-115 1-88 1-81 1-74 1-36 1 36 1 34 1 42 1 34 1 24 1 17 1 14 1 24 1 20 1 27 1 27 1 7 1 4 1 16 1 27 1 14 1-5 1-6 1 9 1 18 1-2 1-11 1 12 1 26 1 3 1-7 1 14 1 20 1 14 1 1 1 14 1 12 1-14 1-1 1 5 1 4 1 12 1 16 1-23 1-23 1-3 1 27 1 21 1-22 1 3 1 20 1-5 1-17 1-20 1 4 1 25 1 14 1 4 1 15 1-35 1-29 1-5 1 5 1 2 1 9 1-5 1 9 1 22 1-39 1-28 1 24 1 31 1-8 1-4 1 7 1 15 1 3 1-9 1-6 1-16 1-23 1-6 1 7 1 6 1-3 1-7 1 17 1 44 1-3 1-23 1 0 1 24 1 4 1-49 1-24 1 18 1 31 1 21 1-18 1-40 1-13 1 22 1 16 1-16 1-8 1-15 1-9 1 19 1 20 1 16 1 17 1-3 1-4 1 7 1 11 1-13 1-30 1-18 1 0 1 15 1 12 1-41 1-119 1-93 1-74 1-56 1-33 1 33 1 34 1 36 1 27 1 21 1 35 1 45 1 39 1 9 1 1 1 3 1 8 1 16 1 8 1-3 1-5 1-2 1 8 1 15 1 27 1 31 1 15 1 9 1 22 1 36 1-13 1 14 1-23 1-15 1-17 1-10 1 2 1 4 1 24 1 34 1-7 1-15 1-34 1-12 1-1 1 4 1 7 1 16 1 16 1-9 1-11 1-2 1 2 1 13 1 20 1 5 1-24 1-16 1 4 1 22 1 19 1-40 1-11 1 20 1 4 1 9 1 17 1-16 1-33 1-21 1 8 1 17 1-7 1-6 1 10 1 1 1-10 1 2 1 12 1 17 1 17 1 11 1-2 1-9 1-20 1-10 1-2 1 10 1 16 1 7 1 0 1 4 1 0 1-29 1-31 1-3 1 39 1 11 1-31 1 12 1 22 1-11 1-14 1 12 1 19 1-30 1-17 1 11 1 26 1 18 1 1 1-25 1-26 1 4 1 15 1-9 1 13 1-9 1-46 1-15 1-3 1-30 1-84 1-67 1-62 1-62 1-45 1 52 1 34 1 34 1 19 1 15 1 26 1 25 1 12 1 6 1 26 1 30 1 8 1-16 1-10 1 10 1 28 1 33 1 13 1 3 1 1 1 4 1 7 1 10 1 25 1 1 1-33 1-4 1 24 1 21 1 13 1 24 1 12 1-10 1-3 1-13 1-17 1-2 1 34 1-27 1-29 1 28 1 30 1-9 1-25 1-28 1-3 1 5 1 5 1 14 1 20 1 17 1 1 1-28 1-6 1 0 1-16 1-4 1 29 1 5 1-16 1-6 1-8 1 4 1 20 1 24 1-6 1 2 1 6 1 11 1-22 1-5 1 10 1 10 1-17 1-6 1 4 1 5 1 2 1-10 1 3 1 6 1-16 1 7 1 12 1 12 1-21 1-25 1 0 1 18 1 7 1-35 1-23 1 28 1 40 1 5 1-14 1-19 1 3 1-29 1-31 1 2 1 24 1 35 1 12 1-22 1-7 1 2 1 4 1 11 1 25 1 17 1-12 1-12 1-3 1-5 1-28 1-40 1-68 1-52 1-70 1-82 1-48 1 32 1 32 1 31 1 31 1 24 1 20 1 18 1 22 1 16 1 7 1-1 1 8 1 21 1 21 1 5 1-4 1 5 1 16 1 23 1 2 1 10 1 22 1 14 1 22 1 8 1-14 1-33 1-16 1 12 1 5 1-3 1 5 1 21 1 27 1-17 1-10 1 11 1 0 1-13 1-4 1 12 1-5 1-10 1 29 1-8 1-20 1 20 1 19 1 4 1-29 1-18 1 12 1 27 1-13 1-7 1 26 1-56 1-16 1 26 1 33 1 21 1-30 1-22 1-1 1 9 1 4 1-14 1-15 1 11 1 29 1 18 1-2 1-19 1-21 1 10 1 24 1-19 1 14 1 1 1-5 1 15 1 2 1-6 1-2 1-2 1-3 1-21 1-10 1 17 1 11 1 3 1 5 1 19 1-14 1 1 1 6 1 3 1 1 1-8 1-18 1 0 1 1 1-28 1 5 1 38 1-4 1 5 1-8 1-23 1-28 1-12 1 19 1 27 1 18 1-2 1-56 1-70 1-87 1-63 1-62 1-50 1-31 1 32 1 45 1 49 1 30 1 11 1 13 1 23 1 32 1 14 1 0 1-3 1-2 1 19 1 22 1 9 1-11 1-23 1 12 1 43 1 26 1-15 1-7 1 26 1 27 1 10 1 2 1 24 1 26 1-18 1 0 1-31 1-16 1-9 1-3 1 33 1 29 1-1 1 9 1-38 1-7 1 3 1 13 1 14 1-15 1 8 1 31 1-40 1-14 1-10 1-12 1 10 1 28 1 10 1 2 1 5 1 4 1-16 1-30 1 0 1 18 1 0 1-9 1 15 1 16 1-36 1-31 1 5 1 27 1 16 1 12 1-2 1 36 1-53 1-32 1-3 1 15 1 31 1 28 1 13 1-14 1 7 1-17 1-29 1-10 1 0 1 7 1-1 1-3 1 10 1 23 1 16 1-14 1-37 1-2 1 28 1-13 1 6 1 18 1 2 1-5 1-11 1-12 1 3 1 22 1 28 1-25 1-17 1 0 1 22 1 7 1-21 1-18 1-25 1-34 1-18 1-6 1-18 1-67 1-58 1-57 1-52 1-30 1 36 1 25 1 21 1 22 1 30 1 30 1 18 1 15 1 12 1 14 1 8 1 13 1 18 1 5 1 0 1-10 1-6 1 10 1 31 1 33 1 9 1-18 1-4 1 4 1 2 1 8 1 18 1 23 1 30 1-7 1-28 1-13 1-6 1-14 1 0 1 21 1 18 1 11 1 0 1-27 1-30 1 7 1 22 1 4 1 5 1 21 1 16 1 7 1-18 1-39 1-21 1-24 1-8 1 33 1 53 1 21 1-14 1-4 1 12 1 6 1-21 1-52 1-49 1-8 1 36 1 28 1 13 1 22 1 2 1 8 1 5 1-36 1-8 1 30 1 8 1-35 1-9 1 18 1 20 1 3 1 4 1 23 1-35 1-25 1 11 1 34 1 19 1-22 1-14 1-8 1-3 1-4 1 3 1 30 1 12 1-34 1-19 1 17 1 17 1-10 1-5 1 15 1 8 1-11 1-4 1 5 1-3 1-21 1-22 1-6 1 9 1 11 1 3 1 2 1 4 1-14 1-45 1-106 1-88 1-80 1-41 1-33 1 33 1 35 1 29 1 21 1 26 1 39 1 42 1 37 1 11 1-4 1-8 1-2 1 5 1 7 1 18 1 16 1 19 1 4 1-15 1 6 1 26 1 19 1-11 1-19 1 5 1 23 1 16 1-12 1-17 1 22 1 41 1 27 1-6 1-22 1 11 1 1 1-3 1-57 1-56 1 3 1 52 1 52 1 26 1 16 1-19 1 6 1-20 1-29 1 12 1 38 1 5 1-11 1 6 1-7 1 3 1 10 1-19 1 7 1 11 1 15 1-6 1-23 1-36 1 5 1 35 1 21 1-9 1-27 1-17 1 0 1 14 1-4 1-4 1 27 1 6 1-10 1-16 1-7 1 11 1 30 1-33 1-3 1 25 1-18 1-10 1-12 1 8 1 26 1 14 1-9 1-34 1-8 1 5 1-3 1-16 1 5 1 27 1 19 1-5 1-6 1-6 1-7 1-10 1 0 1-4 1-10 1 14 1 27 1-18 1-6 1 27 1-14 1-16 1-4 1-11 1-27 1-29 1-77 1-77 1-78 1-57 1-32 1 37 1 38 1 35 1 22 1 15 1 23 1 35 1 44 1 10 1-17 1-8 1 21 1 33 1 15 1-9 1-13 1-2 1 21 1 32 1 20 1 16 1 15 1 10 1 4 1-12 1-17 1-13 1-4 1 11 1-5 1-9 1 29 1 42 1 21 1 10 1-9 1-13 1 15 1-3 1-8 1 14 1-14 1-13 1 21 1-15 1-27 1 6 1 19 1 22 1-15 1-29 1-6 1 6 1 6 1 2 1 6 1 3 1-7 1 11 1 23 1 0 1-10 1-11 1-11 1-17 1-15 1 8 1 29 1 7 1-31 1 0 1 2 1-1 1 2 1 13 1 18 1-24 1-19 1 12 1 28 1 3 1-27 1-10 1 27 1 20 1-28 1-12 1 11 1 10 1-6 1-14 1-2 1 10 1 25 1 2 1-25 1 2 1 35 1-16 1-4 1 12 1-1 1-19 1-15 1 6 1 12 1 3 1-3 1-1 1 5 1 5 1-8 1-5 1-5 1 2 1-18 1-57 1-92 1-78 1-75 1-58 1-31 1 31 1 39 1 41 1 32 1 22 1 15 1 21 1 42 1 15 1 6 1 12 1 13 1 16 1 23 1 21 1-2 1-8 1-13 1-8 1-4 1-3 1 2 1 7 1 11 1 2 1-5 1-16 1-14 1 2 1 15 1 17 1 15 1 9 1 10 1 16 1 32 1 35 1-8 1-18 1-23 1 4 1-1 1-16 1-2 1-1 1 20 1 30 1-23 1-19 1 13 1 36 1-11 1 10 1-13 1-17 1 14 1 11 1 2 1 9 1-3 1 5 1-17 1-14 1 8 1 15 1-12 1-36 1-19 1 15 1 31 1 9 1-23 1 15 1 16 1-20 1 20 1-14 1-38 1-14 1-3 1-7 1-7 1 25 1 41 1-21 1 4 1 44 1-31 1-7 1 1 1-40 1-23 1 17 1 45 1 25 1-30 1-26 1-4 1 22 1 22 1 9 1-13 1-3 1 37 1-42 1-24 1-1 1 13 1 21 1-12 1-24 1-17 1-6 1-3 1 8 1 13 1-16 1-79 1-80 1-75 1-59 1-33 1 40 1 32 1 32 1 33 1 26 1 16 1 9 1 11 1 11 1 20 1 11 1 3 1 2 1 8 1 18 1 26 1 16 1 3 1 11 1 14 1 21 1 18 1 8 1 0 1-14 1-3 1 11 1-5 1 5 1 6 1-17 1-31 1-11 1 23 1 31 1 14 1 7 1 10 1-33 1-7 1 10 1-10 1 7 1 17 1 3 1 5 1-4 1-6 1-4 1-8 1-8 1 19 1-5 1-35 1-4 1 23 1 15 1 2 1 4 1-13 1-31 1 1 1 23 1-31 1-15 1 31 1 55 1-46 1-21 1 4 1 20 1 17 1 18 1-48 1-11 1 33 1-10 1-17 1 4 1 29 1 10 1-35 1-11 1 25 1 30 1 1 1-18 1-14 1 6 1 19 1-18 1-4 1 4 1-19 1-4 1 5 1-3 1 3 1 14 1 18 1 17 1 2 1-5 1-18 1-27 1-25 1-16 1-5 1 21 1 39 1 13 1-17 1-9 1-2 1-9 1-22 1-27 1-85 1-88 1-88 1-73 1-33 1 33 1 31 1 37 1 39 1 36 1 28 1 10 1 10 1 9 1 10 1 14 1 19 1 28 1 18 1-1 1 13 1 32 1 2 1-18 1-12 1 16 1 47 1 31 1-11 1-8 1 10 1 6 1-15 1 3 1 12 1-5 1-21 1-32 1-14 1 28 1 60 1 14 1-31 1-8 1 19 1 6 1 3 1 9 1-5 1 2 1 3 1-19 1-17 1-10 1 4 1 9 1 7 1 8 1 3 1-11 1-8 1 9 1 18 1 20 1-2 1 1 1-11 1-20 1-7 1 10 1 13 1-25 1-7 1-18 1-26 1 14 1 44 1 10 1-6 1 25 1-22 1-5 1 21 1-8 1-31 1-36 1-28 1-4 1 19 1 28 1 21 1 22 1 16 1-6 1 3 1-5 1-15 1-9 1-4 1 0 1 3 1 15 1-13 1-1 1 28 1 23 1-10 1-14 1-13 1 2 1-33 1-17 1 14 1 15 1 18 1 3 1-2 1-13 1-32 1-28 1-19 1-32 1-81 1-70 1-71 1-51 1-33 1 33 1 33 1 45 1 34 1 15 1 12 1 24 1 38 1 16 1 5 1 13 1 24 1 26 1 9 1-9 1-12 1 1 1 13 1 25 1 30 1 17 1-12 1-22 1-11 1-5 1 9 1 18 1 11 1 22 1 31 1 26 1 2 1-6 1-16 1-25 1-2 1 30 1 19 1-22 1 8 1 14 1-16 1 6 1 3 1-18 1-28 1-22 1-2 1 25 1 33 1 11 1-18 1-1 1-3 1-8 1 6 1 13 1 1 1-21 1-8 1 10 1 9 1 6 1 3 1 3 1-5 1-9 1 2 1 2 1-6 1-5 1-5 1-6 1-4 1 14 1 7 1 8 1 26 1-38 1-29 1 7 1 31 1 30 1-8 1-14 1-13 1 3 1 16 1 12 1-2 1-7 1-5 1-6 1-7 1 11 1 13 1-33 1-11 1 2 1 9 1 4 1-1 1-3 1 15 1 9 1-1 1-2 1-8 1-8 1-2 1 7 1 23 1-13 1-44 1-19 1-4 1-25 1-97 1-88 1-74 1-62 1-38 1 44 1 24 1 29 1 43 1 37 1 31 1 34 1 35 1 19 1-2 1-22 1-20 1 9 1 23 1 14 1-2 1 0 1 14 1 30 1 29 1 10 1-2 1-7 1-7 1 0 1 6 1 17 1 32 1 26 1 2 1-18 1 15 1 20 1-23 1-2 1-5 1-9 1 8 1 7 1-8 1 0 1 2 1-6 1-8 1 20 1 34 1-15 1 3 1-13 1-8 1 5 1 16 1-25 1-28 1 7 1 18 1 5 1 6 1 3 1 8 1-24 1-20 1 0 1 20 1 26 1 7 1 10 1-17 1-28 1-33 1 3 1 42 1 22 1-16 1-13 1-13 1 5 1 31 1-10 1-32 1-6 1 25 1 40 1-20 1-5 1 7 1 2 1-13 1-13 1 38 1-57 1-32 1 24 1 47 1 7 1-26 1-29 1 7 1 34 1 7 1-10 1 18 1 8 1-10 1-28 1-28 1 3 1 16 1 2 1-11 1-6 1 3 1-12 1-25 1-16 1-21 1-41 1-80 1-63 1-72 1-67 1-35 1 35 1 35 1 43 1 37 1 27 1 24 1 26 1 36 1 21 1 1 1-4 1 1 1 5 1 7 1 14 1 26 1 15 1-4 1-9 1-7 1 6 1 24 1 21 1 5 1-13 1-17 1 7 1 27 1 8 1-6 1 1 1-22 1-9 1 33 1 53 1 38 1-9 1 4 1-4 1-38 1-33 1-14 1 4 1 14 1 13 1 14 1 7 1-6 1-3 1 22 1 14 1-33 1-5 1 11 1 7 1-3 1-10 1 0 1 8 1-19 1-11 1 26 1 8 1-29 1 1 1 26 1 25 1 7 1-7 1-4 1 7 1-20 1-27 1-15 1-10 1 5 1 6 1 7 1 18 1 25 1 3 1-14 1 15 1 25 1-19 1-30 1-10 1 27 1 25 1-5 1-17 1-14 1 11 1 8 1-21 1-22 1 13 1 32 1 21 1-11 1 6 1-17 1-10 1 12 1-5 1-13 1-9 1 9 1 21 1 4 1-7 1 25 1-32 1 9 1-4 1-54 1-38 1-82 1-68 1-65 1-58 1-29 1 31 1 34 1 30 1 21 1 14 1 25 1 40 1 41 1 1 1-16 1-8 1-2 1-1 1 6 1 23 1 33 1 28 1 13 1 12 1 14 1 14 1 1 1-15 1-13 1 1 1 10 1-1 1-2 1 19 1 33 1 7 1-13 1-25 1-23 1-1 1 21 1 13 1-15 1-20 1-9 1 7 1 10 1 11 1 17 1 21 1 15 1-14 1 2 1 0 1-2 1 19 1-2 1-7 1-10 1 12 1-11 1-18 1-11 1-19 1 4 1 23 1-5 1 9 1 26 1-6 1-11 1 12 1 8 1 3 1-10 1 14 1-2 1-4 1-2 1-8 1 11 1 11 1 5 1-15 1-1 1 12 1-3 1-2 1 11 1-37 1-34 1-3 1 22 1 8 1-6 1 8 1-4 1-4 1 25 1-18 1-2 1 23 1-5 1-15 1-11 1-1 1 12 1-5 1-18 1-13 1 7 1 12 1-4 1-7 1-17 1-5 1 25 1 40 1-8 1-19 1-34 1-62 1-98 1-74 1-58 1-36 1-31 1 42 1 38 1 36 1 31 1 14 1 6 1 11 1 22 1 17 1 11 1 2 1 2 1 13 1 21 1 19 1 1 1-15 1-16 1 3 1 25 1 18 1 18 1 24 1 18 1 23 1-1 1-16 1-4 1 11 1 27 1 17 1-3 1-10 1-6 1 9 1 19 1 16 1-8 1-31 1-27 1 7 1 34 1 8 1-20 1-22 1-3 1 21 1 11 1 21 1-22 1-19 1 9 1 9 1-4 1 2 1 12 1 8 1 15 1-34 1-18 1 6 1-10 1-4 1-11 1-18 1 12 1 51 1 13 1-20 1-1 1 21 1-13 1-28 1-7 1 3 1 10 1 24 1 25 1-4 1-23 1-15 1 9 1 16 1 17 1-46 1-25 1 13 1 33 1 12 1-35 1-23 1-8 1 17 1 39 1-28 1-53 1-14 1 22 1 26 1 30 1 11 1-29 1-6 1 6 1 16 1 29 1 7 1-12 1 9 1-31 1-28 1 9 1 16 1-24 1-30 1-4 1-11 1-91 1-88 1-75 1-59 1-32 1 32 1 25 1 31 1 28 1 28 1 38 1 34 1 30 1 16 1 1 1-9 1 2 1 30 1 37 1 17 1-2 1 2 1 6 1 7 1 13 1 32 1 35 1-2 1-42 1-44 1-6 1 16 1 12 1 8 1-12 1-27 1-5 1 37 1 58 1-9 1-15 1-4 1-19 1-21 1 4 1 33 1 35 1-1 1-10 1-6 1-10 1-17 1-23 1-13 1-9 1 5 1 21 1 32 1 24 1 4 1-20 1-28 1-17 1 21 1 58 1-18 1-23 1 13 1 30 1-29 1-2 1 35 1 14 1-19 1-15 1-18 1-36 1-19 1 22 1 47 1-10 1 12 1 28 1-41 1-21 1-1 1 14 1 18 1 10 1 3 1 0 1-14 1-22 1-6 1 21 1 8 1-7 1 20 1 3 1 4 1-18 1-35 1 13 1 25 1 13 1 12 1-47 1-11 1 44 1-1 1 4 1-1 1-31 1-23 1-14 1 5 1 12 1 9 1 17 1 10 1-34 1-51 1-81 1-70 1-74 1-66 1-31 1 31 1 26 1 35 1 22 1 22 1 40 1 43 1 22 1-8 1-6 1-1 1-5 1 5 1 9 1-1 1 16 1 36 1 35 1 19 1-4 1 3 1 18 1-5 1-33 1-34 1-2 1 39 1 35 1 17 1 25 1-5 1 0 1-8 1-22 1-4 1 13 1-2 1 4 1 16 1-11 1-8 1 24 1 1 1-17 1 18 1 30 1-4 1-28 1-16 1 11 1 22 1-5 1-7 1 2 1 3 1-22 1-11 1 20 1 31 1 4 1-24 1-16 1-9 1-14 1-23 1 2 1 16 1 4 1 7 1-4 1-6 1 10 1 30 1 21 1-20 1 1 1 11 1 5 1-1 1 8 1 2 1-8 1 0 1-9 1-30 1-10 1 1 1-23 1-32 1 6 1 39 1 34 1 0 1 15 1-4 1-24 1 21 1-4 1-4 1 0 1-12 1 14 1-8 1-32 1-24 1 4 1 13 1 3 1 24 1 20 1-3 1-2 1 1 1 3 1-5 1-51 1-67 1-91 1-69 1-61 1-60 1-34 1 34 1 24 1 39 1 39 1 29 1 28 1 31 1 27 1 10 1 3 1 7 1 13 1 21 1 22 1 6 1-2 1 5 1 2 1 7 1 18 1 15 1 8 1 18 1 23 1 17 1 4 1 6 1 4 1-23 1-31 1-14 1-6 1-9 1-7 1 9 1 41 1 52 1-10 1 13 1-27 1-52 1-29 1 10 1 38 1 18 1 15 1 32 1-18 1-3 1-5 1-34 1-25 1-5 1 33 1 38 1 12 1-28 1-5 1 0 1 6 1 11 1-5 1-4 1-10 1 15 1 29 1-33 1-6 1 11 1 3 1 5 1 5 1 12 1-10 1-14 1-10 1 14 1 1 1-30 1 11 1-2 1-2 1 26 1 5 1-2 1 5 1 7 1 0 1-21 1-6 1 14 1 19 1-17 1-4 1-26 1-15 1 21 1 20 1-20 1-13 1 27 1-17 1-43 1 4 1 41 1 32 1-7 1-21 1-10 1 8 1 19 1 9 1-12 1-13 1 9 1-4 1-51 1-118 1-98 1-79 1-50 1-32 1 32 1 32 1 35 1 34 1 34 1 47 1 50 1 24 1-23 1-21 1 0 1 13 1 22 1 19 1 17 1 13 1 3 1 10 1 2 1-7 1-5 1 7 1 19 1 8 1-2 1-13 1-15 1-3 1 7 1 0 1-4 1 10 1 21 1 21 1 17 1 21 1 19 1-2 1-12 1-2 1 13 1 0 1 4 1-3 1-14 1 3 1 14 1-4 1-12 1-1 1 15 1 7 1-6 1-15 1-24 1-13 1 28 1 35 1-11 1 10 1-5 1-20 1-9 1-4 1-11 1 0 1 8 1-7 1-5 1 14 1 30 1 0 1-12 1-19 1-3 1 13 1-7 1-6 1 3 1 13 1 4 1 5 1-39 1-19 1 38 1 40 1-23 1 1 1 11 1 10 1-19 1-39 1-26 1 14 1 42 1 10 1-10 1 10 1 9 1-10 1 10 1 0 1-13 1 1 1 6 1 18 1-6 1 3 1-5 1-23 1-8 1-12 1-1 1 8 1-4 1-34 1-57 1-90 1-72 1-68 1-64 1-33 1 33 1 22 1 37 1 46 1 41 1 30 1 20 1 25 1 19 1 12 1 11 1-1 1-8 1-1 1 3 1 8 1 7 1-8 1 1 1 20 1 27 1 16 1 6 1 17 1 17 1 5 1 16 1 2 1-25 1-12 1-9 1 15 1 25 1 22 1 0 1-30 1-29 1-1 1 36 1 36 1 1 1-16 1-3 1 14 1 13 1-27 1-24 1 5 1 3 1-22 1-9 1 32 1 23 1-26 1-7 1 2 1 12 1-5 1-6 1 3 1 5 1-6 1 5 1 16 1-4 1-7 1 13 1-7 1-24 1-3 1 2 1 4 1 6 1 12 1 12 1 1 1-1 1-39 1-26 1 8 1 23 1 19 1 16 1 3 1 11 1 10 1 2 1-30 1-17 1 10 1 30 1-10 1-5 1 16 1 0 1-12 1 4 1 17 1-15 1-16 1-7 1-9 1-4 1-1 1 2 1 0 1-16 1-16 1 17 1 19 1-9 1 31 1 1 1-27 1-12 1-25 1-38 1-87 1-74 1-73 1-64 1-43 1 49 1 31 1 34 1 33 1 22 1 13 1 25 1 34 1 16 1 5 1 4 1 2 1-9 1-10 1 0 1 4 1 25 1 45 1 39 1 31 1 14 1-23 1-30 1-8 1 20 1 27 1-6 1-2 1 9 1 9 1 15 1 13 1 8 1-18 1-15 1 7 1 28 1 12 1-16 1 7 1-23 1-45 1-18 1 31 1 31 1-6 1-1 1 31 1 11 1 2 1-8 1-23 1-36 1-19 1 26 1 49 1-45 1-22 1 34 1 37 1 4 1-7 1 1 1 9 1-30 1-23 1 2 1 14 1 19 1 9 1-3 1 1 1 12 1-21 1-20 1-11 1-7 1 7 1 21 1 30 1-16 1-15 1 12 1 8 1-15 1-15 1-7 1 2 1 1 1-8 1-13 1-13 1-3 1 10 1 23 1 18 1-11 1 15 1 22 1 16 1-32 1-23 1-10 1 3 1-9 1-17 1-12 1 4 1 15 1 11 1 18 1 12 1-5 1-8 1 0 1-19 1-50 1-101 1-83 1-76 1-58 1-34 1 34 1 32 1 40 1 42 1 41 1 31 1 23 1 27 1 22 1 11 1-2 1-10 1-16 1-17 1-1 1 21 1 27 1 21 1 15 1 20 1 15 1-4 1-6 1 7 1 12 1 5 1-6 1 9 1 9 1 3 1 8 1 22 1-1 1 1 1 19 1-10 1-11 1-7 1-9 1 6 1 14 1-3 1 6 1 30 1-41 1-5 1 17 1-4 1 11 1-2 1-16 1 10 1 25 1-37 1-33 1 8 1 33 1 27 1-29 1-11 1 1 1 1 1 10 1 19 1-8 1-31 1 12 1 17 1 11 1 7 1-27 1-15 1 2 1-5 1-15 1 6 1 16 1-8 1-1 1 27 1 21 1-25 1 4 1 12 1-27 1-29 1-9 1 7 1 19 1 23 1 4 1-3 1 0 1-5 1 4 1 18 1 11 1-6 1-10 1 1 1 12 1-21 1 3 1 22 1-18 1 6 1 8 1-29 1-18 1-1 1 1 1-7 1-20 1-31 1-9 1 9 1-24 1-108 1-87 1-66 1-55 1-34 1 44 1 32 1 23 1 15 1 22 1 45 1 54 1 45 1 16 1 2 1-2 1-1 1-2 1-2 1 6 1 21 1 20 1-3 1-10 1 5 1 22 1 21 1 6 1-6 1-8 1 7 1 35 1 19 1-19 1-3 1 21 1 20 1-7 1-2 1 21 1 23 1 2 1 4 1-6 1-16 1-13 1-3 1-1 1 1 1-1 1 0 1-27 1-21 1 16 1 39 1-5 1-2 1 22 1 3 1-23 1-3 1 19 1 8 1-14 1-3 1 1 1 5 1 15 1 6 1-6 1-7 1-2 1-25 1-23 1 11 1 39 1 8 1 9 1-21 1-2 1-8 1 0 1 30 1-21 1-12 1-3 1-10 1-10 1 16 1 16 1-17 1-3 1 18 1 7 1-16 1 0 1 27 1-20 1 2 1-24 1-17 1-3 1-9 1 8 1 33 1 31 1-19 1-12 1 8 1 25 1-1 1 7 1-7 1-2 1-22 1 2 1-6 1-14 1 7 1 7 1-32 1-61 1-92 1-62 1-60 1-65 1-39 1 32 1 36 1 34 1 19 1 7 1 14 1 26 1 31 1 12 1 11 1 16 1 15 1 9 1 15 1 25 1 15 1-7 1-16 1 3 1 11 1 5 1 4 1 28 1 32 1 4 1-1 1 5 1 14 1 11 1-3 1-9 1-7 1-4 1 17 1 35 1-4 1 2 1-18 1-11 1-18 1-18 1-4 1 11 1 7 1 7 1 15 1 16 1 9 1 7 1-4 1-8 1 0 1-2 1-16 1-11 1 4 1 3 1-1 1 18 1-3 1-25 1 17 1 4 1 10 1-8 1-32 1 10 1 40 1-9 1-26 1-6 1 26 1 5 1-4 1 8 1-17 1-21 1 6 1 7 1-1 1 5 1 3 1-7 1-17 1 14 1 19 1-12 1-24 1-29 1-1 1 61 1-13 1-30 1 12 1 7 1 11 1 26 1 6 1-15 1-17 1-18 1-14 1-24 1-4 1 24 1 25 1 5 1-7 1-11 1-1 1 11 1 14 1 8 1 5 1 6 1-30 1-61 1-71 1-74 1-88 1-75 1-32 1 32 1 32 1 37 1 31 1 18 1 21 1 30 1 35 1 16 1-1 1-8 1 1 1 18 1 15 1 12 1 22 1 23 1 9 1-5 1-3 1 4 1-5 1-5 1 11 1 37 1 45 1 28 1 0 1-49 1-46 1-13 1 25 1 30 1 4 1-5 1-4 1 3 1 3 1 10 1 12 1 13 1-3 1-26 1-12 1-9 1-13 1-10 1 10 1 0 1 18 1 54 1-20 1 2 1 21 1-10 1 6 1-10 1-59 1-25 1 36 1 14 1-4 1 30 1 28 1-32 1-26 1 1 1 20 1-2 1-30 1-1 1 21 1 26 1 17 1-23 1 7 1 27 1-32 1-22 1 0 1 22 1 8 1-15 1-20 1-22 1-6 1 21 1 24 1 5 1 10 1 3 1 10 1-7 1-6 1-3 1-26 1 6 1 22 1-13 1-23 1 1 1 10 1-6 1-18 1-14 1 5 1 18 1 17 1 13 1 5 1 3 1-14 1-29 1-21 1 13 1 9 1-40 1-107 1-78 1-67 1-64 1-38 1 33 1 40 1 43 1 40 1 30 1 14 1-1 1 8 1 15 1 13 1 6 1 10 1 16 1 16 1 24 1 40 1 42 1 7 1-17 1-11 1 6 1 12 1 9 1-1 1-8 1-4 1 14 1 32 1 21 1 7 1-3 1-7 1-16 1-17 1 1 1-13 1-30 1-3 1 18 1 34 1 32 1-4 1-27 1-31 1 0 1 47 1 1 1-19 1 14 1-3 1-13 1 1 1-6 1 2 1 29 1 6 1-30 1-1 1 19 1 0 1-3 1 19 1-3 1-23 1-14 1-1 1 6 1 6 1 17 1 3 1-34 1-9 1 12 1 22 1 17 1 1 1-31 1-13 1 22 1-8 1-16 1-1 1-1 1 4 1 21 1 11 1-23 1-7 1 24 1-10 1-13 1 17 1-10 1-30 1 16 1 36 1 11 1-17 1-22 1 2 1 12 1-2 1-9 1-3 1-4 1-5 1 13 1 22 1 25 1-27 1-23 1-21 1-36 1-35 1-2 1 16 1-10 1-75 1-69 1-70 1-71 1-34 1 32 1 23 1 33 1 21 1 22 1 36 1 41 1 40 1 16 1-4 1-5 1 10 1 21 1 17 1 4 1-11 1-5 1 20 1 28 1 17 1 2 1-9 1 2 1 13 1 13 1 11 1-6 1-6 1 21 1 39 1-12 1-29 1-4 1 10 1-1 1 5 1 0 1-9 1 4 1 7 1-3 1 16 1 6 1-3 1 9 1-15 1-23 1 12 1 52 1-53 1-18 1 17 1 23 1 9 1 8 1 9 1-48 1-26 1 12 1 17 1 15 1 25 1-39 1-7 1 23 1-13 1 0 1 37 1-31 1-28 1 21 1 32 1-12 1 10 1-15 1 6 1 25 1-43 1-34 1 1 1 26 1 16 1 11 1 6 1 9 1 0 1-35 1-35 1-8 1 27 1 42 1 10 1-23 1-5 1 11 1-1 1 20 1-32 1-12 1 20 1 20 1-8 1-25 1-23 1 15 1 37 1-28 1-7 1 6 1-3 1 3 1 14 1 7 1-12 1-5 1 28 1-63 1-113 1-90 1-89 1-78 1-34 1 34 1 26 1 38 1 36 1 28 1 22 1 12 1 12 1 7 1 18 1 16 1 12 1 15 1 3 1 3 1 13 1 26 1 13 1-5 1 4 1 14 1 10 1 10 1 17 1 12 1-14 1-16 1 15 1 43 1 3 1-11 1 28 1-7 1-21 1 1 1-1 1-5 1-3 1 1 1 0 1-14 1 18 1 48 1 3 1 1 1 12 1-10 1 2 1 0 1-10 1-11 1 4 1 14 1 0 1-4 1 2 1-10 1 3 1-18 1 6 1 12 1-13 1 25 1-25 1-36 1 2 1 18 1 7 1 11 1 6 1-16 1-19 1-21 1-4 1 15 1 30 1 36 1-8 1-2 1-3 1-4 1 3 1-14 1 3 1-11 1-30 1-13 1 5 1 16 1 18 1 14 1 12 1-2 1-9 1-12 1-24 1-4 1 21 1-4 1 5 1 11 1-23 1 3 1 27 1-10 1-12 1 15 1 9 1-24 1-18 1 0 1 11 1 8 1-2 1-4 1-25 1-55 1-89 1-64 1-66 1-70 1-37 1 33 1 27 1 33 1 24 1 21 1 27 1 35 1 50 1 26 1-1 1-18 1-17 1 2 1 12 1 27 1 37 1 17 1 0 1 2 1 14 1 28 1 21 1 0 1-6 1 7 1 9 1-6 1-5 1 0 1-8 1-2 1 4 1 10 1-2 1-8 1-3 1 1 1 13 1-3 1-28 1-2 1 28 1 28 1 7 1-14 1-11 1 7 1 30 1 7 1-20 1-27 1-21 1 16 1 51 1-27 1-14 1 1 1 0 1-3 1 13 1 31 1 1 1-9 1-7 1-14 1 5 1 6 1-26 1-18 1 22 1 18 1-2 1 17 1 1 1 5 1-8 1-12 1 23 1-12 1-20 1-4 1 7 1 13 1 12 1-14 1 2 1 22 1-54 1-48 1 0 1 44 1 51 1-3 1-13 1-9 1-5 1-14 1-4 1 26 1 17 1-42 1-11 1 14 1 20 1 16 1 11 1 1 1-3 1-3 1-22 1-27 1-6 1 14 1-2 1-14 1-19 1-31 1-86 1-82 1-83 1-74 1-39 1 34 1 32 1 40 1 34 1 29 1 31 1 24 1 23 1 10 1 7 1 10 1 13 1 14 1 17 1 12 1 6 1 5 1 4 1 5 1 8 1 18 1 21 1 9 1-10 1-28 1-16 1 13 1 37 1 35 1 31 1-13 1-20 1 26 1 15 1-12 1-21 1-12 1 2 1 10 1 5 1 12 1 13 1-11 1-13 1-7 1-2 1 14 1 10 1 1 1 2 1 14 1-27 1-31 1-7 1 16 1 29 1 11 1-19 1-19 1 7 1 23 1 0 1-9 1 11 1 8 1-28 1-10 1-6 1-9 1-6 1 4 1 19 1 29 1 12 1-18 1-17 1 12 1-10 1-30 1 17 1 27 1-10 1-19 1-32 1-1 1 11 1 4 1 20 1 14 1-4 1-25 1-2 1 13 1 13 1 21 1 4 1-2 1-9 1-25 1-14 1 15 1 25 1 12 1 11 1-3 1-7 1-8 1-9 1-15 1-5 1 16 1 12 1-6 1-38 1-13 1 1 1-26 1-101 1-97 1-79 1-58 1-34 1 40 1 35 1 40 1 35 1 20 1 20 1 36 1 35 1-2 1-19 1-7 1 7 1 11 1 7 1 18 1 33 1 24 1 4 1 14 1 32 1 14 1-15 1-14 1 11 1 20 1 7 1 4 1 7 1 6 1-8 1-19 1-8 1 11 1 23 1 16 1 8 1 4 1-10 1-2 1 17 1 17 1-2 1-9 1-29 1-11 1 0 1-4 1 9 1 16 1-15 1-25 1-12 1 13 1 31 1-22 1-14 1 20 1 35 1-18 1-27 1-16 1 32 1 39 1-25 1 3 1-26 1-28 1-9 1 11 1 14 1 1 1-7 1-4 1 8 1 21 1 14 1-3 1 24 1-14 1-13 1 17 1-16 1-16 1-8 1-17 1 3 1 16 1 21 1 20 1-15 1 9 1 24 1-13 1-3 1-10 1-9 1 1 1-4 1 6 1 33 1-53 1-19 1 6 1 6 1 3 1 16 1 28 1-3 1-5 1 13 1 3 1-31 1-46 1-37 1-20 1-20 1-18 1-50 1-55 1-80 1-77 1-37 1 34 1 41 1 39 1 27 1 16 1 27 1 36 1 37 1 20 1 14 1 0 1-19 1-21 1-10 1 20 1 43 1 30 1 6 1 16 1 36 1 28 1 4 1 0 1 10 1-9 1-31 1 3 1 31 1 11 1 4 1 4 1 19 1 6 1-5 1-5 1-33 1-1 1 26 1-11 1-14 1 22 1-2 1-15 1 8 1 20 1-7 1-25 1 0 1 13 1 3 1 2 1 9 1 14 1-26 1-32 1-3 1 23 1 16 1-11 1-15 1 0 1-4 1-7 1 3 1 5 1 0 1 23 1 4 1-3 1 10 1-20 1-5 1 18 1 28 1-30 1-5 1-3 1-16 1-12 1 20 1 36 1-1 1-26 1-3 1 14 1 3 1-1 1 5 1-2 1-9 1 7 1-12 1-7 1 9 1 16 1 15 1-29 1 2 1-15 1-46 1-5 1 40 1 40 1 3 1 3 1-16 1 4 1 8 1-14 1-30 1-26 1-20 1 3 1 17 1 18 1 1 1-39 1-90 1-75 1-65 1-59 1-30 1 30 1 7 1 39 1 49 1 35 1 19 1 10 1 11 1 9 1 23 1 34 1 19 1-4 1-18 1-15 1 4 1 24 1 29 1 17 1 10 1 8 1-2 1 11 1 20 1 3 1-21 1-14 1 21 1 28 1 9 1 26 1-50 1-44 1-28 1-4 1 25 1 11 1-21 1 3 1 31 1 24 1-12 1-30 1 2 1 28 1 24 1 23 1 19 1-18 1 0 1 14 1-18 1-10 1-5 1-8 1-12 1 2 1 23 1 4 1-11 1-1 1-22 1-18 1 9 1 30 1 33 1-5 1-21 1 12 1 24 1-13 1-19 1-36 1-11 1 11 1 7 1 4 1 8 1-5 1 5 1 2 1-14 1 12 1 24 1 7 1-4 1-5 1-2 1 13 1 0 1-25 1 3 1 17 1 4 1 17 1-14 1 3 1-5 1 9 1 7 1 0 1-23 1-12 1-3 1-11 1-29 1-13 1 9 1 19 1 11 1 4 1-8 1-15 1-9 1-12 1-23 1-24 1-63 1-60 1-74 1-63 1-31 1 31 1 22 1 45 1 50 1 33 1 18 1 16 1 23 1 5 1-9 1-5 1 3 1 8 1 9 1 17 1 23 1 29 1 30 1 16 1-5 1-12 1-14 1-2 1 11 1 13 1 14 1 29 1 30 1-27 1-16 1-23 1-2 1 6 1 5 1 24 1 20 1-10 1 13 1-26 1-1 1-7 1-13 1 7 1 12 1 17 1 1 1-21 1 3 1 35 1-35 1-35 1-6 1 34 1 30 1-13 1-15 1 13 1 23 1-10 1-28 1-20 1 5 1 32 1 22 1-14 1-11 1-25 1-20 1 18 1 7 1-11 1 12 1 21 1 2 1 7 1 19 1-20 1-23 1-16 1 8 1 31 1-15 1-14 1 23 1 1 1-7 1 20 1 17 1-8 1-19 1-18 1-5 1 2 1-9 1-1 1 20 1 8 1-3 1-19 1-2 1 3 1-15 1-9 1 20 1 34 1 1 1-3 1-1 1-2 1-1 1 5 1 2 1 16 1-12 1-18 1-26 1-51 1-98 1-67 1-46 1-50 1-41 1 31 1 25 1 28 1 32 1 32 1 31 1 23 1 21 1 12 1 14 1 9 1-5 1-10 1-4 1 13 1 28 1 35 1 31 1 8 1-15 1-20 1-10 1 13 1 24 1 6 1-13 1-6 1 11 1 5 1-4 1 2 1 1 1 4 1 19 1 10 1 2 1 0 1-8 1-5 1 19 1-6 1-13 1-1 1-16 1-10 1 18 1 28 1-3 1-16 1-10 1 7 1 13 1 14 1 19 1-19 1-17 1-12 1 2 1 0 1 6 1 17 1 9 1 0 1-25 1-13 1 12 1 15 1-17 1-9 1 9 1-4 1-11 1 2 1 6 1 14 1-6 1-10 1 16 1 8 1-10 1-1 1 1 1 10 1-10 1-19 1 0 1 31 1-9 1-5 1 8 1 1 1-22 1-10 1 7 1-6 1 7 1 19 1 12 1-6 1-5 1-14 1 5 1 18 1 11 1 5 1-29 1-32 1 3 1 41 1 7 1-23 1-4 1-13 1-11 1 5 1-11 1-35 1-81 1-80 1-88 1-75 1-33 1 33 1 37 1 41 1 37 1 26 1 32 1 32 1 22 1-7 1-16 1-4 1 13 1 5 1 3 1 16 1 38 1 40 1 7 1-16 1-20 1-8 1 17 1 37 1 22 1-12 1-17 1 20 1 31 1 12 1 2 1 0 1 8 1 16 1 5 1-25 1-15 1-24 1-23 1 22 1 49 1 20 1-1 1 14 1-14 1-25 1-28 1 4 1 40 1-15 1-13 1 9 1 17 1 9 1-7 1 9 1 0 1-19 1-13 1 5 1 13 1 4 1 1 1-4 1-3 1 0 1 8 1 8 1-8 1-19 1-16 1-10 1-10 1 9 1 24 1-3 1-13 1 31 1 9 1-19 1 5 1 11 1 16 1-15 1-7 1 6 1 13 1 5 1 0 1-11 1 1 1-21 1-28 1-1 1 8 1 1 1 2 1-6 1-4 1 14 1 28 1-12 1-12 1-6 1 3 1 20 1 15 1 4 1-13 1-32 1-14 1 7 1 15 1 14 1 6 1-10 1-32 1-47 1-91 1-78 1-85 1-65 1-33 1 37 1 36 1 29 1 30 1 37 1 32 1 26 1 26 1 3 1-1 1 5 1 11 1 6 1-9 1-6 1 20 1 42 1 31 1 8 1-8 1-10 1-6 1 2 1 7 1 14 1 8 1 15 1 16 1-14 1-24 1-19 1 0 1 20 1 34 1 7 1-16 1-15 1-6 1 10 1 21 1 31 1 23 1-8 1 7 1 0 1-26 1 14 1 23 1-14 1-8 1-19 1-19 1 7 1 34 1 13 1-21 1 0 1 9 1 10 1 2 1-15 1-17 1-34 1-37 1 5 1 58 1 9 1-8 1 39 1-27 1-14 1-14 1-18 1-3 1 25 1 41 1 11 1-17 1-2 1-2 1-3 1-5 1 1 1 13 1 22 1-27 1-17 1-24 1-15 1 15 1 13 1 4 1 9 1 26 1-21 1-26 1 8 1 16 1-5 1-12 1 11 1 18 1 6 1 12 1 3 1-17 1 6 1 0 1-9 1-1 1 11 1 3 1-16 1-8 1-4 1-29 1-57 1-89 1-74 1-81 1-76 1-37 1 34 1 22 1 42 1 45 1 35 1 29 1 27 1 29 1 9 1-2 1-4 1-4 1-1 1 12 1 30 1 38 1 6 1-27 1-5 1 26 1 34 1 24 1-2 1-16 1-16 1-6 1 15 1 21 1 9 1 11 1 6 1 7 1 18 1 23 1-24 1-7 1-10 1-7 1 20 1 36 1-9 1-1 1-3 1-29 1-19 1 8 1 11 1 8 1 0 1-1 1 10 1 19 1 9 1-11 1-17 1 0 1 5 1-7 1 1 1-10 1-5 1 22 1 27 1-5 1-26 1-20 1-3 1 9 1 19 1 16 1 0 1-16 1-22 1-13 1 4 1 13 1-6 1 7 1 15 1 3 1 17 1-2 1 6 1-6 1-2 1-11 1 4 1 5 1 4 1-1 1-10 1 1 1-20 1-15 1 17 1 19 1-5 1-11 1-8 1 9 1 10 1-23 1-7 1 20 1 13 1 1 1 2 1-2 1-37 1-39 1-13 1 20 1 38 1 22 1 4 1-24 1-75 1-101 1-75 1-78 1-67 1-36 1 34 1 27 1 42 1 42 1 27 1 14 1 14 1 24 1 10 1 8 1 11 1 15 1 21 1 22 1 15 1 12 1 19 1 14 1 2 1-10 1-2 1 18 1 29 1 22 1 5 1 0 1 1 1-12 1-18 1-13 1-2 1 24 1 22 1 17 1 18 1-10 1-9 1-9 1 4 1 13 1-5 1-16 1 3 1 25 1 2 1-20 1-4 1 9 1 3 1-2 1 6 1 18 1-11 1 1 1 5 1-2 1-28 1-36 1-8 1 24 1 20 1-8 1-24 1-20 1-1 1 34 1 25 1-39 1-7 1 20 1 8 1-10 1-7 1 17 1 3 1 9 1 22 1 4 1 5 1-5 1-2 1-24 1-7 1 18 1 10 1-13 1-16 1 4 1 4 1 15 1 14 1-30 1-9 1 10 1 11 1 5 1-25 1-28 1 5 1 36 1-4 1-26 1-13 1 8 1 18 1-3 1-21 1-9 1 7 1 22 1-1 1-10 1 20 1 25 1-50 1-61 1-41 1-65 1-74 1-89 1-82 1-38 1 37 1 21 1 38 1 39 1 40 1 41 1 33 1 26 1 9 1 14 1 12 1 3 1 11 1 19 1 12 1-7 1-10 1 9 1 22 1 13 1-5 1-6 1 4 1 14 1 21 1 27 1 32 1 13 1 12 1 22 1-13 1-4 1-3 1-21 1-3 1 16 1 4 1-5 1 4 1-22 1-3 1 11 1-8 1-28 1-22 1 6 1 22 1 11 1 3 1-3 1-6 1 1 1 10 1 14 1 8 1 12 1-9 1-10 1 13 1 0 1-7 1-3 1-5 1-3 1 5 1 13 1-22 1-7 1 10 1 28 1-6 1-24 1 16 1 34 1-9 1-5 1-24 1 4 1-10 1-11 1 6 1 10 1-1 1 9 1-4 1 24 1-20 1-13 1-1 1-10 1 16 1 17 1-3 1 0 1-4 1-9 1-12 1-14 1-21 1-16 1 10 1 39 1 8 1-26 1-4 1 31 1-12 1-40 1-11 1 9 1 20 1 20 1-10 1-33 1-20 1-8 1-19 1-82 1-73 1-71 1-66 1-49 1 40 1 33 1 45 1 50 1 32 1 10 1 5 1 23 1 24 1 21 1 10 1-4 1-4 1 1 1 15 1 26 1 31 1 12 1-10 1 7 1 17 1 13 1 2 1-3 1 6 1 17 1-13 1-25 1 2 1 22 1 6 1-13 1 1 1 20 1 5 1-29 1-17 1 28 1 34 1 10 1 31 1-18 1 11 1 11 1-4 1-12 1-28 1-30 1-10 1 14 1 34 1 21 1-2 1 10 1 10 1-20 1-14 1-11 1 0 1 20 1 5 1-27 1-18 1 6 1 22 1 17 1-4 1-14 1 13 1 8 1-42 1-10 1 19 1 31 1 16 1-18 1 9 1 7 1-13 1 11 1-19 1-30 1 11 1 28 1-45 1-8 1 25 1 24 1 23 1-20 1-13 1-10 1 3 1 0 1 14 1 3 1-13 1-7 1-3 1-6 1-18 1-3 1 28 1 32 1-14 1 6 1 2 1-15 1-21 1-17 1-10 1-8 1 9 1 18 1 18 1-20 1-59 1-99 1-78 1-69 1-50 1-32 1 32 1 25 1 27 1 23 1 29 1 43 1 32 1 13 1-9 1 1 1 19 1 22 1 22 1 16 1-4 1-10 1 1 1 13 1 16 1 8 1 13 1 21 1 16 1 7 1 3 1 4 1 7 1 3 1-17 1-23 1 7 1 48 1 38 1-13 1-1 1 5 1 4 1-36 1-13 1 16 1 14 1-9 1-16 1 7 1 28 1-5 1-32 1-13 1 5 1 5 1 15 1 18 1-31 1-25 1 20 1 36 1 22 1 3 1-3 1-20 1-15 1-9 1-8 1 9 1 13 1-5 1-3 1 8 1 21 1-19 1-27 1-3 1 9 1-13 1-31 1-13 1 26 1 45 1 23 1 8 1-7 1-14 1-6 1 11 1 3 1-15 1-3 1 1 1-9 1-18 1 0 1 18 1 10 1-3 1-2 1-6 1 21 1-4 1-14 1 12 1 2 1-9 1 2 1-15 1-7 1 1 1 13 1 18 1 5 1-2 1 10 1-64 1-32 1 19 1 33 1-2 1-42 1-88 1-77 1-66 1-43 1-28 1 28 1 21 1 23 1 21 1 25 1 29 1 33 1 26 1-3 1-15 1-6 1 20 1 43 1 35 1 17 1 11 1 11 1 10 1 6 1 11 1 9 1-9 1-12 1-13 1-11 1 4 1 10 1-10 1-30 1-4 1 44 1 52 1 26 1-5 1-22 1-4 1 16 1 6 1-5 1-7 1-30 1 16 1 37 1-23 1-14 1-11 1 9 1 17 1-14 1-45 1-16 1 47 1 34 1-23 1 21 1-10 1-13 1 12 1-16 1-11 1 35 1-7 1-24 1 11 1 17 1-10 1-7 1 2 1 5 1 8 1-21 1-36 1-11 1 18 1 34 1 9 1 7 1 1 1-2 1-14 1 12 1 21 1-1 1 1 1 6 1-13 1-16 1-10 1-11 1-18 1-5 1 23 1 13 1-11 1-3 1 15 1 7 1 7 1-3 1 0 1-2 1-25 1-23 1 1 1 23 1 30 1 6 1-12 1-13 1-2 1 7 1-14 1-17 1 2 1 14 1-7 1-51 1-101 1-73 1-71 1-72 1-32 1 32 1 39 1 40 1 32 1 22 1 26 1 37 1 47 1 23 1 11 1-5 1-14 1-11 1-6 1 5 1 15 1 18 1 8 1-8 1 0 1 16 1 11 1 3 1 6 1 15 1 21 1 8 1-4 1 1 1 19 1 32 1 19 1-21 1-19 1 2 1 14 1 11 1 3 1-23 1-5 1 16 1 10 1-23 1-12 1 5 1-2 1 0 1 0 1-17 1 7 1 30 1 9 1 7 1 1 1-11 1 7 1 7 1 1 1-12 1-13 1-2 1-2 1-3 1 6 1 2 1-5 1 1 1-8 1-19 1-11 1 15 1 45 1-11 1-7 1-56 1-51 1 19 1 66 1 33 1 12 1-8 1-16 1-33 1-6 1 14 1 15 1 7 1 21 1-49 1-46 1-4 1 29 1 19 1 11 1 15 1 3 1 8 1 0 1-32 1 5 1 33 1-20 1-19 1 23 1-31 1-53 1 6 1 37 1 21 1 3 1 6 1-8 1-31 1-26 1 10 1 9 1-31 1-93 1-80 1-73 1-68 1-42 1 37 1 34 1 36 1 30 1 18 1 15 1 18 1 33 1 18 1 2 1-6 1 12 1 37 1 37 1 22 1 7 1 3 1 3 1 1 1 0 1 20 1 26 1 5 1-3 1-7 1 4 1 18 1-2 1-37 1-10 1 30 1 44 1-8 1-42 1-14 1 21 1 29 1 26 1 20 1-4 1-5 1 1 1-40 1-19 1 2 1 0 1-4 1 10 1 27 1 34 1-15 1-2 1-7 1-7 1 4 1-25 1-21 1 28 1 34 1-10 1-24 1-10 1 16 1 13 1-7 1-19 1-19 1-15 1 3 1 14 1 15 1 22 1 26 1-24 1 2 1 22 1 5 1-17 1-13 1-7 1-13 1-6 1 18 1 37 1-29 1-19 1 3 1 8 1 17 1-6 1-27 1 3 1 17 1-3 1-5 1 20 1-18 1-26 1-12 1-5 1 13 1 35 1 33 1-32 1-20 1-19 1-8 1 10 1 19 1 12 1-19 1-2 1-12 1-20 1 0 1-22 1-54 1-98 1-72 1-70 1-69 1-45 1 51 1 42 1 36 1 26 1 22 1 28 1 32 1 29 1 4 1 3 1 2 1 18 1 30 1 17 1 3 1-9 1 1 1 1 1-8 1 9 1 29 1 30 1 12 1 11 1 9 1-4 1 9 1 25 1 27 1 24 1 2 1 10 1-18 1-14 1-9 1-19 1-19 1-1 1 14 1 30 1 33 1-16 1-7 1 1 1 2 1-4 1 2 1 13 1-13 1-7 1 1 1-19 1 5 1-17 1-37 1 1 1 30 1 17 1-3 1 0 1 21 1 16 1-11 1-21 1-10 1 19 1 17 1-11 1-6 1-4 1-16 1 0 1 2 1 9 1-8 1-17 1-2 1 15 1 27 1 20 1-22 1-2 1 16 1 2 1-17 1 5 1 10 1 4 1 8 1-19 1 6 1 13 1-17 1-34 1-4 1 28 1 14 1 3 1 13 1-12 1 8 1-11 1-31 1-1 1 19 1 10 1-4 1-14 1-6 1-11 1-16 1 16 1 31 1 23 1-23 1-56 1-48 1-85 1-81 1-71 1-58 1-32 1 40 1 31 1 32 1 39 1 47 1 38 1 14 1 3 1-2 1 10 1 9 1 7 1 8 1 14 1 30 1 22 1-8 1-36 1-21 1 4 1 25 1 16 1-1 1 16 1 35 1 33 1 13 1-2 1 4 1 20 1-12 1-24 1-10 1-3 1 9 1 11 1 3 1 20 1 14 1-10 1 3 1-16 1-25 1 7 1 38 1-2 1-33 1-18 1-14 1-7 1 14 1 33 1 30 1-6 1 2 1 2 1-43 1-51 1 4 1 50 1 37 1 8 1 7 1 7 1-8 1 6 1-28 1-32 1-4 1 16 1 16 1 11 1 0 1-18 1-12 1-4 1-29 1-14 1 32 1 51 1 8 1-5 1 9 1-1 1-3 1-5 1-23 1-11 1 12 1 8 1-27 1-29 1-9 1 5 1 1 1 10 1 35 1 32 1-20 1-13 1 4 1 5 1 2 1 2 1 3 1-7 1-4 1 2 1 2 1 0 1 0 1-36 1-11 1 7 1 5 1-10 1-32 1-83 1-76 1-71 1-56 1-30 1 30 1 20 1 29 1 26 1 18 1 14 1 28 1 31 1 12 1 18 1 21 1 15 1 3 1-1 1 0 1-5 1 1 1 7 1-10 1 7 1 37 1 26 1-1 1-16 1 4 1 33 1 3 1 10 1 11 1 7 1 16 1-1 1 15 1-27 1 6 1 14 1 14 1-3 1-14 1-9 1-2 1 15 1 23 1-26 1-3 1-12 1-32 1 16 1 23 1-1 1-1 1-7 1 16 1 13 1 6 1 8 1-19 1-7 1 14 1-9 1-11 1 5 1 0 1-6 1 6 1-2 1-3 1-13 1-8 1 8 1 10 1 24 1-24 1-8 1 8 1-5 1 4 1-16 1-22 1 17 1 34 1 8 1-4 1-7 1-27 1-12 1 21 1 23 1-18 1 3 1 21 1-1 1-16 1 2 1 14 1 13 1-2 1-7 1-11 1-23 1-18 1 12 1 27 1-40 1-3 1 19 1-10 1-17 1 13 1 41 1 3 1-17 1-20 1-34 1-32 1-21 1-24 1-67 1-67 1-70 1-63 1-38 1 42 1 33 1 31 1 28 1 22 1 27 1 31 1 30 1 5 1-6 1-1 1 1 1 6 1 18 1 28 1 16 1 9 1 13 1 27 1 36 1 10 1-26 1-33 1-3 1 38 1 21 1-5 1-11 1-3 1 19 1 7 1 12 1 18 1-5 1 2 1-28 1-19 1 3 1 3 1 25 1 21 1-16 1-28 1-29 1 10 1 33 1 27 1 11 1-30 1-18 1 10 1 9 1 7 1-29 1-27 1 19 1 46 1-8 1-6 1 7 1 0 1 8 1 21 1-23 1-17 1 7 1-6 1-5 1 12 1-10 1 0 1 23 1 20 1-5 1-4 1 15 1-11 1-14 1 2 1 7 1-2 1-13 1 4 1 25 1-22 1-17 1 18 1 27 1-37 1-23 1 6 1 10 1 25 1-21 1-25 1 10 1 21 1 0 1-8 1 4 1 3 1-10 1-24 1 2 1 13 1 8 1-5 1 5 1-7 1-19 1 5 1 12 1-4 1-31 1-33 1-10 1-8 1-75 1-85 1-84 1-66 1-34 1 42 1 37 1 36 1 33 1 33 1 34 1 25 1 16 1-10 1-3 1 9 1 17 1 26 1 17 1 1 1-4 1 14 1 31 1 19 1 3 1 2 1 3 1 13 1 10 1 1 1-11 1-12 1 9 1 33 1 23 1 20 1 12 1-13 1 14 1-10 1-22 1-1 1 15 1-13 1 5 1-1 1 2 1 2 1-15 1-30 1-37 1-8 1 23 1 29 1 11 1 2 1 20 1 24 1-25 1-9 1 14 1 20 1-12 1-37 1-10 1 28 1 3 1-33 1-9 1 13 1 26 1 30 1 3 1-23 1-28 1-7 1 21 1 36 1-5 1 1 1-19 1-12 1 8 1 14 1 7 1 0 1-13 1-17 1-10 1 19 1 5 1-31 1 7 1 41 1-14 1-24 1 2 1 5 1 8 1 23 1 5 1-17 1 1 1-9 1-14 1-7 1-16 1 13 1 37 1-2 1 11 1 1 1-18 1-26 1-11 1 19 1 24 1-4 1-8 1-17 1-27 1-55 1-99 1-72 1-59 1-60 1-32 1 32 1 21 1 32 1 38 1 36 1 32 1 33 1 43 1 16 1 2 1 3 1-7 1-23 1-18 1 27 1 42 1 17 1-12 1-8 1 31 1 31 1 14 1-9 1-15 1 1 1 17 1 12 1-13 1-26 1-1 1 27 1 38 1 36 1-37 1-21 1 8 1 17 1 0 1-2 1 4 1-9 1 0 1 31 1 2 1-17 1-18 1 8 1 27 1 10 1-9 1-39 1-10 1 15 1-8 1-30 1-2 1 35 1 18 1-6 1 20 1-3 1-11 1-5 1-15 1 0 1 15 1 12 1-17 1-9 1-19 1-13 1 9 1 11 1 4 1-6 1 2 1 29 1 23 1-31 1 6 1 30 1-19 1 18 1-27 1-5 1 17 1-25 1 1 1 39 1-21 1-24 1-5 1 5 1 6 1-2 1 12 1 23 1 3 1-6 1-30 1 4 1 45 1-37 1-2 1-9 1-39 1-13 1 28 1 32 1 5 1-21 1-8 1 1 1-5 1 0 1 0 1-34 1-102 1-80 1-66 1-61 1-37 1 45 1 33 1 31 1 24 1 22 1 28 1 32 1 31 1 15 1 4 1-4 1-13 1-8 1 3 1 18 1 19 1 12 1 17 1 28 1 25 1 4 1-10 1-2 1 9 1 9 1 7 1 16 1 33 1 18 1-24 1-50 1-21 1 28 1 39 1 0 1-4 1 9 1-18 1-7 1 5 1 5 1-4 1-5 1-7 1 21 1 6 1 7 1 7 1-27 1 9 1 10 1 7 1 1 1-32 1-18 1-10 1-12 1-4 1 10 1 31 1 21 1-18 1-19 1 8 1 18 1-7 1-15 1-2 1 33 1 13 1-45 1-21 1 16 1 55 1-37 1-26 1 17 1 32 1 13 1 1 1-11 1 4 1-13 1-32 1-15 1 21 1 22 1 17 1 3 1 4 1-1 1-31 1-3 1 29 1 0 1-17 1 12 1-21 1-29 1 15 1 29 1 18 1-16 1-6 1-8 1-8 1-1 1 4 1 5 1-13 1-17 1-2 1 32 1 38 1-23 1-13 1-70 1-112 1-81 1-70 1-49 1-32 1 41 1 45 1 43 1 24 1 5 1 6 1 16 1 28 1 15 1 11 1 20 1 4 1 0 1 3 1 16 1 18 1 4 1-8 1-5 1 15 1 29 1 17 1-1 1 5 1 20 1 11 1-13 1-19 1 7 1 29 1 11 1-1 1 0 1 3 1 17 1 16 1 1 1-4 1-13 1-18 1-3 1 27 1-33 1-54 1-17 1 32 1 45 1 8 1-12 1 3 1 11 1 19 1 6 1-13 1-8 1 9 1-10 1-24 1 10 1 16 1-14 1 12 1 13 1-16 1-4 1 6 1 26 1 10 1 2 1-8 1-21 1-15 1 9 1 4 1-3 1 12 1 14 1-9 1 9 1-14 1-40 1 0 1 40 1-27 1-19 1 28 1 8 1-34 1-3 1 16 1-6 1 9 1 34 1 7 1-11 1-5 1-16 1-14 1 14 1 42 1-33 1-28 1 6 1 10 1-7 1-26 1-17 1 13 1 39 1 44 1-30 1-13 1 0 1-14 1 5 1-12 1-59 1-104 1-76 1-67 1-51 1-32 1 32 1 29 1 37 1 34 1 27 1 28 1 29 1 33 1 12 1 2 1 6 1 8 1 13 1 5 1-2 1 9 1 18 1 17 1 14 1-1 1 11 1 7 1 4 1 3 1-3 1-14 1-6 1 3 1 3 1 1 1-7 1 2 1 18 1 14 1 8 1 17 1 25 1-19 1-33 1 2 1 25 1 2 1-16 1-7 1-1 1-9 1 2 1 20 1 1 1-22 1 8 1 49 1-11 1-22 1 10 1-6 1-30 1-4 1 30 1 8 1 3 1 37 1-59 1-62 1 3 1 57 1 3 1 3 1 29 1 11 1 0 1 16 1-17 1-2 1 27 1-21 1-7 1-5 1-4 1 12 1 8 1-1 1 7 1-30 1-6 1 18 1 4 1-2 1 11 1 4 1 10 1-10 1-24 1-41 1-5 1 24 1 3 1-12 1 8 1 17 1-7 1 4 1 13 1 27 1-22 1-17 1 7 1-10 1-29 1-2 1 21 1-5 1-31 1-19 1 10 1 3 1-41 1-81 1-63 1-71 1-72 1-39 1 33 1 25 1 40 1 31 1 21 1 35 1 54 1 41 1-9 1-24 1-9 1-4 1 5 1 24 1 33 1 20 1 9 1 3 1-3 1-6 1 4 1 35 1 43 1 7 1 18 1-6 1-16 1 6 1 9 1-3 1-7 1 6 1-2 1-18 1-25 1 7 1 59 1-6 1-17 1 26 1 10 1-12 1 0 1-28 1-3 1 38 1 2 1-24 1-4 1 15 1-3 1-26 1-8 1 11 1 28 1 18 1-12 1-4 1-12 1-3 1 7 1-6 1 5 1 16 1-47 1-19 1 17 1 23 1-6 1 2 1 10 1-30 1 0 1 21 1 3 1 22 1 11 1 5 1-18 1-17 1-22 1 0 1 40 1 6 1-11 1 1 1-1 1 30 1-30 1-9 1-8 1 0 1 11 1-1 1 14 1-5 1-15 1 0 1 3 1 7 1 12 1 9 1-9 1-16 1-13 1-5 1-1 1-8 1 2 1 21 1 20 1-18 1-24 1 23 1 8 1-9 1-53 1-108 1-83 1-82 1-70 1-47 1 45 1 34 1 36 1 33 1 31 1 25 1 15 1 20 1 14 1 15 1 19 1 11 1-3 1-14 1 7 1 24 1 11 1 6 1 7 1 29 1 38 1 31 1 29 1 1 1-17 1-13 1-21 1-6 1 12 1 20 1-4 1-9 1-7 1-10 1 2 1 27 1 22 1-23 1 0 1 13 1 8 1 14 1-33 1-23 1-3 1-4 1 3 1 12 1 4 1-1 1-5 1 14 1-8 1-33 1-3 1 20 1 19 1 11 1 7 1 9 1 13 1-16 1-13 1 13 1 15 1-3 1-14 1-7 1 8 1-20 1-3 1 20 1 10 1-17 1-10 1-3 1 4 1 12 1 3 1-11 1-25 1-12 1 10 1 21 1 13 1-3 1-4 1 28 1-17 1-21 1-1 1 4 1 16 1 7 1 7 1-1 1-2 1 16 1 3 1 2 1-32 1-6 1 33 1-10 1-6 1-4 1-30 1-18 1 25 1 11 1-21 1 6 1 11 1-5 1-9 1-12 1-50 1-101 1-76 1-68 1-63 1-45 1 38 1 33 1 40 1 34 1 22 1 19 1 13 1 10 1 19 1 34 1 21 1 5 1-12 1-19 1 6 1 36 1 42 1 12 1 5 1 28 1 15 1-16 1 4 1 3 1 1 1 14 1 7 1-8 1-4 1 10 1 14 1 23 1 14 1 4 1-7 1-14 1 2 1 25 1-25 1 4 1-16 1-13 1 13 1 17 1-7 1-8 1 1 1 0 1 12 1-8 1-13 1-2 1 1 1-6 1-14 1-6 1 6 1 17 1 21 1 21 1 0 1-23 1-24 1 1 1 6 1-8 1-4 1 13 1 13 1-18 1-21 1 12 1 24 1 17 1 5 1-27 1-4 1 29 1-12 1-20 1 14 1 10 1-14 1-16 1 15 1 4 1-45 1-15 1 0 1 9 1 42 1 15 1-54 1-7 1 29 1 29 1 20 1 1 1-6 1 4 1 3 1-11 1-23 1-21 1-13 1 15 1 50 1-13 1-11 1 8 1-15 1-18 1 0 1 1 1 1 1 0 1-24 1-82 1-80 1-82 1-70 1-41 1 46 1 31 1 25 1 17 1 26 1 43 1 37 1 25 1-12 1-30 1-14 1 8 1 25 1 20 1 21 1 27 1 13 1-10 1-1 1 22 1 27 1 14 1 5 1 9 1 15 1 8 1-1 1-17 1-13 1 15 1 23 1-8 1-7 1 14 1 30 1-32 1-34 1 6 1 14 1 3 1-6 1-3 1 6 1-5 1 9 1 9 1 3 1-5 1-14 1-6 1 17 1 27 1-23 1 1 1-6 1-2 1-5 1-6 1 6 1 7 1 12 1 28 1-18 1-1 1-2 1-15 1 7 1-6 1-21 1 17 1 38 1 1 1-20 1-7 1-7 1-20 1 2 1 13 1 17 1 27 1-32 1-21 1 6 1 23 1 11 1-5 1 4 1-14 1-2 1 20 1-44 1-3 1 30 1 4 1-13 1-16 1 6 1 21 1-22 1 2 1 30 1 6 1-22 1-35 1-18 1 6 1 10 1 17 1 9 1-9 1-7 1-20 1-29 1 1 1 23 1-24 1-46 1-64 1-64 1-78 1-66 1-33 1 38 1 39 1 35 1 21 1 14 1 18 1 21 1 35 1 22 1 7 1 11 1 21 1 29 1 27 1 18 1 7 1-13 1-17 1-5 1 2 1 0 1-7 1 0 1 10 1 19 1 32 1 27 1 2 1 3 1 3 1-2 1-8 1 2 1 4 1-3 1-3 1-5 1-13 1-20 1 6 1 26 1 17 1-1 1 1 1 20 1 12 1-33 1-40 1-18 1 13 1 27 1 15 1 13 1 4 1-12 1 22 1-19 1-27 1 11 1 21 1-1 1-29 1-16 1 10 1 24 1 28 1-9 1-29 1 7 1 8 1-9 1-9 1 10 1 19 1-6 1-15 1 1 1 12 1 17 1 10 1-14 1-16 1-14 1 0 1 23 1 19 1-27 1-20 1-4 1-8 1-14 1 0 1 34 1 42 1-35 1-5 1 23 1 1 1-7 1-9 1-16 1-26 1-17 1 2 1 23 1 29 1-9 1-1 1 10 1-8 1-38 1-13 1 18 1-6 1-30 1-32 1-31 1-73 1-62 1-75 1-77 1-42 1 36 1 21 1 39 1 43 1 48 1 40 1 28 1 21 1 2 1 5 1 9 1 20 1 18 1-8 1-24 1-7 1 20 1 28 1 26 1 15 1 15 1 1 1 6 1 21 1 7 1 16 1 19 1 13 1 1 1-13 1-12 1 4 1 8 1 1 1-5 1-18 1-13 1 1 1 11 1 12 1 16 1 17 1-23 1-22 1 7 1 41 1-2 1-13 1 0 1-10 1 7 1 7 1 2 1 20 1-16 1-8 1-2 1 1 1-6 1-17 1-15 1 15 1 35 1 3 1-24 1-15 1 9 1 17 1-18 1-10 1 6 1-8 1 4 1 24 1 13 1 0 1 0 1-24 1-15 1 21 1 13 1-9 1-13 1-18 1 13 1 28 1-77 1-23 1 39 1 49 1 17 1-7 1 18 1-21 1-34 1-4 1 17 1 26 1-14 1-8 1 19 1 25 1-18 1-15 1-23 1-11 1 9 1 9 1 6 1-5 1-4 1-3 1 5 1-3 1-22 1-50 1-42 1-68 1-79 1-93 1-90 1-38 1 38 1 17 1 50 1 39 1 30 1 30 1 31 1 33 1 14 1 6 1 5 1 13 1 18 1 10 1-1 1-3 1 14 1 22 1 14 1 6 1 19 1 22 1 11 1 9 1 4 1-5 1-7 1 13 1 28 1 21 1-3 1-16 1-20 1-10 1-9 1-2 1 16 1 23 1-1 1-14 1-6 1 15 1 18 1-6 1-17 1-12 1-2 1 0 1 7 1 10 1-7 1-3 1 0 1 3 1 31 1 32 1-40 1-14 1-11 1 4 1 16 1 29 1-11 1-11 1-1 1-5 1 8 1 14 1-13 1-11 1 12 1 12 1 4 1 8 1-7 1-20 1-11 1-7 1-10 1 12 1 25 1 4 1-2 1 33 1-29 1-7 1 8 1-2 1-21 1-28 1-3 1 35 1 14 1-25 1-1 1 12 1 8 1-5 1-8 1 3 1 22 1-1 1-9 1 21 1 9 1-22 1-35 1-27 1 10 1 27 1 20 1 2 1-9 1 0 1-23 1-38 1-56 1-100 1-76 1-64 1-58 1-35 1 43 1 32 1 31 1 27 1 28 1 42 1 37 1 13 1-11 1-4 1 8 1 24 1 31 1 15 1-11 1-6 1 25 1 41 1 29 1 1 1-9 1-5 1 3 1 5 1 13 1 14 1 19 1 14 1-13 1-20 1 6 1 40 1 20 1-11 1-15 1-21 1-5 1 34 1 12 1-18 1 24 1-44 1-23 1 28 1 28 1 4 1-8 1-7 1 1 1 0 1-9 1-7 1 12 1 21 1 1 1 13 1-34 1-18 1 1 1 0 1-38 1-29 1 21 1 48 1 35 1 4 1-18 1-24 1 1 1 4 1-10 1 1 1 14 1 2 1-15 1-5 1 11 1-14 1-37 1-1 1 48 1 11 1-17 1 12 1 14 1 25 1-28 1-20 1 9 1 18 1-2 1-14 1 9 1 21 1 2 1-7 1 14 1-14 1-9 1-9 1-7 1-14 1 0 1 18 1 24 1-2 1-5 1 16 1-17 1-31 1-19 1-8 1-11 1-20 1-4 1 5 1-23 1-73 1-62 1-64 1-60 1-30 1 30 1 16 1 35 1 34 1 26 1 14 1 8 1 20 1 11 1 6 1 10 1 15 1 15 1 10 1 7 1 5 1 19 1 30 1 38 1 13 1-11 1-13 1-24 1-20 1 9 1 30 1 33 1 16 1-3 1 6 1 21 1 14 1 0 1-10 1-11 1 7 1 13 1 0 1-9 1-12 1-21 1-7 1-14 1-7 1 38 1 29 1-34 1-5 1 5 1-6 1 7 1 11 1-11 1-18 1 0 1 40 1-14 1-32 1 3 1 23 1 19 1 11 1-6 1-16 1-15 1 5 1 20 1-6 1-19 1-11 1-9 1-4 1 12 1 24 1-21 1-15 1 31 1 32 1-16 1-11 1 10 1-3 1-38 1-14 1 15 1 26 1 21 1-1 1-1 1-14 1-20 1 1 1 27 1-2 1-10 1 4 1 3 1 2 1 3 1 8 1 11 1-10 1-12 1-2 1 2 1 5 1 5 1-1 1-2 1-13 1 10 1 12 1-3 1-25 1-34 1-32 1-41 1-74 1-63 1-72 1-70 1-37 1 33 1 36 1 45 1 37 1 23 1 27 1 29 1 30 1 17 1 5 1 10 1 20 1 22 1 15 1 9 1 3 1-4 1 7 1 27 1-11 1-31 1-18 1 13 1 32 1 13 1 1 1-3 1-7 1 7 1 7 1 3 1 16 1 32 1 8 1-10 1-1 1-10 1-13 1-21 1-7 1 22 1 27 1 21 1-35 1-28 1 2 1 10 1 6 1 15 1 11 1-7 1-12 1 4 1-3 1-17 1-1 1 25 1 20 1-27 1-18 1-6 1 1 1 4 1 10 1 19 1 13 1-1 1 7 1-29 1-18 1 26 1 25 1 2 1-37 1-9 1 26 1-4 1-10 1-7 1-11 1-7 1 2 1 5 1-5 1 0 1 16 1 4 1-12 1-1 1 6 1 12 1 14 1-9 1-2 1 17 1-22 1-10 1 22 1 5 1-10 1 9 1 19 1-15 1 10 1-28 1-37 1 20 1 40 1 5 1-16 1-20 1-7 1-4 1-8 1-2" fill="none" stroke="#0000ff" stroke-width="1.3" stroke-linejoin="round" vector-effect="non-scaling-stroke"/></g>
<rect x="91.90" y="1106.50" width="683.70" height="65.90" fill="none" stroke="#ff0000" stroke-width="2"/>
<g fill="#262626" stroke="#262626" stroke-width="0.3">
<text x="91.30" y="1202.80" font-size="22" text-anchor="middle" font-family='"Liberation Sans", Arial, Helvetica, sans-serif'>0</text>
<text x="174.71" y="1202.80" font-size="22" text-anchor="middle" font-family='"Liberation Sans", Arial, Helvetica, sans-serif'>0.1</text>
<text x="258.12" y="1202.80" font-size="22" text-anchor="middle" font-family='"Liberation Sans", Arial, Helvetica, sans-serif'>0.2</text>
<text x="341.53" y="1202.80" font-size="22" text-anchor="middle" font-family='"Liberation Sans", Arial, Helvetica, sans-serif'>0.3</text>
<text x="424.93" y="1202.80" font-size="22" text-anchor="middle" font-family='"Liberation Sans", Arial, Helvetica, sans-serif'>0.4</text>
<text x="508.34" y="1202.80" font-size="22" text-anchor="middle" font-family='"Liberation Sans", Arial, Helvetica, sans-serif'>0.5</text>
<text x="591.75" y="1202.80" font-size="22" text-anchor="middle" font-family='"Liberation Sans", Arial, Helvetica, sans-serif'>0.6</text>
<text x="675.16" y="1202.80" font-size="22" text-anchor="middle" font-family='"Liberation Sans", Arial, Helvetica, sans-serif'>0.7</text>
<text x="758.57" y="1202.80" font-size="22" text-anchor="middle" font-family='"Liberation Sans", Arial, Helvetica, sans-serif'>0.8</text>
<text x="83.40" y="1115.80" font-size="22" text-anchor="end" font-family='"Liberation Sans", Arial, Helvetica, sans-serif'>2</text>
<text x="83.40" y="1050.20" font-size="22" text-anchor="end" font-family='"Liberation Sans", Arial, Helvetica, sans-serif'>4</text>
<text x="83.40" y="984.60" font-size="22" text-anchor="end" font-family='"Liberation Sans", Arial, Helvetica, sans-serif'>6</text>
<text x="83.40" y="919.00" font-size="22" text-anchor="end" font-family='"Liberation Sans", Arial, Helvetica, sans-serif'>8</text>
<text x="432.55" y="1236.00" font-size="24.2" text-anchor="middle" font-family='"Liberation Sans", Arial, Helvetica, sans-serif'>Time[S]</text>
<text transform="translate(58.40 1011.45) rotate(-90)" font-size="24.3" text-anchor="middle" textLength="174.7" lengthAdjust="spacing" font-family='"Liberation Sans", Arial, Helvetica, sans-serif'>Amplitude[m/s<tspan dy="-11" dx="0.4" font-size="19.4">2</tspan><tspan dy="11" dx="0.6">]</tspan></text>
</g>
<rect x="259.20" y="859.10" width="509.20" height="43.10" fill="#fff" stroke="#262626" stroke-width="1.1"/>
<path d="M266.00 880.60H337.00" stroke="#0000ff" stroke-width="1.1" fill="none"/>
<text x="342.70" y="891.00" font-size="27.5" text-anchor="start" font-family='"Liberation Sans", Arial, Helvetica, sans-serif' textLength="416.0" lengthAdjust="spacing" fill="#000" stroke="#000" stroke-width="0.3">The envelope of Hilbert tarnsform</text>
<text x="-0.90" y="879.90" font-family='"Liberation Serif", "Times New Roman", serif' fill="#000" stroke="#000" stroke-width="0.15" font-size="41"><tspan font-size="42.5">(</tspan><tspan dy="-0.5" dx="0.3" stroke-width="0.3">c</tspan><tspan font-size="42.5" dy="0.5" dx="0.3">)</tspan></text>
<clipPath id="ccR"><rect x="902.00" y="849.70" width="684.80" height="323.90"/></clipPath>
<g stroke="#262626" stroke-width="1.3" fill="none" stroke-linecap="butt">
<rect x="902.60" y="850.30" width="683.60" height="322.70"/>
<path d="M902.60 1173.00v-6.90M902.60 850.30v6.90M986.00 1173.00v-6.90M986.00 850.30v6.90M1069.39 1173.00v-6.90M1069.39 850.30v6.90M1152.79 1173.00v-6.90M1152.79 850.30v6.90M1236.19 1173.00v-6.90M1236.19 850.30v6.90M1319.58 1173.00v-6.90M1319.58 850.30v6.90M1402.98 1173.00v-6.90M1402.98 850.30v6.90M1486.37 1173.00v-6.90M1486.37 850.30v6.90M1569.77 1173.00v-6.90M1569.77 850.30v6.90M902.60 1123.50h6.90M1586.20 1123.50h-6.90M902.60 1072.90h6.90M1586.20 1072.90h-6.90M902.60 1022.30h6.90M1586.20 1022.30h-6.90M902.60 971.70h6.90M1586.20 971.70h-6.90M902.60 921.10h6.90M1586.20 921.10h-6.90M902.60 870.50h6.90M1586.20 870.50h-6.90"/>
</g>
<g clip-path="url(#ccR)"><path transform="translate(902.600 850.30) scale(0.068358 0.5)" d="M0 258l1-62 1-47 1-27 1-8 1 8 1 5 1 16 1 19 1 20 1 25 1 23 1 23 1 20 1 27 1 23 1 21 1 18 1 15 1 13 1 11 1 9 1 8 1 7 1 6 1 6 1 5 1 4 1 3 1 3 1 5 1 6 1 7 1 8 1 10 1 15 1 17 1 14 1 2 1 0 1 0 1 2 1 6 1 12 1 12 1 11 1 5 1 3 1 4 1 1 1-1 1-1 1 0 1 0 1-1 1 0 1 1 1 3 1 2 1 0 1 0 1 3 1 5 1 7 1 8 1 7 1-1 1-5 1-3 1-1 1-1 1 3 1 4 1 6 1 4 1 0 1-1 1 0 1 1 1 1 1 2 1-3 1-9 1-10 1-8 1-4 1-1 1-1 1 1 1 3 1 4 1 4 1 3 1 3 1 2 1 3 1 5 1 0 1 3 1 6 1 1 1 2 1 2 1 2 1-1 1-1 1-3 1-1 1 3 1 1 1-3 1-5 1-1 1 2 1-7 1-9 1-17 1-28 1-44 1-59 1-71 1-76 1-77 1-5 1-42 1-25 1-7 1 7 1 5 1 14 1 17 1 18 1 23 1 21 1-18 1 30 1 26 1 22 1 19 1 15 1 11 1 11 1 8 1 8 1 10 1 13 1 14 1 14 1 13 1 9 1 11 1 12 1 12 1 10 1 3 1 3 1 3 1 4 1 5 1 0 1 1 1 5 1 1 1 6 1 8 1 11 1 8 1-3 1-3 1 0 1-1 1 0 1 2 1 5 1 8 1 9 1 9 1 1 1 1 1 1 1 3 1 3 1-1 1 0 1-2 1-1 1 1 1 3 1 6 1 4 1-1 1 0 1 1 1 1 1 0 1-2 1-4 1-4 1-2 1-1 1-1 1 0 1 3 1 2 1 5 1 5 1 3 1 6 1 4 1 1 1-4 1-3 1-4 1-6 1-6 1-3 1-3 1-2 1-2 1-2 1-6 1-6 1-4 1 0 1 4 1 4 1 2 1 9 1 14 1 16 1-9 1-16 1-11 1-4 1 1 1-4 1 1 1-2 1-12 1-29 1-44 1-56 1-66 1-70 1-71 1-5 1-43 1-24 1-8 1 8 1 4 1 15 1 17 1 18 1 22 1 22 1 53 1 20 1 16 1 15 1 10 1 7 1 5 1 5 1 4 1 4 1 4 1 5 1 6 1 8 1 6 1 8 1 9 1 8 1 8 1 11 1 12 1 11 1 12 1 11 1 12 1 5 1-3 1-2 1 1 1 5 1 8 1 8 1 10 1 9 1-2 1-3 1-3 1-1 1 2 1 3 1 5 1 7 1 5 1 4 1 4 1 3 1 2 1-1 1-5 1-9 1-8 1-5 1 1 1 5 1 0 1-1 1 4 1 9 1 11 1 11 1 12 1 1 1-7 1-6 1-4 1-2 1-8 1-4 1-1 1 1 1 1 1 2 1 7 1 3 1 2 1 5 1 7 1 2 1-2 1-3 1-1 1 0 1 1 1 3 1 0 1 2 1 2 1 4 1 2 1-7 1-7 1-7 1-2 1 2 1 8 1 10 1 2 1-11 1-11 1-7 1-3 1 2 1 6 1 5 1-8 1-25 1-45 1-56 1-69 1-72 1-75 1-37 1-44 1-25 1-7 1 7 1 5 1 15 1 17 1 19 1 22 1 22 1 34 1 15 1 12 1 11 1 9 1 7 1 8 1 10 1 12 1 13 1 14 1 14 1 15 1 13 1 12 1 10 1 9 1 8 1 9 1 10 1 10 1 8 1 7 1 6 1 5 1 2 1-1 1 2 1 5 1 4 1 2 1 4 1 6 1 7 1 3 1 0 1 3 1 6 1 3 1 7 1 7 1 1 1-1 1 0 1 3 1-2 1-3 1-2 1 0 1 2 1 2 1 4 1 6 1 7 1-5 1-4 1-2 1-1 1-2 1-3 1-3 1-3 1-6 1-10 1-7 1-3 1 0 1 3 1 5 1 7 1 8 1 6 1 7 1 6 1 5 1 4 1 1 1-3 1-2 1-1 1-5 1-4 1-1 1 4 1-2 1 0 1 3 1 7 1 6 1 3 1-1 1-1 1 1 1 0 1-2 1-1 1 1 1 3 1 6 1 2 1-4 1-2 1 0 1-8 1-18 1-28 1-37 1-48 1-58 1-64 1-68 1-76 1-44 1-25 1-8 1 8 1 4 1 15 1 18 1 19 1 23 1 22 1 21 1-13 1 21 1 19 1 18 1 15 1 16 1 16 1 10 1 9 1 10 1 9 1 10 1 12 1 14 1 14 1 14 1 13 1 11 1 10 1 7 1 3 1 3 1 6 1 7 1 8 1 7 1 6 1 6 1 4 1 4 1 7 1 6 1 1 1-1 1-3 1-3 1 0 1 5 1 5 1 5 1 7 1 9 1-4 1-4 1-1 1 1 1 4 1 5 1 0 1 2 1 2 1-2 1-3 1-4 1-2 1 1 1 1 1 2 1 3 1 5 1 6 1 8 1 5 1 1 1 2 1 2 1-2 1-4 1-5 1-2 1-5 1-6 1-2 1 1 1 3 1 3 1-1 1-2 1-3 1-1 1 1 1 4 1 4 1 3 1 3 1 4 1 5 1 3 1 0 1 1 1 2 1-1 1-2 1-4 1 0 1 3 1 5 1-6 1-4 1-2 1-2 1 0 1-4 1-12 1-22 1-35 1-48 1-53 1-56 1-60 1-77 1-41 1-23 1-7 1 7 1 4 1 14 1 16 1 17 1 22 1 93 1 23 1 19 1 16 1 14 1 11 1 9 1 7 1 6 1 4 1 3 1 3 1 2 1 1 1 2 1 1 1 2 1 2 1 4 1 6 1 3 1 5 1 6 1 10 1 11 1 7 1 9 1 10 1 7 1 7 1 8 1 4 1 0 1-4 1-2 1 0 1-3 1-1 1 1 1-3 1 0 1 3 1 3 1 3 1 4 1 7 1 13 1 15 1-4 1-8 1-5 1-1 1-1 1-1 1 3 1 6 1 8 1 7 1 2 1-2 1-4 1-3 1-3 1-2 1 1 1 4 1 8 1 10 1-2 1-7 1-7 1-5 1-1 1 2 1 2 1-6 1-5 1-2 1-6 1-6 1-2 1 1 1 6 1 12 1 15 1 17 1-14 1-16 1-13 1-9 1-3 1 2 1 6 1 7 1 13 1 16 1 6 1-16 1-14 1-11 1-5 1-3 1-1 1 2 1-3 1-15 1-27 1-40 1-52 1-59 1-62 1-64 1-13 1-41 1-24 1-7 1 7 1 5 1 14 1 16 1 18 1 22 1-2 1 26 1 24 1 22 1 20 1 19 1 17 1 15 1 12 1 11 1 10 1 9 1 9 1 7 1 7 1 6 1 6 1 6 1 8 1 9 1 10 1 10 1 11 1 12 1 10 1 2 1 0 1 5 1 7 1 8 1 8 1 4 1-3 1-3 1 0 1-2 1-3 1 1 1 7 1 12 1-3 1-11 1-13 1-10 1-7 1-2 1 2 1 5 1 6 1 8 1 9 1 12 1 13 1 11 1 5 1-3 1-1 1 0 1 0 1-2 1-2 1-1 1 2 1-2 1 1 1 1 1 0 1 0 1 2 1-5 1-4 1-2 1-1 1 0 1-2 1-1 1-1 1-2 1-2 1-1 1-1 1-3 1-2 1-1 1-1 1 3 1 5 1 5 1 7 1 7 1 5 1 3 1-1 1-4 1-5 1-7 1-7 1-5 1-2 1 2 1 5 1 8 1 8 1 5 1-2 1-16 1-30 1-40 1-50 1-52 1-51 1-58 1-90 1-43 1-25 1-7 1 7 1 5 1 14 1 17 1 19 1 23 1 21 1 5 1 23 1 22 1 21 1 17 1 14 1 12 1 10 1 7 1 6 1 9 1 9 1 7 1 5 1 4 1 3 1 3 1 4 1 6 1 8 1 8 1 11 1 12 1 14 1 15 1 14 1 15 1 14 1 2 1-6 1-5 1-4 1-2 1-8 1-5 1 0 1 6 1 9 1 10 1 12 1 13 1 13 1 9 1-6 1-3 1 1 1 5 1 7 1 6 1-3 1-3 1 1 1-4 1-3 1 0 1 2 1 3 1 3 1-1 1-3 1-5 1-5 1-4 1-2 1-3 1-3 1-1 1 2 1 4 1 3 1 5 1 7 1 5 1 7 1 7 1 7 1 7 1 0 1-5 1-6 1-4 1-3 1-3 1 0 1 2 1 5 1 5 1 5 1-4 1-3 1-2 1-1 1-1 1 1 1-1 1 0 1 2 1 1 1-6 1-7 1-6 1-2 1 1 1-2 1-16 1-31 1-41 1-49 1-57 1-62 1-64 1-33 1-42 1-24 1-7 1 7 1 5 1 14 1 16 1 18 1 22 1 3 1 23 1 20 1 18 1 16 1 16 1 16 1 17 1 16 1 16 1 14 1 14 1 12 1 11 1 10 1 10 1 11 1 10 1 8 1 5 1 5 1 3 1 2 1 5 1 4 1 0 1 1 1 1 1 4 1 3 1 3 1 2 1 1 1-1 1-1 1-1 1 0 1 3 1 7 1 9 1 10 1 11 1 10 1-3 1-7 1-6 1-3 1 1 1 2 1 1 1 1 1 4 1 5 1 7 1 8 1 9 1-1 1-7 1-4 1 0 1 3 1 5 1 5 1 5 1 0 1-3 1-2 1 0 1-1 1-1 1-4 1-9 1-9 1-6 1-5 1-4 1 1 1 3 1 7 1 7 1 7 1 3 1 0 1-3 1-3 1-5 1-7 1-13 1-10 1-6 1-1 1 4 1 9 1 14 1 16 1 20 1-11 1-16 1-13 1-11 1-8 1-3 1 1 1 3 1-1 1-11 1-24 1-37 1-51 1-68 1-72 1-69 1-15 1-44 1-25 1-8 1 8 1 5 1 15 1 17 1 19 1 23 1 22 1 20 1-8 1 24 1 21 1 19 1 15 1 14 1 15 1 12 1 9 1 9 1 9 1 8 1 10 1 12 1 15 1 16 1 7 1 4 1 4 1 4 1 4 1 5 1 4 1 1 1 2 1 2 1 3 1 3 1 4 1 5 1 7 1 10 1 15 1 14 1 10 1-2 1 0 1 3 1 2 1-3 1-2 1 0 1 2 1 6 1 10 1 13 1 5 1-14 1-13 1-11 1-9 1-4 1 2 1 9 1 15 1 14 1 16 1 1 1-10 1-6 1-3 1 1 1 4 1 5 1 6 1 5 1 2 1 0 1 0 1-1 1-1 1-4 1-7 1-6 1-2 1 1 1 3 1 1 1 3 1 3 1 2 1 1 1 0 1-2 1-2 1-3 1-1 1-2 1-6 1-5 1-2 1 2 1 2 1-3 1 1 1 4 1 2 1 2 1 3 1 6 1 7 1 7 1-7 1-17 1-31 1-43 1-52 1-59 1-63 1-62 1-49 1-41 1-25 1-7 1 7 1 5 1 14 1 16 1 18 1 22 1 21 1 37 1 19 1 16 1 12 1 10 1 9 1 9 1 10 1 11 1 11 1 10 1 10 1 8 1 6 1 6 1 6 1 8 1 11 1 12 1 12 1 9 1 9 1 7 1 1 1 2 1 4 1 8 1 3 1-1 1-1 1 0 1 1 1 4 1 5 1 5 1 5 1 6 1 6 1 7 1 8 1 4 1 2 1-1 1 1 1 2 1 3 1 4 1 2 1 0 1-2 1 0 1 0 1 0 1 0 1 2 1 3 1 5 1 5 1 3 1-5 1-5 1-3 1 0 1 2 1 4 1 4 1 5 1-3 1-3 1-2 1-1 1-1 1 0 1 2 1 2 1 1 1-1 1 1 1 1 1-1 1 1 1 0 1 2 1 3 1 2 1 0 1-2 1-2 1-3 1-4 1-3 1-3 1 0 1 2 1 2 1 4 1 2 1-1 1 0 1 1 1 1 1 0 1-1 1-7 1-19 1-29 1-39 1-51 1-61 1-67 1-68 1-53 1-42 1-25 1-7 1 7 1 5 1 14 1 17 1 18 1 23 1 21 1-12 1 28 1 25 1 24 1 20 1 18 1 14 1 12 1 11 1 10 1 12 1 10 1 9 1 7 1 7 1 6 1 5 1 6 1 7 1 9 1 9 1 8 1 7 1 5 1 4 1 3 1 2 1 4 1 3 1 4 1 6 1 6 1 6 1 3 1 0 1 3 1 1 1 4 1 7 1 8 1 6 1 3 1 0 1 0 1 1 1 3 1 4 1 4 1 7 1 0 1-6 1-5 1-4 1-3 1 1 1 4 1 10 1 13 1 1 1-6 1-2 1 4 1 6 1 6 1-8 1-7 1-5 1-3 1 1 1 4 1 2 1 1 1 3 1 6 1 5 1 5 1-4 1-3 1-1 1 1 1 1 1 2 1 0 1 0 1 2 1 2 1-4 1-3 1-2 1-2 1-1 1-3 1-3 1 0 1 3 1 3 1 4 1 5 1-7 1-6 1-5 1-5 1-4 1-9 1-20 1-31 1-46 1-59 1-70 1-77 1-80 1 21 1-42 1-25 1-7 1 7 1 5 1 14 1 17 1 18 1 22 1 22 1-48 1 28 1 26 1 23 1 20 1 18 1 16 1 15 1 14 1 11 1 11 1 10 1 11 1 12 1 11 1 10 1 11 1 14 1 16 1 17 1 0 1 1 1 1 1 2 1 3 1 5 1 6 1 7 1 6 1 5 1 5 1 3 1 2 1 3 1 5 1 3 1 5 1 7 1 9 1 6 1 1 1-4 1-3 1 0 1 4 1 7 1 5 1 5 1 4 1-9 1-6 1-3 1 2 1 4 1 5 1 2 1 1 1 2 1 4 1 5 1 6 1-2 1-5 1-3 1-3 1-1 1-3 1-3 1 0 1 2 1 5 1 1 1 0 1 1 1 2 1 2 1 5 1 0 1 0 1 0 1-1 1-2 1 1 1 0 1 2 1 6 1-5 1-3 1-7 1-5 1-3 1-2 1-3 1-2 1-1 1 4 1 6 1 10 1 9 1 6 1-10 1-9 1-9 1-14 1-21 1-29 1-39 1-51 1-65 1-74 1-73 1-17 1-44 1-25 1-7 1 7 1 5 1 15 1 17 1 19 1 22 1 22 1 19 1 21 1 19 1 17 1 15 1 12 1 10 1 6 1 4 1 5 1 7 1 8 1 10 1 11 1 14 1 17 1 18 1 12 1 12 1 11 1 8 1 6 1 4 1 4 1 3 1 1 1 2 1 5 1 7 1 9 1 9 1 7 1-4 1-1 1 1 1-3 1 1 1 3 1 2 1 3 1 4 1 5 1 5 1 5 1 3 1 2 1 3 1 5 1 5 1 3 1 5 1 2 1 3 1 1 1-1 1-2 1-1 1-1 1 0 1 0 1-1 1 0 1 1 1 0 1-2 1-1 1-3 1 0 1 3 1 7 1 4 1 5 1-3 1-5 1-3 1-2 1-5 1 0 1 4 1-1 1 0 1 2 1 5 1 3 1 4 1 4 1-5 1-8 1-10 1-10 1-11 1-9 1-6 1-8 1-2 1 4 1 9 1 12 1 14 1 14 1 13 1-5 1-6 1-9 1-19 1-32 1-55 1-70 1-72 1-74 1-43 1-61 1-48 1-28 1-8 1 8 1 5 1 16 1 19 1 21 1 25 1 24 1 22 1 21 1-11 1 26 1 25 1 22 1 19 1 18 1 15 1 14 1 13 1 13 1 11 1 11 1 13 1 13 1 15 1 14 1 13 1 7 1 3 1 1 1-1 1-1 1 0 1 3 1 5 1 6 1 9 1 8 1 9 1 9 1 8 1 2 1 4 1 6 1 5 1 2 1 0 1-2 1-1 1-2 1-3 1-5 1-5 1-6 1-3 1-1 1 1 1 2 1 0 1 1 1 3 1 6 1 10 1 14 1 15 1 11 1-7 1-13 1-12 1-9 1-6 1-3 1-1 1-3 1-2 1-3 1-2 1 2 1-1 1 0 1 4 1 8 1 8 1 9 1 6 1 7 1 9 1 8 1 8 1-1 1-4 1-3 1 0 1 2 1-4 1-5 1-2 1 1 1 0 1-2 1-2 1-3 1-3 1-3 1-1 1 1 1 2 1 6 1 7 1 7 1 8 1-5 1-21 1-28 1-31 1-36 1-37 1-38 1-46 1-155 1-42 1-24 1-8 1 8 1 4 1 15 1 16 1 19 1 22 1 21 1 46 1 20 1 19 1 18 1 15 1 12 1 11 1 9 1 8 1 7 1 8 1 7 1 7 1 7 1 7 1 6 1 6 1 4 1 2 1 4 1 6 1 6 1 7 1 8 1 10 1 5 1 0 1 0 1 0 1 1 1 0 1-3 1 0 1-2 1 2 1 4 1 6 1 5 1 5 1 9 1 12 1 10 1 8 1 8 1 6 1 0 1 2 1 3 1 1 1 4 1 2 1-2 1-3 1-1 1-1 1-2 1 1 1-3 1 0 1 1 1-2 1 3 1 7 1 8 1 7 1 0 1-6 1-5 1-2 1-1 1 1 1 2 1 6 1 7 1 5 1-3 1-2 1-5 1-2 1 0 1 2 1 3 1 2 1 2 1-2 1-1 1-4 1-5 1-4 1-3 1-2 1-3 1-2 1-2 1 0 1-2 1-1 1 0 1 4 1 4 1 4 1 7 1 8 1-6 1-22 1-30 1-40 1-42 1-42 1-40 1-39 1-97 1-38 1-23 1-7 1 7 1 4 1 13 1 16 1 16 1 83 1 13 1 12 1 11 1 10 1 10 1 10 1 9 1 9 1 10 1 10 1 10 1 10 1 9 1 11 1 3 1-1 1-2 1-2 1-2 1 1 1 2 1 5 1 4 1 6 1 8 1 9 1 8 1 6 1 7 1 9 1 13 1 2 1-2 1-4 1-3 1-1 1-1 1 1 1 7 1 6 1 4 1 4 1 4 1 3 1 1 1-5 1-2 1 1 1 5 1 6 1 7 1 8 1 9 1 10 1-1 1-5 1-2 1 1 1 3 1 2 1 1 1-3 1-5 1-6 1-5 1-3 1-1 1-1 1-2 1-1 1 0 1 1 1 2 1 3 1 5 1 4 1 3 1 4 1 5 1 7 1 9 1-2 1-9 1-7 1-4 1-3 1-4 1-5 1-9 1-8 1-3 1 1 1 4 1 4 1 0 1 4 1 6 1 8 1 8 1 6 1 2 1 0 1-3 1-3 1-8 1-16 1-27 1-42 1-63 1-70 1-74 1-50 1-59 1-45 1-26 1-8 1 8 1 5 1 15 1 18 1 19 1 24 1 23 1 21 1 10 1 16 1 17 1 18 1 17 1 16 1 16 1 15 1 15 1 15 1 13 1 12 1 10 1 9 1 8 1 8 1 6 1 6 1 5 1 4 1 4 1 4 1 5 1 5 1 5 1 5 1 6 1 9 1 5 1-3 1-2 1 1 1 3 1 5 1 5 1 6 1 1 1 2 1 5 1 3 1-2 1 2 1 6 1 9 1 2 1 3 1 5 1 6 1 4 1 2 1 1 1 0 1 1 1 3 1 2 1 2 1-5 1-5 1-5 1-2 1-1 1 1 1-1 1 4 1 7 1 11 1 10 1-7 1-8 1-5 1-2 1 0 1 1 1 0 1-1 1-1 1 0 1 4 1 5 1 6 1 4 1 3 1 3 1-1 1-5 1-7 1-9 1-10 1-8 1-8 1-6 1-5 1-1 1 3 1 8 1 13 1 18 1 12 1-11 1-17 1-11 1-6 1-9 1-16 1-22 1-28 1-33 1-40 1-45 1-51 1-94 1-42 1-24 1-7 1 7 1 5 1 14 1 16 1 18 1 22 1 21 1 30 1 17 1 17 1 16 1 15 1 11 1 11 1 9 1 9 1 8 1 9 1 8 1 9 1 8 1 10 1 9 1 11 1 11 1 10 1 9 1 10 1 8 1 8 1 7 1 5 1 2 1 1 1 1 1 3 1 4 1 3 1 2 1 1 1-2 1-4 1-7 1-9 1-9 1-9 1-5 1-1 1 2 1 5 1 10 1 14 1 17 1 17 1 17 1 2 1 3 1 3 1 1 1-3 1-7 1-5 1-1 1 3 1 6 1 9 1 8 1-3 1-10 1-5 1 1 1 5 1 7 1 6 1 7 1 2 1-4 1-4 1-6 1-3 1-1 1 2 1 6 1 4 1 4 1-1 1-5 1-4 1-6 1-7 1-3 1 3 1 4 1 8 1 10 1-12 1-11 1-11 1-6 1-1 1-1 1 1 1 5 1 9 1 5 1 5 1 6 1 7 1 5 1 3 1-11 1-24 1-35 1-45 1-56 1-62 1-64 1-65 1-40 1-42 1-25 1-8 1 8 1 4 1 15 1 17 1 18 1 23 1 21 1-4 1 16 1 15 1 16 1 15 1 13 1 15 1 14 1 15 1 14 1 14 1 15 1 15 1 16 1 11 1 8 1 7 1 6 1 7 1 7 1 4 1 5 1 7 1 8 1 7 1 7 1 6 1 5 1 4 1 3 1 4 1 4 1 6 1 10 1 4 1-10 1-9 1-8 1-5 1-3 1 0 1 3 1 8 1 9 1 12 1 11 1 10 1 7 1 5 1 3 1-1 1-3 1-4 1-6 1-6 1-5 1-2 1 2 1 6 1 7 1 7 1 8 1 2 1-1 1 0 1-1 1-3 1-6 1-8 1-6 1-4 1 1 1 7 1 10 1 15 1 12 1-12 1-6 1-2 1-1 1 5 1 1 1 3 1-1 1-2 1 0 1 0 1 2 1 3 1 1 1-1 1 1 1 1 1 2 1 1 1 2 1 1 1 0 1-1 1 0 1 1 1-1 1-1 1-9 1-21 1-35 1-48 1-62 1-71 1-76 1-77 1 26 1-40 1-23 1-7 1 7 1 4 1 14 1 16 1 17 1 21 1-46 1 22 1 19 1 18 1 16 1 16 1 16 1 14 1 14 1 14 1 14 1 15 1 14 1 12 1 12 1 11 1 11 1 12 1 13 1 13 1 13 1 1 1-3 1-3 1-1 1 3 1 4 1 5 1 9 1 12 1 6 1 0 1 2 1 3 1 6 1 7 1 10 1 9 1 3 1 3 1 4 1 1 1-1 1-2 1-2 1-1 1-1 1-2 1-3 1-5 1-3 1-4 1-3 1-1 1 3 1 6 1 7 1 8 1 8 1 9 1 10 1 11 1 3 1-6 1-3 1 3 1 1 1-5 1-4 1-4 1-3 1-4 1-3 1-3 1-4 1-7 1-5 1-1 1 1 1 1 1 1 1 2 1 5 1 10 1 11 1 11 1 7 1 2 1-2 1-5 1-6 1-5 1-4 1-2 1-4 1-2 1 0 1 2 1 2 1 4 1 5 1 4 1 2 1 0 1-6 1-15 1-25 1-37 1-51 1-61 1-63 1-62 1-48 1-40 1-24 1-7 1 7 1 4 1 14 1 16 1 18 1 21 1 20 1 24 1 22 1 22 1 21 1 19 1 15 1 13 1 10 1 9 1 7 1 7 1 7 1 5 1 6 1 7 1 6 1 8 1 7 1 6 1 6 1 4 1 5 1 3 1 3 1 2 1 3 1 3 1 4 1 6 1 8 1 8 1 6 1 5 1 4 1-1 1-1 1-1 1-4 1-1 1 3 1 4 1 5 1 3 1 4 1 4 1 5 1 5 1 2 1 1 1 3 1 5 1 7 1 2 1-7 1-5 1-5 1-4 1-3 1-1 1 3 1 8 1 5 1 5 1 5 1 3 1 0 1 5 1 5 1-1 1-2 1-4 1-3 1-3 1-8 1-5 1-4 1-3 1-2 1-1 1-1 1 3 1 4 1 0 1-1 1-1 1-4 1-6 1-8 1-7 1-3 1 2 1 3 1 6 1 12 1 13 1 12 1 6 1 2 1-2 1-3 1-4 1-9 1-8 1-8 1-13 1-23 1-31 1-40 1-48 1-54 1-53 1-52 1-36 1-22 1-6 1 6 1 4 1 13 1 15 1 16 1 8 1 26 1 26 1 25 1 20 1 18 1 15 1 14 1 12 1 13 1 13 1 13 1 14 1 13 1 5 1-2 1 0 1 2 1 5 1 7 1 9 1 6 1 6 1 1 1 0 1 2 1 4 1-1 1-2 1 3 1 3 1 6 1 8 1 10 1 6 1-1 1-1 1 0 1 4 1 8 1 8 1-3 1-4 1-5 1-3 1-1 1 0 1-1 1 2 1 7 1 15 1 11 1-7 1-13 1-7 1-7 1-5 1-5 1-1 1 3 1 9 1 14 1 15 1 13 1 8 1-10 1-6 1-4 1-4 1-3 1 0 1 0 1 1 1 1 1 0 1 1 1 1 1 1 1 2 1 1 1 1 1 0 1 1 1 0 1 0 1 0 1 0 1-1 1-1 1-2 1-1 1 3 1 5 1 6 1 6 1-9 1-6 1-3 1-4 1-2 1 2 1 3 1 1 1-2 1-3 1-6 1-14 1-24 1-38 1-47 1-55 1-62 1-63 1-56 1-42 1-24 1-7 1 7 1 5 1 14 1 16 1 19 1 22 1 20 1-21 1 10 1 11 1 13 1 13 1 14 1 17 1 17 1 17 1 15 1 14 1 12 1 12 1 11 1 13 1 13 1 11 1 4 1 4 1 5 1 6 1 7 1 9 1 10 1 6 1 7 1 8 1 8 1 6 1 3 1 0 1-1 1-1 1 3 1 7 1 8 1 9 1 10 1 11 1-5 1-7 1-6 1-7 1-4 1 1 1 6 1 6 1 6 1 8 1 9 1 11 1 7 1-3 1-7 1-1 1 3 1 4 1 6 1 5 1 4 1-5 1-1 1 0 1 1 1-3 1-2 1-1 1-1 1-4 1-5 1-5 1-8 1-6 1 1 1 5 1 3 1 6 1 9 1 11 1 8 1 3 1-4 1-4 1-7 1-7 1-3 1 0 1 2 1 2 1 0 1 0 1 0 1 2 1 4 1 5 1 4 1 3 1 3 1 2 1-1 1-4 1-4 1-6 1-10 1-20 1-30 1-42 1-51 1-58 1-62 1-70 1-42 1-42 1-25 1-7 1 7 1 5 1 14 1 17 1 18 1 22 1 22 1-10 1 22 1 18 1 17 1 13 1 11 1 12 1 11 1 11 1 11 1 13 1 14 1 17 1 19 1 21 1 10 1 8 1 6 1 6 1 9 1 8 1 12 1 13 1 10 1-4 1-2 1-2 1 0 1 1 1 5 1 9 1 11 1 11 1 4 1 0 1 3 1 4 1 5 1-3 1-3 1-3 1-3 1 1 1 6 1 10 1 10 1-5 1-9 1-7 1-5 1-5 1-2 1 1 1 6 1 9 1 10 1 2 1 3 1 3 1 5 1 5 1 5 1 5 1-3 1-7 1-7 1-9 1-8 1-7 1-4 1-2 1 0 1 3 1 7 1 7 1 7 1 6 1 5 1 6 1 8 1 4 1-6 1-3 1-2 1-2 1-1 1 1 1 4 1 7 1-1 1-10 1-12 1-10 1-8 1-4 1 1 1-1 1 7 1 12 1 14 1 14 1-9 1-11 1-16 1-25 1-33 1-40 1-50 1-59 1-64 1-63 1-10 1-40 1-24 1-7 1 7 1 5 1 13 1 16 1 18 1 21 1 0 1 22 1 21 1 19 1 16 1 15 1 16 1 16 1 15 1 16 1 16 1 15 1 12 1 11 1 11 1 10 1 10 1 8 1 6 1 6 1 7 1 6 1 3 1 1 1 0 1-1 1-1 1-2 1-1 1 0 1 0 1-1 1 1 1 2 1 5 1 2 1 4 1 5 1 8 1 10 1 11 1 12 1 9 1-3 1 0 1 2 1-1 1-1 1-1 1 1 1 2 1 4 1 5 1 3 1 5 1-2 1-2 1-4 1-6 1-5 1-4 1-2 1 0 1-1 1-1 1-1 1 1 1 3 1 5 1 7 1 7 1 8 1-3 1-4 1-2 1-3 1-3 1-3 1-3 1-3 1-4 1-4 1-4 1-4 1-4 1-3 1-3 1-1 1-1 1-1 1 1 1 5 1 8 1 6 1 6 1 9 1 12 1 12 1-3 1-15 1-15 1-11 1-7 1-5 1-6 1-11 1-20 1-29 1-36 1-44 1-46 1-50 1-78 1-40 1-23 1-7 1 7 1 4 1 14 1 16 1 17 1 21 1 77 1 15 1 11 1 8 1 6 1 4 1 4 1 5 1 6 1 7 1 10 1 11 1 13 1 14 1 14 1 14 1 5 1 4 1 3 1 2 1 3 1 1 1 3 1 4 1 4 1 7 1 8 1 12 1 9 1-1 1 0 1-1 1 1 1 4 1 5 1 2 1 4 1 6 1 7 1 6 1 5 1 3 1 1 1-6 1-9 1-8 1-6 1-6 1-3 1-3 1 2 1 5 1 9 1 10 1 14 1 15 1 13 1 10 1-6 1-6 1-7 1-4 1-1 1 0 1-3 1-1 1 2 1 3 1 4 1 5 1 6 1 8 1 4 1-4 1-6 1-3 1 1 1 2 1 2 1 2 1 2 1 2 1 2 1 1 1 2 1-3 1-3 1-3 1 0 1 1 1 0 1-1 1 3 1-2 1-1 1 2 1 4 1 4 1-7 1-2 1 2 1 4 1 3 1 0 1-7 1-21 1-33 1-42 1-51 1-57 1-58 1-55 1-71 1-41 1-25 1-7 1 7 1 5 1 14 1 16 1 19 1 22 1 21 1 27 1 16 1 14 1 11 1 9 1 6 1 4 1 5 1 6 1 9 1 11 1 13 1 15 1 16 1 10 1 13 1 12 1 13 1 15 1 7 1 7 1 6 1 8 1 10 1 11 1 10 1 8 1 1 1 1 1 3 1 4 1 5 1 3 1-3 1-2 1-2 1 1 1 2 1 5 1 8 1-2 1-3 1-3 1-4 1-7 1-3 1 2 1 5 1 7 1 8 1 10 1 11 1 8 1 1 1 0 1-1 1-5 1-6 1-8 1-6 1-5 1-7 1-4 1 0 1 6 1 7 1 6 1 4 1 5 1 5 1 4 1 3 1 2 1 4 1 5 1-7 1-5 1-4 1-2 1-5 1-8 1-5 1-1 1 3 1 5 1 4 1 4 1 3 1 3 1 3 1 3 1 4 1 5 1 6 1 4 1-5 1-5 1-3 1-3 1 0 1 1 1 3 1 1 1-6 1-17 1-24 1-36 1-45 1-53 1-59 1-59 1-97 1-43 1-25 1-7 1 7 1 5 1 14 1 17 1 19 1 22 1 22 1-1 1 20 1 21 1 21 1 20 1 19 1 17 1 15 1 15 1 12 1 12 1 10 1 11 1 6 1 5 1 5 1 6 1 5 1 6 1 6 1 9 1 10 1 3 1 5 1 10 1 9 1 4 1 3 1 3 1 5 1 5 1 8 1 6 1 5 1 2 1 0 1-4 1-6 1-5 1-4 1-1 1 2 1 5 1 7 1 12 1 11 1 11 1-8 1-5 1-1 1 1 1 4 1 8 1 8 1-1 1-9 1-8 1-2 1 3 1 2 1 6 1 9 1 9 1 6 1-8 1-7 1-4 1-2 1 0 1 2 1 5 1 5 1 3 1 6 1-5 1-3 1-4 1-10 1-9 1-9 1-9 1-7 1-6 1-3 1 2 1 8 1 9 1 11 1 9 1 7 1 6 1 7 1 3 1 1 1 2 1 3 1-4 1-5 1-5 1-6 1-11 1-11 1-10 1-13 1-19 1-27 1-34 1-43 1-55 1-61 1-68 1-39 1-44 1-26 1-7 1 7 1 5 1 15 1 17 1 19 1 24 1 21 1 21 1 9 1 20 1 20 1 20 1 17 1 17 1 17 1 14 1 11 1 10 1 9 1 8 1 9 1 10 1 10 1 8 1 5 1 5 1 6 1 9 1 10 1 10 1 0 1-1 1-1 1 0 1 1 1 0 1 4 1 7 1 8 1 8 1 10 1 11 1 9 1 0 1 1 1 1 1 3 1 6 1 2 1-3 1-1 1 0 1 1 1 2 1 6 1 7 1 6 1-8 1-7 1-7 1-5 1-2 1 2 1 7 1 8 1 10 1 9 1 3 1-4 1-2 1-4 1-2 1 3 1 6 1-1 1 0 1 1 1 3 1 4 1 3 1 0 1 2 1-2 1-4 1-1 1 0 1-2 1-5 1-1 1 1 1 5 1 6 1 6 1-6 1-6 1-3 1 0 1 3 1 4 1 5 1 2 1-7 1-7 1-8 1-9 1-6 1-1 1-3 1-1 1 4 1 2 1-4 1-23 1-55 1-66 1-69 1-70 1-49 1-59 1-45 1-27 1-8 1 8 1 5 1 16 1 17 1 20 1 24 1 23 1 22 1-26 1 21 1 19 1 18 1 16 1 16 1 15 1 16 1 14 1 14 1 14 1 14 1 15 1 14 1 13 1 10 1 8 1 9 1 10 1 9 1 7 1 4 1 4 1 3 1 5 1 5 1 3 1 2 1 2 1 1 1 3 1 4 1 3 1-1 1-1 1-1 1 3 1 5 1 8 1 6 1 4 1 6 1 4 1 5 1 3 1 0 1 1 1 3 1 4 1 3 1 4 1 6 1 7 1 7 1 0 1-3 1-1 1-1 1 0 1 3 1 6 1 4 1-2 1-9 1-12 1-9 1-12 1-9 1-4 1 0 1 3 1 6 1 9 1 12 1 15 1 12 1-8 1-2 1 0 1 3 1 8 1-1 1-7 1-9 1-4 1-5 1-2 1 3 1 9 1 12 1 8 1-10 1-8 1-3 1-1 1 0 1 2 1 5 1 6 1 3 1 0 1-5 1-11 1-19 1-25 1-33 1-40 1-48 1-53 1-55 1-90 1-41 1-24 1-7 1 7 1 4 1 14 1 16 1 18 1 22 1-43 1 14 1 14 1 16 1 15 1 14 1 13 1 13 1 13 1 13 1 14 1 15 1 17 1 16 1 15 1 9 1 10 1 13 1 15 1 15 1 9 1 5 1 5 1 6 1 9 1 11 1 12 1 12 1 6 1-1 1-1 1 1 1 3 1 3 1 3 1 2 1 0 1 2 1 0 1 2 1 4 1 5 1 3 1 2 1 2 1 4 1 4 1 3 1 2 1 2 1 2 1-3 1 0 1 1 1 4 1 4 1 4 1 3 1-2 1-1 1 1 1 3 1 7 1 6 1-5 1-11 1-9 1-5 1-1 1-3 1 1 1 6 1 9 1 11 1 12 1-2 1-4 1-1 1 4 1 5 1-13 1-13 1-10 1-14 1-11 1-3 1 3 1 7 1 8 1 9 1 5 1 2 1 2 1 4 1 5 1 4 1-3 1 0 1 3 1 2 1-1 1-3 1-3 1-3 1-8 1-21 1-29 1-37 1-46 1-54 1-62 1-70 1-54 1-43 1-25 1-7 1 7 1 5 1 15 1 16 1 19 1 23 1 21 1-22 1 24 1 21 1 20 1 17 1 16 1 16 1 15 1 16 1 17 1 20 1 19 1 17 1 14 1 13 1 10 1 9 1 7 1 2 1 1 1 0 1 4 1 6 1-1 1-7 1-4 1-2 1 0 1 1 1 3 1 6 1 8 1 11 1 12 1 15 1 13 1-1 1-4 1-2 1 1 1 2 1 3 1 2 1 3 1 3 1 3 1-1 1-4 1-6 1-6 1-4 1-1 1 3 1 6 1 10 1 11 1 12 1 12 1 4 1-7 1-3 1-3 1-2 1-2 1-4 1-6 1-12 1-13 1-13 1-12 1-7 1-2 1 3 1 3 1 3 1 8 1 8 1 6 1 4 1 5 1 6 1 8 1 7 1 5 1 4 1 5 1 4 1 2 1 0 1-1 1-2 1-2 1-4 1-1 1 3 1-2 1 2 1 5 1 6 1 6 1 5 1-2 1-2 1-11 1-19 1-29 1-39 1-49 1-55 1-58 1-58 1-79 1-43 1-25 1-7 1 7 1 5 1 14 1 17 1 19 1 22 1 21 1 20 1 23 1 22 1 20 1 17 1 16 1 13 1 12 1 10 1 8 1 7 1 6 1 4 1 4 1 6 1 6 1 8 1 9 1 10 1 9 1 9 1 8 1 5 1 4 1 2 1 1 1 2 1 2 1 0 1 0 1-1 1 1 1 1 1 2 1 6 1 7 1 4 1 6 1 10 1 12 1 11 1 8 1 0 1-3 1 1 1 4 1 8 1 0 1-2 1 0 1 1 1 3 1 2 1 1 1 1 1 1 1 1 1-1 1-1 1 0 1 1 1 2 1 2 1 3 1 3 1 0 1-2 1-5 1-8 1-9 1-8 1-6 1-5 1-6 1-6 1-2 1 2 1 6 1 7 1 11 1 14 1 15 1 14 1-5 1-14 1-12 1-6 1 0 1 6 1 9 1-3 1-3 1-4 1-2 1 0 1 2 1 3 1 4 1 6 1 8 1 11 1-3 1-12 1-18 1-24 1-34 1-41 1-47 1-49 1-49 1-49 1-40 1-39 1-23 1-7 1 7 1 4 1 13 1 16 1 17 1 21 1-80 1 20 1 22 1 23 1 23 1 22 1 21 1 20 1 20 1 19 1 17 1 16 1 16 1 13 1 12 1 11 1 11 1 10 1 7 1 4 1 5 1 4 1 3 1 0 1 0 1-1 1-1 1-2 1-1 1 0 1 2 1 2 1 5 1 9 1 6 1 8 1 12 1 7 1 0 1 1 1 3 1 4 1 5 1 5 1 6 1 8 1 4 1 3 1 7 1 9 1 2 1-9 1-7 1-3 1 2 1 3 1 4 1 4 1 5 1 8 1-1 1-8 1-8 1-6 1-7 1-4 1-1 1 0 1 1 1 5 1 9 1 10 1 9 1 9 1-6 1-8 1-3 1 2 1 2 1 2 1 6 1 6 1-2 1-4 1-3 1-3 1-2 1 0 1 0 1 0 1 1 1-1 1 1 1 4 1-1 1 1 1 3 1 0 1-4 1 0 1 2 1-4 1-5 1-3 1-10 1-22 1-28 1-32 1-38 1-44 1-48 1-50 1-98 1-41 1-25 1-7 1 7 1 5 1 14 1 16 1 19 1 21 1 21 1 27 1 16 1 15 1 14 1 13 1 12 1 13 1 13 1 14 1 9 1 8 1 9 1 8 1 9 1 9 1 9 1 10 1 11 1 13 1 9 1 7 1 7 1 8 1 5 1 4 1 5 1 3 1 4 1 6 1 5 1 5 1 5 1 6 1 0 1-2 1-4 1-2 1-2 1 0 1 3 1 5 1 7 1 7 1 6 1 7 1 2 1-2 1 1 1-2 1-2 1-2 1-5 1-1 1 1 1 3 1 7 1 8 1 9 1-3 1-5 1-2 1 2 1 5 1 5 1 0 1-5 1-4 1-4 1-3 1-9 1-8 1-4 1 1 1 6 1 8 1 4 1 4 1 6 1 6 1-3 1-4 1-3 1 0 1 0 1 1 1-4 1-3 1 0 1 3 1 3 1 5 1 3 1 3 1 5 1 1 1-4 1-1 1 3 1-4 1-7 1-10 1-12 1-10 1-14 1-17 1-25 1-34 1-43 1-54 1-65 1-69 1-43 1-44 1-25 1-8 1 8 1 5 1 14 1 17 1 19 1 23 1 22 1 21 1-13 1 11 1 12 1 12 1 12 1 13 1 14 1 15 1 15 1 17 1 18 1 16 1 16 1 14 1 11 1 11 1 11 1 7 1 3 1 0 1-1 1-1 1 1 1 3 1 5 1 8 1 10 1 12 1 12 1 12 1 12 1 9 1 1 1 2 1 1 1-1 1-1 1-2 1-2 1-2 1-2 1-1 1-1 1 2 1 5 1 6 1 7 1 7 1 8 1 7 1 7 1 4 1-2 1-3 1-5 1-5 1-3 1-1 1 2 1 1 1 3 1 6 1 6 1 7 1 0 1-7 1-5 1-2 1 0 1 2 1 8 1 1 1 0 1 1 1-4 1 0 1 3 1 5 1 4 1 2 1 0 1-1 1-1 1-3 1-5 1-6 1-6 1-3 1-2 1 2 1 5 1 5 1 6 1 6 1 4 1-1 1-4 1-8 1-10 1-10 1-10 1-8 1-14 1-22 1-28 1-36 1-40 1-47 1-51 1-58 1-46 1-42 1-25 1-7 1 7 1 5 1 14 1 17 1 18 1 22 1 21 1 8 1 20 1 20 1 18 1 15 1 13 1 13 1 10 1 9 1 9 1 9 1 9 1 9 1 11 1 12 1 12 1 13 1 13 1 12 1 11 1 11 1 8 1 4 1 3 1 2 1 3 1 4 1 4 1 4 1 3 1 3 1 4 1 5 1 5 1 4 1 0 1-1 1-3 1-3 1-4 1-2 1-4 1-1 1 2 1 5 1 8 1 9 1 11 1 11 1 2 1-7 1-8 1-5 1 0 1-4 1-2 1 4 1 5 1 5 1 3 1 6 1 11 1 9 1-12 1-10 1-5 1-1 1 0 1-1 1 1 1 4 1 6 1 2 1 3 1 4 1 2 1-2 1-1 1 1 1 0 1 2 1 3 1 4 1 4 1-2 1-3 1-1 1-2 1-9 1-10 1-9 1-8 1-5 1-1 1 3 1-1 1 3 1 7 1 10 1 13 1 14 1-6 1-11 1-13 1-25 1-35 1-42 1-49 1-56 1-60 1-63 1-11 1-40 1-23 1-7 1 7 1 5 1 13 1 16 1 17 1 21 1-37 1 32 1 28 1 26 1 23 1 21 1 18 1 16 1 12 1 9 1 6 1 6 1 7 1 7 1 8 1 9 1 10 1 13 1 14 1 5 1-1 1 0 1 3 1 6 1 9 1 13 1 12 1 12 1-1 1 3 1 5 1 9 1 3 1-3 1-4 1-3 1-2 1 1 1 4 1 7 1 8 1 10 1 8 1 4 1-5 1-3 1-6 1-5 1-3 1-5 1-3 1 1 1 3 1 3 1 2 1 4 1 1 1 2 1 4 1 8 1 10 1 11 1 2 1-6 1-3 1-1 1 2 1 2 1 2 1 3 1 3 1-4 1-1 1 1 1 1 1-2 1-2 1-3 1 0 1-2 1-2 1 2 1 6 1 8 1-1 1-9 1-9 1-9 1-6 1-5 1-2 1 0 1 5 1 6 1 10 1 13 1-2 1-16 1-12 1-9 1-5 1 2 1 10 1 13 1 9 1-11 1-41 1-46 1-52 1-52 1-55 1-65 1-55 1-42 1-25 1-7 1 7 1 5 1 14 1 17 1 18 1 22 1 21 1 2 1 24 1 22 1 21 1 18 1 15 1 13 1 10 1 8 1 6 1 6 1 7 1 7 1 8 1 8 1 7 1 8 1 8 1 11 1 12 1 11 1 10 1 12 1 12 1 12 1 0 1-2 1-1 1 0 1 0 1 2 1 3 1 3 1 2 1 3 1 2 1 2 1 3 1 5 1 7 1 9 1 6 1 3 1 1 1 1 1 2 1 2 1 2 1 1 1 0 1 1 1 0 1 2 1 2 1 2 1 2 1 4 1 5 1 7 1-7 1-11 1-13 1-13 1-9 1-4 1-2 1 3 1 9 1 10 1 14 1 18 1 0 1-9 1-12 1-5 1 2 1 8 1 10 1 13 1-1 1-7 1-3 1 2 1 5 1 8 1-5 1-9 1-4 1 5 1 11 1-1 1-13 1-8 1-6 1-4 1-5 1-4 1-3 1 0 1 2 1 4 1 6 1 6 1-7 1-20 1-34 1-50 1-63 1-73 1-78 1-31 1-62 1-47 1-28 1-8 1 8 1 5 1 17 1 18 1 21 1 25 1 23 1 23 1 20 1 50 1 19 1 18 1 16 1 14 1 13 1 11 1 10 1 11 1 11 1 8 1 7 1 5 1 5 1 4 1 6 1 7 1 9 1 12 1 3 1-2 1-3 1 0 1 3 1 2 1 5 1 10 1 11 1 15 1 14 1-3 1-6 1-3 1-1 1-1 1 0 1 1 1 3 1 4 1 3 1 2 1 3 1 2 1 3 1 5 1 8 1 3 1 2 1 4 1 5 1 5 1 4 1 3 1 3 1 2 1 2 1 3 1 5 1 0 1-2 1 0 1 0 1 0 1 1 1 4 1 6 1 4 1-3 1-2 1-1 1 0 1 3 1 7 1-11 1-10 1-11 1-9 1-10 1-7 1-4 1 0 1 3 1 7 1 2 1 1 1 3 1 3 1 3 1 0 1-2 1-2 1-2 1-1 1 1 1 3 1 6 1 7 1 7 1 7 1 5 1 3 1-7 1-17 1-27 1-37 1-46 1-53 1-57 1-59 1-56 1-17 1-22 1-6 1 6 1 4 1 13 1 14 1 0 1 20 1 17 1 14 1 11 1 9 1 8 1 8 1 8 1 9 1 14 1 15 1 16 1 18 1 14 1 14 1 11 1 11 1 10 1 8 1 5 1 4 1 3 1 4 1 5 1 4 1 3 1 7 1 11 1 12 1 8 1 8 1 4 1 3 1 5 1 4 1 4 1 2 1 0 1 1 1-2 1-2 1 0 1 2 1 6 1 5 1 7 1-8 1-4 1 1 1 7 1 9 1 0 1-3 1-2 1-1 1 2 1 6 1 5 1 0 1-8 1-5 1 0 1 2 1 3 1 9 1 8 1-7 1-8 1-3 1 3 1-5 1 1 1 6 1 11 1 4 1-11 1-6 1-6 1-4 1-3 1 0 1 2 1 4 1 1 1 3 1 8 1 3 1 2 1 3 1 2 1 1 1-2 1-4 1-3 1-3 1-4 1-6 1-9 1-10 1-9 1-5 1-6 1 0 1 2 1 5 1 3 1-9 1-24 1-34 1-46 1-60 1-62 1-58 1-33 1-41 1-23 1-7 1 7 1 4 1 14 1 16 1 18 1 21 1 56 1 14 1 11 1 9 1 5 1 4 1 4 1 4 1 6 1 5 1 7 1 7 1 8 1 8 1 9 1 10 1 11 1 12 1 13 1 12 1 10 1 7 1 5 1 3 1 3 1 3 1 3 1 0 1 1 1 3 1 4 1 5 1 8 1 10 1 13 1 9 1 9 1 5 1 0 1 3 1 5 1-2 1-6 1-7 1-7 1-4 1-2 1 1 1 3 1 5 1 8 1 7 1 7 1 10 1 10 1 11 1-3 1-10 1-8 1-5 1-2 1 3 1 6 1 9 1 6 1 7 1 6 1-3 1-2 1 0 1 4 1 5 1-9 1-8 1-3 1-1 1-2 1-4 1-1 1 1 1-1 1 2 1 6 1 11 1 9 1-8 1-10 1-9 1-6 1-4 1-1 1 4 1 9 1 11 1 10 1 2 1-1 1 1 1 0 1-1 1-3 1-4 1-5 1-6 1-13 1-23 1-33 1-41 1-47 1-52 1-56 1-74 1-57 1-45 1-26 1-7 1 7 1 5 1 15 1 18 1 19 1 23 1 22 1 21 1 14 1 21 1 19 1 18 1 14 1 11 1 8 1 8 1 7 1 9 1 11 1 8 1 8 1 10 1 11 1 12 1 12 1 11 1 11 1 10 1 10 1 11 1 14 1 13 1 6 1 5 1 8 1 4 1 1 1 1 1 2 1 5 1 4 1 2 1 1 1 2 1-5 1-4 1 0 1 2 1 3 1 4 1 4 1 6 1 4 1 1 1 4 1-1 1 1 1-1 1 1 1 5 1 3 1-3 1-2 1-2 1-2 1-3 1-1 1 0 1 2 1 4 1 6 1 3 1 0 1 1 1 2 1 4 1 2 1 1 1 0 1-2 1 0 1 1 1 3 1-2 1-1 1-3 1-3 1 2 1 4 1 3 1-5 1-5 1-4 1-2 1-4 1-4 1-5 1-6 1-4 1 1 1 5 1-1 1 2 1 6 1 11 1 3 1-14 1-12 1-9 1-5 1-6 1-13 1-23 1-32 1-40 1-47 1-55 1-61 1-77 1-43 1-25 1-7 1 7 1 5 1 14 1 17 1 19 1 23 1 22 1 40 1 29 1 25 1 19 1 15 1 11 1 6 1 4 1 2 1 1 1 2 1 5 1 6 1 9 1 10 1 12 1 11 1 9 1 10 1 12 1 10 1 8 1 6 1 7 1 4 1 3 1 0 1 0 1 1 1 4 1 5 1 9 1 8 1 7 1 7 1 6 1 2 1 2 1 1 1 3 1 0 1 3 1 5 1 7 1 3 1-3 1-2 1 0 1 1 1 2 1 4 1 5 1 5 1 1 1 2 1 2 1 4 1-1 1-3 1-3 1-4 1-3 1 0 1 4 1 4 1 6 1 5 1-5 1-6 1-4 1-3 1 1 1 0 1-1 1 2 1 4 1 1 1 0 1-1 1-1 1-3 1-2 1-4 1-4 1-3 1-4 1-3 1 0 1 4 1 6 1 7 1 6 1 2 1 2 1 3 1 1 1 1 1 3 1 1 1-1 1-1 1-2 1-3 1-14 1-30 1-39 1-43 1-45 1-47 1-48 1-90 1-58 1-45 1-26 1-7 1 7 1 5 1 16 1 17 1 20 1 23 1 23 1 21 1-52 1 26 1 25 1 23 1 19 1 17 1 15 1 13 1 14 1 15 1 17 1 17 1 13 1 10 1 9 1 9 1 10 1 10 1 10 1 3 1-1 1-1 1 2 1 4 1 3 1 8 1 12 1 15 1 11 1 14 1 14 1 0 1 1 1 3 1 5 1 8 1-4 1-5 1-4 1-3 1 1 1 4 1 6 1 8 1 10 1 10 1 4 1-4 1-2 1 1 1 4 1 5 1 0 1-3 1-3 1-4 1-3 1-1 1-2 1-1 1 0 1 4 1 3 1 0 1 2 1 4 1 4 1 3 1 1 1-1 1-1 1-1 1-2 1-1 1 0 1 2 1 3 1-8 1-5 1 0 1 3 1 4 1 2 1 3 1 3 1 1 1 2 1 5 1 1 1-5 1-2 1 0 1 3 1 0 1 3 1-3 1-6 1-4 1-2 1 0 1 2 1 5 1 2 1-24 1-42 1-47 1-49 1-48 1-46 1-52 1-94 1-44 1-25 1-8 1 8 1 5 1 14 1 18 1 19 1 23 1 21 1 21 1 61 1 12 1 11 1 9 1 7 1 8 1 8 1 9 1 9 1 8 1 9 1 9 1 11 1 11 1 11 1 10 1 10 1 8 1 8 1 7 1 3 1 3 1 3 1 0 1-1 1 0 1 2 1 1 1 2 1 6 1 7 1 8 1 6 1 5 1 5 1 8 1 7 1 5 1 2 1 1 1 1 1 2 1 3 1 0 1 2 1 5 1 8 1 7 1-7 1-9 1-9 1-6 1-3 1 2 1 4 1 4 1 4 1 2 1 3 1 5 1 6 1 4 1 1 1 1 1 0 1-3 1-5 1-4 1-3 1-1 1-1 1 2 1 4 1 8 1 8 1 4 1 5 1 3 1-1 1-1 1 0 1 1 1-7 1-5 1-2 1-1 1-8 1-8 1-7 1-5 1-2 1-1 1-2 1 4 1 9 1 4 1 6 1 9 1 11 1 8 1-1 1-4 1-6 1-17 1-24 1-31 1-43 1-54 1-59 1-61 1-93 1-42 1-25 1-7 1 7 1 5 1 14 1 17 1 18 1 22 1 21 1 26 1 18 1 19 1 17 1 16 1 15 1 15 1 13 1 11 1 8 1 7 1 7 1 6 1 5 1 4 1 2 1 2 1 2 1 2 1 1 1 4 1 6 1 7 1 7 1 8 1 8 1 6 1 4 1 4 1 3 1 2 1 3 1 5 1 6 1 9 1 11 1 13 1 12 1 11 1-3 1-2 1-1 1 1 1 4 1 4 1-4 1-3 1-1 1 0 1-2 1 3 1 6 1 7 1 9 1 8 1-10 1-6 1-1 1-1 1 3 1 4 1 5 1 6 1 6 1 5 1-5 1-2 1-2 1-4 1-1 1 2 1 5 1-2 1-2 1-2 1-3 1-1 1 0 1 1 1-2 1-2 1 0 1-3 1-1 1 0 1 1 1-1 1-1 1-1 1 1 1 2 1 1 1 3 1 6 1 5 1 3 1 0 1-3 1-5 1-9 1-9 1-8 1-4 1-7 1-13 1-23 1-32 1-43 1-52 1-57 1-58 1-59 1-41 1-24 1-7 1 7 1 4 1 14 1 17 1 18 1 21 1 21 1 31 1 23 1 21 1 19 1 17 1 13 1 9 1 6 1 6 1 5 1 5 1 5 1 4 1 4 1 5 1 3 1 4 1 3 1 6 1 9 1 7 1 6 1 8 1 9 1 7 1 6 1 3 1 3 1 2 1 2 1-1 1 1 1 4 1 4 1 5 1 5 1 4 1 4 1 6 1 8 1 10 1 11 1 12 1 1 1-5 1-5 1-7 1-8 1-5 1-4 1 1 1 4 1 1 1-1 1 1 1 4 1 3 1 4 1 7 1 9 1 6 1 6 1 5 1 3 1 3 1 1 1-2 1-8 1-11 1-11 1-12 1-12 1-8 1-5 1-5 1-1 1 6 1 4 1 5 1 8 1 4 1 5 1 7 1 6 1 3 1 0 1-1 1 2 1 4 1 5 1 5 1 6 1 0 1-1 1 2 1-4 1-4 1 1 1 4 1 3 1 1 1-1 1-2 1-13 1-23 1-36 1-48 1-59 1-68 1-74 1-20 1-57 1-44 1-26 1-8 1 8 1 5 1 15 1 17 1 19 1 24 1 22 1 20 1-24 1 13 1 14 1 13 1 13 1 13 1 14 1 15 1 13 1 14 1 11 1 10 1 9 1 7 1 8 1 7 1 8 1 11 1 12 1 12 1 12 1 12 1 14 1 15 1 13 1 12 1 7 1 3 1 3 1 3 1 4 1 4 1 3 1 2 1 0 1 0 1-2 1-2 1-2 1-3 1 0 1 1 1 4 1 7 1 12 1 14 1 10 1 6 1 0 1 0 1 2 1-1 1-5 1-5 1-2 1-2 1-1 1 0 1 2 1 6 1 12 1 0 1-8 1-10 1-5 1-2 1-3 1 2 1 5 1 7 1 5 1 6 1 9 1-2 1 0 1 1 1 2 1 5 1 2 1-4 1-3 1 0 1 2 1 5 1-5 1-8 1-8 1-8 1-5 1-2 1 1 1 2 1 2 1 4 1 5 1 6 1 3 1 0 1-2 1-2 1-1 1-2 1-8 1-18 1-27 1-36 1-46 1-56 1-64 1-67 1-29 1-40 1-23 1-6 1 6 1 5 1 13 1 15 1 18 1 20 1-53 1 35 1 34 1 31 1 30 1 27 1 22 1 17 1 12 1 10 1 8 1 8 1 5 1 5 1 7 1 8 1 8 1 7 1 7 1 4 1 1 1 1 1 3 1 5 1 6 1 4 1 6 1 6 1 4 1 7 1 8 1 9 1 1 1-3 1-5 1-5 1-4 1-3 1 1 1 4 1 4 1 7 1 8 1 10 1 9 1 9 1 9 1-9 1-9 1-9 1-7 1-4 1-1 1 1 1 2 1 4 1 8 1 9 1 10 1 11 1 12 1 2 1-5 1 0 1-2 1 1 1 3 1 5 1-3 1-7 1-8 1-8 1-6 1-4 1-5 1-7 1-8 1-9 1-3 1 1 1-3 1 1 1 7 1 10 1 10 1 9 1 9 1 8 1 9 1 7 1 0 1 1 1 1 1 1 1 0 1-2 1-5 1-6 1-5 1-1 1-9 1-4 1 0 1 3 1-3 1-12 1-20 1-35 1-43 1-48 1-51 1-55 1-83 1-41 1-23 1-7 1 7 1 4 1 14 1 16 1 18 1 21 1-18 1 20 1 20 1 19 1 19 1 17 1 13 1 11 1 11 1 12 1 12 1 15 1 17 1 18 1 15 1 3 1 3 1 4 1 5 1 7 1 8 1 7 1 10 1 10 1 9 1 10 1-4 1-5 1-3 1-2 1-2 1 1 1 2 1 3 1 4 1 7 1 9 1 9 1 6 1 5 1 6 1 4 1 4 1 1 1 2 1 1 1 0 1 0 1 1 1 2 1 4 1 5 1 6 1 5 1 1 1-1 1-3 1-5 1-7 1-4 1-2 1 2 1 4 1 5 1 6 1 5 1 3 1 0 1-4 1-6 1-8 1-6 1-5 1-1 1 3 1 8 1 11 1 13 1 11 1 2 1-2 1 2 1 1 1 3 1-2 1-1 1 1 1 0 1-3 1-4 1-3 1-1 1 1 1 2 1 1 1 0 1-2 1-3 1-6 1-8 1-8 1-6 1-3 1-1 1-1 1-6 1-20 1-29 1-39 1-48 1-52 1-51 1-68 1-38 1-22 1-7 1 7 1 4 1 13 1 15 1 17 1 14 1 11 1 13 1 12 1 11 1 13 1 16 1 17 1 19 1 20 1 22 1 18 1 12 1 11 1 11 1 11 1 11 1 8 1 3 1 1 1 3 1 5 1 9 1 3 1-3 1-2 1-2 1 1 1 4 1 7 1 10 1 9 1 4 1 7 1 5 1 2 1 0 1-3 1-1 1 2 1 3 1 4 1 5 1 6 1 3 1 6 1 1 1-4 1-4 1-5 1-3 1-2 1-1 1 1 1 4 1 7 1 10 1 13 1-4 1-13 1-10 1-6 1-5 1-1 1 3 1 5 1 6 1 3 1 3 1 3 1 2 1 2 1 1 1 4 1 6 1 9 1 2 1-12 1-12 1-8 1-5 1-3 1-1 1 2 1 2 1-1 1 2 1 4 1 5 1 0 1-2 1-2 1-2 1 2 1 3 1 2 1 2 1 4 1 2 1 2 1 4 1 5 1 4 1 2 1-6 1-8 1-15 1-28 1-45 1-57 1-68 1-77 1-82 1-19 1-43 1-25 1-8 1 8 1 4 1 15 1 17 1 19 1 23 1 21 1-3 1 34 1 31 1 30 1 26 1 22 1 17 1 13 1 9 1 6 1 5 1 4 1 6 1 3 1 4 1 5 1 6 1 7 1 6 1 7 1 8 1 11 1 9 1 3 1 3 1 6 1 7 1 9 1 9 1-2 1-2 1-3 1 0 1 3 1 6 1 7 1 7 1 6 1 4 1 4 1 4 1-3 1-3 1-3 1-3 1 0 1 2 1 4 1 8 1 10 1-3 1-8 1-6 1-6 1-6 1-3 1 0 1 2 1 2 1-2 1 0 1 3 1 5 1 6 1 6 1 5 1 6 1 10 1 10 1-5 1-4 1-6 1-4 1 1 1 4 1 5 1 4 1 3 1 3 1 3 1 2 1-8 1-8 1-8 1-7 1-12 1-6 1-1 1 4 1 6 1 10 1 10 1 10 1 7 1-2 1-2 1-2 1 0 1 2 1 0 1-3 1-4 1-6 1-13 1-22 1-34 1-43 1-51 1-55 1-54 1-56 1-25 1-40 1-23 1-7 1 7 1 4 1 14 1 16 1 17 1 21 1 20 1 14 1 12 1 10 1 7 1 8 1 9 1 10 1 12 1 10 1 11 1 12 1 11 1 13 1 14 1 12 1 5 1 4 1 3 1 3 1 5 1 8 1 8 1 10 1 8 1 9 1 8 1 3 1 1 1 1 1 1 1 4 1 3 1 1 1 7 1 11 1 15 1 18 1 1 1-13 1-10 1-9 1-8 1-1 1 4 1 8 1 8 1 9 1 9 1 13 1 11 1-2 1-8 1-6 1-4 1 1 1 5 1 7 1 7 1 9 1 0 1-8 1-4 1-2 1 1 1 1 1-1 1 0 1-3 1-4 1-9 1-9 1-6 1 0 1 5 1 10 1 13 1 14 1 14 1-3 1-5 1 4 1 5 1-15 1-13 1-9 1-13 1-9 1-3 1 5 1 10 1 12 1 12 1 8 1 4 1 1 1 0 1-2 1-1 1 0 1 2 1 4 1 7 1 0 1-11 1-20 1-31 1-40 1-55 1-55 1-51 1-50 1-91 1-43 1-25 1-8 1 8 1 4 1 15 1 17 1 19 1 22 1 22 1 31 1 12 1 11 1 10 1 9 1 8 1 9 1 11 1 11 1 10 1 10 1 11 1 10 1 11 1 12 1 14 1 13 1 14 1 11 1 11 1 10 1 10 1 7 1 5 1 2 1 1 1-3 1-3 1-4 1-1 1 2 1 3 1 3 1 2 1 3 1 3 1 5 1 5 1 7 1 9 1 8 1 9 1 10 1 8 1-4 1-3 1-1 1 1 1 4 1 3 1 3 1 2 1 4 1 3 1 2 1 1 1 1 1 2 1 2 1-5 1-6 1-6 1-4 1-3 1-3 1-1 1 1 1 4 1 6 1 2 1 6 1 7 1 7 1 5 1 3 1-1 1-3 1-4 1-2 1 2 1 2 1 2 1 1 1-1 1-4 1-4 1-1 1 1 1 2 1 2 1 2 1-1 1-2 1-1 1 1 1 1 1 1 1-1 1-1 1-1 1 1 1 3 1 2 1-7 1-19 1-37 1-55 1-70 1-78 1-79 1-14 1-58 1-45 1-26 1-7 1 7 1 5 1 16 1 17 1 20 1 23 1 22 1 21 1 20 1 16 1 15 1 13 1 10 1 10 1 10 1 10 1 9 1 11 1 9 1 9 1 10 1 13 1 12 1 7 1 6 1 8 1 9 1 13 1 13 1 8 1 1 1 2 1 3 1 4 1 4 1 2 1 3 1 3 1 4 1 6 1 5 1 5 1 6 1 7 1 9 1 8 1 6 1 4 1 3 1 3 1 2 1 1 1-1 1 1 1 2 1 2 1 0 1 5 1 3 1 2 1 4 1 0 1 4 1-1 1 3 1 5 1-5 1-5 1-5 1-3 1-7 1-6 1-6 1-1 1 3 1 7 1 8 1 2 1 4 1 5 1 5 1 5 1 4 1-1 1-2 1-3 1-2 1-5 1-6 1-6 1-5 1-3 1-9 1-6 1 1 1 1 1 1 1 6 1 11 1 12 1 7 1 5 1-1 1-1 1 3 1-2 1 3 1-3 1-2 1-6 1-7 1-16 1-26 1-35 1-44 1-53 1-57 1-110 1-57 1-45 1-26 1-8 1 8 1 5 1 15 1 18 1 19 1 24 1 22 1 21 1-16 1 16 1 16 1 17 1 15 1 17 1 18 1 19 1 18 1 19 1 17 1 17 1 16 1 15 1 14 1 12 1 12 1 10 1 5 1 4 1 4 1 4 1 4 1 4 1 3 1 4 1 6 1 2 1-2 1-1 1 0 1 2 1 4 1 5 1 7 1 6 1 5 1 4 1 2 1 2 1 3 1-2 1-5 1-4 1-4 1-1 1 1 1 4 1 5 1 7 1 6 1 5 1 5 1 7 1 2 1-5 1-5 1-3 1 0 1 2 1 3 1 4 1 4 1 6 1-5 1-3 1-2 1 0 1-5 1-8 1-5 1-2 1 0 1 2 1 2 1 0 1-1 1 2 1 5 1 7 1 9 1 4 1-4 1-1 1-2 1 3 1 5 1 3 1 1 1-4 1-8 1-11 1-9 1-5 1-2 1 1 1 0 1 0 1 1 1 4 1 7 1 9 1 4 1-20 1-38 1-48 1-56 1-60 1-63 1-71 1-59 1-45 1-27 1-8 1 8 1 5 1 16 1 18 1 19 1 24 1 23 1 21 1-24 1 33 1 32 1 30 1 24 1 21 1 17 1 16 1 13 1 7 1 6 1 6 1 5 1 6 1 7 1 8 1 11 1 10 1 9 1 8 1 8 1 6 1 2 1 2 1 5 1 5 1 5 1 6 1 5 1 6 1 6 1 8 1 7 1 2 1 4 1 3 1 2 1 2 1 2 1 1 1 1 1 0 1-3 1-4 1-4 1-10 1-9 1-8 1-4 1-9 1-4 1 1 1 7 1 10 1 11 1 13 1 12 1 12 1 11 1 11 1-3 1-4 1-4 1-2 1 0 1-2 1 1 1 1 1 4 1 5 1 6 1 6 1 0 1-5 1-3 1-3 1 0 1 0 1-1 1-2 1-4 1-5 1-6 1-4 1-3 1-2 1 1 1 4 1 7 1 6 1 5 1 7 1 0 1-7 1-6 1-6 1-8 1-4 1 0 1 1 1 5 1 6 1 1 1-13 1-26 1-37 1-44 1-49 1-49 1-48 1-78 1-40 1-23 1-7 1 7 1 4 1 14 1 15 1 18 1 20 1 43 1 5 1 4 1 4 1 5 1 7 1 9 1 10 1 11 1 12 1 10 1 9 1 7 1 7 1 7 1 10 1 10 1 13 1 15 1 16 1 14 1 6 1 7 1 6 1 8 1 9 1 7 1 6 1 6 1 7 1 6 1 1 1 2 1 3 1 7 1 0 1-4 1-4 1-3 1-1 1 3 1 7 1 10 1 12 1 5 1-3 1-2 1 0 1 3 1 4 1 5 1 5 1-3 1-1 1 3 1 2 1 1 1-5 1-3 1-2 1-3 1-2 1-3 1-1 1 0 1 2 1 3 1 4 1 4 1 3 1 3 1 4 1 6 1 5 1 1 1-2 1-2 1-2 1 1 1 2 1 1 1-3 1-6 1-2 1 1 1 3 1 4 1 4 1 1 1-5 1-8 1-7 1-2 1 4 1 6 1-1 1 3 1-1 1-2 1 0 1 3 1 3 1 2 1-1 1-5 1-15 1-33 1-41 1-45 1-48 1-46 1-41 1-40 1-52 1-21 1-6 1 6 1 4 1 12 1 14 1 20 1 15 1 14 1 12 1 11 1 11 1 11 1 13 1 13 1 14 1 15 1 15 1 11 1 11 1 11 1 12 1 13 1 11 1 5 1 4 1 4 1 3 1 3 1 4 1 5 1 4 1-2 1 0 1 1 1 3 1 5 1 7 1 7 1-1 1 0 1-1 1-1 1-1 1 1 1-1 1 1 1 4 1 8 1 10 1 10 1 10 1 9 1 3 1-6 1-5 1-4 1-2 1 1 1 2 1 3 1 2 1 0 1 1 1 0 1 0 1-2 1-5 1-7 1-7 1-4 1-5 1-5 1-1 1 6 1 10 1 7 1 7 1 8 1 7 1 7 1 5 1 2 1-1 1-2 1-2 1-1 1-1 1-3 1-5 1-2 1-2 1-1 1 0 1 3 1 6 1 5 1 1 1 3 1 4 1 4 1 1 1 3 1 3 1-4 1-6 1-6 1-5 1-1 1 1 1 3 1 5 1-3 1-14 1-29 1-44 1-53 1-58 1-57 1-54 1-61 1-40 1-24 1-7 1 7 1 4 1 14 1 16 1 18 1 21 1 3 1 16 1 16 1 16 1 15 1 13 1 11 1 10 1 10 1 8 1 9 1 9 1 9 1 11 1 11 1 12 1 13 1 15 1 16 1 15 1 14 1 12 1 7 1 7 1 5 1 4 1 5 1 1 1 2 1 2 1 3 1 1 1 1 1 2 1-4 1-4 1-6 1-6 1-6 1-4 1 1 1 1 1 4 1 9 1 13 1 17 1 17 1 11 1-9 1-4 1 4 1 9 1 7 1 6 1-3 1-4 1-4 1-4 1 0 1 2 1 2 1 2 1 2 1 1 1 1 1 0 1 3 1 7 1-2 1-2 1-2 1 0 1-2 1-1 1-1 1 1 1 0 1-1 1-2 1 1 1 4 1 4 1 6 1 3 1-8 1-6 1-2 1 3 1 8 1 5 1 0 1-6 1-6 1-2 1 0 1 3 1 2 1-1 1-2 1-8 1-6 1-2 1 0 1 1 1-5 1-16 1-28 1-42 1-55 1-65 1-69 1-49 1-57 1-44 1-26 1-7 1 7 1 5 1 15 1 17 1 20 1 23 1 22 1 21 1 22 1 21 1 18 1 17 1 15 1 12 1 11 1 9 1 9 1 10 1 11 1 11 1 10 1 10 1 9 1 8 1 6 1 5 1 3 1 4 1 6 1 9 1 11 1 5 1-4 1-2 1 0 1 5 1 9 1 13 1 13 1-6 1-6 1-5 1 0 1 4 1 8 1 10 1 11 1 9 1 6 1-2 1-1 1 1 1 3 1 4 1 6 1 7 1 8 1-3 1-8 1-7 1-5 1-5 1-6 1-3 1 0 1 4 1 6 1 8 1 8 1 9 1 10 1 9 1-3 1-7 1-8 1-7 1-2 1-1 1-3 1 1 1 4 1 6 1 4 1 6 1 7 1 8 1-7 1-3 1-2 1 0 1 2 1 4 1-5 1-4 1-4 1-3 1-2 1 3 1 7 1 3 1 3 1 5 1-6 1-7 1-8 1-8 1-8 1-5 1 1 1 5 1 2 1-7 1-22 1-45 1-62 1-64 1-65 1-68 1-58 1-46 1-26 1-8 1 8 1 5 1 15 1 18 1 20 1 24 1 22 1 22 1 37 1 16 1 16 1 15 1 13 1 10 1 11 1 9 1 9 1 9 1 3 1 3 1 4 1 6 1 8 1 10 1 10 1 11 1 11 1 5 1 1 1 2 1 2 1 3 1 4 1 5 1 7 1 6 1 3 1 5 1 4 1 4 1 5 1 4 1 5 1 6 1 6 1 7 1 7 1 8 1 9 1 8 1 5 1 4 1 3 1 2 1-3 1-2 1 2 1 5 1 8 1 6 1-10 1-7 1-3 1 0 1-3 1-1 1 2 1 2 1 2 1 1 1-2 1-5 1-3 1 0 1 3 1 1 1 5 1 8 1 7 1 10 1 4 1-10 1-13 1-14 1-16 1-15 1-8 1-2 1 5 1 4 1 8 1 14 1 17 1 16 1 8 1 6 1 2 1-2 1-6 1-11 1-15 1-11 1-7 1-3 1-2 1 0 1 4 1 6 1 10 1 12 1 8 1-10 1-46 1-55 1-61 1-67 1-68 1-67 1-16 1-44 1-25 1-8 1 8 1 4 1 15 1 17 1 19 1 23 1 22 1 49 1 16 1 16 1 16 1 15 1 14 1 15 1 13 1 14 1 13 1 11 1 8 1 5 1 1 1 0 1 0 1 0 1 0 1 2 1 6 1 9 1 10 1 10 1 14 1 13 1-3 1 0 1 2 1 4 1 7 1 7 1 9 1 8 1 10 1 11 1 11 1-1 1-1 1 1 1 4 1 6 1 5 1 1 1 0 1 1 1 2 1-4 1-5 1-5 1-4 1-3 1 0 1 5 1 7 1 9 1 5 1-6 1-3 1 1 1 1 1 2 1 5 1 8 1-3 1-5 1-4 1-2 1 2 1 6 1 5 1 5 1 3 1 3 1-1 1-5 1-5 1-3 1-2 1-5 1-2 1 2 1 3 1 10 1 9 1-10 1-15 1-18 1-12 1-5 1 3 1 6 1 5 1 10 1 11 1 6 1 4 1 3 1-3 1-4 1-6 1-7 1-7 1-6 1-9 1-18 1-27 1-37 1-44 1-48 1-50 1-45 1-40 1-24 1-22 1-6 1 6 1 4 1 13 1 14 1 17 1 23 1 16 1 14 1 13 1 11 1 11 1 10 1 9 1 7 1 6 1 7 1 6 1 7 1 7 1 7 1 8 1 9 1 9 1 10 1 10 1 9 1 9 1 8 1 8 1 9 1 9 1 10 1 8 1 9 1 9 1 5 1 3 1 0 1 0 1 1 1 3 1 5 1 6 1 4 1 5 1 6 1-3 1-3 1-1 1 1 1 4 1 7 1 3 1-5 1-6 1-4 1-1 1 1 1-1 1-7 1-5 1-2 1 1 1-1 1 1 1 1 1 3 1 8 1 8 1 8 1 9 1 10 1 0 1-7 1-6 1-6 1-7 1-7 1-7 1-2 1 2 1 3 1 5 1 6 1 10 1 14 1 10 1-14 1-9 1-3 1-3 1 5 1 11 1 12 1-3 1-9 1-5 1-5 1-3 1-4 1-3 1-3 1-2 1 0 1 1 1 2 1 4 1 4 1 7 1 8 1 0 1-14 1-30 1-37 1-41 1-46 1-46 1-45 1-128 1-42 1-25 1-7 1 7 1 5 1 14 1 17 1 18 1 23 1 21 1 21 1 13 1 13 1 13 1 12 1 12 1 11 1 12 1 12 1 13 1 14 1 13 1 13 1 9 1 8 1 8 1 7 1 7 1 7 1 5 1 5 1 9 1 12 1 9 1 10 1 2 1 1 1 4 1 6 1 5 1 7 1 9 1 3 1 0 1-1 1-1 1 2 1 4 1 3 1 4 1 9 1 9 1 2 1-5 1-6 1-4 1-1 1 4 1 8 1 9 1 8 1-8 1-6 1-3 1 0 1 5 1 7 1 6 1 5 1 4 1 2 1 1 1 2 1-4 1-8 1-8 1-9 1-8 1-5 1-2 1 2 1 3 1 6 1 11 1 15 1 11 1-15 1-12 1-9 1-7 1-3 1 0 1 5 1 7 1 8 1 5 1 7 1 5 1 3 1 0 1-1 1-1 1-3 1-3 1-3 1-2 1-3 1-3 1-5 1-5 1-7 1-7 1-7 1-11 1-21 1-29 1-37 1-43 1-49 1-50 1-58 1-41 1-42 1-25 1-7 1 7 1 5 1 14 1 17 1 18 1 22 1 21 1 38 1 20 1 19 1 18 1 14 1 12 1 11 1 8 1 6 1 6 1 8 1 7 1 4 1 4 1 4 1 4 1 4 1 4 1 5 1 9 1 12 1 12 1 13 1 12 1 1 1-1 1 1 1 4 1 5 1 7 1 11 1 13 1 10 1 0 1 3 1 4 1 3 1-6 1-3 1 1 1 4 1 3 1 5 1 7 1 7 1-1 1-7 1-5 1-3 1-1 1 2 1 4 1 6 1 6 1 7 1 8 1 7 1-1 1-3 1-3 1 1 1 6 1 5 1-13 1-15 1-16 1-14 1-11 1-14 1-4 1 4 1 9 1 8 1 11 1 6 1 6 1 7 1 6 1 7 1 6 1 0 1 0 1 1 1-4 1-5 1-5 1-4 1-4 1-5 1 0 1 5 1 5 1 5 1 6 1 6 1 6 1 4 1 5 1 4 1 2 1-4 1-5 1-6 1-14 1-24 1-33 1-45 1-56 1-67 1-65 1-47 1-58 1-45 1-26 1-8 1 8 1 5 1 15 1 18 1 19 1 24 1 22 1 22 1 39 1 12 1 12 1 13 1 12 1 13 1 13 1 13 1 13 1 14 1 12 1 11 1 10 1 10 1 10 1 10 1 10 1 10 1 7 1 7 1 7 1 2 1 0 1 0 1 1 1 5 1 7 1 8 1 6 1 9 1 6 1 4 1 3 1-1 1-1 1 0 1 0 1 1 1 2 1 3 1 3 1 2 1 2 1 6 1 5 1 7 1 9 1 4 1-1 1-1 1 0 1-1 1-1 1 0 1 1 1 4 1 4 1 3 1 3 1-3 1-2 1-3 1-2 1 0 1-4 1-1 1 1 1 2 1 2 1 3 1 3 1 4 1 4 1-4 1-4 1-2 1-1 1 0 1 1 1 2 1 5 1 6 1-7 1-9 1-5 1 0 1 4 1 4 1 5 1 4 1 3 1 2 1 0 1-2 1-2 1-3 1-4 1-2 1 3 1 7 1 3 1-5 1-13 1-23 1-35 1-46 1-53 1-55 1-54 1-58 1-70 1-44 1-26 1-7 1 7 1 5 1 15 1 17 1 19 1 23 1 22 1 21 1-42 1 15 1 15 1 15 1 14 1 13 1 13 1 13 1 14 1 15 1 17 1 17 1 16 1 15 1 16 1 16 1 15 1 15 1 14 1 12 1 12 1 7 1 1 1 0 1 1 1 3 1 4 1 6 1 8 1 10 1-7 1-6 1-6 1-2 1-1 1 4 1 9 1 13 1 6 1 8 1 3 1-1 1 0 1-1 1-3 1-1 1 3 1 9 1 14 1 4 1-10 1-13 1-10 1-6 1-9 1-2 1 5 1 4 1 1 1 6 1 7 1 7 1 2 1 1 1 0 1 0 1 2 1 4 1 3 1 4 1 6 1 7 1 8 1 7 1-10 1-10 1-12 1-9 1-6 1 0 1 4 1 6 1 7 1 7 1 7 1 6 1 1 1-1 1-2 1-3 1-3 1-4 1-3 1 2 1 6 1 7 1 10 1-4 1-11 1-12 1-9 1-4 1-9 1-17 1-28 1-40 1-51 1-59 1-62 1-62 1-8 1-40 1-24 1-7 1 7 1 5 1 13 1 16 1 18 1 21 1 54 1 22 1 19 1 16 1 12 1 9 1 7 1 4 1 5 1 5 1 6 1 8 1 9 1 10 1 10 1 10 1 12 1 12 1 10 1 6 1 5 1 3 1 2 1 2 1 2 1 2 1 2 1 3 1 4 1 6 1 3 1 4 1 6 1 3 1 4 1 6 1 6 1 5 1 7 1 4 1 5 1 3 1-1 1 0 1-1 1-3 1-1 1 0 1-4 1 0 1 4 1 7 1 7 1 8 1 7 1-4 1-2 1-2 1 0 1 4 1 7 1-2 1-1 1-3 1 2 1 5 1-9 1-10 1-9 1-8 1-5 1-2 1 0 1 4 1 9 1 13 1 3 1 4 1 6 1 9 1 5 1 0 1-4 1-4 1-1 1 3 1 5 1-1 1-5 1-5 1-10 1-14 1-14 1-12 1-8 1-3 1 0 1 1 1 2 1 3 1 4 1 6 1 8 1 7 1-1 1-14 1-28 1-40 1-44 1-45 1-45 1-51 1-90 1-43 1-24 1-8 1 8 1 4 1 15 1 16 1 19 1 22 1 21 1 7 1 15 1 16 1 15 1 15 1 14 1 14 1 14 1 14 1 15 1 16 1 15 1 16 1 17 1 17 1 12 1 5 1 5 1 5 1 5 1 7 1 2 1-3 1-4 1-2 1 3 1 2 1 6 1 9 1 10 1 8 1 5 1 6 1 5 1 5 1 6 1 2 1 2 1 0 1-2 1 1 1 3 1 2 1-1 1-2 1 0 1 4 1 3 1 2 1-2 1-2 1-2 1 1 1 1 1 2 1 1 1 2 1 4 1 4 1 6 1 6 1 5 1 0 1-1 1-2 1-4 1-2 1 0 1 1 1 0 1 1 1 3 1 0 1-3 1-4 1-1 1-2 1-1 1-1 1 0 1 0 1 3 1 0 1-6 1-4 1-2 1 1 1 3 1 6 1 7 1 9 1 9 1-2 1-9 1-3 1-1 1-4 1-2 1 1 1 2 1 2 1 1 1-4 1-12 1-21 1-30 1-35 1-43 1-52 1-59 1-57 1-59 1-41 1-24 1-7 1 7 1 4 1 14 1 17 1 18 1 21 1 21 1-9 1 23 1 24 1 24 1 23 1 21 1 20 1 19 1 16 1 13 1 13 1 11 1 11 1 10 1 9 1 8 1 7 1 6 1 5 1 5 1 6 1 6 1 6 1 1 1 0 1-2 1-4 1-6 1-4 1-3 1 0 1 1 1 4 1 9 1 9 1 9 1 11 1 13 1-1 1-9 1-10 1-8 1-5 1-4 1-3 1 0 1 3 1 9 1 10 1 10 1 12 1 14 1-4 1-5 1-3 1 1 1 5 1 8 1 11 1-1 1-12 1-11 1-10 1-6 1-2 1 1 1 2 1 6 1 9 1 10 1 8 1 4 1-1 1-3 1-5 1-6 1-4 1-3 1-3 1-2 1-1 1 0 1 1 1 3 1 2 1 2 1 3 1 3 1 4 1 3 1 3 1 5 1 2 1-1 1 0 1-1 1-1 1-4 1-2 1 0 1-4 1-4 1-1 1-7 1-19 1-33 1-46 1-56 1-63 1-65 1-48 1-58 1-45 1-26 1-8 1 8 1 5 1 15 1 18 1 19 1 24 1 22 1 22 1 58 1 14 1 13 1 12 1 11 1 11 1 11 1 8 1 5 1 6 1 5 1 7 1 6 1 7 1 9 1 9 1 3 1 4 1 7 1 8 1 10 1 10 1 6 1 4 1 3 1 4 1 7 1 9 1 10 1 3 1 4 1 6 1 9 1 10 1 0 1-3 1 0 1 1 1-3 1-1 1 3 1 7 1 4 1-1 1 2 1 3 1 6 1 5 1 5 1 4 1 4 1 3 1 3 1 3 1 1 1 1 1-2 1-2 1-1 1-1 1-2 1-3 1-4 1-3 1-1 1-1 1 3 1 6 1 8 1 7 1 5 1 5 1-5 1-7 1-8 1-6 1-3 1-1 1 2 1 3 1 4 1 7 1 8 1 9 1-6 1-3 1 3 1-3 1-8 1-11 1-10 1-7 1-2 1-3 1 1 1 5 1 8 1 8 1 8 1 8 1 8 1 3 1-11 1-21 1-35 1-51 1-64 1-74 1-76 1-37 1-58 1-45 1-27 1-7 1 7 1 5 1 16 1 17 1 20 1 24 1 22 1 22 1-12 1 23 1 23 1 23 1 23 1 22 1 23 1 22 1 20 1 19 1 16 1 10 1 6 1 3 1 2 1 1 1 0 1 2 1 2 1-3 1 0 1 1 1 1 1 1 1 0 1 1 1 5 1 6 1 7 1 9 1 8 1 8 1 9 1 8 1 7 1 8 1 9 1 11 1 8 1-1 1-2 1-1 1-2 1 2 1 0 1 2 1 7 1 11 1 0 1-8 1-9 1-8 1-7 1-4 1-1 1 2 1 5 1 8 1 7 1 7 1 8 1 9 1 8 1-6 1-10 1-6 1-2 1 1 1-3 1 0 1 4 1 3 1 4 1 3 1 1 1 1 1 0 1 1 1 2 1 0 1 3 1 5 1 1 1 4 1-4 1-6 1-9 1-12 1-11 1-7 1-1 1 6 1 10 1 12 1 12 1 11 1-5 1-9 1-3 1 4 1 7 1-6 1-10 1-15 1-22 1-33 1-46 1-65 1-75 1-73 1-9 1-39 1-22 1-6 1 6 1 4 1 13 1 15 1 17 1 18 1 28 1 24 1 20 1 16 1 13 1 11 1 9 1 8 1 7 1 6 1 6 1 8 1 7 1 6 1 8 1 9 1 12 1 10 1 12 1 13 1 0 1 0 1-1 1 0 1 0 1 4 1 7 1 10 1 11 1 12 1 10 1-3 1-1 1 3 1 4 1 3 1 6 1 1 1 1 1 2 1 5 1 8 1-2 1 0 1 3 1 2 1 2 1 5 1 6 1 6 1-3 1-3 1-1 1 5 1 6 1-6 1-6 1-4 1-5 1-1 1 1 1 3 1 8 1 11 1 7 1-11 1-10 1-7 1-3 1 2 1 5 1 4 1 4 1 2 1-1 1 0 1-2 1-2 1 0 1 2 1 5 1 8 1 7 1-4 1-6 1-2 1 2 1 6 1 8 1-8 1-6 1-3 1-2 1 0 1 1 1 1 1 2 1-1 1-6 1-6 1-2 1 2 1 4 1 3 1-1 1-13 1-25 1-43 1-50 1-52 1-51 1-51 1-89 1-41 1-25 1-7 1 7 1 5 1 14 1 16 1 19 1 22 1 20 1 16 1 22 1 21 1 18 1 14 1 13 1 11 1 10 1 9 1 8 1 8 1 10 1 7 1 9 1 12 1 15 1 16 1 15 1 12 1 7 1 7 1 8 1 8 1 2 1-3 1-4 1-3 1 0 1 2 1 4 1 6 1 7 1 8 1 8 1 6 1 5 1 3 1-3 1-6 1-8 1-9 1-11 1-13 1-11 1-6 1 0 1 1 1 0 1 5 1 12 1 16 1 17 1 18 1 18 1 6 1-15 1-12 1-9 1-6 1-5 1-6 1-1 1 3 1 7 1 8 1 9 1 12 1 12 1 10 1 8 1-12 1-7 1-1 1 6 1 7 1 4 1 5 1-5 1-2 1-1 1-2 1 0 1 2 1 3 1 4 1 2 1-1 1-2 1-1 1-1 1-2 1-2 1-1 1 0 1 3 1 5 1 4 1-6 1-7 1-3 1 1 1 3 1 1 1-3 1-16 1-38 1-45 1-51 1-57 1-60 1-87 1-59 1-46 1-26 1-8 1 8 1 5 1 15 1 18 1 20 1 24 1 22 1 22 1-37 1 21 1 18 1 16 1 12 1 13 1 13 1 16 1 15 1 15 1 16 1 16 1 16 1 15 1 14 1 14 1 12 1 9 1 9 1 8 1 6 1 7 1 8 1 9 1 11 1 7 1 2 1 4 1 3 1 2 1 1 1 2 1 2 1 4 1 4 1 6 1 7 1 8 1 7 1 3 1-1 1-2 1-4 1-4 1-3 1 1 1 5 1 8 1 8 1 9 1 6 1-1 1-4 1-6 1-4 1-1 1 2 1 5 1 4 1 0 1 2 1 1 1-2 1-5 1-6 1-5 1-3 1-1 1-1 1-7 1-1 1 5 1 10 1 13 1 14 1 5 1-12 1-10 1-9 1-6 1-5 1-3 1-1 1 1 1 5 1 0 1 0 1 3 1 9 1 13 1 16 1-8 1-11 1-10 1-10 1-9 1-9 1-7 1-5 1-2 1-1 1 1 1-3 1-12 1-23 1-39 1-57 1-72 1-84 1-7 1-59 1-45 1-27 1-8 1 8 1 5 1 16 1 17 1 20 1 24 1 23 1 21 1 9 1 25 1 22 1 20 1 16 1 15 1 14 1 13 1 14 1 13 1 11 1 9 1 7 1 7 1 9 1 10 1 6 1 3 1 3 1 1 1 2 1 0 1 3 1 4 1 5 1 7 1 9 1 10 1 11 1 10 1 10 1 4 1 1 1 5 1 9 1 4 1-8 1-8 1-7 1-9 1-7 1-3 1 3 1 6 1 4 1 5 1 5 1 6 1 6 1 5 1 5 1 6 1 7 1 9 1 10 1-1 1-1 1 1 1 2 1 4 1 4 1 3 1 2 1-2 1-5 1-6 1-6 1-3 1-4 1-4 1-5 1-2 1 0 1 3 1 3 1 7 1 8 1 10 1 7 1 2 1-6 1-3 1-1 1 5 1 9 1-11 1-12 1-11 1-10 1-6 1-6 1-8 1-4 1 0 1 5 1 7 1 7 1 7 1 6 1 5 1 3 1 2 1-3 1-15 1-27 1-38 1-46 1-53 1-54 1-113 1-59 1-46 1-26 1-8 1 8 1 5 1 15 1 18 1 20 1 24 1 23 1 22 1 20 1 8 1 9 1 11 1 9 1 11 1 11 1 13 1 14 1 15 1 14 1 14 1 14 1 14 1 13 1 12 1 10 1 10 1 7 1 4 1 3 1 2 1 2 1 5 1 8 1 11 1 13 1 12 1 7 1 4 1 5 1 6 1 6 1-2 1-3 1-2 1-4 1-1 1 3 1 5 1 5 1 9 1 12 1 0 1-11 1-9 1-4 1 0 1 3 1 6 1 3 1 5 1 5 1 4 1 3 1 4 1 6 1 4 1 2 1-1 1-3 1-1 1 1 1 2 1 0 1 0 1 1 1 3 1 5 1 3 1 3 1 0 1-3 1-4 1-6 1-5 1-7 1-7 1-6 1-5 1 1 1 5 1 8 1 9 1 11 1 6 1-14 1-11 1-8 1-7 1-2 1 4 1 8 1 13 1 14 1 11 1-4 1-5 1-1 1 3 1-5 1-5 1-14 1-22 1-32 1-41 1-48 1-58 1-66 1-71 1-29 1-42 1-25 1-7 1 7 1 5 1 14 1 17 1 18 1 22 1 21 1 45 1 23 1 17 1 14 1 9 1 5 1 3 1 2 1 1 1 2 1 4 1 7 1 10 1 14 1 16 1 15 1 5 1 6 1 8 1 10 1 10 1 9 1 11 1 11 1 11 1 11 1 2 1-1 1 2 1 3 1 4 1 4 1 4 1 6 1 8 1 6 1-1 1-2 1 0 1 1 1 3 1-1 1 0 1 1 1 3 1 3 1 1 1-1 1 1 1 3 1 7 1 8 1 6 1 6 1-2 1-5 1-2 1 1 1-2 1-4 1-1 1 1 1-2 1 1 1 3 1 6 1 7 1 7 1-8 1-6 1 1 1 4 1 6 1-9 1-12 1-11 1-7 1-2 1 3 1 6 1 9 1 9 1 5 1 3 1 1 1 0 1-6 1-5 1-2 1 3 1 3 1 1 1 1 1 0 1 2 1 3 1-1 1-4 1-6 1-4 1 1 1 5 1 5 1-3 1-19 1-45 1-57 1-64 1-69 1-69 1-23 1-58 1-45 1-26 1-7 1 7 1 5 1 15 1 18 1 19 1 24 1 22 1 21 1 28 1 16 1 14 1 12 1 10 1 11 1 11 1 12 1 11 1 11 1 12 1 13 1 13 1 11 1 10 1 11 1 10 1 9 1 8 1 7 1 6 1 5 1 5 1 6 1 7 1 9 1 10 1 10 1 9 1 8 1 5 1 0 1 0 1-1 1 0 1 3 1 2 1-1 1 0 1 2 1 3 1 6 1-2 1-1 1-2 1-2 1-1 1 1 1 4 1 6 1 5 1 3 1 2 1 1 1 2 1 0 1-1 1-1 1-1 1 1 1 5 1 5 1 5 1-10 1-6 1-5 1-5 1 0 1 4 1 7 1 11 1 9 1-3 1-7 1-4 1-2 1 2 1 3 1 5 1 2 1-1 1-3 1-4 1-4 1-4 1-3 1 2 1-1 1 2 1 6 1 3 1 3 1 6 1 4 1-1 1 0 1-3 1-2 1-1 1-3 1-1 1-3 1-10 1-21 1-35 1-48" fill="none" stroke="#0000ff" stroke-width="1.3" stroke-linejoin="round" vector-effect="non-scaling-stroke"/></g>
<rect x="902.60" y="1132.50" width="683.60" height="39.90" fill="none" stroke="#ff0000" stroke-width="2"/>
<g fill="#262626" stroke="#262626" stroke-width="0.3">
<text x="902.00" y="1202.80" font-size="22" text-anchor="middle" font-family='"Liberation Sans", Arial, Helvetica, sans-serif'>0</text>
<text x="985.40" y="1202.80" font-size="22" text-anchor="middle" font-family='"Liberation Sans", Arial, Helvetica, sans-serif'>0.1</text>
<text x="1068.79" y="1202.80" font-size="22" text-anchor="middle" font-family='"Liberation Sans", Arial, Helvetica, sans-serif'>0.2</text>
<text x="1152.19" y="1202.80" font-size="22" text-anchor="middle" font-family='"Liberation Sans", Arial, Helvetica, sans-serif'>0.3</text>
<text x="1235.59" y="1202.80" font-size="22" text-anchor="middle" font-family='"Liberation Sans", Arial, Helvetica, sans-serif'>0.4</text>
<text x="1318.98" y="1202.80" font-size="22" text-anchor="middle" font-family='"Liberation Sans", Arial, Helvetica, sans-serif'>0.5</text>
<text x="1402.38" y="1202.80" font-size="22" text-anchor="middle" font-family='"Liberation Sans", Arial, Helvetica, sans-serif'>0.6</text>
<text x="1485.77" y="1202.80" font-size="22" text-anchor="middle" font-family='"Liberation Sans", Arial, Helvetica, sans-serif'>0.7</text>
<text x="1569.17" y="1202.80" font-size="22" text-anchor="middle" font-family='"Liberation Sans", Arial, Helvetica, sans-serif'>0.8</text>
<text x="894.20" y="1131.00" font-size="22" text-anchor="end" font-family='"Liberation Sans", Arial, Helvetica, sans-serif'>0.5</text>
<text x="894.20" y="1080.40" font-size="22" text-anchor="end" font-family='"Liberation Sans", Arial, Helvetica, sans-serif'>1</text>
<text x="894.20" y="1029.80" font-size="22" text-anchor="end" font-family='"Liberation Sans", Arial, Helvetica, sans-serif'>1.5</text>
<text x="894.20" y="979.20" font-size="22" text-anchor="end" font-family='"Liberation Sans", Arial, Helvetica, sans-serif'>2</text>
<text x="894.20" y="928.60" font-size="22" text-anchor="end" font-family='"Liberation Sans", Arial, Helvetica, sans-serif'>2.5</text>
<text x="894.20" y="878.00" font-size="22" text-anchor="end" font-family='"Liberation Sans", Arial, Helvetica, sans-serif'>3</text>
<text x="1243.20" y="1236.00" font-size="24.2" text-anchor="middle" font-family='"Liberation Sans", Arial, Helvetica, sans-serif'>Time[S]</text>
<text transform="translate(851.00 1011.45) rotate(-90)" font-size="24.3" text-anchor="middle" textLength="174.7" lengthAdjust="spacing" font-family='"Liberation Sans", Arial, Helvetica, sans-serif'>Amplitude[m/s<tspan dy="-11" dx="0.4" font-size="19.4">2</tspan><tspan dy="11" dx="0.6">]</tspan></text>
</g>
<rect x="1294.00" y="859.00" width="282.50" height="43.00" fill="#fff" stroke="#262626" stroke-width="1.1"/>
<path d="M1301.00 880.60H1372.00" stroke="#0000ff" stroke-width="1.1" fill="none"/>
<text x="1378.00" y="891.00" font-size="27.5" text-anchor="start" font-family='"Liberation Sans", Arial, Helvetica, sans-serif' textLength="188.4" lengthAdjust="spacing" fill="#000" stroke="#000" stroke-width="0.3">Slice waveform</text>
<clipPath id="cdL"><rect x="91.30" y="1272.80" width="684.90" height="324.00"/></clipPath>
<g stroke="#262626" stroke-width="1.3" fill="none" stroke-linecap="butt">
<rect x="91.90" y="1273.40" width="683.70" height="322.80"/>
<path d="M91.90 1596.20v-6.90M91.90 1273.40v6.90M175.31 1596.20v-6.90M175.31 1273.40v6.90M258.72 1596.20v-6.90M258.72 1273.40v6.90M342.13 1596.20v-6.90M342.13 1273.40v6.90M425.53 1596.20v-6.90M425.53 1273.40v6.90M508.94 1596.20v-6.90M508.94 1273.40v6.90M592.35 1596.20v-6.90M592.35 1273.40v6.90M675.76 1596.20v-6.90M675.76 1273.40v6.90M759.17 1596.20v-6.90M759.17 1273.40v6.90M91.90 1511.50h6.90M775.60 1511.50h-6.90M91.90 1424.50h6.90M775.60 1424.50h-6.90M91.90 1337.50h6.90M775.60 1337.50h-6.90"/>
</g>
<g clip-path="url(#cdL)"><path transform="translate(91.900 1273.40) scale(0.068368 0.5)" d="M0 282l1-141 1 433 1-501 1 379 1-263 1 220 1-185 1 240 1-343 1 286 1-179 1 138 1-135 1 200 1-217 1 141 1-109 1 101 1-68 1 77 1-137 1 134 1-126 1 110 1-43 1 74 1-77 1 21 1-27 1 55 1-83 1 117 1-120 1 108 1-64 1 43 1-84 1 39 1-13 1 17 1-6 1 8 1 3 1 49 1-35 1-15 1-53 1 54 1-1 1-26 1 8 1 21 1-15 1 18 1-7 1 36 1-55 1 25 1-33 1 37 1 22 1-25 1-46 1 49 1 4 1 10 1-7 1-8 1 9 1-45 1 30 1-4 1-29 1 3 1 28 1-7 1-10 1 20 1 28 1-43 1-9 1 12 1 24 1-12 1 6 1-4 1-33 1-2 1 15 1 3 1-3 1 14 1 0 1 13 1-13 1-44 1 26 1 24 1 2 1 8 1-24 1 0 1 35 1-37 1 20 1-38 1 24 1-30 1 42 1-3 1-12 1-14 1 9 1 35 1-27 1 3 1 8 1 5 1-46 1 41 1 8 1-18 1-146 1 375 1-428 1 307 1-210 1 177 1-174 1 268 1-305 1 227 1-159 1 153 1-113 1 134 1-178 1 166 1-145 1 110 1-111 1 137 1-130 1 108 1-82 1 56 1-50 1 70 1-72 1 42 1-12 1 11 1-58 1 47 1-78 1 112 1-76 1 20 1-24 1 74 1-71 1 7 1 42 1-18 1-32 1 61 1-56 1 55 1-20 1 13 1-32 1 23 1-41 1 52 1-26 1-12 1-1 1 48 1-53 1 33 1-23 1 7 1-23 1 29 1 28 1-2 1-45 1 23 1-31 1 23 1 12 1-30 1 33 1 27 1-82 1 80 1-53 1-3 1 13 1 37 1-53 1 49 1-5 1-16 1-24 1 11 1-11 1 26 1-8 1 21 1-17 1-17 1 16 1-13 1 18 1 2 1-13 1 5 1-15 1 8 1-31 1 39 1-1 1 16 1-20 1-13 1 27 1-13 1-15 1 17 1 7 1-28 1 16 1-5 1-15 1 0 1 29 1 3 1-15 1 8 1 33 1-60 1 24 1-4 1-120 1 334 1-428 1 336 1-188 1 165 1-186 1 250 1-313 1 232 1-163 1 157 1-119 1 154 1-219 1 143 1-92 1 138 1-129 1 97 1-115 1 117 1-84 1 76 1-82 1 94 1-124 1 89 1-24 1 17 1-48 1 84 1-69 1 86 1-94 1 57 1 1 1 32 1-76 1 16 1-6 1 9 1 10 1 31 1-74 1 31 1-5 1-12 1 30 1 7 1-49 1 1 1 24 1-22 1 34 1-6 1-5 1 38 1-42 1-7 1 15 1 7 1-38 1 58 1 0 1-12 1 6 1-43 1 13 1 28 1-9 1-63 1 63 1 7 1-25 1-3 1 6 1 24 1 2 1-31 1 10 1 32 1-55 1 9 1 18 1 2 1-11 1 19 1 12 1-32 1 33 1-33 1 33 1-24 1-1 1-36 1 54 1 8 1-16 1 10 1-11 1-19 1-7 1-16 1 45 1-64 1 12 1 42 1 40 1-42 1-3 1 45 1-45 1 5 1 11 1-27 1-7 1 29 1-14 1 17 1 2 1-6 1-171 1 382 1-445 1 334 1-180 1 164 1-226 1 295 1-290 1 239 1-203 1 158 1-144 1 171 1-196 1 166 1-92 1 133 1-122 1 95 1-145 1 99 1-61 1 58 1-75 1 116 1-112 1 101 1-99 1 61 1-51 1 37 1-60 1 74 1-50 1 72 1-65 1 45 1-14 1-21 1 16 1-6 1 1 1 0 1-39 1 66 1-3 1-13 1-32 1 42 1-18 1-4 1 51 1-30 1 4 1-20 1 5 1 19 1-22 1 27 1-34 1 22 1-17 1 15 1-37 1 24 1-16 1 7 1 17 1-21 1 1 1 4 1 10 1 5 1-28 1-23 1 55 1-24 1 15 1-19 1 3 1-9 1 72 1-41 1 6 1-15 1 10 1 0 1-26 1-23 1 90 1-47 1-14 1 8 1 5 1 20 1-8 1-31 1-8 1 20 1 17 1-17 1 6 1-15 1 8 1 14 1-16 1 27 1-39 1-6 1 45 1-31 1 27 1-39 1 3 1 22 1-24 1 28 1 3 1-1 1-8 1 14 1-172 1 412 1-449 1 293 1-193 1 215 1-237 1 254 1-289 1 257 1-183 1 111 1-68 1 134 1-200 1 171 1-130 1 127 1-122 1 103 1-126 1 131 1-54 1 53 1-52 1 19 1-66 1 91 1-44 1 39 1-57 1 75 1-125 1 98 1-33 1 9 1-52 1 42 1-12 1 21 1-21 1 13 1-15 1 50 1-26 1-4 1 11 1-35 1 11 1 39 1-35 1 20 1-18 1-11 1 36 1 21 1-58 1 22 1-14 1 1 1 5 1-10 1 22 1-10 1 12 1 10 1-38 1 7 1 41 1-10 1-31 1-12 1 30 1-5 1 19 1-72 1 37 1-6 1 3 1-3 1 3 1 21 1-23 1 14 1-24 1 40 1-6 1-21 1-13 1 23 1 15 1-10 1 6 1-45 1 19 1-7 1 18 1 17 1-34 1-8 1 20 1 12 1-22 1 29 1-23 1 29 1 5 1-29 1 4 1-30 1 41 1-5 1 22 1 14 1-2 1-42 1 31 1-44 1-6 1 33 1-38 1 38 1-178 1 398 1-444 1 356 1-250 1 216 1-200 1 245 1-303 1 238 1-167 1 133 1-91 1 141 1-216 1 187 1-126 1 125 1-144 1 154 1-149 1 85 1-46 1 49 1-31 1 75 1-85 1 53 1-73 1 59 1-56 1 94 1-71 1 43 1-53 1 34 1-23 1 28 1-33 1 33 1-48 1 56 1-35 1 0 1-3 1 12 1 10 1-36 1 67 1-3 1-23 1-35 1 14 1 21 1 10 1-19 1-10 1 26 1 8 1-1 1-31 1 7 1-6 1 12 1 26 1-31 1 17 1-15 1-15 1 27 1 3 1-35 1 9 1 23 1 40 1-53 1-15 1-7 1 32 1 2 1-7 1-22 1 37 1-19 1 14 1-21 1 33 1-35 1 15 1-4 1-15 1-11 1 53 1-51 1 8 1 17 1-33 1 24 1-22 1 37 1 5 1-40 1-18 1 29 1-5 1 26 1 16 1-20 1-34 1 65 1-27 1 28 1-39 1-14 1 40 1-16 1-33 1 27 1 22 1 1 1 14 1-43 1-131 1 364 1-440 1 342 1-220 1 168 1-180 1 255 1-272 1 182 1-115 1 159 1-163 1 156 1-243 1 205 1-84 1 25 1-53 1 129 1-129 1 107 1-118 1 96 1-57 1 82 1-139 1 116 1-72 1 50 1-42 1 78 1-97 1 32 1-1 1 46 1-22 1 11 1-38 1 32 1-25 1 48 1-63 1 37 1-26 1 18 1-29 1 31 1 3 1-20 1 9 1 22 1 5 1-20 1 10 1 3 1-34 1 20 1-27 1 20 1 8 1 7 1-7 1-14 1 6 1 13 1-28 1 20 1 4 1 25 1-41 1 7 1 1 1 13 1 3 1-8 1-11 1 9 1-2 1 9 1-19 1 5 1 17 1-28 1-2 1 2 1 16 1 3 1 17 1-36 1 55 1-33 1-2 1-22 1 16 1 19 1 8 1-12 1-17 1 1 1 5 1 10 1-10 1-23 1 40 1-21 1-31 1 21 1 19 1-21 1 26 1-14 1-30 1-6 1 69 1-46 1-24 1 48 1-16 1-24 1 39 1-9 1-141 1 348 1-415 1 323 1-228 1 161 1-155 1 264 1-308 1 223 1-157 1 173 1-130 1 184 1-251 1 161 1-85 1 88 1-89 1 122 1-149 1 106 1-103 1 80 1-37 1 74 1-128 1 84 1-42 1 32 1-57 1 108 1-74 1 68 1-75 1 45 1-22 1 39 1-72 1 49 1-14 1-16 1 26 1 29 1-104 1 79 1-11 1 16 1-24 1 0 1-20 1 19 1 6 1 32 1-43 1-12 1-5 1 34 1-25 1 29 1-13 1 31 1-27 1-2 1 1 1-13 1-26 1 16 1 25 1 13 1-5 1 9 1-22 1-3 1-1 1 4 1-2 1 8 1 9 1-44 1 10 1 39 1-1 1-5 1-13 1-22 1 3 1 0 1-1 1 0 1 7 1 6 1 10 1 32 1-32 1-36 1 44 1 3 1-33 1 19 1 10 1-38 1 17 1-2 1 25 1-20 1 2 1-8 1-7 1 1 1 18 1-10 1 35 1-34 1-1 1 21 1 7 1-14 1 22 1-29 1 0 1 35 1-178 1 382 1-435 1 300 1-194 1 195 1-188 1 235 1-338 1 246 1-152 1 136 1-73 1 147 1-205 1 124 1-109 1 134 1-102 1 109 1-123 1 110 1-69 1 32 1-27 1 43 1-78 1 61 1-63 1 84 1-39 1 33 1-40 1 45 1-45 1 24 1-2 1 22 1-64 1 20 1 40 1-42 1-12 1 64 1-24 1-12 1 0 1 3 1-27 1 41 1-31 1 10 1-19 1-7 1-8 1 40 1-6 1-38 1 26 1 10 1 23 1-27 1 19 1 2 1 11 1-11 1-15 1 35 1-18 1-10 1 19 1 2 1-10 1 14 1-43 1 34 1-36 1 0 1 38 1-21 1 7 1 15 1-17 1-1 1-19 1-4 1 38 1-11 1-19 1-12 1 68 1-69 1 26 1-32 1 37 1 8 1-17 1-21 1 21 1 46 1-58 1 44 1-12 1 4 1 12 1-11 1-5 1-7 1-11 1 6 1 21 1-24 1-23 1 1 1 16 1-9 1-6 1-9 1-6 1 38 1-1 1-22 1-170 1 414 1-462 1 364 1-172 1 128 1-189 1 271 1-321 1 215 1-127 1 114 1-129 1 189 1-225 1 174 1-85 1 61 1-95 1 144 1-170 1 111 1-32 1 44 1-60 1 97 1-129 1 101 1-59 1 32 1-46 1 60 1-108 1 106 1-50 1 59 1-63 1 29 1-51 1 72 1-30 1-9 1 5 1 8 1 3 1-19 1-10 1 25 1 10 1 7 1-29 1 15 1-4 1 12 1-18 1-9 1 49 1 0 1-5 1-9 1 13 1-35 1-2 1 15 1 3 1-12 1-5 1 4 1 13 1-21 1 37 1-49 1 79 1-43 1 7 1-35 1 41 1-61 1 63 1-66 1 27 1 11 1-10 1-32 1 23 1 62 1-68 1 20 1 35 1-45 1 37 1-25 1-3 1 18 1-26 1 33 1-24 1 15 1-8 1-39 1 34 1 23 1-19 1 13 1-16 1-2 1 1 1 1 1 11 1-18 1-12 1 32 1-11 1-2 1-23 1 4 1 34 1-15 1 30 1-10 1-19 1-2 1-164 1 403 1-436 1 309 1-205 1 180 1-185 1 244 1-304 1 224 1-123 1 104 1-102 1 163 1-243 1 186 1-73 1 39 1-80 1 117 1-125 1 104 1-58 1 70 1-103 1 118 1-96 1 73 1-92 1 61 1-18 1 50 1-78 1 43 1 15 1-19 1-7 1 47 1-52 1 12 1-41 1 51 1-28 1 53 1-57 1 18 1 29 1-5 1-39 1 67 1-48 1-3 1 34 1-16 1-18 1-3 1 26 1-34 1 8 1-11 1-5 1 24 1-13 1 50 1-12 1-2 1-17 1-19 1 45 1-23 1 16 1 7 1-61 1 31 1-34 1 12 1 38 1 20 1-77 1 50 1 11 1-33 1 9 1 17 1-8 1-8 1 0 1-12 1 20 1 1 1-19 1 7 1-16 1 26 1-3 1 21 1-52 1 56 1-31 1 22 1-24 1-8 1 45 1-26 1 28 1-59 1 35 1 22 1-18 1-38 1-4 1 5 1 39 1-12 1-34 1 45 1-8 1 13 1 3 1-45 1 11 1 13 1-143 1 345 1-386 1 287 1-185 1 183 1-209 1 257 1-252 1 179 1-137 1 101 1-119 1 188 1-184 1 129 1-73 1 59 1-90 1 114 1-96 1 88 1-110 1 99 1-88 1 75 1-69 1 78 1-65 1 58 1-50 1 44 1-44 1 35 1-27 1 43 1-45 1 43 1-19 1 2 1-20 1 23 1 11 1-31 1-26 1 21 1-7 1 42 1-38 1 36 1-79 1 66 1-32 1 51 1-15 1-2 1-37 1 13 1-1 1 46 1-62 1 47 1-58 1 2 1 15 1 1 1 39 1-68 1 39 1-10 1 32 1-12 1 19 1-15 1-9 1-2 1-23 1 19 1 3 1 6 1-41 1 52 1-35 1 61 1-22 1-23 1 9 1-59 1 7 1 80 1-10 1-16 1-38 1 13 1 15 1 34 1-12 1 36 1-23 1-37 1-7 1 40 1-27 1-29 1 28 1 9 1-18 1 2 1 8 1 13 1-3 1-10 1 13 1-36 1 8 1-4 1-18 1 9 1 3 1 20 1 11 1-38 1-89 1 316 1-398 1 309 1-202 1 163 1-150 1 251 1-307 1 196 1-118 1 124 1-133 1 144 1-163 1 169 1-110 1 75 1-50 1 60 1-102 1 74 1-58 1 67 1-94 1 117 1-88 1 49 1-54 1 55 1-20 1 20 1-60 1 18 1 14 1 18 1-11 1 53 1-73 1 17 1 15 1 12 1-9 1-23 1 8 1-1 1 13 1-5 1 1 1 49 1-66 1 6 1 41 1-28 1-4 1 24 1-30 1 43 1-49 1-12 1 41 1-15 1-38 1 32 1 8 1 12 1-25 1 11 1-21 1 46 1-53 1 31 1-23 1 30 1 7 1-11 1 5 1-9 1-21 1-6 1 14 1 16 1-3 1-19 1-11 1 29 1-5 1 13 1-19 1-14 1 73 1-59 1 14 1 35 1-51 1 8 1-9 1 34 1-68 1 39 1 9 1-36 1 17 1-3 1-7 1 62 1-72 1 39 1-12 1-12 1 31 1-20 1-9 1 16 1-10 1 40 1-8 1-1 1-29 1-64 1 66 1 19 1-177 1 412 1-482 1 385 1-281 1 232 1-226 1 336 1-347 1 212 1-118 1 103 1-143 1 197 1-236 1 175 1-116 1 116 1-106 1 76 1-124 1 128 1-73 1 90 1-86 1 100 1-132 1 117 1-25 1 13 1-71 1 29 1-48 1 95 1-51 1 46 1-47 1 57 1-37 1-2 1-20 1 29 1-32 1-3 1 2 1 36 1-41 1 63 1-61 1 49 1-23 1 0 1-41 1 56 1-42 1 24 1 18 1-32 1 25 1 20 1-20 1 8 1-37 1 34 1-48 1 29 1 13 1 9 1-28 1 49 1-1 1-21 1-33 1 14 1-3 1 9 1 35 1-33 1 25 1-47 1 13 1 4 1-11 1 3 1 0 1 0 1 15 1 16 1-33 1-20 1 7 1 25 1-17 1 21 1-17 1 20 1-15 1-35 1 23 1-13 1 43 1-1 1-13 1-11 1 14 1-23 1 30 1-37 1 7 1 41 1-33 1 16 1-24 1 30 1-17 1-4 1 63 1-17 1-38 1 5 1-22 1 27 1-153 1 388 1-495 1 391 1-242 1 203 1-184 1 285 1-327 1 177 1-109 1 147 1-143 1 190 1-243 1 158 1-107 1 100 1-85 1 127 1-188 1 146 1-86 1 115 1-118 1 98 1-132 1 162 1-108 1 51 1-52 1 78 1-93 1 48 1-24 1 39 1-34 1 47 1-61 1 54 1-1 1-41 1 37 1-1 1-14 1 8 1-5 1-2 1 0 1 29 1-55 1-1 1 7 1 15 1 12 1-5 1-27 1 34 1-38 1 25 1-15 1 26 1-11 1-5 1-9 1 6 1 21 1 1 1-21 1 41 1-60 1 18 1 2 1 19 1-35 1 25 1-44 1 31 1 33 1-39 1 20 1 3 1-7 1-1 1-8 1-8 1 3 1 25 1 11 1-10 1-23 1-8 1-20 1 62 1-29 1 7 1 3 1-10 1 6 1 2 1 6 1-19 1-13 1-11 1 41 1 11 1-16 1 11 1-36 1 36 1-17 1 27 1-19 1-10 1-26 1 43 1-21 1 47 1-17 1-7 1-6 1-8 1-161 1 376 1-431 1 352 1-271 1 219 1-185 1 259 1-306 1 226 1-134 1 103 1-120 1 164 1-192 1 141 1-73 1 6 1-6 1 113 1-169 1 101 1-30 1 78 1-66 1 74 1-102 1 61 1-70 1 41 1-9 1 34 1-74 1 40 1-2 1 40 1-57 1 23 1-7 1-13 1-18 1 58 1 5 1 8 1-36 1 7 1 26 1-64 1-12 1 76 1 1 1-17 1-21 1-9 1 3 1 30 1 19 1-36 1-14 1 29 1-18 1 10 1-2 1 25 1-33 1 38 1-58 1 49 1-33 1 28 1-24 1 14 1-17 1 29 1 11 1-22 1-1 1 24 1-17 1 21 1-37 1 12 1-9 1-49 1 46 1-2 1-7 1 16 1 7 1-27 1-4 1 77 1-54 1 5 1 3 1-34 1 34 1-26 1 26 1-2 1-22 1 28 1-11 1 18 1-5 1-30 1 2 1 34 1 0 1-71 1 61 1 5 1-27 1 25 1-8 1-24 1-3 1 24 1-30 1 29 1 1 1 6 1-144 1 348 1-411 1 322 1-222 1 195 1-179 1 232 1-310 1 229 1-158 1 118 1-92 1 175 1-194 1 127 1-107 1 72 1-29 1 70 1-138 1 75 1-23 1 62 1-29 1 63 1-86 1 67 1-47 1 52 1-67 1 44 1-71 1 64 1-53 1 27 1 23 1 12 1-25 1 28 1-44 1 25 1-49 1 14 1 1 1 34 1-15 1 10 1-24 1 42 1-46 1 31 1-34 1 3 1-16 1 48 1 8 1 17 1-33 1 27 1-1 1-17 1 2 1-24 1-29 1 46 1-15 1 42 1-40 1 21 1 5 1 17 1-69 1 65 1-12 1-20 1-7 1 1 1 2 1 22 1-35 1 13 1 30 1-57 1 36 1-23 1 44 1-4 1-13 1 4 1-34 1 52 1-36 1 24 1-30 1 6 1 14 1-52 1 42 1-21 1 46 1-23 1-4 1 0 1 8 1 10 1 43 1-48 1 6 1-12 1-22 1-26 1 32 1-9 1 8 1-2 1 2 1 17 1 1 1-13 1-28 1 31 1-195 1 438 1-490 1 375 1-246 1 253 1-206 1 280 1-365 1 205 1-126 1 175 1-176 1 209 1-245 1 188 1-98 1 87 1-125 1 143 1-180 1 165 1-119 1 89 1-72 1 73 1-85 1 75 1-61 1 48 1-51 1 54 1-61 1 75 1-92 1 80 1-40 1 65 1-25 1 12 1-41 1 13 1-12 1 15 1-40 1 27 1 1 1 14 1-9 1 33 1-69 1 70 1-35 1 5 1 35 1-41 1 4 1 2 1 2 1 30 1-40 1 11 1-28 1 18 1 36 1-48 1 1 1 7 1-3 1 29 1-28 1 21 1-66 1 65 1 11 1-11 1-36 1 40 1 34 1-72 1 18 1 19 1-25 1 33 1 3 1-39 1 26 1-18 1 9 1-15 1 13 1 42 1-54 1 24 1-27 1 16 1-26 1 34 1 32 1-32 1-17 1 17 1 2 1-36 1 30 1-23 1 17 1 31 1-10 1-11 1-13 1 22 1 11 1-7 1-10 1 8 1-7 1-46 1 30 1 21 1-15 1-20 1-142 1 366 1-437 1 383 1-244 1 189 1-162 1 243 1-325 1 272 1-159 1 101 1-143 1 180 1-224 1 147 1-90 1 114 1-136 1 129 1-131 1 142 1-93 1 110 1-96 1 124 1-139 1 47 1-29 1 12 1-11 1 54 1-60 1 35 1-22 1 5 1-37 1 63 1-18 1 3 1-38 1 33 1-13 1 15 1-40 1 100 1-95 1 28 1-8 1 38 1-37 1 9 1 30 1-34 1 4 1-14 1 0 1 27 1-11 1-5 1 3 1 1 1 14 1 18 1-18 1 21 1-17 1-16 1 31 1-3 1-41 1 28 1-13 1 27 1-8 1-11 1-39 1 25 1 38 1-38 1-12 1 7 1 35 1-21 1-43 1 60 1-26 1 22 1 9 1-15 1-29 1-1 1 37 1-6 1 7 1 23 1-52 1-17 1 0 1 38 1-35 1 5 1 27 1-6 1 7 1-11 1-31 1 53 1 5 1-40 1 16 1 37 1-17 1-3 1-5 1-17 1-13 1 22 1-6 1 17 1-34 1 4 1-126 1 370 1-431 1 301 1-179 1 205 1-215 1 223 1-268 1 220 1-142 1 108 1-143 1 224 1-226 1 153 1-92 1 100 1-127 1 131 1-153 1 91 1-33 1 44 1-43 1 75 1-105 1 82 1-21 1-16 1-16 1 81 1-46 1 8 1-46 1 22 1-30 1 66 1-65 1 76 1-55 1 5 1 10 1 18 1-37 1 23 1-41 1 63 1-60 1 68 1-33 1 18 1-24 1 17 1-27 1 21 1-57 1 46 1 5 1-6 1-10 1 23 1 8 1 2 1-24 1-8 1 2 1 17 1-20 1 26 1-18 1-19 1 3 1-1 1 28 1-7 1 21 1-35 1 24 1 19 1-19 1-11 1 45 1-14 1-47 1 19 1 0 1 32 1-62 1 11 1 6 1 36 1-34 1-10 1 27 1 0 1 3 1-19 1 15 1 2 1 21 1 5 1-51 1-11 1 13 1-10 1 37 1-9 1-9 1 11 1-36 1 58 1-14 1-5 1 7 1-29 1 54 1-60 1 4 1 12 1-21 1-9 1-108 1 352 1-412 1 305 1-185 1 185 1-205 1 263 1-317 1 218 1-116 1 109 1-118 1 169 1-222 1 169 1-100 1 127 1-133 1 152 1-156 1 63 1-69 1 100 1-41 1 46 1-78 1 55 1-13 1-7 1-48 1 111 1-77 1 46 1-58 1 79 1-69 1 45 1-33 1 4 1 30 1 7 1-29 1-4 1-10 1 32 1-40 1 32 1-10 1 11 1-33 1-30 1 62 1-17 1-1 1 14 1-48 1 25 1-5 1 28 1 1 1-14 1 2 1 12 1-28 1 40 1-13 1-24 1 10 1-9 1 26 1-27 1 24 1-36 1 6 1 10 1-23 1 25 1 17 1-40 1 20 1-14 1 19 1-18 1 37 1 10 1 0 1-40 1 51 1-2 1-8 1-30 1-6 1 25 1-31 1 9 1-17 1 6 1 30 1-16 1 6 1-11 1 4 1 4 1-14 1 13 1-13 1 14 1 3 1-20 1-1 1-5 1 11 1 16 1-8 1 1 1 36 1-11 1-51 1 30 1 53 1-41 1-165 1 384 1-437 1 301 1-211 1 212 1-204 1 249 1-299 1 251 1-166 1 134 1-134 1 200 1-235 1 163 1-107 1 91 1-58 1 76 1-142 1 148 1-94 1 77 1-69 1 54 1-89 1 46 1-12 1 66 1-66 1 105 1-148 1 80 1-37 1 35 1-10 1 25 1-33 1 29 1-38 1 49 1-74 1 78 1-68 1 52 1-4 1-17 1-9 1 25 1-24 1 27 1-31 1 27 1-19 1-8 1 31 1-3 1-5 1 9 1 4 1-12 1-18 1 13 1 23 1-39 1-5 1 18 1 14 1 2 1-57 1 8 1 20 1 31 1-46 1 24 1-31 1 45 1-22 1 16 1-22 1 29 1-31 1 26 1 8 1-26 1 5 1 46 1-41 1-1 1-3 1-34 1 50 1-11 1 31 1-4 1-17 1-8 1 0 1-15 1-2 1-5 1 22 1-12 1 23 1-20 1-3 1 19 1 51 1-48 1-62 1 51 1 10 1-14 1-19 1 15 1 10 1 21 1-19 1 17 1-30 1-13 1-120 1 333 1-355 1 285 1-212 1 154 1-159 1 216 1-219 1 200 1-179 1 144 1-158 1 219 1-190 1 124 1-106 1 66 1-49 1 75 1-80 1 72 1-43 1 38 1-49 1 49 1-140 1 152 1-61 1 17 1-22 1 20 1-8 1 6 1 3 1-7 1-11 1 30 1-21 1 52 1-33 1-18 1 2 1 3 1 13 1-18 1-19 1 72 1-59 1-16 1 33 1-20 1 10 1-8 1 16 1 18 1-19 1 8 1-2 1 11 1-43 1 39 1 4 1 1 1-32 1 56 1-56 1 1 1-17 1 37 1 5 1-17 1-2 1-19 1 20 1 13 1 15 1-20 1-7 1-19 1 18 1-22 1 1 1 40 1 6 1-9 1-9 1 12 1-30 1 2 1-11 1 19 1 12 1-15 1 24 1-19 1 17 1-36 1 72 1-67 1-1 1 18 1-7 1 3 1-22 1-6 1 31 1-31 1 43 1-20 1 0 1 32 1-30 1 19 1-28 1 32 1 17 1-9 1-25 1-6 1 0 1 31 1-193 1 416 1-450 1 304 1-201 1 231 1-246 1 276 1-307 1 204 1-117 1 111 1-124 1 133 1-132 1 123 1-107 1 78 1-63 1 128 1-187 1 145 1-85 1 70 1-71 1 117 1-117 1 67 1-52 1 24 1-32 1 57 1-57 1 27 1 1 1 21 1-3 1 31 1-84 1 53 1 11 1-14 1-17 1 45 1-61 1 36 1-21 1-4 1 16 1-14 1 4 1 16 1-40 1 27 1 5 1 8 1-22 1 43 1-48 1 20 1 18 1 2 1-45 1 48 1-70 1 66 1-29 1 59 1-55 1 14 1-22 1 8 1 7 1-43 1 21 1 33 1-23 1 64 1-46 1-32 1 31 1-11 1 23 1-35 1 11 1 4 1-20 1-12 1 15 1 50 1-42 1 4 1 25 1 10 1-23 1-2 1-5 1 14 1-18 1-2 1 11 1-13 1 18 1 20 1-31 1-16 1-35 1 92 1-31 1 7 1-22 1 22 1-19 1-16 1 33 1-13 1-33 1 14 1 48 1-70 1 52 1-8 1-144 1 373 1-432 1 303 1-188 1 199 1-201 1 241 1-264 1 173 1-118 1 102 1-141 1 193 1-212 1 174 1-96 1 113 1-122 1 126 1-108 1 56 1-93 1 83 1-75 1 109 1-84 1 53 1-40 1 57 1-83 1 72 1-51 1 34 1-26 1 14 1-47 1 80 1-34 1-15 1-42 1 77 1-14 1 32 1-54 1 21 1-8 1-8 1 19 1 13 1-9 1-34 1-5 1 5 1 32 1-29 1 5 1 3 1-5 1 24 1-9 1 34 1-29 1 2 1 13 1-20 1-27 1 40 1 2 1 3 1-24 1-26 1 27 1 6 1 20 1-26 1-8 1 21 1-9 1 15 1-30 1-9 1 17 1-1 1 7 1 15 1 0 1-5 1-11 1 3 1-20 1 6 1-16 1 15 1 19 1-6 1 32 1-62 1 42 1-2 1-43 1 55 1-9 1-10 1 9 1-12 1-3 1-7 1 13 1-15 1 20 1-18 1-11 1 55 1-28 1-8 1 39 1 23 1-65 1 19 1-28 1 26 1-155 1 351 1-425 1 351 1-220 1 163 1-166 1 235 1-289 1 230 1-134 1 95 1-96 1 148 1-168 1 118 1-101 1 107 1-69 1 90 1-146 1 117 1-65 1 30 1-40 1 86 1-120 1 88 1-34 1 12 1-18 1 31 1-36 1 31 1-50 1 44 1-30 1 39 1-53 1 49 1-29 1 32 1-60 1 79 1-63 1 57 1-44 1-1 1 32 1-36 1 30 1 14 1-32 1 36 1-49 1 22 1 46 1-14 1-20 1-15 1 21 1 2 1-35 1 38 1-29 1 35 1-49 1-2 1 42 1 28 1-16 1-47 1 26 1-27 1 41 1-4 1-18 1-21 1 23 1 18 1-29 1 7 1-9 1 14 1 7 1-11 1 45 1-50 1-19 1 14 1 27 1 12 1-55 1 36 1-7 1-7 1 15 1-11 1-29 1 38 1-46 1 30 1 0 1-11 1 0 1-2 1 9 1 22 1-42 1 34 1 12 1-32 1 4 1 13 1-2 1-9 1-26 1 38 1 22 1-13 1-20 1 23 1-132 1 309 1-385 1 303 1-201 1 187 1-169 1 221 1-252 1 171 1-124 1 125 1-127 1 154 1-169 1 136 1-86 1 39 1-22 1 76 1-144 1 131 1-64 1 55 1-38 1 16 1-60 1 82 1-51 1 22 1-27 1 60 1-86 1 71 1-38 1 15 1-8 1 19 1-28 1-31 1 38 1-3 1 11 1 29 1-47 1 25 1-13 1 6 1-29 1-4 1-21 1 51 1-42 1 10 1 36 1 9 1-21 1-29 1 34 1 7 1-36 1 37 1-9 1-8 1 4 1 53 1-26 1-32 1 35 1-46 1 21 1-3 1-3 1 43 1-25 1 10 1-27 1-22 1 31 1-3 1 35 1-28 1-4 1 1 1-16 1-14 1 25 1-6 1 36 1-41 1 10 1 35 1-41 1 20 1-32 1 11 1 6 1-30 1 35 1 3 1-7 1-1 1 18 1-26 1 2 1 18 1 19 1-52 1-2 1 8 1-2 1-16 1 28 1-25 1 33 1 14 1-17 1 6 1-15 1-25 1 26 1-1 1-155 1 417 1-444 1 323 1-273 1 255 1-178 1 261 1-370 1 282 1-173 1 131 1-160 1 228 1-239 1 154 1-125 1 123 1-100 1 132 1-172 1 112 1-46 1 45 1-23 1 54 1-82 1 66 1-76 1 21 1-6 1 64 1-65 1 31 1-16 1 8 1-40 1 56 1-27 1 13 1 5 1 40 1-75 1 12 1-21 1 56 1 42 1-36 1-40 1 38 1-56 1 58 1-35 1 14 1-10 1 45 1-40 1 4 1 6 1 23 1-22 1 18 1-35 1-4 1 7 1 3 1 7 1-2 1 34 1-33 1-19 1 30 1-26 1 46 1-35 1 8 1-14 1 8 1-42 1 106 1-36 1-13 1-16 1 16 1-1 1 19 1-6 1-8 1-47 1 46 1-70 1 34 1 24 1-20 1-4 1 43 1 7 1-58 1 46 1-35 1 3 1 46 1-45 1 2 1-14 1 25 1-9 1 1 1 12 1-36 1 13 1-11 1 23 1-16 1 41 1-6 1-32 1 24 1 3 1-10 1 33 1-24 1-153 1 370 1-403 1 254 1-174 1 205 1-184 1 255 1-279 1 214 1-158 1 97 1-126 1 177 1-215 1 154 1-61 1 77 1-104 1 103 1-140 1 146 1-53 1-20 1-12 1 51 1-72 1 95 1-98 1 57 1-58 1 69 1-32 1 28 1-50 1 59 1-43 1 17 1 3 1 16 1-32 1 4 1 2 1 36 1-54 1 44 1-34 1 14 1-2 1-3 1-26 1 62 1-45 1 22 1-6 1 4 1-34 1 35 1-3 1 24 1-27 1 5 1 8 1-5 1-20 1-13 1 28 1-38 1 12 1 7 1 2 1 13 1 11 1-7 1-7 1 1 1-29 1-7 1 27 1-7 1 29 1 27 1-37 1-6 1-23 1-18 1 39 1-18 1 3 1 18 1-13 1 10 1-24 1 51 1 23 1-46 1-16 1-1 1 29 1-20 1 22 1-25 1 27 1 7 1-39 1 42 1 4 1-43 1 13 1 47 1-68 1 47 1-15 1-7 1-41 1 40 1-18 1 20 1-13 1 37 1-27 1 23 1-163 1 369 1-466 1 354 1-217 1 186 1-169 1 246 1-332 1 257 1-156 1 134 1-127 1 181 1-243 1 219 1-170 1 112 1-91 1 152 1-166 1 119 1-99 1 67 1-76 1 109 1-65 1 58 1-62 1 32 1-10 1 36 1-78 1 67 1-43 1-16 1 13 1 3 1-16 1 55 1-48 1 40 1-28 1 70 1-83 1 43 1-49 1 34 1-5 1 32 1-44 1 25 1-3 1-41 1 29 1-7 1-27 1 33 1-12 1 9 1-16 1 17 1-10 1 15 1 7 1 4 1-1 1-10 1-28 1 48 1-10 1 10 1-20 1-17 1 21 1-8 1 47 1-39 1-14 1 24 1 15 1-37 1 10 1-35 1 43 1-6 1 2 1-7 1 35 1-59 1 13 1 17 1 1 1-15 1 2 1 16 1-6 1-9 1 14 1-1 1 1 1-1 1 18 1-7 1-25 1-8 1 16 1 67 1-40 1-35 1-25 1 9 1 27 1 3 1 1 1-40 1 28 1 22 1-36 1 3 1 53 1-14 1-212 1 443 1-497 1 376 1-264 1 230 1-191 1 275 1-366 1 265 1-142 1 88 1-110 1 233 1-262 1 225 1-155 1 91 1-149 1 179 1-168 1 116 1-70 1 86 1-107 1 110 1-132 1 94 1-18 1 40 1-49 1 64 1-93 1 69 1-26 1-9 1-31 1 69 1-32 1 31 1-23 1 25 1-21 1 8 1-38 1 25 1 8 1-8 1-47 1 54 1-13 1-40 1 33 1 28 1-39 1 44 1-23 1-13 1 22 1 24 1-49 1 8 1 29 1-10 1-33 1 21 1-16 1 25 1 1 1 5 1-9 1-6 1 51 1-10 1-42 1-8 1 22 1-10 1 18 1 9 1-33 1 7 1 7 1 16 1-27 1 4 1 1 1 0 1 3 1-15 1 1 1-24 1 5 1 28 1 22 1-34 1 22 1-39 1 55 1-18 1-38 1 30 1-14 1 2 1 20 1-24 1 31 1-9 1-46 1 43 1-11 1 28 1-46 1 43 1-4 1-2 1 6 1 9 1-21 1 4 1-8 1 26 1-143 1 309 1-389 1 318 1-210 1 175 1-194 1 236 1-271 1 195 1-102 1 81 1-95 1 169 1-204 1 167 1-144 1 109 1-47 1 100 1-140 1 97 1-81 1 47 1-57 1 82 1-60 1 27 1-44 1 96 1-63 1 47 1-53 1 12 1-19 1 34 1-3 1 51 1-63 1 29 1-18 1 40 1-28 1 3 1-43 1 38 1-20 1 10 1-13 1-7 1 18 1-4 1 19 1-38 1 0 1 6 1 3 1 14 1 15 1-24 1-25 1 85 1-94 1 55 1-29 1 28 1-16 1-13 1 13 1-33 1 30 1-9 1 21 1 2 1-6 1-14 1-24 1 33 1 22 1-10 1 11 1-32 1 7 1 22 1-15 1-22 1 7 1 20 1-25 1 7 1 17 1-13 1-32 1 56 1-40 1 22 1-15 1 5 1 1 1 9 1-3 1-12 1 3 1 37 1-37 1-15 1 7 1 13 1 38 1-45 1-1 1-15 1 45 1-13 1 5 1-5 1 27 1-23 1-1 1-1 1-37 1 52 1-162 1 375 1-436 1 296 1-202 1 212 1-189 1 239 1-299 1 223 1-136 1 110 1-107 1 171 1-214 1 176 1-119 1 88 1-66 1 126 1-200 1 135 1-72 1 71 1-102 1 115 1-69 1 31 1-20 1 16 1-31 1 30 1-53 1 66 1-66 1 4 1 33 1 8 1-33 1 33 1 9 1 15 1-64 1 50 1-19 1-20 1-5 1 23 1 19 1 0 1-50 1 82 1-19 1-5 1-43 1 27 1-20 1 16 1-5 1-15 1-51 1 68 1-27 1 41 1-43 1 32 1-6 1 18 1-1 1 1 1 5 1 9 1-62 1 30 1-15 1 13 1 34 1-26 1 16 1 1 1-17 1-2 1-1 1 1 1 7 1-4 1-26 1-16 1 19 1 27 1-13 1-10 1-2 1-3 1-1 1 17 1 12 1 25 1-51 1 10 1 27 1-16 1 7 1 2 1-43 1 41 1-53 1 49 1 11 1-16 1-44 1 49 1-13 1 53 1-54 1 38 1-25 1-28 1 31 1-18 1 17 1 13 1-172 1 401 1-442 1 315 1-201 1 208 1-227 1 264 1-318 1 217 1-146 1 165 1-153 1 176 1-202 1 197 1-130 1 77 1-106 1 141 1-124 1 56 1-44 1 70 1-80 1 80 1-85 1 84 1-49 1 17 1-25 1 45 1-22 1 24 1-35 1 31 1-1 1 10 1-85 1 59 1-7 1 24 1-8 1-3 1-13 1 17 1-40 1 12 1-7 1 62 1-43 1-17 1 35 1-38 1 16 1-6 1 11 1 25 1-10 1-41 1 28 1 26 1-50 1 53 1-31 1-5 1-4 1 4 1 2 1 51 1-55 1 8 1 0 1-9 1-10 1 14 1-27 1-11 1 34 1 15 1 15 1-33 1 43 1-65 1 13 1 30 1-25 1 31 1 4 1-35 1 33 1-23 1 6 1-31 1 23 1-24 1 13 1 32 1 7 1 19 1-42 1 55 1-38 1 31 1-35 1-25 1 30 1-6 1-2 1-14 1 33 1-30 1 4 1 18 1-1 1-42 1 9 1 6 1 24 1-9 1 18 1 19 1-176 1 367 1-415 1 316 1-237 1 199 1-160 1 173 1-218 1 180 1-118 1 93 1-112 1 148 1-179 1 163 1-139 1 114 1-82 1 113 1-126 1 82 1-92 1 62 1-35 1 72 1-96 1 96 1-86 1 64 1 0 1 7 1-35 1 25 1-39 1 47 1-39 1 16 1 9 1 42 1-55 1 21 1-63 1 46 1-21 1 35 1 20 1 1 1-32 1 8 1-9 1 5 1-21 1 36 1-14 1 22 1-56 1 72 1-57 1 3 1 48 1-22 1-39 1 45 1-11 1-6 1-30 1 19 1 18 1 18 1 0 1-33 1 45 1-26 1-27 1 38 1-19 1-3 1-18 1 43 1-30 1 4 1-4 1 33 1-41 1 28 1-16 1 15 1-54 1 37 1-41 1 54 1-8 1-32 1 34 1-15 1-14 1 30 1 5 1-8 1-24 1 11 1-17 1 31 1 3 1 13 1-16 1 6 1-10 1 16 1-4 1-8 1-24 1 25 1 4 1-30 1-7 1 32 1-1 1 30 1-5 1-19 1-167 1 412 1-437 1 308 1-235 1 229 1-217 1 276 1-328 1 201 1-162 1 169 1-134 1 214 1-229 1 115 1-95 1 97 1-82 1 97 1-108 1 107 1-128 1 132 1-86 1 98 1-134 1 107 1-46 1 42 1-64 1 91 1-58 1 24 1-28 1 12 1-12 1 43 1-63 1 32 1-34 1 38 1 17 1-8 1-32 1 25 1-27 1 29 1-40 1 45 1-54 1 64 1 13 1-17 1-82 1 72 1-18 1 4 1 6 1-7 1-4 1-28 1 6 1 25 1-13 1 6 1 28 1-36 1 26 1-22 1 9 1-11 1-13 1 20 1 15 1 1 1-19 1 20 1-2 1-3 1 2 1-15 1 17 1-9 1 15 1 21 1-51 1-2 1 28 1-25 1 9 1 29 1-46 1 62 1-38 1-14 1 34 1-51 1 41 1-34 1 27 1-17 1 14 1-46 1 37 1-11 1 5 1 10 1 9 1-13 1-11 1 1 1 7 1 13 1-16 1 33 1-19 1 39 1-27 1-10 1 24 1 6 1-204 1 396 1-448 1 322 1-213 1 194 1-186 1 244 1-261 1 209 1-176 1 139 1-119 1 187 1-238 1 181 1-87 1 50 1-63 1 113 1-114 1 129 1-130 1 41 1 12 1 51 1-122 1 83 1-47 1 46 1-26 1 19 1-67 1 63 1 17 1-46 1 4 1 28 1-74 1 47 1 4 1-2 1-11 1 50 1-47 1 61 1-19 1-20 1-37 1 64 1-64 1 37 1-43 1 51 1-73 1 61 1-2 1 2 1 32 1-35 1 6 1-7 1 6 1 54 1-8 1-32 1 7 1-35 1 30 1-24 1 9 1-30 1 25 1 2 1 18 1-23 1-8 1 17 1-18 1 37 1-19 1-10 1 12 1-28 1 10 1 26 1 4 1-16 1 13 1-6 1 13 1-35 1 10 1-1 1-11 1 61 1-46 1 6 1-19 1 5 1-1 1-15 1 61 1-15 1-45 1-3 1 43 1-37 1 4 1 44 1-16 1-17 1 7 1-35 1 22 1-5 1 29 1 12 1-12 1-39 1-9 1 62 1-176 1 399 1-451 1 348 1-265 1 190 1-146 1 254 1-345 1 223 1-117 1 146 1-161 1 162 1-170 1 155 1-142 1 111 1-72 1 108 1-158 1 101 1-58 1 69 1-31 1 42 1-101 1 82 1-46 1 42 1-59 1 83 1-53 1 11 1-9 1 28 1-43 1 53 1-52 1 56 1-69 1 71 1-71 1 76 1-43 1 19 1-41 1 27 1-1 1 34 1-66 1 36 1-19 1 22 1-4 1-9 1-9 1-4 1 10 1 38 1-49 1 23 1-5 1 63 1-48 1-16 1 11 1-11 1-14 1 18 1 14 1-23 1-2 1 16 1 26 1-9 1-41 1 22 1 28 1-28 1-8 1-9 1 2 1 3 1 21 1 19 1-23 1-36 1 54 1-45 1 45 1-3 1-28 1 19 1-12 1 18 1-25 1-13 1 43 1-37 1 2 1-7 1 58 1-60 1 39 1-17 1 3 1 12 1-4 1-2 1-18 1-10 1 20 1-21 1 12 1-19 1 47 1-28 1 4 1-3 1-5 1 2 1-153 1 399 1-455 1 340 1-217 1 168 1-193 1 256 1-285 1 233 1-206 1 164 1-88 1 141 1-211 1 176 1-107 1 105 1-100 1 130 1-142 1 97 1-63 1 34 1-70 1 108 1-99 1 58 1-35 1 3 1 45 1 53 1-94 1 23 1-40 1 54 1-40 1 47 1-64 1 7 1 59 1-65 1 1 1 54 1-49 1 35 1-26 1 15 1-20 1 53 1-54 1 41 1-18 1-11 1 14 1-1 1-16 1 16 1 18 1-26 1-1 1-31 1 52 1-32 1 23 1 3 1-44 1 42 1-25 1 18 1 16 1-10 1 1 1 0 1-45 1 31 1 39 1-67 1 27 1-7 1-16 1 48 1-24 1 11 1 2 1 1 1-10 1-19 1 7 1 10 1-18 1 68 1-46 1-5 1 0 1-21 1 23 1-22 1 29 1-16 1 11 1 7 1-15 1-1 1 28 1-35 1 23 1-7 1 53 1-50 1 35 1-52 1 31 1-6 1-6 1 23 1-27 1 25 1-20 1-20 1-9 1 8 1-133 1 380 1-453 1 315 1-178 1 157 1-170 1 297 1-353 1 203 1-132 1 130 1-123 1 222 1-205 1 138 1-119 1 106 1-97 1 94 1-162 1 172 1-85 1 46 1-62 1 127 1-204 1 120 1-44 1 88 1-86 1 87 1-103 1 57 1-29 1 22 1-10 1 26 1 1 1-24 1-6 1-32 1 27 1 74 1-107 1 68 1-9 1-6 1-40 1 6 1 23 1 5 1-11 1 26 1-12 1 6 1-17 1-10 1 50 1-40 1-4 1-11 1 23 1 8 1-14 1 17 1-4 1 8 1-8 1 13 1-12 1 7 1-4 1 16 1-49 1 16 1 4 1 22 1-35 1 20 1-6 1-1 1 2 1-20 1 33 1-1 1-18 1 9 1-16 1-6 1-10 1 10 1 22 1-1 1 3 1-28 1 25 1 13 1 3 1-34 1 31 1 34 1-65 1 8 1-9 1-3 1 8 1 3 1 6 1 17 1 24 1-2 1-45 1-8 1 14 1 16 1-27 1 13 1-1 1 7 1 15 1 8 1-194 1 418 1-462 1 336 1-241 1 213 1-206 1 265 1-333 1 281 1-213 1 176 1-122 1 122 1-160 1 149 1-94 1 58 1-20 1 69 1-115 1 53 1-84 1 89 1-33 1 49 1-124 1 116 1-39 1 10 1 9 1 39 1-76 1 50 1-53 1 55 1-12 1 46 1-73 1 25 1-33 1 27 1 18 1-10 1-10 1-12 1 14 1 14 1-9 1-10 1-2 1-38 1 19 1 55 1-31 1-8 1-11 1 15 1 0 1 41 1-8 1-35 1 17 1-5 1-17 1 53 1-4 1-41 1 14 1 1 1-32 1 31 1-8 1-2 1 34 1-63 1 23 1 20 1-34 1 43 1-9 1 14 1-21 1 11 1-21 1 20 1-20 1-2 1 0 1 1 1 5 1 19 1 20 1-43 1 33 1-33 1 7 1 1 1-2 1-11 1 30 1-25 1-15 1 6 1-6 1 27 1-4 1-37 1 25 1 5 1-14 1 36 1-14 1-11 1 9 1-30 1 21 1-9 1 33 1-16 1 1 1-1 1-156 1 376 1-430 1 286 1-174 1 202 1-223 1 246 1-277 1 211 1-89 1 82 1-116 1 127 1-170 1 124 1-61 1 90 1-83 1 130 1-153 1 74 1-18 1 30 1-80 1 97 1-102 1 76 1-51 1 89 1-107 1 77 1-49 1 45 1-35 1 13 1 7 1 39 1-44 1-8 1 12 1 0 1 4 1 6 1-23 1 28 1-51 1 33 1 7 1-46 1 42 1 21 1-1 1-54 1 18 1 10 1-30 1 30 1-19 1-11 1 20 1-2 1 1 1 9 1-29 1 20 1 2 1 47 1-26 1 1 1-16 1-4 1 1 1 10 1-15 1 4 1-13 1 53 1-55 1-15 1 12 1 32 1 8 1-15 1-28 1 22 1 41 1 27 1-68 1-40 1 74 1-17 1-14 1-4 1-11 1 47 1-33 1 16 1-29 1 9 1-14 1 45 1-3 1-7 1-5 1 5 1 10 1-12 1 19 1-49 1 28 1 15 1-28 1 34 1-38 1 14 1-40 1 23 1 25 1-31 1 14 1 0 1-85 1 330 1-431 1 280 1-168 1 162 1-178 1 274 1-316 1 204 1-132 1 129 1-131 1 170 1-211 1 162 1-74 1 65 1-94 1 89 1-91 1 56 1-28 1 20 1 9 1 47 1-57 1 55 1-66 1 24 1-17 1 36 1-46 1 3 1 10 1-20 1-26 1 90 1-73 1 53 1-59 1 42 1-49 1 65 1-29 1 32 1-32 1 8 1-7 1 14 1-31 1 32 1 1 1 16 1-18 1 8 1-40 1 12 1 25 1-19 1 22 1-25 1 37 1-42 1 17 1-4 1 3 1 24 1-30 1 8 1-18 1 5 1-14 1 17 1 27 1-33 1 36 1-8 1-17 1 20 1-11 1-25 1 30 1 7 1 6 1-77 1 60 1-7 1-2 1-19 1 31 1 8 1-12 1 9 1 12 1 9 1-38 1 10 1-36 1 38 1-4 1-29 1 55 1-47 1 30 1 6 1-29 1 5 1 24 1-26 1-25 1 14 1 13 1 13 1-9 1-10 1 13 1-13 1-10 1 47 1-32 1 5 1-153 1 396 1-460 1 341 1-228 1 211 1-205 1 268 1-325 1 267 1-154 1 120 1-143 1 188 1-245 1 179 1-121 1 104 1-47 1 75 1-170 1 138 1-70 1 86 1-91 1 111 1-90 1 40 1-62 1 66 1-47 1 69 1-114 1 76 1-21 1 30 1-38 1 22 1-18 1 43 1-46 1 29 1 5 1 2 1-29 1 26 1-26 1 12 1-41 1 39 1-27 1 41 1-19 1 22 1-9 1-16 1-41 1 40 1-2 1 4 1-12 1 26 1-11 1-5 1-24 1 34 1 28 1-40 1 3 1 25 1-3 1 47 1-48 1-6 1-19 1 14 1 15 1-8 1-11 1-8 1 3 1-8 1 50 1-38 1-4 1 26 1-24 1 15 1 12 1 3 1-36 1 1 1-12 1 8 1 4 1 30 1-17 1 2 1-44 1 55 1 8 1-5 1-39 1 32 1-27 1 24 1-29 1 49 1-21 1-20 1 16 1 13 1-45 1 54 1-11 1-37 1-11 1 33 1 23 1 1 1-8 1-5 1-180 1 379 1-419 1 331 1-232 1 184 1-185 1 263 1-288 1 192 1-152 1 161 1-137 1 155 1-211 1 147 1-65 1 63 1-39 1 134 1-172 1 89 1-32 1 34 1-65 1 83 1-101 1 55 1-20 1 45 1-60 1 45 1-37 1 15 1-20 1 49 1-34 1 51 1-72 1 44 1-57 1 105 1-45 1 13 1-51 1 40 1-8 1-8 1 2 1 5 1-33 1 14 1 38 1-7 1-31 1 24 1-3 1-15 1 2 1 0 1-15 1 32 1-36 1 23 1-6 1-10 1 45 1 7 1-17 1-32 1 10 1 16 1 6 1 16 1-42 1 10 1-10 1-8 1 10 1-18 1 30 1-33 1 18 1 20 1-15 1-35 1 62 1-11 1-4 1-11 1 1 1-32 1 37 1-15 1 21 1 12 1-18 1 2 1-18 1-11 1 32 1-28 1 39 1-51 1 59 1-17 1-14 1 11 1 14 1-33 1 31 1-36 1 45 1-47 1 4 1 6 1-10 1 23 1-3 1-22 1 41 1-3 1-175 1 405 1-478 1 406 1-283 1 206 1-227 1 288 1-309 1 244 1-150 1 133 1-138 1 160 1-216 1 167 1-93 1 95 1-111 1 156 1-182 1 111 1-49 1 57 1-52 1 44 1-86 1 69 1-28 1 58 1-60 1 34 1-79 1 71 1-21 1 24 1-44 1 82 1-87 1 70 1-45 1 13 1-13 1 32 1-57 1 58 1-18 1 25 1-35 1 9 1-8 1 52 1-56 1 7 1 18 1 2 1-22 1 28 1-28 1 11 1 16 1 39 1-45 1-35 1-2 1 33 1 10 1-41 1 6 1-4 1-15 1 29 1 4 1 20 1-22 1 25 1-41 1 26 1-35 1 38 1-18 1 26 1-33 1 33 1-41 1 16 1 42 1-6 1-32 1 7 1-40 1 55 1-14 1-2 1-6 1-27 1 33 1 29 1-60 1 22 1 36 1-15 1-7 1-8 1-13 1 20 1 5 1 8 1-15 1-4 1-8 1 50 1-24 1-26 1-23 1 15 1 60 1-7 1-47 1 10 1 0 1-25 1-116 1 390 1-475 1 366 1-208 1 192 1-257 1 304 1-346 1 253 1-148 1 125 1-133 1 200 1-225 1 178 1-130 1 107 1-122 1 158 1-146 1 135 1-125 1 35 1-19 1 130 1-166 1 110 1-78 1 53 1-53 1 73 1-66 1 29 1-10 1 4 1 2 1 28 1-33 1 6 1 6 1 24 1-55 1 41 1-27 1 43 1-35 1 7 1-20 1 46 1-47 1 63 1-48 1 28 1-40 1 35 1-68 1 53 1-11 1 55 1-23 1-36 1 21 1-25 1 28 1-20 1 22 1-17 1-12 1 2 1 27 1 13 1-38 1 11 1-14 1 40 1-40 1 20 1 14 1-8 1-29 1 16 1-1 1 3 1 7 1-28 1 20 1 29 1-1 1-16 1-4 1-20 1 61 1-62 1-8 1 32 1-34 1 38 1-11 1 7 1-40 1 9 1 0 1 43 1-24 1 24 1-25 1-7 1-16 1 29 1-7 1 7 1 17 1-51 1 24 1-20 1 11 1 40 1-12 1-25 1-3 1 13 1-147 1 367 1-438 1 344 1-201 1 153 1-180 1 250 1-289 1 274 1-183 1 114 1-129 1 160 1-215 1 190 1-129 1 139 1-136 1 174 1-195 1 162 1-123 1 41 1-28 1 66 1-107 1 147 1-63 1 6 1-22 1 44 1-128 1 67 1-9 1 54 1-52 1 42 1-37 1 0 1 46 1-47 1 19 1-7 1-4 1 32 1-13 1-5 1-15 1-34 1 6 1 48 1 12 1-16 1-18 1 56 1-48 1-14 1 27 1 29 1-52 1-9 1 26 1 0 1-25 1 17 1 20 1-1 1-12 1 3 1-26 1 46 1-31 1 15 1 32 1-51 1 9 1 30 1 8 1-50 1-18 1 33 1 5 1-17 1 25 1 0 1-31 1 42 1-46 1 18 1-21 1 63 1-63 1 29 1-15 1 29 1 3 1-42 1 12 1 0 1-3 1 2 1 42 1-24 1 0 1-46 1 13 1 44 1 11 1-43 1 3 1-16 1 50 1-56 1 29 1-21 1 19 1 14 1 8 1-43 1 90 1-74 1-150 1 381 1-433 1 332 1-192 1 171 1-206 1 264 1-288 1 199 1-149 1 122 1-110 1 148 1-164 1 150 1-82 1 63 1-91 1 121 1-118 1 61 1-15 1 46 1-21 1 3 1-93 1 93 1-58 1 73 1-45 1 54 1-93 1 65 1-44 1 53 1-23 1 4 1-44 1 32 1-2 1 2 1 17 1 17 1-60 1 49 1-10 1 8 1-65 1 60 1-36 1 25 1-62 1 59 1-32 1 15 1-5 1 19 1 23 1-35 1-38 1 41 1-40 1 34 1-9 1 32 1-11 1-7 1-20 1 48 1 5 1-23 1-3 1-8 1-29 1 49 1-51 1 28 1 9 1 36 1-66 1-3 1 24 1 1 1 17 1 32 1-25 1 15 1-3 1-9 1-6 1-21 1-17 1 31 1-20 1 23 1-1 1-12 1 18 1-17 1 14 1 8 1-4 1-42 1 24 1 14 1-12 1 18 1-6 1-1 1 25 1-29 1-12 1 3 1 8 1-23 1 36 1-37 1 2 1 15 1-25 1 55 1-183 1 411 1-450 1 323 1-236 1 197 1-200 1 287 1-325 1 235 1-142 1 123 1-93 1 161 1-228 1 159 1-125 1 116 1-135 1 184 1-212 1 165 1-68 1 56 1-66 1 79 1-99 1 59 1-56 1 79 1-87 1 77 1-65 1 36 1-16 1 0 1 22 1-7 1-15 1 12 1 0 1-20 1 4 1 20 1 2 1 33 1-49 1-11 1 12 1 50 1-83 1 59 1-35 1 40 1-12 1-6 1 41 1-20 1-19 1 7 1 17 1-44 1 15 1 7 1 28 1-30 1-18 1 2 1-3 1 19 1-1 1-4 1-13 1 22 1-6 1-7 1 10 1-8 1 0 1 23 1-49 1 18 1 28 1 3 1-11 1 5 1 5 1-22 1 10 1 13 1-48 1 37 1-15 1 33 1-5 1-1 1-38 1 5 1 17 1 2 1-12 1 23 1-12 1-22 1 34 1-29 1 14 1-5 1 6 1-18 1-1 1 6 1 41 1-33 1-20 1 42 1 9 1-24 1-20 1 40 1-31 1 21 1-150 1 344 1-401 1 311 1-213 1 151 1-157 1 232 1-250 1 202 1-121 1 79 1-122 1 172 1-200 1 167 1-95 1 54 1-52 1 83 1-144 1 152 1-70 1 9 1-44 1 65 1-93 1 105 1-87 1 50 1-32 1 66 1-50 1 54 1-17 1 15 1-27 1 17 1-26 1 52 1-57 1 60 1-50 1 5 1 13 1 15 1-36 1-14 1 16 1 23 1-34 1 53 1-14 1-33 1-11 1 16 1-5 1 4 1 35 1-7 1-19 1-18 1 5 1 11 1 17 1-20 1-9 1 2 1 7 1-37 1 58 1-36 1 38 1 4 1-43 1 25 1 5 1-14 1-50 1 63 1-8 1-28 1 33 1-55 1 69 1-19 1-25 1 25 1 4 1 18 1-25 1-18 1 20 1 15 1-45 1 10 1 4 1 17 1 11 1-38 1 20 1 9 1-4 1-10 1-10 1 18 1 6 1 15 1-17 1-1 1-10 1 7 1 9 1-8 1-14 1 14 1 1 1 2 1 1 1-12 1-6 1 27 1-151 1 355 1-412 1 278 1-153 1 140 1-155 1 220 1-294 1 198 1-96 1 96 1-58 1 118 1-155 1 120 1-89 1 92 1-112 1 134 1-135 1 95 1-71 1 39 1-40 1 87 1-79 1 27 1-40 1 34 1-15 1 17 1-51 1 15 1 19 1 5 1-42 1 71 1-48 1 42 1-25 1-2 1-7 1 48 1-96 1 82 1-50 1 34 1-25 1 20 1-25 1 15 1-27 1 54 1 3 1 18 1-6 1-38 1 36 1 3 1-41 1 18 1-16 1 59 1-31 1 9 1-32 1 5 1-14 1-11 1-46 1 79 1-26 1-1 1 15 1 20 1-37 1 1 1 5 1 26 1 26 1-20 1-44 1 1 1 41 1-23 1-22 1 1 1 42 1-13 1-3 1 21 1-56 1 68 1-42 1-11 1 10 1-5 1 56 1-43 1-5 1 1 1 30 1-20 1 10 1-42 1 39 1-10 1 1 1 1 1-37 1 5 1 20 1 14 1 2 1 27 1-37 1-4 1 9 1 14 1-40 1 17 1-134 1 354 1-402 1 261 1-161 1 170 1-161 1 206 1-255 1 194 1-132 1 138 1-176 1 182 1-168 1 124 1-84 1 97 1-125 1 129 1-128 1 101 1-67 1 55 1-47 1 77 1-90 1 99 1-69 1 12 1-44 1 77 1-43 1 12 1 4 1 31 1-19 1 47 1-117 1 67 1 35 1-21 1-1 1-24 1-1 1 24 1-40 1-6 1 33 1 3 1-3 1-21 1 3 1 11 1 10 1-33 1 21 1-18 1-8 1 51 1-24 1 0 1 16 1-12 1-13 1 42 1-30 1-6 1 8 1 7 1 13 1-24 1-7 1 10 1-32 1 29 1 6 1-40 1 18 1-5 1-7 1 37 1 7 1-48 1 66 1-25 1-42 1 44 1-27 1 30 1-61 1 47 1-18 1 42 1-40 1 1 1 22 1-21 1 16 1-11 1 17 1-1 1 14 1-31 1 12 1 10 1-45 1 31 1 3 1 11 1-32 1 15 1 19 1-11 1-16 1 9 1-20 1 3 1-23 1 55 1-12 1 14 1-155 1 359 1-423 1 301 1-170 1 162 1-196 1 241 1-278 1 216 1-139 1 119 1-114 1 153 1-215 1 138 1-53 1 65 1-76 1 114 1-123 1 93 1-76 1 70 1-51 1 49 1-75 1 78 1-51 1 46 1-31 1 31 1-52 1 68 1-74 1 54 1-7 1 12 1-33 1 16 1 4 1 5 1 4 1 21 1-58 1 35 1-54 1 56 1-30 1 44 1-73 1 43 1 20 1-25 1 5 1-38 1 6 1 46 1-35 1 10 1 10 1 8 1-12 1 21 1-28 1 19 1-12 1 11 1 0 1-45 1 27 1-4 1-41 1 55 1 8 1 23 1-8 1-37 1 36 1 16 1-43 1 5 1-35 1 60 1-48 1 65 1-70 1 20 1 23 1-41 1 20 1-7 1 9 1-20 1 8 1 31 1-2 1 1 1-32 1 4 1 6 1 10 1 6 1-17 1-10 1 2 1-17 1-1 1 39 1-55 1 19 1 23 1-1 1-3 1 20 1 3 1-14 1 8 1 47 1-66 1 48 1-32 1-145 1 364 1-433 1 342 1-212 1 167 1-188 1 271 1-303 1 227 1-168 1 129 1-137 1 192 1-194 1 125 1-137 1 109 1-39 1 85 1-126 1 107 1-67 1 72 1-48 1 45 1-70 1 64 1-50 1 33 1-32 1 50 1-62 1 38 1-35 1 8 1-11 1 59 1-67 1 28 1 5 1 20 1 12 1-44 1-6 1 1 1 39 1 29 1-64 1 40 1-41 1 34 1-41 1 31 1-12 1 0 1 3 1 10 1-38 1 31 1-12 1 3 1-2 1 0 1-32 1 20 1 43 1 21 1-32 1 33 1 3 1-28 1-5 1-17 1-10 1-29 1 52 1 0 1-18 1-13 1 22 1 15 1 32 1-66 1 19 1-32 1-7 1 0 1 27 1-7 1 41 1-33 1 14 1-25 1 29 1-6 1 11 1-49 1 31 1 22 1-12 1 18 1-48 1 0 1 20 1-2 1 32 1-57 1 31 1-40 1 50 1-20 1-8 1 2 1 17 1-22 1 12 1 8 1 20 1-44 1 23 1 3 1-159 1 409 1-466 1 291 1-217 1 226 1-195 1 264 1-297 1 217 1-146 1 147 1-134 1 186 1-245 1 176 1-94 1 74 1-90 1 132 1-183 1 147 1-54 1 38 1-44 1 54 1-101 1 96 1-67 1 63 1-44 1 85 1-66 1 22 1-76 1 87 1-52 1 52 1-71 1 62 1-38 1 12 1-4 1 22 1-33 1 11 1-18 1 12 1-8 1 46 1-34 1 0 1-3 1-5 1 30 1 6 1-17 1-9 1 10 1 11 1-30 1 24 1 1 1-19 1 4 1-6 1-7 1 28 1-13 1 3 1-19 1 17 1-23 1 33 1-15 1-20 1 47 1 0 1-38 1 1 1-7 1 5 1-5 1 29 1-11 1-8 1 30 1 3 1-13 1-28 1 3 1 39 1-15 1 1 1-12 1-2 1 3 1 18 1-38 1 2 1 37 1-15 1-23 1 14 1-3 1 17 1-35 1 46 1-36 1-15 1 45 1-38 1 9 1 27 1-15 1-22 1 33 1 1 1 43 1-21 1-24 1 6 1-173 1 397 1-440 1 309 1-259 1 233 1-203 1 297 1-331 1 221 1-150 1 158 1-139 1 199 1-241 1 184 1-140 1 104 1-98 1 123 1-142 1 101 1-57 1 94 1-115 1 120 1-130 1 81 1-45 1 47 1-45 1 58 1-64 1 53 1-41 1 24 1-10 1 27 1-18 1 25 1-6 1-6 1-32 1 21 1 5 1-15 1 18 1 2 1-12 1-19 1 3 1-18 1 9 1 32 1-21 1-5 1 26 1 4 1-16 1 12 1-8 1-27 1 18 1 16 1-3 1 22 1-44 1 32 1-83 1 62 1 15 1 15 1-17 1-12 1 13 1-18 1-4 1 5 1-1 1 11 1 9 1 13 1 6 1-20 1-22 1 14 1 17 1-34 1 33 1 5 1-4 1-5 1-12 1 22 1 6 1-36 1 2 1-3 1-6 1 14 1-32 1 36 1-3 1-24 1 16 1 10 1-3 1 22 1-34 1 17 1-13 1-16 1 10 1 10 1-3 1 5 1-28 1 65 1-27 1 7 1-22 1 23 1-194 1 456 1-520 1 367 1-236 1 234 1-221 1 260 1-318 1 261 1-227 1 191 1-149 1 213 1-233 1 159 1-133 1 142 1-114 1 104 1-134 1 108 1-111 1 130 1-87 1 113 1-93 1 23 1-44 1 67 1-64 1 86 1-65 1 46 1-37 1 39 1-72 1 81 1-51 1 18 1-31 1 2 1 1 1 62 1-47 1-5 1 11 1-4 1-42 1 82 1-25 1-4 1-16 1-5 1 34 1-25 1-3 1 40 1-35 1-6 1-31 1 54 1-36 1 46 1-50 1 23 1-32 1 60 1-12 1 17 1-68 1 45 1 21 1-15 1-35 1 8 1 1 1 35 1-24 1 37 1-13 1-35 1-8 1 23 1 27 1-14 1-13 1-34 1 40 1 16 1-6 1-5 1-7 1-4 1-43 1 49 1 28 1-58 1 32 1 1 1-4 1-16 1 3 1-5 1 13 1-6 1 20 1 0 1-8 1-3 1 23 1-9 1-45 1 1 1-8 1 9 1 4 1-15 1 20 1 18 1-1 1 0 1-174 1 410 1-471 1 357 1-220 1 151 1-173 1 322 1-384 1 279 1-172 1 138 1-157 1 206 1-233 1 177 1-155 1 141 1-81 1 137 1-179 1 124 1-87 1 62 1-36 1 66 1-92 1 79 1-47 1 33 1-37 1 61 1-80 1 72 1-83 1 44 1-13 1 29 1-27 1 19 1 5 1-5 1-25 1 38 1-55 1 54 1-34 1 7 1-14 1 30 1-55 1 34 1-9 1 35 1-24 1 24 1-63 1 43 1 13 1-23 1-12 1 41 1-25 1-35 1 40 1-1 1-56 1 64 1 14 1 2 1-24 1-9 1 28 1 26 1-54 1 19 1 2 1 10 1-40 1 27 1 18 1-3 1-12 1 20 1-19 1-29 1 3 1-1 1 0 1 16 1-5 1 40 1-47 1 3 1 7 1 0 1 24 1-10 1 19 1-19 1-5 1 8 1-34 1 37 1-22 1 3 1 6 1-13 1 3 1 15 1-32 1 27 1-14 1 31 1-3 1-20 1-40 1 67 1-2 1-8 1-6 1 2 1-186 1 417 1-462 1 345 1-218 1 202 1-220 1 276 1-345 1 263 1-152 1 159 1-146 1 165 1-221 1 141 1-66 1 72 1-81 1 164 1-170 1 88 1-62 1 71 1-98 1 112 1-114 1 69 1-28 1 25 1-15 1 65 1-115 1 50 1-25 1 59 1-39 1 52 1-49 1 17 1-12 1-9 1 29 1 9 1-21 1 27 1-75 1 20 1 7 1 17 1-24 1 27 1 48 1-6 1-62 1 71 1-90 1 23 1 2 1 6 1-13 1 33 1-56 1 47 1 7 1-47 1 27 1 3 1-24 1-13 1 38 1 1 1 25 1-23 1-35 1 49 1 0 1 17 1-10 1 4 1-29 1-2 1 41 1-44 1-18 1 11 1 27 1-27 1 23 1 13 1 4 1 3 1-23 1-16 1 44 1 5 1-61 1 41 1-61 1 35 1 34 1-44 1-2 1 52 1-28 1-30 1 54 1-36 1 1 1-30 1 11 1 33 1 19 1-20 1-8 1 2 1 8 1 10 1-42 1 31 1 6 1-8 1-139 1 334 1-385 1 307 1-215 1 155 1-140 1 214 1-280 1 205 1-122 1 140 1-122 1 138 1-180 1 139 1-86 1 103 1-124 1 138 1-177 1 72 1-24 1 61 1-34 1 80 1-98 1 38 1-24 1 69 1-83 1 74 1-84 1 60 1-14 1 19 1-48 1 59 1-77 1 71 1-62 1 70 1-22 1-9 1-45 1 55 1-34 1 44 1-10 1-3 1-59 1 59 1 16 1 25 1-53 1-2 1 5 1 0 1 11 1-32 1 8 1 44 1-24 1-28 1 19 1 48 1-41 1 8 1 35 1-55 1-20 1 39 1 4 1-9 1 0 1-4 1-13 1 41 1-25 1-39 1 35 1-2 1-6 1 23 1 10 1-68 1 40 1 22 1-37 1 25 1 9 1-7 1 15 1-5 1-37 1 15 1 7 1-29 1 10 1 22 1 20 1-18 1-34 1 42 1-59 1 45 1 22 1-17 1-36 1 39 1-21 1-5 1 24 1-30 1-7 1 12 1 48 1-39 1-8 1-3 1-18 1 39 1-146 1 349 1-412 1 295 1-162 1 164 1-152 1 215 1-272 1 184 1-130 1 117 1-88 1 140 1-218 1 225 1-145 1 75 1-102 1 118 1-137 1 108 1-75 1 76 1-59 1 98 1-111 1 70 1-79 1 91 1-66 1 63 1-70 1 28 1-9 1 44 1-47 1 20 1-32 1 26 1 18 1-25 1 8 1 39 1-59 1 55 1-47 1-12 1 28 1 24 1-59 1 24 1-14 1 62 1-29 1-40 1 37 1 4 1-18 1 4 1 2 1 54 1-70 1 40 1-45 1-2 1 41 1-18 1-35 1 3 1 11 1 31 1-20 1 29 1-51 1 25 1-22 1 77 1-39 1 1 1-5 1 19 1-35 1 27 1-53 1 44 1 0 1 6 1-26 1 6 1 24 1 40 1-52 1 10 1-16 1 17 1-23 1 28 1-27 1 10 1-24 1 22 1-15 1 18 1-3 1 10 1 11 1-28 1 4 1-30 1 21 1-27 1-1 1 32 1 24 1-15 1-24 1 21 1-23 1 28 1-9 1-5 1-160 1 413 1-456 1 322 1-213 1 179 1-168 1 197 1-266 1 259 1-140 1 124 1-161 1 199 1-250 1 193 1-93 1 80 1-89 1 118 1-131 1 93 1-40 1 26 1-59 1 86 1-90 1 63 1-55 1 81 1-96 1 81 1-83 1 33 1 18 1 26 1-31 1 21 1-28 1 34 1-74 1 59 1-33 1 16 1-42 1 80 1-51 1 7 1-21 1 54 1-28 1 5 1-8 1 17 1-4 1 3 1-12 1 1 1 10 1 14 1-18 1 5 1-36 1 36 1 28 1-78 1 14 1 18 1-5 1 14 1-36 1 60 1-41 1 4 1-36 1 51 1-34 1 23 1 26 1 5 1-48 1 48 1-18 1-37 1 49 1-27 1-29 1 9 1 14 1 30 1-50 1 27 1 7 1 23 1 20 1-49 1 16 1 25 1-51 1 13 1 16 1-3 1-19 1 1 1 27 1-35 1 21 1 16 1-17 1-3 1-22 1 9 1 57 1-20 1-39 1 10 1 24 1-9 1-41 1 77 1-70 1 14 1-129 1 363 1-441 1 335 1-226 1 180 1-158 1 246 1-318 1 249 1-159 1 105 1-65 1 133 1-197 1 170 1-120 1 80 1-100 1 152 1-173 1 94 1-46 1 52 1-57 1 79 1-69 1 33 1-34 1 17 1-23 1 89 1-107 1 47 1-27 1 55 1-27 1 5 1-6 1 4 1-9 1 36 1-26 1 30 1-52 1 46 1-26 1 16 1-25 1 6 1 26 1-20 1 11 1 0 1-11 1-20 1-14 1 45 1-8 1-25 1 11 1-17 1 38 1-27 1 26 1 51 1-75 1 39 1-39 1 25 1-33 1 53 1 1 1-55 1 3 1 22 1 31 1-45 1-33 1 57 1-3 1 11 1-26 1 12 1 26 1-13 1-35 1 42 1-28 1-13 1 4 1 50 1-47 1 34 1 16 1-43 1 36 1-26 1-29 1 14 1 13 1-20 1 16 1-14 1-7 1 42 1-52 1 35 1-4 1-2 1 8 1 4 1-19 1 22 1-21 1-5 1 25 1-4 1-17 1 11 1-13 1 24 1-150 1 343 1-424 1 312 1-157 1 165 1-188 1 257 1-305 1 192 1-142 1 159 1-111 1 135 1-206 1 185 1-126 1 84 1-92 1 139 1-159 1 118 1-88 1 72 1-67 1 92 1-91 1 62 1-58 1 65 1-55 1 15 1-7 1 62 1-39 1 16 1-34 1 80 1-50 1-18 1 19 1-20 1-30 1 108 1-100 1 33 1-8 1 0 1-5 1 6 1-46 1 45 1 19 1-41 1-4 1 6 1 6 1 1 1-27 1 45 1 4 1-31 1 24 1-21 1 27 1 3 1-19 1 6 1 13 1-40 1 36 1-19 1 28 1-2 1-6 1-10 1-2 1 1 1 2 1-15 1-3 1 28 1-13 1-4 1-7 1 6 1 14 1 1 1-8 1-7 1 28 1 0 1-12 1-8 1 13 1-4 1 7 1-24 1 46 1-37 1 12 1-12 1-4 1 61 1-78 1 7 1-16 1 15 1-2 1 7 1-20 1 55 1-23 1 15 1-34 1 12 1-26 1 28 1 6 1 0 1 11 1 33 1-178 1 338 1-388 1 307 1-216 1 192 1-194 1 236 1-270 1 227 1-168 1 107 1-97 1 164 1-209 1 136 1-67 1 20 1-51 1 101 1-107 1 96 1-36 1 41 1-60 1 61 1-65 1 72 1-81 1 58 1-53 1 66 1-47 1 34 1 17 1-39 1-18 1 23 1-15 1-11 1-5 1 74 1-17 1-15 1 3 1-3 1-13 1 15 1-47 1 34 1-20 1 22 1-62 1 40 1 30 1-13 1 12 1-1 1-8 1 30 1 3 1-4 1-43 1 70 1-68 1 55 1-29 1 1 1-31 1 19 1 18 1-7 1-19 1-12 1 11 1 10 1 1 1-33 1 44 1-5 1-18 1-15 1 55 1-50 1-4 1 18 1 39 1-21 1-11 1-8 1 28 1-17 1-20 1 25 1-5 1 3 1 18 1-19 1-4 1-18 1 29 1 10 1-16 1 9 1-29 1 22 1 19 1-41 1 13 1-5 1-4 1-13 1 38 1-29 1 10 1 0 1 3 1 7 1-13 1 4 1-13 1-4 1-117 1 385 1-451 1 343 1-242 1 195 1-218 1 303 1-366 1 289 1-167 1 141 1-123 1 178 1-226 1 155 1-98 1 99 1-61 1 80 1-189 1 115 1-63 1 94 1-81 1 105 1-103 1 64 1-66 1 73 1-40 1 46 1-42 1 7 1-37 1 27 1-22 1 66 1-54 1 49 1-47 1-15 1 39 1-3 1-47 1 71 1-77 1 68 1-25 1 9 1-32 1 19 1 9 1 17 1 23 1-22 1-49 1 50 1-34 1 5 1 4 1 22 1-10 1-2 1 27 1-55 1 42 1-2 1-8 1 0 1-17 1-12 1 15 1-21 1 32 1-17 1-4 1 14 1-12 1 35 1-48 1 12 1 11 1 11 1-24 1 39 1-37 1-2 1-31 1 50 1-29 1 16 1 41 1-5 1-15 1-32 1-6 1 33 1-14 1 5 1 51 1-68 1-6 1 70 1-26 1-15 1-1 1-21 1-3 1 34 1-24 1 25 1-6 1-11 1-6 1 23 1-49 1 33 1 4 1-15 1 27 1-7 1-121 1 377 1-478 1 355 1-240 1 216 1-232 1 267 1-301 1 220 1-150 1 175 1-140 1 164 1-249 1 210 1-89 1 40 1-101 1 157 1-182 1 99 1-21 1 59 1-67 1 62 1-71 1 70 1-83 1 52 1-47 1 99 1-100 1 75 1-64 1 39 1-35 1 59 1-57 1 34 1-14 1 12 1 3 1 33 1-25 1-4 1-35 1 23 1 30 1-25 1-17 1 22 1-19 1 3 1-25 1 16 1-29 1 38 1 14 1-30 1 42 1-30 1 24 1 0 1-39 1 39 1-36 1 14 1 7 1-11 1-1 1 12 1 11 1-23 1 17 1-1 1-12 1 12 1-9 1 2 1-3 1 5 1-25 1 37 1-3 1 18 1 18 1-55 1 3 1-17 1 53 1-12 1-5 1-46 1 18 1 22 1-4 1-5 1 26 1-27 1 26 1-21 1-12 1 9 1 17 1-7 1-21 1 25 1 16 1-20 1 4 1-5 1-4 1 6 1 0 1-23 1 6 1-7 1 16 1 9 1-13 1 44 1-174 1 375 1-461 1 359 1-221 1 174 1-170 1 224 1-304 1 278 1-180 1 149 1-168 1 186 1-203 1 169 1-128 1 115 1-131 1 164 1-171 1 157 1-117 1 84 1-82 1 71 1-80 1 122 1-59 1 5 1-26 1 64 1-112 1 77 1-56 1 31 1-6 1 31 1-25 1 8 1-16 1-9 1-7 1 47 1-24 1 16 1-20 1 0 1-19 1 61 1-26 1-9 1 18 1-11 1 22 1-14 1-14 1 10 1-2 1-14 1-14 1 12 1 7 1 9 1 2 1 5 1-15 1 7 1-7 1-3 1-15 1 31 1-11 1-10 1 1 1 23 1 4 1-32 1 30 1-24 1 22 1-48 1 50 1-52 1 19 1-10 1 0 1 15 1 14 1-50 1 52 1-10 1 27 1-24 1-12 1 25 1-16 1 8 1 0 1-17 1-5 1 30 1 18 1-40 1 28 1-11 1 7 1-34 1-22 1 52 1-52 1 38 1 9 1-27 1-15 1 40 1 1 1-40 1 18 1 69 1-49 1 22 1-160 1 355 1-426 1 328 1-258 1 257 1-220 1 242 1-261 1 218 1-146 1 92 1-91 1 141 1-173 1 154 1-131 1 81 1-47 1 111 1-164 1 128 1-65 1 59 1-85 1 135 1-178 1 75 1-41 1 69 1-32 1 32 1-35 1-12 1 20 1-5 1-21 1 61 1-49 1 45 1-40 1 10 1-8 1 33 1-38 1 0 1-9 1 21 1 8 1 15 1-39 1 32 1-5 1-29 1 14 1 10 1 1 1-5 1-17 1 16 1 27 1-10 1-30 1 14 1-20 1 29 1-9 1-12 1 11 1-12 1 46 1-12 1-38 1 6 1-4 1 1 1-3 1 40 1-52 1 16 1 35 1 5 1-34 1 22 1-24 1 17 1 21 1-11 1-10 1-5 1-16 1 28 1-23 1 14 1-2 1 42 1-35 1 19 1-41 1-7 1 12 1-31 1 34 1-10 1 21 1-13 1 26 1-13 1-26 1 20 1 6 1-4 1-12 1-16 1 54 1-28 1 2 1 3 1-5 1-10 1-12 1 64 1-161 1 339 1-416 1 300 1-182 1 169 1-162 1 239 1-360 1 275 1-175 1 154 1-137 1 193 1-224 1 169 1-53 1 82 1-133 1 100 1-110 1 108 1-76 1 17 1 8 1 31 1-104 1 118 1-53 1 30 1-35 1 23 1-48 1 60 1-48 1 11 1 3 1 45 1-77 1 17 1-18 1 33 1 0 1 6 1-26 1 22 1-2 1-8 1-10 1 58 1-58 1 48 1-32 1 14 1-21 1 31 1-17 1 13 1-7 1 24 1-43 1 29 1-27 1 14 1-13 1 1 1 31 1-17 1-12 1 22 1-4 1-17 1-20 1 18 1-8 1 11 1-33 1 38 1-19 1-44 1 54 1 10 1 27 1 3 1-73 1 41 1 17 1-7 1 11 1-20 1 11 1-22 1-19 1 21 1 7 1 1 1-26 1 52 1-8 1-7 1 12 1-32 1 16 1 12 1-29 1 12 1-10 1 9 1 9 1 11 1-30 1 27 1-37 1 15 1 5 1 15 1-47 1 36 1-15 1 22 1-34 1 24 1-165 1 386 1-423 1 331 1-228 1 199 1-190 1 209 1-283 1 234 1-151 1 123 1-114 1 175 1-207 1 145 1-128 1 148 1-110 1 128 1-195 1 159 1-101 1 72 1-57 1 69 1-84 1 85 1-87 1 98 1-28 1 35 1-94 1 75 1-46 1 12 1-23 1 43 1-59 1 54 1-41 1 35 1-44 1 34 1-12 1 3 1-11 1 15 1-4 1 46 1-34 1-11 1-17 1 62 1-21 1 34 1-28 1-26 1 16 1-14 1-24 1 68 1-45 1 4 1-8 1-7 1-6 1 16 1 22 1-35 1-21 1 63 1-21 1-5 1 9 1-8 1-4 1-13 1 25 1 0 1-43 1 18 1 28 1 16 1-24 1-9 1 13 1 23 1-3 1-10 1-14 1-3 1-18 1 36 1 2 1 18 1-14 1-14 1 0 1-1 1-8 1 12 1 20 1-31 1-3 1 22 1-78 1 111 1-19 1-18 1 0 1 7 1-23 1-16 1 10 1 7 1-26 1 59 1-25 1-5 1 7 1 8 1-168 1 403 1-464 1 361 1-245 1 190 1-204 1 267 1-265 1 215 1-153 1 118 1-139 1 194 1-250 1 195 1-120 1 88 1-94 1 143 1-185 1 127 1-79 1 79 1-64 1 106 1-83 1 63 1-42 1 16 1-18 1 42 1-64 1 36 1-31 1 1 1-22 1 29 1-22 1 73 1-77 1 3 1 24 1-7 1-3 1 20 1-12 1 24 1-18 1 44 1-59 1 18 1-23 1 25 1-19 1-22 1 8 1 34 1-15 1 11 1-31 1 43 1-41 1 21 1 53 1-55 1 15 1 13 1-24 1-1 1-44 1 48 1 15 1-10 1-16 1 30 1-16 1 29 1-9 1-13 1-26 1 34 1-2 1-13 1 16 1-7 1 4 1-48 1 41 1-35 1 23 1-30 1 51 1-21 1 49 1-70 1 12 1 20 1-47 1-15 1 25 1-1 1 29 1 17 1 12 1-48 1 56 1-32 1-37 1 26 1 31 1-7 1-42 1 45 1-11 1 18 1-26 1 11 1-32 1 39 1-11 1 48 1-232 1 403 1-443 1 333 1-226 1 183 1-141 1 245 1-372 1 254 1-140 1 144 1-148 1 177 1-213 1 197 1-125 1 85 1-90 1 148 1-162 1 124 1-82 1 51 1-69 1 83 1-108 1 91 1-21 1 18 1-33 1 81 1-89 1 31 1-45 1 51 1-4 1 13 1-34 1-3 1 26 1-21 1 1 1 15 1-11 1 0 1-5 1 17 1 4 1 8 1 4 1-30 1 5 1-25 1 48 1-47 1 7 1 29 1-26 1 40 1-4 1-41 1 51 1-31 1-31 1 29 1-28 1 36 1 1 1-30 1 2 1 22 1-31 1 52 1-47 1 32 1-15 1 5 1-4 1-4 1-20 1 2 1 24 1 2 1 19 1-49 1 11 1 32 1-17 1-24 1 41 1-17 1 4 1 6 1-8 1 41 1-58 1 29 1-13 1 31 1-72 1 33 1 49 1-25 1-6 1 13 1 7 1-1 1-9 1-19 1-2 1-20 1 28 1 40 1-40 1-24 1 44 1-26 1-3 1 26 1-16 1 26 1-207 1 415 1-443 1 311 1-219 1 224 1-184 1 261 1-314 1 192 1-156 1 125 1-77 1 152 1-236 1 148 1-63 1 93 1-91 1 106 1-153 1 106 1-44 1 26 1-15 1 52 1-114 1 80 1-36 1 59 1-49 1 70 1-69 1 57 1-74 1 74 1-39 1 0 1-29 1 10 1-20 1 42 1-33 1 69 1-58 1-5 1 9 1 17 1-60 1 55 1 21 1-34 1 60 1-48 1-8 1 29 1-9 1 5 1-68 1 80 1-12 1-3 1-7 1-33 1 22 1 14 1-22 1 14 1 3 1 7 1-6 1 3 1 2 1-3 1-30 1 52 1-34 1-5 1 14 1 2 1-26 1 32 1-21 1 3 1 5 1 1 1-14 1-10 1 47 1-39 1 32 1 5 1-22 1 1 1 36 1-63 1 39 1-21 1 4 1-3 1 10 1-4 1 4 1 8 1-28 1 19 1-4 1 17 1 1 1-15 1 30 1-54 1 35 1-1 1 3 1-12 1-8 1-3 1 26 1 9 1-19 1 9 1-128 1 304 1-382 1 315 1-225 1 194 1-171 1 236 1-260 1 191 1-112 1 69 1-106 1 123 1-146 1 146 1-119 1 108 1-107 1 134 1-102 1 67 1-62 1 39 1-36 1 59 1-86 1 86 1-38 1 30 1-20 1 17 1-69 1 62 1-23 1 36 1-59 1 26 1 20 1-49 1-10 1 56 1-27 1 20 1-32 1 35 1-28 1 7 1-45 1 63 1-9 1-16 1 10 1 5 1-7 1 19 1-11 1 10 1-1 1 0 1-48 1 42 1 5 1 11 1-46 1 38 1-18 1 40 1 0 1-38 1 33 1-33 1-15 1 36 1-11 1 2 1 3 1-4 1-1 1-1 1-8 1-7 1 0 1 9 1 14 1-22 1-8 1 14 1 8 1-45 1 80 1-52 1 6 1-22 1-7 1 22 1 20 1-18 1 31 1-23 1 16 1-23 1 41 1-26 1-10 1 8 1 2 1 8 1-10 1-31 1 37 1 14 1-5 1-11 1-21 1 18 1-20 1-11 1 42 1-20 1 9 1-12 1-162 1 407 1-452 1 342 1-229 1 199 1-187 1 247 1-319 1 239 1-134 1 129 1-121 1 173 1-241 1 177 1-106 1 71 1-63 1 114 1-122 1 68 1-53 1 47 1-64 1 100 1-112 1 112 1-66 1 69 1-96 1 65 1-85 1 54 1-38 1 62 1-6 1 20 1-94 1 64 1-34 1 28 1-17 1 44 1-18 1-13 1 17 1-33 1 6 1 17 1-11 1 49 1-26 1-24 1 31 1 12 1-65 1 77 1-44 1-2 1-36 1 26 1 0 1 49 1-33 1 32 1-42 1 37 1-51 1 12 1 18 1-15 1 1 1 6 1-3 1-10 1 10 1 11 1-16 1 22 1-39 1 10 1 52 1-31 1-5 1 1 1-13 1-13 1-4 1 64 1-53 1 52 1-55 1 12 1 22 1-5 1-1 1-30 1 32 1-2 1-16 1-23 1 41 1-15 1 18 1-32 1 40 1-28 1-1 1 15 1-29 1-13 1 34 1-5 1 2 1-18 1 7 1 13 1 3 1 13 1-9 1 6 1-208 1 433 1-485 1 390 1-275 1 217 1-159 1 254 1-373 1 298 1-171 1 137 1-125 1 157 1-218 1 175 1-98 1 69 1-74 1 143 1-173 1 142 1-92 1 16 1-11 1 94 1-127 1 76 1-55 1 50 1-11 1 41 1-43 1 2 1-31 1 24 1 12 1 53 1-91 1 58 1-21 1 16 1-9 1 35 1-76 1 27 1-26 1 24 1-11 1 14 1-11 1 11 1-7 1 50 1-60 1-11 1-13 1 45 1-19 1 10 1-36 1 11 1 34 1 9 1-12 1 8 1-45 1 71 1-23 1 12 1-18 1-21 1 29 1-31 1-21 1 32 1-23 1 30 1-14 1 15 1-29 1 17 1-8 1-3 1-4 1 39 1-25 1 20 1-7 1-6 1-13 1 13 1 3 1-28 1 15 1 49 1-48 1 17 1-22 1-1 1-18 1 39 1-23 1 20 1 8 1 17 1-34 1-22 1 31 1-24 1 18 1-13 1 18 1-13 1 29 1-33 1-21 1 15 1 30 1 25 1-39 1 37 1-205 1 458 1-513 1 370 1-256 1 208 1-217 1 275 1-335 1 263 1-123 1 117 1-148 1 201 1-267 1 227 1-95 1 24 1-68 1 145 1-203 1 138 1-70 1 70 1-80 1 127 1-135 1 50 1-28 1 55 1-82 1 100 1-106 1 84 1-29 1 23 1-32 1 77 1-119 1 69 1-57 1 78 1-30 1 48 1-58 1 13 1-46 1 64 1-18 1-3 1-17 1 41 1-16 1 15 1-46 1 48 1-22 1-15 1 24 1-23 1 39 1-5 1-50 1 24 1 23 1 10 1 3 1-30 1 3 1-4 1 3 1-51 1 26 1 57 1-39 1 32 1-30 1 12 1-12 1 14 1 29 1-48 1 44 1-15 1-5 1-15 1 23 1-18 1-5 1-34 1 48 1-16 1-10 1 17 1-8 1-14 1 30 1 44 1-51 1-10 1-5 1 1 1-13 1 21 1 12 1 11 1 3 1-43 1 30 1 4 1-44 1 54 1-42 1 36 1-9 1 0 1-18 1 15 1-25 1 30 1-48 1 54 1-141 1 372 1-464 1 335 1-199 1 156 1-163 1 264 1-356 1 305 1-240 1 198 1-119 1 120 1-190 1 197 1-154 1 76 1-95 1 147 1-122 1 106 1-101 1 73 1-51 1 54 1-52 1 22 1 2 1 34 1-53 1 43 1-80 1 107 1-47 1 27 1-42 1 54 1-43 1-14 1-9 1 35 1-39 1 51 1-8 1 31 1-65 1 28 1-14 1 38 1-46 1 15 1-33 1 12 1 27 1-35 1 2 1 0 1 25 1-16 1 44 1-45 1 27 1-15 1 16 1-8 1-6 1 33 1-36 1-11 1 14 1-18 1-26 1 47 1-29 1 27 1 23 1-35 1 37 1-22 1-47 1 61 1 7 1-14 1-17 1-6 1 26 1 2 1-25 1 14 1-22 1 37 1-45 1 23 1 6 1 31 1-26 1-3 1-26 1 20 1 23 1 8 1-45 1 41 1-58 1 30 1 14 1 7 1-44 1 31 1-7 1 43 1-43 1 24 1 24 1-40 1-2 1 22 1-80 1 79 1-6 1-13 1-150 1 355 1-409 1 280 1-157 1 201 1-195 1 222 1-292 1 177 1-98 1 131 1-121 1 170 1-228 1 185 1-146 1 131 1-90 1 99 1-102 1 66 1-63 1 31 1-45 1 140 1-148 1 96 1-45 1 37 1-96 1 101 1-72 1 30 1-49 1 71 1-38 1 34 1-40 1 39 1-3 1 6 1-13 1 29 1-39 1 13 1-2 1 7 1-38 1 20 1 13 1 32 1-95 1 62 1-47 1 47 1-50 1 37 1 3 1 16 1-14 1 23 1-33 1 14 1-16 1 3 1 29 1-23 1-1 1-15 1-15 1 43 1 31 1-37 1-4 1 22 1-30 1 15 1-20 1 41 1-34 1 12 1-1 1-22 1 30 1-3 1-25 1 47 1-45 1 29 1 30 1-71 1-6 1 31 1 21 1 16 1-42 1-23 1 59 1-28 1-32 1 16 1 18 1-43 1 65 1-35 1-11 1 48 1-17 1-1 1-64 1 57 1 0 1 9 1-62 1 11 1 57 1-2 1-27 1 8 1-4 1 32 1-134 1 326 1-428 1 276 1-166 1 187 1-190 1 272 1-317 1 250 1-168 1 120 1-119 1 228 1-273 1 181 1-135 1 106 1-86 1 109 1-120 1 92 1-60 1 43 1-68 1 115 1-104 1 79 1-98 1 93 1-56 1 59 1-53 1 21 1-16 1 2 1 11 1 13 1-83 1 60 1-4 1 1 1 23 1-8 1-29 1 21 1-16 1 10 1 13 1 16 1-11 1-14 1 34 1-23 1 4 1-7 1-55 1 65 1-38 1 0 1 43 1-11 1-18 1 29 1-13 1 0 1-11 1 19 1-39 1 16 1 9 1-4 1 36 1 0 1-8 1-27 1-27 1 40 1 11 1-1 1-25 1 31 1-9 1-29 1-12 1 23 1 1 1 7 1-18 1 68 1-61 1 1 1 9 1 2 1-16 1 18 1-22 1 28 1-24 1-9 1 37 1-39 1 11 1 3 1-20 1 17 1 25 1-29 1-10 1 29 1-2 1 0 1 4 1 7 1-30 1-7 1 46 1-22" fill="none" stroke="#0000ff" stroke-width="1.2" stroke-linejoin="round" vector-effect="non-scaling-stroke"/></g>
<g clip-path="url(#cdL)"><path transform="translate(91.900 1273.40) scale(0.068368 0.5)" d="M0 235l1-10 1-8 1-5 1-2 1 2 1 1 1 2 1 4 1 3 1 4 1 4 1 4 1 4 1 4 1 4 1 4 1 3 1 3 1 2 1 2 1 1 1 2 1 1 1 1 1 1 1 1 1 1 1 0 1 1 1 0 1 1 1 2 1 1 1 2 1 2 1 3 1 3 1 0 1 0 1 0 1 0 1 1 1 2 1 3 1 1 1 1 1 1 1 1 1 0 1-1 1 0 1 0 1 0 1 0 1 0 1 0 1 1 1 0 1 0 1 0 1 1 1 0 1 2 1 1 1 1 1 0 1-1 1 0 1 0 1-1 1 1 1 1 1 1 1 0 1 0 1 0 1 0 1 0 1 1 1 0 1-1 1-1 1-2 1-1 1-1 1 0 1 0 1 0 1 0 1 1 1 1 1 0 1 1 1 0 1 1 1 0 1 0 1 1 1 1 1 0 1 1 1 0 1 0 1 0 1 0 1-1 1 0 1 1 1 0 1-1 1 0 1-1 1 1 1-2 1-1 1-3 1-5 1-7 1-10 1-13 1-13 1-13 1-1 1-7 1-4 1-2 1 2 1 0 1 3 1 3 1 3 1 4 1 3 1-3 1 6 1 4 1 4 1 3 1 3 1 2 1 1 1 2 1 1 1 2 1 2 1 2 1 3 1 2 1 2 1 2 1 2 1 2 1 1 1 1 1 1 1 0 1 1 1 1 1-1 1 1 1 1 1 0 1 1 1 1 1 2 1 1 1 0 1-1 1 0 1 0 1 0 1 1 1 0 1 2 1 1 1 2 1 0 1 0 1 0 1 1 1 1 1-1 1 0 1 0 1 0 1 0 1 0 1 1 1 1 1 0 1 0 1 0 1 0 1 0 1 0 1-1 1 0 1-1 1 0 1 0 1 0 1 0 1 1 1 1 1 0 1 1 1 1 1 1 1 0 1-1 1 0 1-1 1-1 1-1 1-1 1 0 1-1 1 0 1 0 1-1 1-1 1-1 1 0 1 1 1 0 1 1 1 1 1 3 1 3 1-2 1-3 1-2 1 0 1 0 1-1 1 0 1 0 1-2 1-5 1-8 1-9 1-12 1-12 1-12 1-1 1-7 1-4 1-2 1 2 1 1 1 2 1 3 1 3 1 4 1 4 1 9 1 3 1 3 1 2 1 2 1 1 1 1 1 1 1 1 1 0 1 1 1 1 1 1 1 1 1 2 1 1 1 1 1 2 1 1 1 2 1 2 1 2 1 2 1 2 1 2 1 1 1-1 1 0 1 0 1 1 1 1 1 2 1 2 1 1 1 0 1-1 1 0 1 0 1 0 1 0 1 1 1 1 1 1 1 1 1 1 1 0 1 0 1 0 1 0 1-2 1-1 1-1 1 0 1 1 1 0 1 0 1 0 1 2 1 2 1 2 1 2 1 0 1-1 1-1 1-1 1 0 1-2 1 0 1-1 1 0 1 1 1 0 1 1 1 1 1 0 1 1 1 1 1 1 1-1 1 0 1 0 1-1 1 1 1 0 1 0 1 0 1 1 1 1 1 0 1-1 1-2 1-1 1 0 1 0 1 2 1 1 1 1 1-2 1-2 1-1 1-1 1 1 1 1 1 1 1-2 1-4 1-8 1-10 1-11 1-13 1-13 1-6 1-8 1-4 1-1 1 1 1 1 1 2 1 3 1 4 1 4 1 3 1 6 1 3 1 2 1 2 1 1 1 1 1 2 1 1 1 2 1 3 1 2 1 3 1 2 1 2 1 2 1 2 1 2 1 1 1 2 1 1 1 2 1 1 1 2 1 1 1 1 1 0 1 0 1 0 1 1 1 1 1 0 1 1 1 1 1 1 1 0 1 0 1 1 1 1 1 0 1 2 1 1 1 0 1 0 1 0 1 0 1 0 1 0 1-1 1 0 1 1 1 0 1 0 1 2 1 1 1-1 1-1 1 0 1 0 1-1 1 0 1-1 1 0 1-1 1-2 1-1 1-1 1 0 1 1 1 1 1 1 1 1 1 1 1 2 1 1 1 0 1 1 1 0 1 0 1-1 1 0 1-1 1 0 1 0 1 0 1 0 1 0 1 0 1 2 1 1 1 0 1 0 1 0 1 0 1 0 1 0 1 0 1 0 1 0 1 1 1 1 1-1 1 0 1-1 1-1 1-3 1-5 1-6 1-8 1-10 1-11 1-12 1-13 1-8 1-4 1-1 1 1 1 1 1 2 1 3 1 4 1 4 1 3 1 4 1-2 1 3 1 4 1 3 1 2 1 3 1 3 1 2 1 1 1 2 1 1 1 2 1 2 1 2 1 3 1 2 1 3 1 2 1 1 1 1 1 1 1 1 1 0 1 2 1 1 1 1 1 1 1 1 1 1 1 1 1 1 1 1 1 0 1 0 1-1 1 0 1 0 1 1 1 1 1 0 1 2 1 1 1-1 1 0 1 0 1 0 1 1 1 0 1 0 1 1 1 0 1 0 1-1 1 0 1-1 1 0 1 1 1 0 1 0 1 1 1 1 1 2 1 0 1 1 1 0 1 0 1 0 1-1 1 0 1-1 1-1 1-1 1 0 1 0 1 1 1 0 1 0 1 0 1-1 1 0 1 0 1 1 1 0 1 1 1 1 1 0 1 1 1 1 1 0 1 0 1 0 1 0 1 0 1-1 1 0 1 0 1 1 1-1 1-1 1 0 1 0 1 0 1-1 1-2 1-4 1-6 1-8 1-9 1-10 1-10 1-13 1-7 1-4 1-2 1 2 1 0 1 3 1 3 1 3 1 3 1 16 1 4 1 3 1 3 1 3 1 2 1 1 1 1 1 1 1 1 1 1 1 0 1 0 1 1 1 0 1 0 1 0 1 1 1 0 1 1 1 1 1 1 1 1 1 2 1 2 1 1 1 1 1 2 1 1 1 1 1 2 1 0 1 0 1 0 1-1 1 0 1 0 1 0 1 0 1-1 1 0 1 1 1 0 1 1 1 1 1 1 1 2 1 3 1-1 1-1 1-1 1-1 1 0 1 0 1 1 1 1 1 1 1 1 1 1 1-1 1 0 1-1 1 0 1-1 1 0 1 1 1 1 1 2 1 0 1-1 1-2 1 0 1-1 1 1 1 0 1-1 1-1 1 0 1-1 1-1 1-1 1 1 1 1 1 2 1 2 1 3 1-2 1-3 1-2 1-2 1 0 1 0 1 1 1 1 1 3 1 2 1 1 1-2 1-3 1-2 1-1 1 0 1 0 1 0 1 0 1-3 1-5 1-6 1-9 1-11 1-10 1-11 1-2 1-7 1-5 1-1 1 1 1 1 1 3 1 2 1 3 1 4 1 0 1 4 1 4 1 4 1 4 1 3 1 3 1 2 1 3 1 1 1 2 1 2 1 1 1 1 1 2 1 1 1 1 1 1 1 1 1 2 1 1 1 2 1 2 1 2 1 2 1 0 1 0 1 1 1 1 1 2 1 1 1 1 1-1 1 0 1 0 1-1 1 0 1 0 1 1 1 2 1 0 1-2 1-2 1-2 1-1 1-1 1 1 1 1 1 1 1 1 1 1 1 3 1 2 1 2 1 0 1 0 1 0 1 0 1 0 1-1 1 0 1 0 1 0 1 0 1 0 1 0 1 0 1 0 1 1 1-1 1-1 1 0 1 0 1 0 1-1 1 0 1 0 1 0 1-1 1 0 1 0 1-1 1 0 1 0 1 0 1 0 1 1 1 1 1 1 1 1 1 1 1 1 1 0 1-1 1-1 1-1 1-1 1-1 1-1 1 1 1 1 1 1 1 1 1 1 1 0 1-3 1-5 1-7 1-9 1-9 1-8 1-10 1-16 1-7 1-4 1-2 1 2 1 0 1 3 1 3 1 3 1 4 1 4 1 0 1 4 1 4 1 4 1 3 1 2 1 2 1 2 1 1 1 1 1 2 1 1 1 1 1 1 1 1 1 1 1 0 1 1 1 1 1 1 1 2 1 1 1 2 1 3 1 2 1 3 1 2 1 3 1 0 1-1 1-1 1 0 1-1 1-1 1-1 1 0 1 1 1 2 1 1 1 2 1 3 1 2 1 1 1-1 1 0 1 0 1 1 1 1 1 1 1 0 1-1 1 0 1 0 1-1 1 0 1 0 1 1 1 0 1 0 1 0 1-1 1-1 1-1 1 0 1-1 1 0 1 0 1 0 1 1 1 0 1 1 1 1 1 1 1 1 1 2 1 1 1 1 1 0 1-1 1-1 1-1 1 0 1-1 1 0 1 1 1 1 1 1 1 0 1 0 1-1 1 0 1 0 1-1 1 1 1 0 1 0 1 0 1 0 1-1 1-1 1-1 1-1 1 1 1-1 1-3 1-5 1-7 1-8 1-10 1-11 1-11 1-6 1-7 1-4 1-1 1 1 1 1 1 2 1 3 1 3 1 4 1 1 1 4 1 3 1 3 1 3 1 3 1 2 1 3 1 3 1 3 1 2 1 3 1 2 1 2 1 1 1 2 1 2 1 2 1 1 1 1 1 1 1 0 1 1 1 0 1 1 1 0 1 0 1 0 1 1 1 1 1 0 1 0 1 1 1 0 1-1 1 0 1 0 1 1 1 1 1 1 1 2 1 2 1 2 1-1 1-1 1-1 1 0 1 0 1 0 1 0 1 0 1 1 1 1 1 1 1 1 1 2 1 0 1-1 1-1 1 0 1 1 1 0 1 1 1 1 1 0 1 0 1-1 1 0 1 0 1 0 1-1 1-1 1-2 1-1 1-1 1 0 1 0 1 0 1 1 1 1 1 2 1 0 1 0 1 0 1-1 1-1 1-1 1-2 1-2 1-1 1 0 1 1 1 1 1 3 1 3 1 3 1-2 1-3 1-2 1-2 1-1 1-1 1 0 1 1 1 0 1-2 1-4 1-7 1-8 1-12 1-12 1-12 1-3 1-7 1-5 1-1 1 1 1 1 1 3 1 3 1 3 1 4 1 4 1 3 1-1 1 4 1 3 1 4 1 2 1 3 1 2 1 2 1 2 1 1 1 2 1 1 1 2 1 2 1 3 1 2 1 2 1 0 1 1 1 1 1 0 1 1 1 1 1 0 1 0 1 1 1 0 1 1 1 0 1 1 1 1 1 2 1 3 1 2 1 2 1 0 1 0 1 0 1 1 1-1 1 0 1 0 1 0 1 1 1 2 1 2 1 1 1-3 1-2 1-2 1-1 1-1 1 0 1 2 1 2 1 3 1 3 1 0 1-2 1-1 1 0 1 0 1 0 1 1 1 1 1 1 1 1 1-1 1 0 1 0 1 0 1-1 1-1 1-1 1 0 1 0 1 1 1 0 1 0 1 1 1 0 1 0 1 0 1 0 1 0 1-1 1 0 1 0 1-1 1-1 1-1 1 1 1 0 1 0 1 0 1 0 1 1 1 0 1 1 1 1 1 1 1 1 1-1 1-3 1-5 1-8 1-9 1-10 1-11 1-10 1-9 1-7 1-4 1-1 1 1 1 1 1 2 1 3 1 3 1 4 1 3 1 7 1 3 1 3 1 2 1 2 1 1 1 2 1 1 1 2 1 2 1 2 1 1 1 2 1 1 1 1 1 1 1 1 1 2 1 2 1 2 1 2 1 2 1 1 1 0 1 0 1 1 1 1 1 1 1 0 1-1 1 0 1 1 1 0 1 1 1 1 1 1 1 1 1 1 1 1 1 1 1 1 1 1 1-1 1 1 1 0 1 0 1 1 1 0 1 0 1 0 1 0 1 0 1 0 1 0 1 0 1 1 1 1 1 1 1 0 1-1 1 0 1-1 1 0 1 0 1 1 1 1 1 1 1-1 1 0 1-1 1 0 1 0 1 0 1 0 1 1 1 0 1 0 1 0 1 0 1 0 1 0 1 0 1 0 1 1 1 0 1 0 1 0 1-1 1 0 1-1 1 0 1-1 1 0 1 0 1 1 1 0 1 1 1 0 1 0 1 0 1 0 1 0 1 0 1-1 1-4 1-5 1-6 1-9 1-11 1-11 1-12 1-9 1-7 1-4 1-2 1 2 1 0 1 3 1 3 1 3 1 4 1 3 1-2 1 5 1 5 1 4 1 3 1 3 1 3 1 2 1 1 1 2 1 2 1 2 1 1 1 2 1 1 1 1 1 1 1 1 1 1 1 2 1 1 1 2 1 1 1 1 1 0 1 1 1 0 1 1 1 0 1 1 1 1 1 1 1 1 1 1 1 0 1 0 1 0 1 1 1 1 1 2 1 1 1 0 1 0 1 0 1 0 1 1 1 1 1 0 1 1 1 0 1-1 1 0 1-1 1-1 1 0 1 1 1 2 1 2 1 0 1-1 1 0 1 1 1 1 1 1 1-2 1-1 1-1 1 0 1 0 1 1 1 0 1 0 1 1 1 1 1 1 1 0 1 0 1-1 1 0 1 0 1 0 1 1 1 0 1 0 1 0 1 0 1 0 1-1 1 0 1 0 1-1 1 0 1-1 1 0 1 1 1 0 1 1 1 1 1-1 1-1 1-1 1-1 1-1 1-1 1-4 1-5 1-8 1-10 1-12 1-13 1-14 1 3 1-7 1-4 1-1 1 1 1 1 1 2 1 3 1 3 1 4 1 4 1-8 1 4 1 5 1 4 1 3 1 3 1 3 1 3 1 2 1 2 1 2 1 2 1 1 1 3 1 1 1 2 1 2 1 2 1 3 1 3 1 0 1 0 1 0 1 1 1 0 1 1 1 1 1 1 1 1 1 1 1 1 1 1 1 0 1 1 1 0 1 1 1 1 1 1 1 1 1 2 1 0 1-1 1-1 1 1 1 0 1 1 1 1 1 1 1 1 1-2 1-1 1 0 1 0 1 1 1 1 1 0 1 0 1 0 1 1 1 1 1 1 1 0 1-1 1-1 1 0 1 0 1-1 1 0 1 0 1 0 1 1 1 0 1 0 1 0 1 1 1 0 1 1 1 0 1 0 1 0 1 0 1-1 1 0 1 0 1 1 1 1 1-1 1-1 1-1 1-1 1 0 1 0 1-1 1-1 1 0 1 1 1 1 1 2 1 1 1 1 1-1 1-2 1-1 1-3 1-3 1-5 1-7 1-9 1-11 1-13 1-12 1-3 1-8 1-4 1-1 1 1 1 1 1 2 1 3 1 3 1 4 1 4 1 3 1 4 1 3 1 3 1 3 1 2 1 2 1 1 1 0 1 1 1 1 1 2 1 1 1 2 1 3 1 3 1 3 1 2 1 2 1 2 1 1 1 1 1 1 1 0 1 1 1 0 1 1 1 0 1 2 1 1 1 2 1 1 1-1 1 0 1 0 1 0 1 0 1 0 1 1 1 0 1 1 1 1 1 1 1 0 1 1 1 0 1 1 1 1 1 1 1 0 1 1 1 0 1 1 1 0 1 0 1 0 1-1 1 0 1 0 1 0 1 0 1 0 1 0 1 0 1 0 1 0 1-1 1 0 1 1 1 1 1 0 1 1 1 0 1-1 1-1 1 0 1-1 1 0 1 1 1 0 1 0 1 0 1 1 1 1 1 0 1 1 1-1 1-1 1-2 1-2 1-2 1-1 1-1 1-2 1 0 1 1 1 1 1 2 1 3 1 2 1 2 1-1 1 0 1-2 1-3 1-6 1-9 1-12 1-13 1-12 1-8 1-10 1-9 1-4 1-2 1 2 1 1 1 2 1 4 1 3 1 4 1 5 1 3 1 4 1-2 1 5 1 4 1 4 1 3 1 3 1 3 1 2 1 2 1 2 1 2 1 2 1 2 1 3 1 2 1 3 1 2 1 1 1 1 1 0 1 0 1-1 1 1 1 0 1 1 1 1 1 1 1 2 1 1 1 2 1 1 1 1 1 0 1 1 1 1 1 0 1 0 1 0 1 0 1 0 1-1 1-1 1-1 1-1 1 0 1 0 1 0 1 0 1 0 1 0 1 1 1 1 1 2 1 2 1 3 1 2 1-2 1-2 1-2 1-2 1-1 1 0 1 0 1-1 1 0 1-1 1 0 1 0 1 0 1 0 1 1 1 1 1 2 1 1 1 1 1 2 1 1 1 1 1 2 1 0 1-1 1-1 1 0 1 1 1-1 1-1 1 0 1 0 1 0 1 0 1-1 1 0 1-1 1 0 1 0 1 0 1 0 1 1 1 1 1 2 1 1 1-1 1-4 1-4 1-6 1-6 1-6 1-7 1-8 1-26 1-8 1-4 1-1 1 1 1 1 1 2 1 3 1 3 1 4 1 4 1 8 1 3 1 4 1 3 1 2 1 2 1 2 1 2 1 1 1 1 1 2 1 1 1 1 1 1 1 1 1 2 1 1 1 0 1 1 1 0 1 1 1 1 1 2 1 1 1 2 1 0 1 1 1 0 1 0 1 0 1 0 1-1 1 0 1 0 1 0 1 1 1 1 1 1 1 1 1 1 1 2 1 2 1 1 1 2 1 1 1 0 1 0 1 1 1 0 1 0 1 1 1-1 1 0 1 0 1 0 1-1 1 0 1 0 1 0 1 0 1 0 1 0 1 1 1 2 1 1 1 0 1-1 1-1 1 0 1 0 1 0 1 0 1 1 1 1 1 1 1 0 1-1 1 0 1-1 1 0 1 1 1 0 1 0 1 1 1-1 1 0 1 0 1-1 1-1 1-1 1 0 1 0 1-1 1 0 1 0 1 0 1-1 1 0 1 1 1 1 1 0 1 2 1 1 1-1 1-4 1-5 1-7 1-7 1-7 1-7 1-7 1-16 1-7 1-4 1-1 1 1 1 1 1 2 1 3 1 2 1 15 1 2 1 2 1 2 1 2 1 1 1 2 1 2 1 1 1 2 1 2 1 1 1 2 1 2 1 1 1 1 1 0 1-1 1 0 1 0 1 0 1 0 1 1 1 1 1 1 1 1 1 2 1 1 1 1 1 1 1 2 1 2 1 0 1 0 1-1 1 0 1 0 1 0 1 0 1 1 1 1 1 1 1 0 1 1 1 1 1 0 1-1 1 0 1 0 1 1 1 1 1 1 1 1 1 2 1 1 1 0 1-1 1 0 1 0 1 1 1 0 1 0 1 0 1-1 1-1 1-1 1-1 1 0 1 0 1 0 1 0 1 0 1 0 1 0 1 1 1 0 1 1 1 1 1 0 1 1 1 2 1 1 1 0 1-2 1-1 1-1 1 0 1-1 1-1 1-1 1-2 1 0 1 0 1 1 1 0 1 0 1 1 1 1 1 1 1 2 1 1 1 0 1 0 1 0 1-1 1-1 1-3 1-5 1-7 1-11 1-12 1-12 1-9 1-10 1-8 1-4 1-2 1 2 1 0 1 3 1 3 1 3 1 5 1 3 1 4 1 2 1 3 1 2 1 4 1 3 1 2 1 3 1 3 1 2 1 3 1 2 1 2 1 2 1 1 1 2 1 1 1 1 1 1 1 1 1 1 1 0 1 1 1 1 1 1 1 1 1 0 1 2 1 1 1 1 1-1 1 0 1 0 1 1 1 1 1 0 1 1 1 1 1 0 1 1 1 0 1 0 1 0 1 1 1 2 1 0 1 1 1 1 1 1 1 0 1 1 1 0 1 0 1 0 1 1 1 0 1 0 1-1 1 0 1-1 1-1 1 0 1 0 1 0 1 1 1 1 1 2 1 2 1-2 1-1 1-1 1 0 1 0 1 0 1 0 1 0 1 0 1 0 1 0 1 1 1 1 1 1 1 1 1 0 1 0 1-1 1-1 1-2 1-1 1-2 1-1 1-1 1-1 1 0 1 0 1 2 1 2 1 3 1 2 1-2 1-3 1-2 1-1 1-1 1-3 1-4 1-5 1-5 1-7 1-8 1-9 1-16 1-7 1-4 1-1 1 1 1 1 1 2 1 3 1 3 1 4 1 3 1 6 1 2 1 3 1 3 1 3 1 2 1 1 1 2 1 2 1 1 1 1 1 2 1 1 1 2 1 1 1 2 1 2 1 2 1 1 1 2 1 2 1 1 1 2 1 1 1 1 1 0 1 0 1 0 1 1 1 0 1 1 1 0 1 1 1-1 1-1 1-1 1-1 1-2 1-1 1-1 1 0 1 0 1 1 1 2 1 2 1 3 1 3 1 3 1 0 1 1 1 0 1 0 1 0 1-1 1-1 1 0 1 0 1 1 1 2 1 1 1-1 1-1 1-1 1 0 1 1 1 1 1 1 1 1 1 1 1-1 1-1 1-1 1 0 1 0 1 0 1 1 1 1 1 0 1 0 1-1 1 0 1-1 1-2 1 0 1 0 1 1 1 1 1 2 1-2 1-2 1-2 1-1 1 0 1 0 1 0 1 1 1 2 1 0 1 1 1 1 1 2 1 0 1 1 1-2 1-4 1-6 1-8 1-10 1-10 1-11 1-11 1-7 1-8 1-4 1-1 1 1 1 1 1 3 1 2 1 4 1 3 1 4 1-1 1 3 1 3 1 3 1 2 1 2 1 3 1 2 1 3 1 2 1 3 1 2 1 3 1 3 1 2 1 1 1 1 1 1 1 1 1 1 1 1 1 1 1 1 1 2 1 1 1 1 1 1 1 1 1 1 1 0 1 1 1 1 1 1 1 1 1 1 1-2 1-1 1-2 1-1 1 0 1 0 1 1 1 1 1 1 1 2 1 2 1 2 1 1 1 1 1 1 1-1 1 0 1-1 1-1 1-1 1-1 1 0 1 0 1 1 1 2 1 1 1 1 1 0 1 0 1 0 1 0 1 0 1-1 1-2 1-1 1 0 1 0 1 1 1 2 1 2 1 2 1-2 1-1 1 0 1 0 1 1 1 0 1 0 1 0 1 0 1 0 1 0 1 0 1 1 1 0 1 0 1 0 1 0 1 0 1 0 1 1 1 0 1 0 1 0 1 0 1 0 1 0 1 0 1-2 1-4 1-6 1-8 1-11 1-12 1-13 1-13 1 4 1-6 1-4 1-2 1 2 1 0 1 3 1 2 1 3 1 4 1-8 1 4 1 3 1 3 1 3 1 3 1 2 1 3 1 2 1 3 1 2 1 3 1 2 1 2 1 2 1 2 1 2 1 2 1 2 1 2 1 3 1 0 1-1 1 0 1 0 1 0 1 1 1 1 1 1 1 2 1 1 1 0 1 1 1 0 1 1 1 2 1 1 1 2 1 0 1 1 1 1 1 0 1-1 1 0 1 0 1 0 1-1 1 0 1 0 1-1 1-1 1 0 1-1 1 0 1 0 1 1 1 2 1 1 1 1 1 2 1 2 1 1 1 1 1-1 1-1 1 1 1 0 1-1 1 0 1-1 1-1 1 0 1-1 1 0 1-1 1-1 1-1 1 0 1 0 1 0 1 0 1 1 1 1 1 1 1 2 1 2 1 1 1 1 1-1 1-1 1-1 1-1 1 0 1-1 1 0 1-1 1 0 1 1 1 0 1 1 1 1 1 0 1 1 1 0 1-1 1-3 1-4 1-7 1-8 1-11 1-11 1-10 1-9 1-7 1-4 1-1 1 1 1 1 1 3 1 2 1 3 1 4 1 3 1 4 1 4 1 4 1 4 1 3 1 3 1 2 1 2 1 1 1 1 1 2 1 1 1 1 1 1 1 1 1 1 1 1 1 1 1 1 1 1 1 1 1 1 1 1 1 0 1 0 1 1 1 0 1 1 1 1 1 1 1 2 1 1 1 1 1 0 1 0 1 0 1 0 1-1 1 0 1 0 1 1 1 1 1 1 1 0 1 1 1 1 1 1 1 0 1 0 1 1 1 1 1 1 1 0 1-1 1-1 1-1 1-1 1 0 1 0 1 0 1 2 1 1 1 0 1 1 1 1 1 0 1 1 1 1 1-1 1 0 1-1 1 0 1-1 1-1 1-1 1-1 1 0 1 0 1-1 1 0 1 1 1 0 1 0 1 0 1 0 1-1 1-1 1-1 1-1 1-1 1 1 1 0 1 1 1 2 1 2 1 2 1 1 1 1 1 0 1-1 1-1 1-1 1-2 1-1 1-2 1-4 1-6 1-6 1-9 1-9 1-9 1-9 1-6 1-4 1-1 1 1 1 1 1 2 1 3 1 2 1 2 1 4 1 5 1 4 1 3 1 3 1 3 1 2 1 3 1 2 1 2 1 2 1 3 1 2 1 1 1-1 1 0 1 1 1 1 1 1 1 1 1 1 1 1 1 1 1 0 1 0 1 1 1-1 1 0 1 1 1 0 1 1 1 2 1 1 1 1 1 0 1 0 1 0 1 1 1 1 1 1 1 0 1-1 1-1 1 0 1 0 1 0 1-1 1 1 1 1 1 3 1 1 1-1 1-2 1-1 1-1 1-1 1-1 1 0 1 0 1 2 1 2 1 3 1 2 1 1 1-1 1-1 1-1 1-1 1 0 1 0 1 0 1 0 1 0 1 0 1 0 1 0 1 1 1 0 1 0 1 0 1 0 1 0 1 0 1 0 1 0 1 0 1 0 1 0 1 0 1 0 1 0 1 1 1 1 1 1 1-2 1-1 1 0 1-1 1 0 1 0 1 1 1 0 1 0 1-1 1-1 1-2 1-5 1-6 1-8 1-10 1-10 1-11 1-10 1-7 1-4 1-1 1 1 1 1 1 2 1 3 1 3 1 4 1 4 1-4 1 2 1 2 1 2 1 2 1 2 1 3 1 3 1 3 1 3 1 2 1 2 1 2 1 2 1 2 1 3 1 2 1 0 1 1 1 1 1 1 1 1 1 1 1 2 1 1 1 2 1 1 1 1 1 1 1 1 1 0 1 0 1-1 1 1 1 1 1 2 1 1 1 2 1 2 1-1 1-1 1-1 1-2 1 0 1 0 1 1 1 1 1 1 1 1 1 2 1 2 1 1 1-1 1-1 1 0 1 1 1 0 1 1 1 1 1 1 1-1 1 0 1 0 1 0 1 0 1-1 1 0 1 0 1-1 1-1 1-1 1-1 1-1 1 0 1 1 1 0 1 2 1 1 1 2 1 1 1 1 1-1 1-1 1-1 1-1 1 0 1 0 1 0 1 0 1 0 1 0 1 0 1 1 1 0 1 1 1 1 1 0 1 1 1 0 1 0 1-1 1 0 1-1 1-2 1-3 1-6 1-7 1-9 1-10 1-10 1-12 1-8 1-7 1-4 1-1 1 1 1 1 1 2 1 3 1 3 1 4 1 4 1-2 1 4 1 3 1 3 1 2 1 2 1 2 1 2 1 2 1 2 1 2 1 2 1 3 1 4 1 3 1 2 1 1 1 1 1 1 1 2 1 1 1 2 1 3 1 1 1 0 1-1 1 0 1 0 1 0 1 1 1 1 1 2 1 2 1 1 1 0 1 0 1 1 1 1 1-1 1 0 1-1 1 0 1 0 1 1 1 2 1 2 1-1 1-2 1-1 1-1 1-1 1 0 1 0 1 1 1 2 1 1 1 1 1 0 1 1 1 1 1 0 1 1 1 1 1 0 1-1 1-2 1-1 1-2 1-1 1-1 1 0 1 0 1 1 1 1 1 1 1 1 1 1 1 1 1 1 1 2 1 0 1-1 1 0 1-1 1 0 1 0 1 0 1 1 1 1 1 0 1-2 1-2 1-2 1-1 1-1 1 0 1 0 1 1 1 2 1 3 1 2 1-1 1-2 1-3 1-4 1-6 1-7 1-8 1-11 1-11 1-10 1-2 1-7 1-4 1-1 1 1 1 1 1 2 1 3 1 3 1 3 1 0 1 4 1 4 1 3 1 3 1 3 1 2 1 3 1 3 1 2 1 3 1 3 1 2 1 2 1 1 1 2 1 2 1 1 1 1 1 1 1 1 1 2 1 0 1 0 1 0 1 0 1 0 1 0 1-1 1 0 1 0 1 0 1 0 1 1 1 1 1 0 1 1 1 1 1 1 1 2 1 2 1 2 1 1 1 0 1 0 1 0 1 0 1 0 1-1 1 1 1 0 1 1 1 1 1 0 1 1 1 0 1-1 1-1 1-1 1-1 1 0 1 0 1-1 1 0 1 0 1 0 1 0 1 1 1 1 1 1 1 1 1 1 1 0 1-1 1 0 1-1 1 0 1-1 1 0 1-1 1 0 1-1 1-1 1-1 1 0 1-1 1 0 1 0 1-1 1 0 1 0 1 1 1 2 1 1 1 1 1 1 1 2 1 2 1 0 1-3 1-2 1-2 1-1 1-1 1-1 1-2 1-4 1-5 1-6 1-7 1-8 1-9 1-13 1-7 1-4 1-1 1 1 1 1 1 2 1 3 1 3 1 3 1 13 1 3 1 2 1 1 1 1 1 1 1 1 1 1 1 1 1 1 1 2 1 2 1 2 1 2 1 3 1 2 1 1 1 0 1 1 1 0 1 1 1 0 1 0 1 1 1 1 1 1 1 2 1 2 1 1 1 0 1 0 1 0 1 0 1 1 1 0 1 1 1 0 1 2 1 1 1 1 1 1 1 0 1 0 1-1 1-1 1-2 1-1 1-1 1 0 1-1 1 1 1 1 1 1 1 2 1 2 1 3 1 2 1 2 1-1 1-1 1-2 1 0 1-1 1 0 1 0 1 0 1 0 1 1 1 0 1 1 1 1 1 2 1 0 1 0 1-1 1-1 1 0 1 1 1 0 1 0 1 1 1 0 1 0 1 1 1 0 1-1 1 0 1-1 1 0 1 1 1 0 1-1 1 1 1 0 1-1 1 1 1 0 1 1 1-1 1 0 1 0 1 0 1 1 1 0 1-1 1-4 1-5 1-8 1-8 1-10 1-10 1-10 1-12 1-7 1-4 1-1 1 1 1 1 1 2 1 3 1 3 1 4 1 3 1 5 1 3 1 2 1 2 1 2 1 1 1 0 1 1 1 1 1 2 1 2 1 2 1 3 1 2 1 2 1 2 1 2 1 3 1 2 1 1 1 2 1 1 1 1 1 2 1 2 1 1 1 2 1 0 1 0 1 0 1 1 1 1 1 1 1-1 1 0 1-1 1 1 1 0 1 1 1 1 1 0 1-1 1 0 1-1 1-1 1-1 1 1 1 1 1 1 1 1 1 2 1 2 1 1 1 0 1 0 1 0 1-1 1-1 1-1 1-1 1-1 1-1 1-1 1 0 1 1 1 1 1 1 1 1 1 1 1 1 1 0 1 1 1 0 1 1 1 1 1-1 1-1 1-1 1 0 1-1 1-1 1-1 1-1 1 1 1 1 1 1 1 0 1 1 1 0 1 1 1 0 1 1 1 1 1 1 1 1 1-1 1-1 1-1 1 0 1 0 1 0 1 0 1 1 1-1 1-3 1-4 1-7 1-7 1-9 1-11 1-10 1-16 1-8 1-4 1-1 1 1 1 1 1 2 1 3 1 3 1 4 1 4 1 0 1 3 1 4 1 3 1 4 1 3 1 3 1 3 1 2 1 2 1 2 1 2 1 2 1 1 1 1 1 1 1 1 1 1 1 1 1 1 1 1 1 2 1 0 1 1 1 2 1 2 1 0 1 1 1 0 1 1 1 1 1 1 1 1 1 1 1 1 1 0 1-1 1-1 1-1 1-1 1 0 1 1 1 0 1 2 1 2 1 2 1 1 1-1 1-1 1 0 1 0 1 1 1 1 1 2 1 0 1-2 1-1 1-1 1 1 1 0 1 1 1 2 1 1 1 1 1-1 1-1 1-1 1 0 1 0 1 0 1 1 1 1 1 0 1 1 1-1 1 0 1-1 1-2 1-1 1-2 1-1 1-1 1-2 1 0 1 0 1 2 1 1 1 2 1 2 1 1 1 1 1 1 1 1 1 0 1 0 1 1 1-1 1-1 1-1 1-1 1-2 1-1 1-2 1-2 1-4 1-4 1-6 1-8 1-9 1-11 1-11 1-7 1-8 1-4 1-1 1 1 1 1 1 2 1 3 1 4 1 4 1 3 1 4 1 2 1 3 1 3 1 4 1 3 1 3 1 3 1 2 1 2 1 2 1 1 1 2 1 1 1 2 1 2 1 1 1 1 1 1 1 1 1 1 1 2 1 2 1 0 1-1 1 0 1 0 1 0 1 1 1 0 1 1 1 2 1 1 1 2 1 2 1 1 1 0 1 0 1 1 1 0 1 1 1 1 1-1 1 0 1 0 1 0 1 0 1 1 1 2 1 1 1-2 1-1 1-1 1-1 1 0 1 0 1 1 1 2 1 1 1 2 1 0 1 0 1-1 1 0 1-1 1 1 1 1 1 0 1 0 1 0 1 0 1 1 1 0 1 1 1 0 1 0 1-1 1 0 1 0 1-1 1 0 1-1 1 1 1 0 1 1 1 1 1-1 1-1 1 0 1 0 1 0 1 1 1 1 1 0 1-1 1-1 1-2 1-1 1-1 1 0 1-1 1 0 1 1 1 0 1-1 1-4 1-9 1-11 1-12 1-12 1-9 1-10 1-8 1-4 1-2 1 2 1 1 1 2 1 3 1 4 1 4 1 4 1 4 1-5 1 4 1 3 1 3 1 3 1 3 1 2 1 3 1 2 1 3 1 2 1 3 1 2 1 3 1 2 1 2 1 1 1 1 1 2 1 2 1 1 1 1 1 0 1 1 1 1 1 0 1 1 1 0 1 1 1 0 1 0 1 1 1 1 1-1 1 0 1 0 1 1 1 0 1 2 1 1 1 1 1 1 1 0 1 1 1 1 1 0 1 0 1 0 1 1 1 1 1 0 1 1 1 1 1 2 1 0 1-1 1 0 1 0 1 0 1 0 1 1 1 1 1 0 1-2 1-2 1-2 1-2 1-1 1-1 1 0 1 1 1 1 1 1 1 2 1 3 1 2 1-1 1-1 1 0 1 1 1 1 1 0 1-1 1-2 1 0 1-1 1-1 1 1 1 1 1 3 1 1 1-2 1-1 1-1 1 0 1 0 1 0 1 1 1 1 1 1 1 0 1-1 1-2 1-3 1-4 1-6 1-7 1-8 1-9 1-10 1-15 1-7 1-5 1-1 1 1 1 1 1 3 1 2 1 3 1 4 1-7 1 2 1 3 1 2 1 3 1 2 1 3 1 2 1 2 1 2 1 3 1 2 1 3 1 3 1 3 1 1 1 2 1 2 1 3 1 2 1 2 1 1 1 0 1 2 1 1 1 2 1 2 1 2 1 1 1 0 1 0 1 0 1 0 1 1 1 1 1 0 1 0 1 0 1 0 1 1 1 0 1 1 1 1 1 0 1 0 1 1 1 1 1 0 1 1 1 0 1 0 1 0 1 0 1 0 1 1 1 0 1 1 1 0 1 0 1 0 1 0 1 1 1 1 1 1 1-1 1-2 1-1 1-1 1 0 1-1 1 0 1 1 1 2 1 2 1 2 1-1 1 0 1 0 1 0 1 1 1-2 1-2 1-2 1-3 1-1 1-1 1 0 1 2 1 1 1 2 1 1 1 0 1 0 1 1 1 1 1 0 1 0 1 0 1 1 1 0 1 0 1-1 1 0 1-1 1-1 1-4 1-5 1-6 1-8 1-9 1-11 1-12 1-9 1-8 1-4 1-1 1 1 1 1 1 2 1 3 1 3 1 4 1 4 1-4 1 4 1 4 1 3 1 3 1 3 1 3 1 2 1 3 1 3 1 3 1 4 1 3 1 2 1 2 1 2 1 2 1 1 1 0 1 0 1 0 1 1 1 1 1 0 1-1 1-1 1 0 1 0 1 0 1 0 1 1 1 2 1 2 1 2 1 2 1 2 1 0 1-1 1 0 1 0 1 1 1 0 1 1 1 0 1 1 1 0 1 0 1-1 1-1 1-1 1 0 1-1 1 1 1 1 1 2 1 2 1 2 1 2 1 0 1-1 1 0 1-1 1 0 1-1 1 0 1-1 1-2 1-3 1-2 1-2 1-1 1 0 1 0 1 1 1 0 1 1 1 2 1 1 1 1 1 0 1 1 1 2 1 1 1 1 1 1 1 0 1 1 1 1 1-1 1 0 1 0 1 0 1-1 1 0 1 0 1 0 1 0 1 1 1 1 1 1 1 1 1 0 1-1 1-1 1-4 1-5 1-6 1-9 1-9 1-10 1-10 1-14 1-7 1-5 1-1 1 1 1 1 1 3 1 3 1 3 1 4 1 3 1 4 1 4 1 3 1 4 1 3 1 2 1 3 1 2 1 2 1 1 1 1 1 1 1 1 1 1 1 1 1 1 1 1 1 2 1 1 1 2 1 1 1 2 1 1 1 0 1 1 1 0 1 0 1 0 1 1 1-1 1 0 1 0 1 1 1 0 1 1 1 1 1 1 1 1 1 2 1 2 1 2 1 1 1 0 1-1 1 1 1 0 1 2 1 0 1-1 1 0 1 1 1 0 1 0 1 1 1 0 1 0 1 0 1 0 1 0 1 0 1 0 1 0 1 1 1 0 1 1 1 0 1-1 1-1 1-1 1-1 1-2 1-1 1-1 1-1 1-1 1 0 1 0 1 1 1 1 1 2 1 3 1 2 1 3 1-1 1-3 1-2 1-1 1 0 1 1 1 2 1-1 1 0 1-1 1 0 1 0 1 0 1 1 1 0 1 1 1 2 1 2 1-1 1-2 1-3 1-4 1-6 1-7 1-8 1-9 1-8 1-8 1-7 1-7 1-4 1-1 1 1 1 1 1 2 1 3 1 3 1 3 1-13 1 3 1 4 1 4 1 4 1 3 1 4 1 4 1 3 1 3 1 3 1 3 1 3 1 2 1 2 1 2 1 2 1 1 1 2 1 0 1 1 1 1 1 0 1 1 1-1 1 0 1 0 1 0 1 0 1 0 1 0 1 0 1 1 1 2 1 1 1 1 1 2 1 1 1 0 1 1 1 0 1 1 1 1 1 0 1 1 1 2 1 0 1 1 1 1 1 2 1 0 1-1 1-2 1 0 1 0 1 1 1 0 1 1 1 1 1 1 1 0 1-1 1-2 1-1 1-1 1 0 1-1 1 0 1 1 1 0 1 2 1 2 1 1 1 2 1-1 1-2 1 0 1 0 1 1 1 0 1 1 1 1 1 0 1-1 1-1 1 0 1 0 1-1 1 0 1 1 1 0 1-1 1 1 1 0 1 0 1 0 1 1 1 0 1-1 1 0 1 0 1 0 1-1 1-1 1-1 1-4 1-5 1-5 1-7 1-7 1-9 1-8 1-17 1-7 1-4 1-2 1 2 1 0 1 3 1 3 1 3 1 3 1 4 1 5 1 2 1 3 1 2 1 3 1 2 1 2 1 2 1 3 1 1 1 2 1 1 1 1 1 2 1 1 1 2 1 2 1 2 1 2 1 1 1 2 1 1 1 1 1 1 1 1 1 1 1 0 1 1 1 1 1 1 1 1 1 0 1 2 1 0 1-1 1 0 1-1 1 0 1 0 1 0 1 1 1 1 1 2 1 1 1 1 1 0 1 0 1 0 1 0 1-1 1 0 1-1 1 0 1 0 1 1 1 1 1 1 1 2 1-1 1-1 1 0 1 0 1 1 1 1 1 0 1-1 1-1 1 0 1-1 1-1 1-2 1 0 1 0 1 1 1 1 1 1 1 1 1 1 1 1 1-1 1-1 1 0 1 0 1 0 1 0 1 0 1-1 1 0 1 0 1 1 1 1 1 0 1 1 1 1 1 0 1-1 1 0 1 0 1 0 1-1 1-2 1-2 1-2 1-2 1-3 1-5 1-5 1-8 1-9 1-11 1-12 1-7 1-8 1-4 1-2 1 2 1 0 1 3 1 3 1 3 1 4 1 4 1 3 1-2 1 2 1 2 1 2 1 2 1 3 1 2 1 3 1 2 1 3 1 3 1 3 1 3 1 2 1 2 1 2 1 2 1 1 1 0 1 1 1-1 1 0 1 0 1 1 1 1 1 1 1 2 1 2 1 2 1 2 1 2 1 1 1 1 1 0 1 0 1 0 1 0 1 0 1-1 1 0 1 0 1-1 1 0 1 1 1 0 1 1 1 2 1 1 1 1 1 1 1 2 1 0 1 0 1-1 1 0 1-1 1-1 1 0 1 0 1 0 1 1 1 1 1 1 1 1 1 0 1-1 1-1 1 0 1 0 1 0 1 2 1 0 1 0 1 0 1-1 1 0 1 1 1 1 1 0 1 1 1 0 1 0 1-1 1 0 1-1 1-1 1-1 1-1 1 0 1 0 1 1 1 1 1 1 1 1 1 1 1 0 1-1 1-1 1-2 1-2 1-1 1-2 1-2 1-4 1-5 1-6 1-7 1-8 1-9 1-10 1-8 1-7 1-4 1-1 1 1 1 1 1 2 1 3 1 3 1 4 1 3 1 2 1 3 1 4 1 3 1 2 1 3 1 2 1 2 1 1 1 2 1 1 1 2 1 1 1 2 1 2 1 2 1 3 1 2 1 2 1 2 1 2 1 1 1 1 1 0 1 1 1 0 1 1 1 1 1 0 1 1 1 0 1 1 1 1 1 1 1 0 1 0 1 0 1 0 1-1 1-1 1 0 1-1 1 0 1 0 1 1 1 2 1 1 1 2 1 2 1 1 1-2 1-1 1-1 1 0 1-1 1 0 1 1 1 1 1 0 1 1 1 1 1 2 1 1 1-2 1-1 1-1 1 0 1 0 1-1 1 1 1 0 1 1 1 1 1 0 1 1 1 0 1 0 1 0 1 0 1 0 1 0 1 1 1 0 1 1 1 0 1-1 1 0 1 0 1-2 1-2 1-1 1-1 1-1 1-1 1 1 1 0 1 0 1 1 1 2 1 2 1 3 1-1 1-2 1-2 1-5 1-6 1-7 1-8 1-10 1-10 1-11 1-2 1-7 1-4 1-1 1 1 1 1 1 2 1 3 1 3 1 4 1-7 1 6 1 5 1 4 1 4 1 4 1 3 1 3 1 2 1 1 1 1 1 1 1 1 1 2 1 1 1 1 1 2 1 2 1 3 1 1 1 0 1 0 1 0 1 1 1 2 1 2 1 2 1 2 1 0 1 0 1 1 1 2 1 0 1 0 1-1 1-1 1 0 1 0 1 1 1 1 1 2 1 1 1 2 1 0 1 0 1-1 1-1 1-1 1 0 1-1 1-1 1 0 1 1 1 0 1 1 1 1 1 0 1 0 1 1 1 1 1 2 1 2 1 0 1-1 1 0 1-1 1 1 1 0 1 0 1 1 1 0 1 0 1-1 1 1 1 0 1 0 1-1 1 0 1 0 1-1 1 0 1 0 1 1 1 2 1 0 1-2 1-2 1-1 1-1 1-1 1 0 1 0 1 1 1 1 1 1 1 3 1-1 1-3 1-2 1-1 1-1 1 0 1 2 1 2 1 2 1-2 1-7 1-8 1-9 1-9 1-9 1-12 1-9 1-7 1-4 1-2 1 2 1 0 1 3 1 3 1 3 1 4 1 3 1 0 1 5 1 3 1 4 1 3 1 3 1 2 1 2 1 1 1 1 1 1 1 1 1 1 1 2 1 1 1 1 1 2 1 1 1 2 1 2 1 2 1 2 1 2 1 2 1 2 1 0 1 0 1-1 1 0 1 0 1 1 1 0 1 1 1 0 1 1 1 0 1 0 1 1 1 1 1 1 1 1 1 1 1 1 1 0 1 0 1 1 1 0 1 0 1 1 1 0 1 0 1 0 1 0 1 0 1 1 1 0 1 1 1 1 1 1 1-1 1-2 1-3 1-2 1-1 1-1 1 0 1 0 1 2 1 2 1 2 1 3 1 0 1-2 1-2 1-1 1 1 1 1 1 2 1 2 1 0 1-1 1-1 1 1 1 1 1 1 1-1 1-2 1 0 1 1 1 2 1-1 1-2 1-1 1-1 1-1 1-1 1 0 1-1 1 0 1 0 1 1 1 1 1 1 1-1 1-3 1-6 1-9 1-11 1-12 1-14 1-5 1-11 1-8 1-5 1-1 1 1 1 1 1 3 1 3 1 4 1 4 1 4 1 4 1 3 1 9 1 3 1 3 1 3 1 3 1 2 1 2 1 1 1 2 1 2 1 2 1 1 1 1 1 0 1 1 1 1 1 1 1 2 1 2 1 1 1-1 1 0 1 0 1 0 1 0 1 1 1 2 1 2 1 3 1 2 1-1 1 0 1-1 1 0 1 0 1 0 1 0 1 0 1 1 1 0 1 1 1 0 1 1 1 0 1 1 1 1 1 1 1 0 1 1 1 1 1 1 1 0 1 1 1 0 1 1 1 0 1 1 1 1 1-1 1 0 1 0 1 0 1 0 1 0 1 1 1 1 1 1 1-1 1 0 1 0 1 0 1 0 1 1 1-1 1-2 1-2 1-2 1-1 1-2 1 0 1 0 1 0 1 1 1 1 1 0 1 0 1 1 1 0 1 1 1-1 1 0 1-1 1 0 1 0 1 1 1 1 1 1 1 1 1 2 1 1 1 0 1-1 1-3 1-5 1-6 1-8 1-9 1-10 1-10 1-10 1-3 1-3 1-1 1 1 1 0 1 3 1 2 1 0 1 3 1 3 1 3 1 2 1 1 1 2 1 1 1 1 1 2 1 2 1 3 1 3 1 3 1 2 1 2 1 2 1 2 1 2 1 1 1 1 1 1 1 0 1 1 1 1 1 1 1 0 1 1 1 2 1 2 1 2 1 1 1 1 1 0 1 1 1 1 1 0 1 1 1 0 1 0 1 0 1-1 1 0 1 1 1 1 1 1 1 1 1-2 1 0 1 0 1 1 1 2 1 0 1-1 1 0 1 0 1 0 1 1 1 1 1 0 1-1 1-1 1 0 1 0 1 0 1 2 1 1 1-1 1-1 1-1 1 1 1-1 1 0 1 1 1 2 1 1 1-2 1-1 1-1 1-1 1 0 1-1 1 1 1 1 1 0 1 0 1 2 1 0 1 0 1 1 1 0 1 1 1-1 1 0 1-1 1-1 1 0 1-1 1-2 1-2 1-1 1-1 1-1 1 0 1 0 1 1 1 1 1-2 1-4 1-6 1-8 1-10 1-11 1-10 1-5 1-7 1-4 1-1 1 1 1 0 1 3 1 3 1 3 1 3 1 10 1 2 1 2 1 2 1 1 1 0 1 1 1 1 1 1 1 1 1 1 1 1 1 1 1 2 1 1 1 2 1 2 1 2 1 2 1 2 1 2 1 1 1 1 1 1 1 0 1 1 1 0 1 0 1 0 1 1 1 0 1 1 1 2 1 1 1 3 1 1 1 2 1 1 1 0 1 0 1 1 1 0 1-1 1-2 1-1 1-1 1 0 1 0 1 1 1 1 1 1 1 1 1 2 1 1 1 2 1 2 1-1 1-1 1-2 1-1 1 0 1 0 1 2 1 1 1 1 1 1 1 1 1 0 1 0 1 0 1 0 1 1 1-2 1-1 1 0 1-1 1 0 1-1 1 0 1 1 1-1 1 1 1 1 1 2 1 1 1-1 1-2 1-2 1-1 1 0 1 0 1 0 1 2 1 2 1 1 1 1 1 0 1 0 1 0 1-1 1 0 1-1 1-1 1-1 1-2 1-4 1-5 1-7 1-9 1-8 1-10 1-13 1-10 1-7 1-5 1-1 1 1 1 1 1 3 1 3 1 3 1 4 1 4 1 3 1 3 1 3 1 4 1 3 1 2 1 2 1 1 1 2 1 1 1 2 1 1 1 2 1 1 1 2 1 2 1 2 1 2 1 2 1 2 1 1 1 2 1 2 1 2 1 3 1 1 1 1 1 1 1 1 1 0 1 0 1 0 1 1 1 1 1 0 1 0 1 1 1-1 1-1 1 0 1 0 1 1 1 1 1 0 1 1 1 1 1 0 1 1 1 0 1 0 1 0 1 0 1 1 1 0 1 0 1-1 1 0 1 0 1-1 1 0 1 0 1 0 1 1 1 1 1 1 1 0 1 0 1 0 1 1 1 0 1 0 1 0 1 0 1 0 1 0 1 1 1-1 1 0 1 0 1-1 1 0 1 1 1 1 1-1 1-1 1-1 1 0 1-1 1 0 1-1 1-1 1-1 1 0 1 1 1 0 1 0 1 1 1 2 1 1 1-3 1-2 1-1 1-1 1-1 1-3 1-3 1-6 1-7 1-8 1-9 1-11 1-13 1-7 1-5 1-1 1 1 1 1 1 3 1 2 1 4 1 4 1 3 1 7 1 5 1 5 1 3 1 2 1 2 1 1 1 1 1 0 1 1 1 0 1 1 1 1 1 1 1 2 1 2 1 2 1 2 1 1 1 2 1 2 1 1 1 1 1 2 1 0 1 1 1 0 1 0 1 0 1 1 1 1 1 1 1 1 1 2 1 1 1 1 1 0 1 1 1 0 1 0 1 0 1 1 1 1 1 1 1 0 1 0 1 0 1 0 1 0 1 0 1 1 1 1 1 1 1 0 1 0 1 0 1 1 1 0 1-1 1 0 1-1 1 0 1 0 1 0 1 1 1 1 1 1 1-1 1-1 1-1 1 0 1 0 1 0 1 0 1 0 1 1 1 0 1 0 1 0 1 0 1-1 1 0 1-1 1-1 1 0 1-1 1 0 1 0 1 0 1 1 1 2 1 1 1 0 1 0 1 1 1 0 1 0 1 1 1 0 1 0 1 0 1-1 1 0 1-3 1-5 1-7 1-7 1-8 1-8 1-8 1-15 1-10 1-8 1-5 1-1 1 1 1 1 1 3 1 3 1 3 1 4 1 4 1 4 1-9 1 4 1 5 1 4 1 3 1 3 1 2 1 3 1 2 1 3 1 2 1 3 1 3 1 1 1 2 1 2 1 1 1 2 1 2 1 0 1 0 1 0 1 0 1 1 1 0 1 2 1 2 1 2 1 2 1 3 1 2 1 0 1 0 1 1 1 1 1 1 1-1 1-1 1 0 1-1 1 0 1 1 1 1 1 2 1 1 1 2 1 1 1-1 1 0 1 0 1 0 1 1 1 0 1 0 1-1 1 0 1-1 1 0 1 0 1-1 1 0 1 1 1 1 1 0 1 0 1 1 1 0 1 1 1 0 1 0 1 0 1-1 1 0 1 0 1 0 1 0 1 1 1-2 1 0 1 0 1 0 1 1 1 0 1 1 1 0 1 0 1 1 1 1 1 0 1-1 1 0 1 0 1 0 1 0 1 0 1 0 1-1 1-1 1 0 1 0 1 0 1 1 1 0 1-4 1-7 1-8 1-8 1-9 1-7 1-9 1-17 1-7 1-5 1-1 1 1 1 1 1 3 1 3 1 3 1 4 1 4 1 3 1 11 1 2 1 2 1 1 1 2 1 1 1 1 1 2 1 1 1 2 1 1 1 2 1 2 1 2 1 1 1 2 1 2 1 1 1 2 1 1 1 0 1 1 1 0 1 1 1-1 1 0 1 1 1 0 1 0 1 1 1 1 1 2 1 1 1 1 1 1 1 1 1 1 1 1 1 0 1 0 1 1 1 0 1 0 1 1 1 0 1 1 1 1 1 1 1-1 1-1 1-2 1-1 1-1 1 1 1 0 1 1 1 1 1 0 1 1 1 1 1 1 1 0 1 0 1 1 1 0 1-1 1-1 1 0 1-1 1 0 1 0 1 0 1 1 1 1 1 1 1 1 1 1 1 1 1-1 1 0 1 0 1 0 1-1 1-1 1 0 1 0 1-2 1-1 1-1 1-1 1 0 1 0 1-1 1 1 1 1 1 1 1 1 1 2 1 2 1 1 1 0 1-1 1-1 1-3 1-4 1-5 1-8 1-9 1-10 1-11 1-16 1-7 1-4 1-1 1 1 1 1 1 2 1 3 1 3 1 4 1 3 1 5 1 3 1 3 1 3 1 3 1 3 1 2 1 2 1 2 1 2 1 1 1 1 1 1 1 1 1 1 1 0 1 0 1 1 1 0 1 0 1 1 1 1 1 1 1 1 1 2 1 1 1 1 1 1 1 0 1 1 1 0 1 1 1 1 1 1 1 1 1 2 1 2 1 2 1 2 1 0 1 0 1-1 1 1 1 0 1 1 1-1 1 0 1 0 1 0 1-1 1 1 1 1 1 1 1 2 1 1 1-2 1-1 1 0 1 0 1 0 1 1 1 1 1 1 1 1 1 1 1-1 1-1 1 0 1 0 1-1 1 1 1 1 1-1 1 0 1-1 1 0 1 0 1 0 1 0 1 0 1-1 1 0 1 0 1 0 1 0 1 0 1 0 1-1 1 0 1 0 1 1 1 0 1 0 1 1 1 1 1 1 1 0 1-1 1-1 1-1 1-2 1-1 1-1 1-1 1-2 1-4 1-6 1-7 1-9 1-10 1-10 1-10 1-7 1-4 1-1 1 1 1 1 1 2 1 3 1 3 1 4 1 3 1 6 1 4 1 3 1 4 1 2 1 3 1 1 1 1 1 1 1 1 1 1 1 1 1 1 1 0 1 1 1 1 1 0 1 1 1 1 1 1 1 2 1 1 1 1 1 1 1 2 1 1 1 0 1 1 1 0 1 0 1 0 1 1 1 0 1 1 1 1 1 1 1 0 1 1 1 1 1 1 1 2 1 2 1 2 1 0 1-1 1-1 1-1 1-1 1-1 1-1 1 1 1 0 1 0 1 0 1 0 1 1 1 1 1 0 1 2 1 1 1 1 1 1 1 1 1 1 1 0 1 0 1 0 1-2 1-2 1-1 1-2 1-3 1-1 1-1 1-1 1 0 1 1 1 1 1 1 1 1 1 1 1 1 1 1 1 1 1 0 1 1 1-1 1 1 1 0 1 1 1 1 1 1 1 0 1 0 1 0 1 0 1-1 1 0 1 1 1 0 1 0 1 0 1 0 1-2 1-4 1-6 1-9 1-10 1-12 1-12 1-4 1-10 1-7 1-5 1-1 1 1 1 1 1 3 1 3 1 3 1 4 1 4 1 4 1-5 1 3 1 2 1 2 1 2 1 3 1 2 1 3 1 2 1 2 1 2 1 2 1 1 1 2 1 1 1 1 1 2 1 2 1 2 1 2 1 2 1 2 1 2 1 3 1 2 1 2 1 1 1 1 1 0 1 1 1 0 1 1 1 1 1 0 1 0 1 0 1 0 1-1 1 0 1 0 1 0 1 0 1 0 1 2 1 2 1 2 1 2 1 1 1 0 1 0 1 0 1 0 1-1 1-1 1 0 1 0 1-1 1 0 1 1 1 1 1 2 1 0 1-2 1-1 1-1 1 0 1-1 1 0 1 1 1 1 1 1 1 1 1 2 1 0 1 0 1 0 1 0 1 1 1 0 1 0 1-1 1 0 1 0 1 1 1-1 1-1 1-1 1-2 1-1 1 0 1 0 1 1 1 0 1 1 1 1 1 0 1 1 1 0 1 0 1-1 1 0 1 0 1-2 1-3 1-4 1-6 1-8 1-10 1-11 1-12 1-5 1-6 1-4 1-1 1 1 1 0 1 3 1 2 1 3 1 4 1-9 1 6 1 6 1 5 1 5 1 5 1 3 1 3 1 2 1 2 1 2 1 1 1 1 1 1 1 1 1 1 1 2 1 1 1 1 1 1 1 0 1 0 1 1 1 0 1 1 1 1 1 1 1 1 1 1 1 1 1 2 1 1 1 0 1 0 1-1 1-1 1-1 1 0 1 0 1 1 1 0 1 1 1 2 1 2 1 1 1 2 1 1 1-1 1-2 1-1 1-2 1 0 1-1 1 1 1 0 1 1 1 1 1 2 1 1 1 2 1 2 1 1 1-1 1 0 1 0 1 0 1 0 1 1 1-1 1-1 1-1 1-1 1-1 1-1 1-1 1-1 1-2 1-1 1-1 1 1 1-1 1 0 1 1 1 2 1 2 1 1 1 2 1 1 1 2 1 1 1 0 1 0 1 0 1 0 1 1 1-1 1-1 1-1 1-1 1 0 1-1 1-1 1 0 1 1 1-1 1-2 1-4 1-6 1-7 1-8 1-9 1-9 1-15 1-7 1-4 1-1 1 1 1 1 1 2 1 3 1 3 1 4 1-3 1 3 1 4 1 3 1 3 1 3 1 2 1 2 1 2 1 2 1 2 1 3 1 3 1 3 1 2 1 1 1 1 1 0 1 1 1 1 1 2 1 1 1 2 1 1 1 2 1 2 1-1 1-1 1-1 1 0 1 0 1 0 1 0 1 1 1 0 1 2 1 1 1 2 1 1 1 1 1 1 1 0 1 1 1 0 1 1 1 0 1 0 1 0 1 0 1 0 1 1 1 1 1 1 1 1 1 0 1 0 1-1 1-1 1-1 1-1 1 0 1 0 1 1 1 1 1 1 1 1 1 0 1 0 1 0 1-1 1-2 1-1 1-1 1 0 1 1 1 1 1 2 1 2 1 2 1 1 1-1 1 1 1 0 1 0 1 0 1 0 1 0 1 0 1-1 1 0 1-1 1 0 1 0 1 1 1 0 1 0 1-1 1 0 1-1 1-2 1-1 1-1 1-1 1 0 1 0 1-1 1-3 1-5 1-7 1-8 1-9 1-9 1-12 1-6 1-4 1-1 1 1 1 1 1 2 1 3 1 2 1 3 1 2 1 2 1 2 1 2 1 2 1 3 1 3 1 3 1 4 1 3 1 3 1 2 1 2 1 2 1 2 1 2 1 1 1 1 1 0 1 1 1 1 1 1 1 1 1-1 1 0 1-1 1 1 1 0 1 1 1 2 1 2 1 0 1 2 1 0 1 1 1 0 1-1 1 0 1 0 1 1 1 1 1 0 1 2 1 0 1 1 1 0 1 0 1-1 1-1 1-1 1 0 1 0 1 0 1 1 1 1 1 2 1 2 1-1 1-2 1-2 1-1 1-1 1 0 1 1 1 1 1 1 1 0 1 1 1 0 1 1 1 0 1 0 1 1 1 1 1 1 1 1 1-2 1-2 1-2 1-1 1 0 1 0 1 0 1 0 1 0 1 0 1 1 1 1 1 0 1 0 1-1 1 0 1 0 1 1 1 0 1 1 1 0 1 1 1 0 1 1 1 1 1 0 1 1 1-1 1-2 1-2 1-5 1-8 1-10 1-12 1-13 1-14 1-3 1-8 1-4 1-1 1 1 1 1 1 3 1 2 1 4 1 4 1 3 1 0 1 6 1 5 1 5 1 4 1 4 1 3 1 2 1 2 1 1 1 1 1 1 1 1 1 0 1 1 1 1 1 1 1 1 1 1 1 1 1 2 1 1 1 2 1 0 1 1 1 1 1 1 1 2 1 1 1 0 1 0 1-1 1 0 1 1 1 1 1 1 1 1 1 1 1 1 1 1 1 0 1 0 1-1 1 0 1-1 1 0 1 0 1 1 1 2 1 1 1 0 1-2 1-1 1-1 1-1 1 0 1 0 1 0 1 0 1 0 1 0 1 1 1 0 1 2 1 1 1 0 1 1 1 2 1 2 1-1 1-1 1-1 1 0 1 0 1 0 1 1 1 1 1 1 1 0 1 1 1 0 1-2 1-1 1-1 1-1 1-2 1-2 1 0 1 1 1 1 1 2 1 1 1 2 1 1 1 0 1 0 1-1 1 0 1 1 1 0 1-1 1-1 1-1 1-2 1-4 1-5 1-8 1-9 1-9 1-9 1-10 1-4 1-7 1-4 1-1 1 1 1 1 1 2 1 3 1 3 1 3 1 4 1 2 1 2 1 2 1 1 1 2 1 1 1 2 1 2 1 2 1 1 1 3 1 1 1 3 1 2 1 2 1 1 1 1 1 0 1 1 1 1 1 1 1 1 1 2 1 1 1 2 1 1 1 1 1 0 1 0 1 0 1 1 1 1 1 0 1 1 1 2 1 2 1 4 1 0 1-3 1-1 1-2 1-1 1 0 1 0 1 2 1 1 1 2 1 1 1 2 1 2 1 0 1-1 1-2 1 0 1 0 1 1 1 1 1 1 1 2 1 0 1-1 1-1 1-1 1 1 1 0 1 0 1 0 1-1 1-1 1-1 1-2 1-1 1 0 1 1 1 2 1 2 1 3 1 2 1-1 1 0 1 0 1 1 1-3 1-2 1-1 1-3 1-1 1-1 1 1 1 2 1 2 1 2 1 2 1 0 1 0 1 0 1 0 1 0 1 0 1 0 1 1 1 1 1 0 1-2 1-3 1-6 1-7 1-9 1-9 1-9 1-9 1-15 1-8 1-4 1-1 1 1 1 1 1 2 1 3 1 3 1 4 1 4 1 5 1 2 1 2 1 2 1 1 1 2 1 1 1 2 1 2 1 2 1 2 1 1 1 2 1 2 1 2 1 3 1 2 1 2 1 2 1 2 1 2 1 1 1 2 1 1 1 0 1 0 1 0 1-1 1-1 1 0 1 0 1 1 1 1 1 0 1 0 1 1 1 1 1 1 1 1 1 1 1 2 1 1 1 2 1 1 1 0 1-1 1 0 1 0 1 1 1 0 1 1 1 0 1 1 1 0 1 1 1 0 1 0 1 0 1 1 1-1 1-1 1-1 1-1 1 0 1-1 1 0 1 0 1 1 1 1 1 0 1 1 1 1 1 2 1 1 1 0 1 0 1-1 1 0 1-1 1 1 1 0 1 0 1 1 1-1 1 0 1-1 1 0 1 0 1 0 1 1 1 0 1 0 1 0 1-1 1 1 1 0 1 0 1 0 1 0 1-1 1 1 1 0 1 0 1-1 1-3 1-6 1-10 1-12 1-13 1-14 1-2 1-10 1-8 1-4 1-2 1 2 1 0 1 3 1 3 1 3 1 4 1 4 1 4 1 3 1 3 1 2 1 3 1 2 1 1 1 2 1 2 1 1 1 2 1 2 1 1 1 2 1 2 1 2 1 1 1 1 1 2 1 1 1 3 1 2 1 1 1 0 1 1 1 0 1 1 1 1 1 0 1 0 1 1 1 1 1 1 1 1 1 1 1 0 1 2 1 1 1 2 1 1 1 0 1 1 1 0 1 1 1 0 1 0 1 0 1 0 1 0 1 1 1 0 1 1 1 0 1 1 1 0 1 1 1-1 1 1 1 1 1-1 1-1 1-1 1 0 1-1 1-2 1 0 1-1 1 1 1 1 1 1 1 1 1 0 1 1 1 1 1 1 1 1 1 0 1-1 1 0 1-1 1 0 1-2 1-1 1 0 1-1 1-1 1-1 1 0 1 0 1 0 1 1 1 2 1 2 1 1 1 1 1 0 1 0 1 0 1 0 1 0 1 0 1 0 1-1 1-2 1-3 1-4 1-6 1-8 1-9 1-9 1-19 1-10 1-8 1-4 1-2 1 2 1 0 1 3 1 3 1 3 1 4 1 4 1 4 1-3 1 3 1 3 1 3 1 2 1 3 1 3 1 3 1 4 1 3 1 3 1 3 1 2 1 3 1 2 1 3 1 2 1 1 1 1 1 1 1 1 1 0 1 1 1 1 1 0 1 1 1 1 1 0 1 0 1 0 1 0 1 0 1 1 1 1 1 1 1 1 1 1 1 0 1 1 1 0 1 1 1-1 1-1 1 0 1-1 1 0 1 0 1 1 1 1 1 1 1 1 1 1 1 0 1 2 1 0 1-1 1-1 1 0 1 0 1 0 1 1 1 0 1 1 1 1 1-1 1 0 1-1 1 0 1-1 1-1 1-1 1 0 1 0 1 0 1 1 1 0 1-1 1 1 1 1 1 1 1 1 1 1 1-1 1 0 1 0 1 0 1 1 1 1 1 0 1-1 1-1 1-2 1-2 1-1 1 0 1 0 1 0 1 0 1 1 1 0 1 1 1 2 1 1 1-4 1-6 1-9 1-9 1-11 1-10 1-13 1-10 1-7 1-5 1-1 1 1 1 1 1 2 1 4 1 3 1 4 1 4 1 4 1-4 1 5 1 6 1 5 1 4 1 3 1 4 1 2 1 2 1 2 1 1 1 1 1 1 1 1 1 1 1 1 1 2 1 2 1 1 1 2 1 1 1 1 1 0 1 1 1 1 1 0 1 1 1 1 1 1 1 1 1 1 1 2 1 1 1 0 1 1 1 0 1 1 1 0 1 0 1 1 1 0 1 0 1-1 1 0 1-1 1-2 1-1 1-2 1 0 1-2 1-1 1 1 1 1 1 1 1 2 1 3 1 2 1 2 1 2 1 2 1-1 1-1 1 0 1-1 1 0 1 0 1 0 1 0 1 1 1 1 1 1 1 1 1 0 1-1 1-1 1 0 1 0 1 0 1 0 1-1 1 0 1-1 1-1 1-1 1 0 1-1 1 1 1 0 1 1 1 1 1 1 1 2 1 0 1-2 1-1 1-1 1-1 1-1 1 0 1 0 1 1 1 1 1 0 1-2 1-4 1-7 1-7 1-9 1-8 1-8 1-14 1-7 1-4 1-1 1 1 1 1 1 3 1 2 1 3 1 4 1 7 1 1 1 1 1 0 1 1 1 1 1 2 1 2 1 2 1 2 1 1 1 2 1 1 1 1 1 1 1 2 1 2 1 2 1 3 1 2 1 3 1 1 1 1 1 1 1 2 1 1 1 1 1 1 1 1 1 1 1 2 1 0 1 0 1 1 1 1 1 0 1-1 1-1 1 0 1 0 1 0 1 1 1 2 1 2 1 1 1-1 1 0 1 0 1 1 1 0 1 1 1 1 1 0 1-1 1 1 1 0 1 0 1 0 1-1 1 0 1-1 1 0 1-1 1 0 1 0 1 1 1 0 1 1 1 0 1 1 1 0 1 1 1 1 1 1 1 0 1 0 1-1 1 0 1 0 1 1 1 0 1-1 1-1 1 0 1 0 1 1 1 0 1 1 1 0 1-1 1-1 1-1 1-1 1 1 1 1 1 0 1 0 1 0 1 0 1 0 1 0 1 1 1 0 1 0 1-1 1-2 1-6 1-7 1-8 1-8 1-8 1-7 1-7 1-9 1-3 1-1 1 1 1 0 1 2 1 3 1 3 1 3 1 2 1 2 1 2 1 2 1 2 1 2 1 3 1 2 1 2 1 3 1 2 1 2 1 2 1 2 1 2 1 2 1 1 1 0 1 1 1 1 1 0 1 1 1 1 1 0 1 0 1 0 1 0 1 1 1 1 1 1 1 1 1 0 1 0 1 0 1 0 1-1 1 0 1 0 1 0 1 1 1 1 1 2 1 2 1 2 1 1 1 1 1-1 1-1 1-1 1 0 1 0 1 0 1 1 1 0 1 0 1 0 1 0 1 0 1 0 1-1 1-1 1-1 1-1 1-1 1-1 1 0 1 1 1 2 1 1 1 1 1 2 1 1 1 1 1 1 1 0 1 0 1 0 1-1 1 0 1 0 1 0 1-1 1-1 1 0 1 0 1 0 1 0 1 1 1 1 1 1 1 0 1 1 1 0 1 1 1 0 1 1 1-1 1-1 1-1 1-1 1 0 1 0 1 1 1 0 1 0 1-3 1-5 1-7 1-9 1-10 1-10 1-9 1-11 1-7 1-4 1-1 1 1 1 1 1 2 1 3 1 3 1 4 1 0 1 3 1 3 1 3 1 2 1 2 1 2 1 2 1 2 1 1 1 2 1 1 1 2 1 2 1 1 1 2 1 3 1 2 1 3 1 3 1 2 1 2 1 1 1 2 1 1 1 0 1 1 1 0 1 0 1 1 1 0 1 0 1 1 1 0 1-1 1 0 1-1 1-1 1-1 1-1 1 0 1 0 1 1 1 1 1 3 1 3 1 3 1 1 1-1 1-1 1 1 1 1 1 2 1 1 1-1 1 0 1-1 1-1 1 0 1 0 1 1 1 0 1 0 1 1 1 0 1 0 1 0 1 2 1-1 1 0 1 0 1-1 1 0 1 0 1 0 1 0 1 0 1 0 1-1 1 1 1 0 1 1 1 1 1 1 1-2 1-1 1 0 1 0 1 2 1 1 1 0 1-2 1 0 1-1 1 0 1 1 1 0 1 0 1-1 1-1 1-1 1 0 1 0 1 0 1-1 1-3 1-4 1-8 1-9 1-11 1-12 1-9 1-9 1-8 1-4 1-2 1 2 1 0 1 3 1 3 1 3 1 4 1 4 1 4 1 3 1 4 1 3 1 3 1 3 1 2 1 2 1 1 1 2 1 1 1 2 1 2 1 2 1 2 1 1 1 2 1 1 1 0 1 1 1 1 1 1 1 1 1 2 1 1 1-1 1 0 1 0 1 1 1 1 1 3 1 2 1-1 1-1 1-1 1 0 1 1 1 1 1 2 1 2 1 1 1 1 1 0 1 0 1 0 1 0 1 1 1 1 1 1 1 2 1-1 1-1 1-1 1-1 1-1 1-1 1-1 1 0 1 1 1 1 1 1 1 2 1 1 1 2 1 2 1-1 1-1 1-2 1-1 1 0 1 0 1-1 1 0 1 1 1 1 1 1 1 1 1 1 1 1 1-1 1 0 1-1 1 0 1 1 1 0 1 0 1-1 1-1 1 0 1-1 1 1 1 1 1 0 1 1 1 1 1-1 1-1 1-2 1-1 1-2 1 0 1 0 1 1 1 0 1-1 1-4 1-8 1-10 1-11 1-12 1-11 1-10 1-8 1-5 1-1 1 1 1 1 1 3 1 3 1 3 1 4 1 4 1 4 1 6 1 3 1 3 1 3 1 2 1 2 1 1 1 2 1 2 1 1 1 1 1 0 1 1 1 1 1 1 1 2 1 2 1 1 1 2 1 1 1 0 1 1 1 0 1 1 1 0 1 1 1 1 1 1 1 1 1 1 1 0 1 1 1 1 1 1 1 1 1 1 1 1 1 1 1 1 1 1 1 2 1 1 1 1 1 1 1 0 1 1 1-1 1 0 1 0 1 1 1 1 1 1 1-1 1-1 1-1 1 0 1 0 1-1 1 1 1 0 1 0 1 1 1-1 1-1 1 0 1 0 1 0 1 1 1 0 1 2 1 1 1 2 1 0 1-1 1-2 1-3 1-3 1-2 1-2 1 0 1 1 1 1 1 1 1 2 1 3 1 3 1 1 1 1 1 1 1-1 1-1 1-2 1-2 1-2 1-1 1-1 1 0 1 0 1 1 1 1 1 1 1 2 1 2 1-2 1-8 1-9 1-11 1-11 1-12 1-11 1-3 1-8 1-4 1-1 1 1 1 1 1 2 1 3 1 3 1 4 1 4 1 8 1 3 1 3 1 3 1 2 1 3 1 2 1 3 1 2 1 2 1 2 1 2 1 0 1 1 1-1 1 0 1 0 1 0 1 1 1 1 1 1 1 2 1 2 1 2 1 2 1 0 1 0 1 0 1 1 1 1 1 2 1 1 1 1 1 2 1 2 1 2 1 0 1-1 1 1 1 0 1 1 1 1 1 0 1 0 1 1 1 0 1-1 1-1 1-1 1 0 1-1 1 0 1 1 1 1 1 2 1 1 1-1 1-1 1 0 1 1 1 0 1 1 1 1 1 0 1-1 1-1 1 0 1 0 1 1 1 1 1 1 1 0 1 1 1 0 1-1 1-1 1-1 1 0 1-1 1 0 1 0 1 1 1 1 1 2 1-2 1-2 1-3 1-2 1-1 1 0 1 1 1 1 1 2 1 2 1 1 1 1 1 0 1 0 1-1 1-1 1-1 1-2 1-1 1-1 1-3 1-5 1-6 1-8 1-8 1-9 1-7 1-7 1-5 1-3 1-1 1 1 1 0 1 3 1 2 1 3 1 4 1 3 1 2 1 2 1 2 1 2 1 2 1 1 1 2 1 1 1 1 1 1 1 1 1 1 1 2 1 1 1 1 1 2 1 2 1 1 1 2 1 2 1 1 1 1 1 2 1 1 1 2 1 1 1 2 1 1 1 1 1 1 1 0 1 0 1 0 1 1 1 0 1 1 1 1 1 1 1 1 1 0 1-1 1 0 1 0 1 1 1 1 1 0 1-1 1 0 1-1 1 0 1 0 1 0 1-2 1 0 1-1 1 0 1 0 1 0 1 1 1 0 1 2 1 1 1 1 1 2 1 2 1-1 1-1 1-1 1-1 1-1 1-1 1-1 1-1 1 1 1 0 1 1 1 1 1 2 1 2 1 2 1-3 1-1 1-1 1 0 1 1 1 2 1 2 1-1 1-1 1-1 1-1 1-1 1 0 1-1 1 0 1-1 1 0 1 1 1 0 1 1 1 0 1 1 1 2 1 0 1-3 1-5 1-6 1-7 1-8 1-8 1-8 1-22 1-7 1-4 1-1 1 1 1 1 1 2 1 3 1 3 1 4 1 4 1 3 1 2 1 3 1 2 1 2 1 2 1 2 1 2 1 2 1 2 1 3 1 2 1 2 1 2 1 1 1 1 1 2 1 1 1 1 1 1 1 1 1 1 1 2 1 2 1 2 1 0 1 0 1 1 1 1 1 1 1 1 1 2 1 0 1 0 1 0 1 0 1 0 1 1 1 0 1 1 1 1 1 2 1 0 1-1 1-1 1 0 1 0 1 0 1 2 1 1 1 2 1-2 1-1 1 0 1 0 1 1 1 1 1 1 1 1 1 0 1 1 1 0 1 0 1-1 1-1 1-1 1-2 1-1 1-1 1 0 1 0 1 1 1 0 1 2 1 3 1 2 1-3 1-2 1-1 1-1 1-1 1 0 1 1 1 1 1 1 1 1 1 2 1 0 1 1 1 0 1 0 1-1 1 0 1 0 1-1 1 0 1-1 1 0 1-1 1-1 1-1 1-2 1-1 1-2 1-3 1-5 1-7 1-7 1-8 1-9 1-10 1-7 1-7 1-4 1-2 1 2 1 0 1 3 1 3 1 3 1 4 1 3 1 7 1 3 1 3 1 3 1 3 1 2 1 2 1 1 1 1 1 1 1 2 1 1 1 1 1 0 1 1 1 1 1 0 1 1 1 1 1 1 1 3 1 2 1 2 1 2 1 0 1 0 1 0 1 1 1 1 1 1 1 2 1 2 1 2 1 0 1 0 1 1 1 0 1-1 1 0 1 0 1 1 1 0 1 1 1 1 1 1 1 0 1-1 1-1 1 0 1-1 1 1 1 1 1 0 1 2 1 1 1 1 1 1 1 0 1 0 1-1 1 0 1 1 1 1 1-2 1-3 1-2 1-3 1-2 1-2 1-1 1 1 1 2 1 1 1 2 1 1 1 1 1 1 1 1 1 1 1 1 1 0 1 0 1 0 1 0 1-1 1-1 1-1 1 0 1-1 1 0 1 1 1 1 1 0 1 1 1 1 1 1 1 1 1 1 1 1 1 0 1-1 1 0 1-2 1-2 1-4 1-6 1-7 1-10 1-12 1-11 1-8 1-10 1-8 1-4 1-1 1 1 1 1 1 2 1 3 1 4 1 4 1 4 1 3 1 7 1 2 1 2 1 3 1 2 1 2 1 2 1 2 1 3 1 2 1 2 1 2 1 2 1 1 1 2 1 2 1 2 1 1 1 1 1 2 1 1 1 0 1 0 1 0 1 0 1 1 1 1 1 2 1 1 1 1 1 1 1 1 1 1 1-1 1 0 1 0 1 0 1 0 1 1 1 0 1 1 1 0 1 0 1 1 1 1 1 2 1 1 1 1 1 0 1-1 1 0 1 0 1 0 1 0 1 0 1 1 1 1 1 0 1 1 1-1 1 0 1-1 1 0 1 0 1-1 1 0 1 0 1 1 1 0 1 0 1 1 1 1 1 0 1 0 1-1 1 0 1-1 1 1 1 0 1 0 1 1 1 1 1-1 1-2 1-1 1 0 1 1 1 1 1 1 1 0 1 1 1 0 1 0 1 0 1-1 1 0 1-1 1 0 1 0 1 1 1 1 1-1 1-2 1-4 1-6 1-8 1-9 1-9 1-10 1-10 1-12 1-7 1-5 1-1 1 1 1 1 1 3 1 3 1 3 1 4 1 4 1 3 1-7 1 2 1 3 1 3 1 2 1 2 1 3 1 2 1 2 1 3 1 3 1 3 1 2 1 3 1 3 1 2 1 3 1 3 1 2 1 2 1 2 1 1 1 1 1 0 1 0 1 0 1 1 1 1 1 1 1 2 1-1 1-1 1-1 1-1 1 0 1 1 1 2 1 2 1 1 1 1 1 1 1 0 1 0 1-1 1 0 1 0 1 0 1 2 1 2 1 1 1-2 1-2 1-2 1-1 1-2 1 0 1 1 1 1 1 0 1 1 1 1 1 1 1 1 1 0 1 0 1 0 1 0 1 1 1 0 1 1 1 1 1 1 1 2 1 1 1-2 1-2 1-2 1-1 1-1 1 0 1 0 1 2 1 1 1 1 1 1 1 1 1 0 1 0 1 0 1-1 1 0 1-1 1 0 1 0 1 1 1 1 1 2 1-1 1-2 1-2 1-1 1-1 1-1 1-3 1-5 1-7 1-9 1-10 1-11 1-10 1-2 1-7 1-4 1-1 1 1 1 1 1 2 1 3 1 3 1 4 1 9 1 4 1 3 1 3 1 2 1 2 1 1 1 0 1 1 1 1 1 1 1 2 1 1 1 2 1 1 1 2 1 2 1 2 1 2 1 1 1 1 1 0 1 1 1 0 1 1 1 0 1 0 1 1 1 0 1 1 1 1 1 1 1 1 1 0 1 1 1 1 1 1 1 1 1 1 1 1 1 0 1 1 1 0 1 0 1 0 1-1 1 0 1 0 1-1 1 0 1 1 1 1 1 2 1 1 1 1 1-1 1 0 1 0 1 0 1 0 1 1 1 0 1 0 1 0 1 0 1 1 1-2 1-2 1-1 1-2 1 0 1-1 1 0 1 1 1 1 1 3 1 0 1 1 1 1 1 2 1 0 1 0 1 0 1-1 1 0 1 0 1 1 1 0 1-1 1-1 1-1 1-3 1-2 1-2 1-2 1 0 1 0 1 0 1 0 1 1 1 1 1 1 1 1 1 1 1 0 1-2 1-5 1-7 1-8 1-7 1-8 1-9 1-15 1-8 1-4 1-1 1 1 1 1 1 2 1 3 1 3 1 4 1 4 1 1 1 3 1 2 1 3 1 2 1 3 1 2 1 3 1 2 1 3 1 2 1 3 1 3 1 3 1 3 1 2 1 1 1 0 1 1 1 1 1 1 1 1 1-1 1-1 1 0 1 1 1 0 1 1 1 2 1 1 1 2 1 1 1 0 1 1 1 1 1 1 1 1 1 0 1 0 1 0 1 0 1 0 1 1 1-1 1 0 1 0 1 1 1 0 1 1 1-1 1 0 1 0 1 0 1 0 1 0 1 1 1 0 1 1 1 0 1 1 1 1 1 1 1 0 1 0 1 0 1-1 1 0 1 0 1 0 1 0 1 0 1 1 1 0 1-1 1-1 1 0 1 0 1 0 1-1 1 0 1 0 1 1 1 0 1-1 1-1 1 0 1 0 1 1 1 1 1 1 1 1 1 2 1-1 1-1 1-1 1 0 1 0 1-1 1 0 1 1 1 0 1 0 1 0 1-2 1-4 1-5 1-6 1-8 1-9 1-10 1-9 1-11 1-7 1-4 1-1 1 1 1 1 1 2 1 3 1 3 1 4 1 3 1-1 1 4 1 4 1 4 1 4 1 4 1 3 1 3 1 3 1 2 1 3 1 2 1 1 1 2 1 2 1 1 1 1 1 1 1 1 1 1 1 1 1 1 1 1 1 0 1 0 1 0 1-1 1-1 1-1 1 0 1 0 1 0 1 1 1 1 1 2 1 2 1 1 1 3 1 0 1-2 1-2 1-1 1-1 1-1 1 0 1 0 1 0 1 2 1 2 1 1 1 2 1 3 1-1 1-1 1 0 1 0 1 1 1 1 1 2 1 0 1-2 1-2 1-2 1-1 1 0 1 0 1 0 1 1 1 2 1 2 1 1 1 1 1-1 1 0 1-1 1-1 1-1 1 0 1-1 1 0 1 0 1 0 1 0 1 0 1 1 1 0 1 1 1 0 1 1 1 0 1 1 1 1 1 0 1 0 1 0 1 0 1 0 1-1 1 0 1 0 1-1 1-1 1 0 1-1 1-3 1-6 1-8 1-10 1-10 1-12 1-8 1-10 1-8 1-4 1-1 1 1 1 1 1 2 1 3 1 4 1 4 1 4 1 3 1 10 1 3 1 2 1 2 1 2 1 2 1 2 1 1 1 1 1 1 1 1 1 1 1 1 1 1 1 2 1 1 1 1 1 1 1 1 1 1 1 2 1 2 1 1 1 0 1 1 1 1 1 1 1 1 1 2 1 1 1 0 1 1 1 2 1 2 1 0 1-1 1 0 1 0 1 0 1 0 1 0 1 1 1 1 1 0 1 0 1 1 1 1 1 1 1 0 1 1 1 1 1 0 1 1 1 0 1 1 1 0 1-1 1 0 1 0 1 0 1-1 1 0 1-1 1 0 1-1 1 0 1 1 1 1 1 1 1 1 1 1 1 1 1-1 1-1 1-1 1-1 1-1 1 0 1 0 1 1 1 1 1 1 1 1 1 2 1-1 1-1 1 0 1 0 1-1 1-2 1-2 1-1 1-1 1 0 1 0 1 1 1 1 1 2 1 1 1 2 1 1 1 0 1-1 1-4 1-6 1-9 1-11 1-13 1-13 1-6 1-10 1-8 1-4 1-2 1 2 1 1 1 2 1 3 1 4 1 4 1 4 1 3 1-2 1 4 1 4 1 4 1 4 1 4 1 4 1 3 1 4 1 3 1 3 1 2 1 1 1 0 1 1 1 0 1 0 1 0 1 0 1 0 1 0 1 0 1 0 1 0 1 0 1 1 1 1 1 0 1 2 1 1 1 2 1 1 1 2 1 1 1 1 1 2 1 1 1 2 1 1 1 0 1 0 1 0 1-1 1 1 1 0 1 0 1 1 1 2 1 0 1-1 1-2 1-1 1-1 1-1 1 0 1 0 1 1 1 1 1 2 1 1 1 1 1 2 1 1 1-1 1-2 1-1 1 0 1 0 1 0 1 0 1 0 1 1 1 0 1 1 1 0 1 0 1 0 1 0 1 1 1 0 1 0 1 1 1 0 1 1 1-1 1-1 1-1 1-2 1-2 1-1 1 0 1 1 1 1 1 2 1 2 1 2 1-1 1-1 1-1 1 1 1 1 1-1 1-1 1-3 1-4 1-6 1-8 1-11 1-12 1-13 1-2 1-6 1-4 1-1 1 1 1 1 1 2 1 2 1 3 1 3 1 5 1 4 1 4 1 2 1 3 1 2 1 1 1 2 1 1 1 1 1 1 1 1 1 1 1 1 1 2 1 1 1 2 1 2 1 2 1 2 1 0 1 0 1 0 1 0 1 0 1 1 1 1 1 2 1 2 1 2 1 1 1 0 1 0 1 0 1 1 1 1 1 1 1 0 1 0 1 0 1 1 1 1 1 0 1 0 1 1 1 0 1 0 1 1 1 1 1 1 1 0 1-1 1 0 1 1 1 1 1-1 1-1 1-1 1-1 1 0 1 0 1 1 1 1 1 2 1 1 1-2 1-1 1-1 1-1 1 0 1 1 1 1 1 1 1 0 1 0 1 0 1-1 1 0 1 0 1 0 1 1 1 2 1 1 1-1 1-1 1 0 1 0 1 1 1 2 1-2 1-1 1 0 1-1 1 0 1 0 1 1 1 0 1 0 1-1 1-1 1-1 1 1 1 1 1 0 1 0 1-3 1-4 1-7 1-9 1-9 1-8 1-9 1-15 1-8 1-4 1-1 1 1 1 1 1 2 1 3 1 3 1 4 1 4 1 2 1 4 1 4 1 3 1 2 1 3 1 1 1 2 1 2 1 1 1 2 1 1 1 1 1 2 1 2 1 3 1 2 1 3 1 2 1 1 1 1 1 2 1 1 1 1 1-1 1-1 1 0 1 0 1 0 1 1 1 1 1 1 1 1 1 2 1 1 1 1 1 0 1 0 1-1 1-2 1-1 1-2 1-2 1-2 1-1 1 0 1 0 1 0 1 1 1 2 1 2 1 3 1 3 1 4 1 1 1-3 1-2 1-2 1-1 1-1 1 0 1-1 1 1 1 1 1 1 1 2 1 2 1 2 1 2 1 1 1-2 1-1 1 0 1 1 1 1 1 1 1 1 1-1 1-1 1 0 1 0 1 0 1 0 1 1 1 0 1 1 1 0 1-1 1 0 1 0 1 0 1-1 1 0 1 0 1 1 1 0 1 1 1-1 1-1 1-1 1 0 1 1 1 0 1 0 1-3 1-7 1-7 1-9 1-10 1-10 1-15 1-10 1-8 1-5 1-1 1 1 1 1 1 3 1 3 1 3 1 4 1 4 1 4 1-6 1 3 1 3 1 3 1 2 1 2 1 3 1 2 1 3 1 2 1 3 1 3 1 3 1 2 1 3 1 2 1 2 1 2 1 1 1 2 1 1 1 1 1 1 1 2 1 2 1 1 1 0 1 1 1 0 1 1 1 0 1 0 1 1 1 0 1 1 1 1 1 1 1 2 1 1 1 0 1 0 1 0 1-1 1-1 1 0 1 0 1 1 1 1 1 2 1 1 1 1 1 0 1-1 1-1 1 0 1 0 1 0 1 1 1 0 1 1 1 0 1 0 1 0 1-1 1-1 1-1 1-1 1 0 1 0 1-1 1 0 1 0 1 2 1 2 1 3 1 1 1-2 1-2 1-2 1-1 1 0 1-1 1 0 1 0 1 1 1 0 1 0 1 0 1 2 1 2 1 3 1-1 1-2 1-2 1-2 1-1 1-2 1-1 1-1 1 0 1-1 1 1 1-1 1-2 1-4 1-6 1-10 1-13 1-14 1-1 1-11 1-7 1-5 1-1 1 1 1 1 1 3 1 3 1 3 1 4 1 4 1 4 1 1 1 5 1 3 1 4 1 3 1 2 1 3 1 2 1 2 1 2 1 2 1 2 1 1 1 1 1 2 1 2 1 1 1 0 1 1 1 0 1 0 1 0 1 1 1 0 1 1 1 1 1 2 1 2 1 2 1 1 1 2 1 1 1 0 1 1 1 1 1 1 1-1 1-2 1-1 1-2 1-1 1 0 1 0 1 1 1 1 1 1 1 1 1 1 1 1 1 1 1 0 1 1 1 2 1 1 1 2 1 0 1 0 1 0 1 0 1 1 1 1 1 0 1 0 1 0 1-1 1-1 1-1 1 0 1-1 1-1 1-1 1 0 1 0 1 0 1 1 1 1 1 2 1 1 1 2 1 0 1-1 1-1 1 0 1 1 1 2 1-2 1-2 1-2 1-2 1-1 1-1 1-1 1-1 1 0 1 1 1 1 1 1 1 1 1 1 1 1 1 1 1 0 1 0 1-3 1-5 1-6 1-8 1-9 1-9 1-20 1-10 1-8 1-4 1-2 1 2 1 0 1 3 1 3 1 4 1 4 1 4 1 3 1 4 1 1 1 2 1 2 1 1 1 2 1 2 1 2 1 3 1 2 1 3 1 2 1 2 1 3 1 2 1 2 1 2 1 2 1 1 1 1 1 0 1 0 1 1 1 1 1 1 1 2 1 2 1 2 1 1 1 1 1 1 1 1 1 1 1 0 1-1 1 0 1-1 1 0 1 0 1 1 1 1 1 2 1 2 1 0 1-2 1-2 1 0 1 0 1 0 1 1 1 1 1 0 1 1 1 1 1 1 1 0 1 1 1 1 1 0 1 0 1 0 1-1 1 1 1 0 1 0 1 0 1 0 1 1 1 1 1 0 1 1 1 0 1-1 1-1 1-1 1-1 1-1 1-1 1-1 1-1 1 0 1 1 1 2 1 1 1 2 1 1 1-2 1-2 1-2 1-1 1 0 1 0 1 2 1 2 1 3 1 1 1 0 1-1 1 0 1 0 1-1 1-1 1-2 1-4 1-5 1-7 1-9 1-9 1-12 1-12 1-5 1-7 1-4 1-2 1 2 1 0 1 3 1 3 1 3 1 4 1 3 1 8 1 4 1 3 1 2 1 2 1 1 1 0 1 0 1 1 1 0 1 1 1 1 1 2 1 2 1 3 1 2 1 1 1 1 1 2 1 1 1 2 1 2 1 1 1 2 1 2 1 2 1 0 1 0 1 1 1 0 1 1 1 0 1 1 1 1 1 2 1 1 1-1 1 0 1 0 1 0 1 1 1 0 1 0 1 0 1 0 1 1 1 0 1 0 1 0 1 1 1 1 1 1 1 1 1 1 1 0 1-1 1 0 1 0 1-1 1 0 1 0 1 0 1-1 1 1 1 0 1 1 1 1 1 2 1-2 1-1 1 0 1 1 1 1 1-1 1-3 1-1 1-2 1 0 1 0 1 2 1 1 1 2 1 1 1 0 1 0 1 0 1-1 1-1 1 0 1 0 1 1 1 0 1 0 1 0 1 1 1 0 1 0 1-1 1-1 1 0 1 0 1 1 1 0 1 0 1-3 1-8 1-10 1-11 1-12 1-12 1-3 1-10 1-8 1-5 1-1 1 1 1 1 1 3 1 3 1 3 1 4 1 4 1 4 1 4 1 3 1 3 1 2 1 1 1 2 1 2 1 2 1 2 1 2 1 2 1 2 1 3 1 1 1 2 1 2 1 2 1 1 1 2 1 1 1 1 1 1 1 1 1 1 1 1 1 1 1 2 1 2 1 1 1 2 1 1 1 0 1 0 1-1 1 1 1 0 1 0 1 0 1 0 1 0 1 1 1 1 1 0 1 0 1-1 1 0 1 0 1 0 1 1 1 1 1 0 1 1 1 0 1 0 1 1 1 0 1 0 1-1 1 0 1 0 1 1 1 1 1 1 1-2 1-1 1-1 1 0 1-1 1 1 1 2 1 1 1 2 1-1 1-1 1-1 1 0 1 0 1 1 1 1 1 0 1 0 1 0 1-1 1-1 1-1 1 0 1 0 1 0 1 1 1 1 1 0 1 1 1 0 1 1 1 0 1 0 1 0 1-1 1 0 1 0 1-1 1 0 1-2 1-4 1-6 1-8" fill="none" stroke="#ff0000" stroke-width="2.2" stroke-linejoin="round" vector-effect="non-scaling-stroke"/></g>
<rect x="91.90" y="1300.00" width="93.60" height="295.00" fill="none" stroke="#ff0000" stroke-width="2"/>
<g fill="#262626" stroke="#262626" stroke-width="0.3">
<text x="91.30" y="1626.00" font-size="22" text-anchor="middle" font-family='"Liberation Sans", Arial, Helvetica, sans-serif'>0</text>
<text x="174.71" y="1626.00" font-size="22" text-anchor="middle" font-family='"Liberation Sans", Arial, Helvetica, sans-serif'>0.1</text>
<text x="258.12" y="1626.00" font-size="22" text-anchor="middle" font-family='"Liberation Sans", Arial, Helvetica, sans-serif'>0.2</text>
<text x="341.53" y="1626.00" font-size="22" text-anchor="middle" font-family='"Liberation Sans", Arial, Helvetica, sans-serif'>0.3</text>
<text x="424.93" y="1626.00" font-size="22" text-anchor="middle" font-family='"Liberation Sans", Arial, Helvetica, sans-serif'>0.4</text>
<text x="508.34" y="1626.00" font-size="22" text-anchor="middle" font-family='"Liberation Sans", Arial, Helvetica, sans-serif'>0.5</text>
<text x="591.75" y="1626.00" font-size="22" text-anchor="middle" font-family='"Liberation Sans", Arial, Helvetica, sans-serif'>0.6</text>
<text x="675.16" y="1626.00" font-size="22" text-anchor="middle" font-family='"Liberation Sans", Arial, Helvetica, sans-serif'>0.7</text>
<text x="758.57" y="1626.00" font-size="22" text-anchor="middle" font-family='"Liberation Sans", Arial, Helvetica, sans-serif'>0.8</text>
<text x="82.80" y="1519.00" font-size="22" text-anchor="end" font-family='"Liberation Sans", Arial, Helvetica, sans-serif'>-5</text>
<text x="82.80" y="1432.00" font-size="22" text-anchor="end" font-family='"Liberation Sans", Arial, Helvetica, sans-serif'>0</text>
<text x="82.80" y="1345.00" font-size="22" text-anchor="end" font-family='"Liberation Sans", Arial, Helvetica, sans-serif'>5</text>
<text x="432.55" y="1659.10" font-size="24.2" text-anchor="middle" font-family='"Liberation Sans", Arial, Helvetica, sans-serif'>Time[S]</text>
<text transform="translate(49.90 1434.60) rotate(-90)" font-size="24.3" text-anchor="middle" textLength="174.7" lengthAdjust="spacing" font-family='"Liberation Sans", Arial, Helvetica, sans-serif'>Amplitude[m/s<tspan dy="-11" dx="0.4" font-size="19.4">2</tspan><tspan dy="11" dx="0.6">]</tspan></text>
</g>
<rect x="474.90" y="1279.00" width="282.50" height="81.30" fill="#fff" stroke="#262626" stroke-width="1.1"/>
<path d="M482.00 1301.20H552.60" stroke="#0000ff" stroke-width="1.1" fill="none"/>
<text x="558.60" y="1312.20" font-size="27.5" text-anchor="start" font-family='"Liberation Sans", Arial, Helvetica, sans-serif' textLength="121.5" lengthAdjust="spacing" fill="#000" stroke="#000" stroke-width="0.3">waveform</text>
<path d="M482.00 1338.80H552.60" stroke="#ff0000" stroke-width="2" fill="none"/>
<text x="558.60" y="1349.80" font-size="27.5" text-anchor="start" font-family='"Liberation Sans", Arial, Helvetica, sans-serif' textLength="189.0" lengthAdjust="spacing" fill="#000" stroke="#000" stroke-width="0.3">Slice waveform</text>
<text x="-0.90" y="1307.30" font-family='"Liberation Serif", "Times New Roman", serif' fill="#000" stroke="#000" stroke-width="0.15" font-size="41"><tspan font-size="42.5">(</tspan><tspan dy="-0.5" dx="0.3" stroke-width="0.3">d</tspan><tspan font-size="42.5" dy="0.5" dx="0.3">)</tspan></text>
<clipPath id="cdR"><rect x="885.00" y="1272.80" width="685.10" height="324.00"/></clipPath>
<g stroke="#262626" stroke-width="1.3" fill="none" stroke-linecap="butt">
<rect x="885.60" y="1273.40" width="683.90" height="322.80"/>
<path d="M885.60 1596.20v-6.90M885.60 1273.40v6.90M1022.38 1596.20v-6.90M1022.38 1273.40v6.90M1159.16 1596.20v-6.90M1159.16 1273.40v6.90M1295.94 1596.20v-6.90M1295.94 1273.40v6.90M1432.72 1596.20v-6.90M1432.72 1273.40v6.90M1569.50 1596.20v-6.90M1569.50 1273.40v6.90M885.60 1511.50h6.90M1569.50 1511.50h-6.90M885.60 1424.50h6.90M1569.50 1424.50h-6.90M885.60 1337.50h6.90M1569.50 1337.50h-6.90"/>
</g>
<g clip-path="url(#cdR)"><path transform="translate(885.600 1273.40) scale(0.560574 0.5)" d="M0 282l1-141 1 433 1-501 1 379 1-263 1 220 1-185 1 240 1-343 1 286 1-179 1 138 1-135 1 200 1-217 1 141 1-109 1 101 1-68 1 77 1-137 1 134 1-126 1 110 1-43 1 74 1-77 1 21 1-27 1 55 1-83 1 117 1-120 1 108 1-64 1 43 1-84 1 39 1-13 1 17 1-6 1 8 1 3 1 49 1-35 1-15 1-53 1 54 1-1 1-26 1 8 1 21 1-15 1 18 1-7 1 36 1-55 1 25 1-33 1 37 1 22 1-25 1-46 1 49 1 4 1 10 1-7 1-8 1 9 1-45 1 30 1-4 1-29 1 3 1 28 1-7 1-10 1 20 1 28 1-43 1-9 1 12 1 24 1-12 1 6 1-4 1-33 1-2 1 15 1 3 1-3 1 14 1 0 1 13 1-13 1-44 1 26 1 24 1 2 1 8 1-24 1 0 1 35 1-37 1 20 1-38 1 24 1-30 1 42 1-3 1-12 1-14 1 9 1 35 1-27 1 3 1 8 1 5 1-46 1 41 1 8 1-18 1-146 1 375 1-428 1 307 1-210 1 177 1-174 1 268 1-305 1 227 1-159 1 153 1-113 1 134 1-178 1 166 1-145 1 110 1-111 1 137 1-130 1 108 1-82 1 56 1-50 1 70 1-72 1 42 1-12 1 11 1-58 1 47 1-78 1 112 1-76 1 20 1-24 1 74 1-71 1 7 1 42 1-18 1-32 1 61 1-56 1 55 1-20 1 13 1-32 1 23 1-41 1 52 1-26 1-12 1-1 1 48 1-53 1 33 1-23 1 7 1-23 1 29 1 28 1-2 1-45 1 23 1-31 1 23 1 12 1-30 1 33 1 27 1-82 1 80 1-53 1-3 1 13 1 37 1-53 1 49 1-5 1-16 1-24 1 11 1-11 1 26 1-8 1 21 1-17 1-17 1 16 1-13 1 18 1 2 1-13 1 5 1-15 1 8 1-31 1 39 1-1 1 16 1-20 1-13 1 27 1-13 1-15 1 17 1 7 1-28 1 16 1-5 1-15 1 0 1 29 1 3 1-15 1 8 1 33 1-60 1 24 1-4 1-120 1 334 1-428 1 336 1-188 1 165 1-186 1 250 1-313 1 232 1-163 1 157 1-119 1 154 1-219 1 143 1-92 1 138 1-129 1 97 1-115 1 117 1-84 1 76 1-82 1 94 1-124 1 89 1-24 1 17 1-48 1 84 1-69 1 86 1-94 1 57 1 1 1 32 1-76 1 16 1-6 1 9 1 10 1 31 1-74 1 31 1-5 1-12 1 30 1 7 1-49 1 1 1 24 1-22 1 34 1-6 1-5 1 38 1-42 1-7 1 15 1 7 1-38 1 58 1 0 1-12 1 6 1-43 1 13 1 28 1-9 1-63 1 63 1 7 1-25 1-3 1 6 1 24 1 2 1-31 1 10 1 32 1-55 1 9 1 18 1 2 1-11 1 19 1 12 1-32 1 33 1-33 1 33 1-24 1-1 1-36 1 54 1 8 1-16 1 10 1-11 1-19 1-7 1-16 1 45 1-64 1 12 1 42 1 40 1-42 1-3 1 45 1-45 1 5 1 11 1-27 1-7 1 29 1-14 1 17 1 2 1-6 1-171 1 382 1-445 1 334 1-180 1 164 1-226 1 295 1-290 1 239 1-203 1 158 1-144 1 171 1-196 1 166 1-92 1 133 1-122 1 95 1-145 1 99 1-61 1 58 1-75 1 116 1-112 1 101 1-99 1 61 1-51 1 37 1-60 1 74 1-50 1 72 1-65 1 45 1-14 1-21 1 16 1-6 1 1 1 0 1-39 1 66 1-3 1-13 1-32 1 42 1-18 1-4 1 51 1-30 1 4 1-20 1 5 1 19 1-22 1 27 1-34 1 22 1-17 1 15 1-37 1 24 1-16 1 7 1 17 1-21 1 1 1 4 1 10 1 5 1-28 1-23 1 55 1-24 1 15 1-19 1 3 1-9 1 72 1-41 1 6 1-15 1 10 1 0 1-26 1-23 1 90 1-47 1-14 1 8 1 5 1 20 1-8 1-31 1-8 1 20 1 17 1-17 1 6 1-15 1 8 1 14 1-16 1 27 1-39 1-6 1 45 1-31 1 27 1-39 1 3 1 22 1-24 1 28 1 3 1-1 1-8 1 14 1-172 1 412 1-449 1 293 1-193 1 215 1-237 1 254 1-289 1 257 1-183 1 111 1-68 1 134 1-200 1 171 1-130 1 127 1-122 1 103 1-126 1 131 1-54 1 53 1-52 1 19 1-66 1 91 1-44 1 39 1-57 1 75 1-125 1 98 1-33 1 9 1-52 1 42 1-12 1 21 1-21 1 13 1-15 1 50 1-26 1-4 1 11 1-35 1 11 1 39 1-35 1 20 1-18 1-11 1 36 1 21 1-58 1 22 1-14 1 1 1 5 1-10 1 22 1-10 1 12 1 10 1-38 1 7 1 41 1-10 1-31 1-12 1 30 1-5 1 19 1-72 1 37 1-6 1 3 1-3 1 3 1 21 1-23 1 14 1-24 1 40 1-6 1-21 1-13 1 23 1 15 1-10 1 6 1-45 1 19 1-7 1 18 1 17 1-34 1-8 1 20 1 12 1-22 1 29 1-23 1 29 1 5 1-29 1 4 1-30 1 41 1-5 1 22 1 14 1-2 1-42 1 31 1-44 1-6 1 33 1-38 1 38 1-178 1 398 1-444 1 356 1-250 1 216 1-200 1 245 1-303 1 238 1-167 1 133 1-91 1 141 1-216 1 187 1-126 1 125 1-144 1 154 1-149 1 85 1-46 1 49 1-31 1 75 1-85 1 53 1-73 1 59 1-56 1 94 1-71 1 43 1-53 1 34 1-23 1 28 1-33 1 33 1-48 1 56 1-35 1 0 1-3 1 12 1 10 1-36 1 67 1-3 1-23 1-35 1 14 1 21 1 10 1-19 1-10 1 26 1 8 1-1 1-31 1 7 1-6 1 12 1 26 1-31 1 17 1-15 1-15 1 27 1 3 1-35 1 9 1 23 1 40 1-53 1-15 1-7 1 32 1 2 1-7 1-22 1 37 1-19 1 14 1-21 1 33 1-35 1 15 1-4 1-15 1-11 1 53 1-51 1 8 1 17 1-33 1 24 1-22 1 37 1 5 1-40 1-18 1 29 1-5 1 26 1 16 1-20 1-34 1 65 1-27 1 28 1-39 1-14 1 40 1-16 1-33 1 27 1 22 1 1 1 14 1-43 1-131 1 364 1-440 1 342 1-220 1 168 1-180 1 255 1-272 1 182 1-115 1 159 1-163 1 156 1-243 1 205 1-84 1 25 1-53 1 129 1-129 1 107 1-118 1 96 1-57 1 82 1-139 1 116 1-72 1 50 1-42 1 78 1-97 1 32 1-1 1 46 1-22 1 11 1-38 1 32 1-25 1 48 1-63 1 37 1-26 1 18 1-29 1 31 1 3 1-20 1 9 1 22 1 5 1-20 1 10 1 3 1-34 1 20 1-27 1 20 1 8 1 7 1-7 1-14 1 6 1 13 1-28 1 20 1 4 1 25 1-41 1 7 1 1 1 13 1 3 1-8 1-11 1 9 1-2 1 9 1-19 1 5 1 17 1-28 1-2 1 2 1 16 1 3 1 17 1-36 1 55 1-33 1-2 1-22 1 16 1 19 1 8 1-12 1-17 1 1 1 5 1 10 1-10 1-23 1 40 1-21 1-31 1 21 1 19 1-21 1 26 1-14 1-30 1-6 1 69 1-46 1-24 1 48 1-16 1-24 1 39 1-9 1-141 1 348 1-415 1 323 1-228 1 161 1-155 1 264 1-308 1 223 1-157 1 173 1-130 1 184 1-251 1 161 1-85 1 88 1-89 1 122 1-149 1 106 1-103 1 80 1-37 1 74 1-128 1 84 1-42 1 32 1-57 1 108 1-74 1 68 1-75 1 45 1-22 1 39 1-72 1 49 1-14 1-16 1 26 1 29 1-104 1 79 1-11 1 16 1-24 1 0 1-20 1 19 1 6 1 32 1-43 1-12 1-5 1 34 1-25 1 29 1-13 1 31 1-27 1-2 1 1 1-13 1-26 1 16 1 25 1 13 1-5 1 9 1-22 1-3 1-1 1 4 1-2 1 8 1 9 1-44 1 10 1 39 1-1 1-5 1-13 1-22 1 3 1 0 1-1 1 0 1 7 1 6 1 10 1 32 1-32 1-36 1 44 1 3 1-33 1 19 1 10 1-38 1 17 1-2 1 25 1-20 1 2 1-8 1-7 1 1 1 18 1-10 1 35 1-34 1-1 1 21 1 7 1-14 1 22 1-29 1 0 1 35 1-178 1 382 1-435 1 300 1-194 1 195 1-188 1 235 1-338 1 246 1-152 1 136 1-73 1 147 1-205 1 124 1-109 1 134 1-102 1 109 1-123 1 110 1-69 1 32 1-27 1 43 1-78 1 61 1-63 1 84 1-39 1 33 1-40 1 45 1-45 1 24 1-2 1 22 1-64 1 20 1 40 1-42 1-12 1 64 1-24 1-12 1 0 1 3 1-27 1 41 1-31 1 10 1-19 1-7 1-8 1 40 1-6 1-38 1 26 1 10 1 23 1-27 1 19 1 2 1 11 1-11 1-15 1 35 1-18 1-10 1 19 1 2 1-10 1 14 1-43 1 34 1-36 1 0 1 38 1-21 1 7 1 15 1-17 1-1 1-19 1-4 1 38 1-11 1-19 1-12 1 68 1-69 1 26 1-32 1 37 1 8 1-17 1-21 1 21 1 46 1-58 1 44 1-12 1 4 1 12 1-11 1-5 1-7 1-11 1 6 1 21 1-24 1-23 1 1 1 16 1-9 1-6 1-9 1-6 1 38 1-1 1-22 1-170 1 414 1-462 1 364 1-172 1 128 1-189 1 271 1-321 1 215 1-127 1 114 1-129 1 189 1-225 1 174 1-85 1 61 1-95 1 144 1-170 1 111 1-32 1 44 1-60 1 97 1-129 1 101 1-59 1 32 1-46 1 60 1-108 1 106 1-50 1 59 1-63 1 29 1-51 1 72 1-30 1-9 1 5 1 8 1 3 1-19 1-10 1 25 1 10 1 7 1-29 1 15 1-4 1 12 1-18 1-9 1 49 1 0 1-5 1-9 1 13 1-35 1-2 1 15 1 3 1-12 1-5 1 4 1 13 1-21 1 37 1-49 1 79 1-43 1 7 1-35 1 41 1-61 1 63 1-66 1 27 1 11 1-10 1-32 1 23 1 62 1-68 1 20 1 35 1-45 1 37 1-25 1-3 1 18 1-26 1 33 1-24 1 15 1-8 1-39 1 34 1 23 1-19 1 13 1-16 1-2 1 1 1 1 1 11 1-18 1-12 1 32 1-11 1-2 1-23 1 4 1 34 1-15 1 30 1-10 1-19 1-2" fill="none" stroke="#0000ff" stroke-width="1.25" stroke-linejoin="round" vector-effect="non-scaling-stroke"/></g>
<g clip-path="url(#cdR)"><path transform="translate(885.600 1273.40) scale(0.560574 0.25)" d="M0 470l1-21 1-16 1-9 1-3 1 3 1 1 1 6 1 6 1 7 1 9 1 8 1 8 1 7 1 9 1 8 1 7 1 6 1 5 1 5 1 4 1 3 1 3 1 2 1 2 1 2 1 2 1 1 1 1 1 1 1 2 1 2 1 2 1 3 1 4 1 5 1 6 1 4 1 1 1 0 1 0 1 1 1 2 1 4 1 4 1 4 1 1 1 2 1 1 1 0 1 0 1 0 1-1 1 1 1-1 1 0 1 1 1 0 1 1 1 0 1 0 1 1 1 2 1 3 1 2 1 3 1-1 1-1 1-1 1-1 1 0 1 1 1 1 1 2 1 2 1 0 1-1 1 0 1 1 1 0 1 1 1-1 1-3 1-4 1-2 1-2 1 0 1-1 1 1 1 1 1 1 1 1 1 1 1 1 1 1 1 1 1 2 1 0 1 1 1 2 1 0 1 1 1 1 1 0 1 0 1 0 1-1 1 0 1 0 1 1 1-1 1-2 1 0 1 0 1-2 1-3 1-6 1-10 1-15 1-20 1-24 1-26 1-27 1-2 1-14 1-9 1-2 1 2 1 2 1 5 1 6 1 6 1 8 1 7 1-6 1 10 1 9 1 8 1 6 1 5 1 4 1 4 1 2 1 3 1 4 1 4 1 5 1 5 1 4 1 3 1 4 1 4 1 4 1 4 1 1 1 1 1 1 1 1 1 2 1 0 1 0 1 2 1 1 1 1 1 3 1 4 1 3 1-1 1-1 1 0 1 0 1-1 1 1 1 2 1 3 1 3 1 3 1 0 1 0 1 1 1 1 1 1 1 0 1 0 1-1 1 0 1 0 1 1 1 2 1 1 1 0 1 0 1 0 1 1 1 0 1-1 1-1 1-2 1-1 1 0 1 0 1 0 1 1 1 1 1 1 1 2 1 1 1 2 1 1 1 1 1-1 1-2 1-1 1-2 1-2 1-1 1-1 1-1 1-1 1 0 1-2 1-2 1-2 1 0 1 2 1 1 1 1 1 3 1 4 1 6 1-3 1-5 1-4 1-2 1 1 1-2 1 1 1-1 1-4 1-10 1-15 1-19 1-23 1-24 1-25 1-1 1-15 1-9 1-2 1 2 1 2 1 5 1 6 1 6 1 8 1 7 1 18 1 7 1 6 1 5 1 3 1 3 1 2 1 1 1 2 1 1 1 1 1 2 1 2 1 3 1 2 1 3 1 3 1 2 1 3 1 4 1 4 1 4 1 4 1 4 1 4 1 2 1-1 1-1 1 1 1 1 1 3 1 3 1 3 1 3 1-1 1-1 1 0 1-1 1 1 1 1 1 2 1 2 1 2 1 1 1 1 1 2 1 0 1 0 1-2 1-3 1-3 1-2 1 1 1 2 1-1 1 0 1 2 1 3 1 4 1 3 1 4 1 1 1-3 1-2 1-1 1-1 1-2 1-2 1 0 1 0 1 0 1 1 1 2 1 2 1 0 1 2 1 3 1 0 1-1 1-1 1 0 1 0 1 0 1 1 1 0 1 1 1 1 1 1 1 1 1-3 1-2 1-2 1-1 1 1 1 2 1 4 1 1 1-4 1-4 1-3 1 0 1 0 1 2 1 2 1-3 1-8 1-16 1-19 1-24 1-25 1-25 1-13 1-15 1-9 1-2 1 2 1 2 1 5 1 6 1 6 1 8 1 7 1 12 1 5 1 5 1 3 1 3 1 3 1 3 1 3 1 4 1 5 1 4 1 5 1 5 1 5 1 4 1 3 1 3 1 3 1 3 1 4 1 3 1 3 1 2 1 2 1 2 1 1 1 0 1 0 1 2 1 1 1 1 1 1 1 2 1 3 1 1 1 0 1 1 1 2 1 1 1 2 1 3 1 0 1 0 1 0 1 1 1-1 1-1 1-1 1 1 1 0 1 1 1 1 1 2 1 3 1-2 1-1 1-1 1-1 1 0 1-1 1-1 1-1 1-2 1-4 1-2 1-1 1 0 1 1 1 2 1 2 1 3 1 2 1 2 1 2 1 2 1 1 1 1 1-1 1-1 1-1 1-1 1-2 1 0 1 1 1 0 1 0 1 1 1 2 1 2 1 1 1 0 1 0 1 0 1 0 1-1 1 0 1 0 1 1 1 2 1 1 1-1 1-1 1 0 1-3 1-6 1-10 1-12 1-17 1-20 1-22 1-23 1-26 1-15 1-9 1-3 1 3 1 2 1 5 1 6 1 6 1 8 1 8 1 7 1-4 1 7 1 6 1 6 1 6 1 5 1 5 1 4 1 3 1 4 1 3 1 3 1 4 1 5 1 5 1 5 1 4 1 4 1 3 1 3 1 1 1 1 1 2 1 2 1 3 1 2 1 3 1 1 1 2 1 1 1 3 1 2 1 0 1 0 1-1 1-1 1 0 1 1 1 2 1 2 1 2 1 3 1-1 1-1 1-1 1 1 1 1 1 2 1 0 1 0 1 1 1 0 1-2 1-1 1-1 1 1 1 0 1 1 1 1 1 2 1 2 1 2 1 2 1 1 1 0 1 1 1-1 1-1 1-2 1-1 1-1 1-2 1-1 1 0 1 1 1 1 1 0 1-1 1-1 1 0 1 0 1 1 1 2 1 1 1 1 1 1 1 2 1 1 1 0 1 0 1 1 1 0 1-1 1-1 1 0 1 1 1 1 1-1 1-2 1-1 1 0 1 0 1-2 1-4 1-7 1-13 1-16 1-18 1-19 1-21 1-27 1-14 1-8 1-2 1 2 1 2 1 5 1 5 1 6 1 7 1 33 1 7 1 7 1 6 1 4 1 4 1 3 1 3 1 2 1 1 1 1 1 1 1 1 1 0 1 1 1 0 1 1 1 1 1 1 1 2 1 1 1 2 1 2 1 3 1 4 1 3 1 2 1 4 1 2 1 3 1 3 1 1 1 0 1-1 1-1 1 0 1-1 1-1 1 1 1-1 1 0 1 1 1 1 1 1 1 1 1 3 1 4 1 5 1-1 1-3 1-2 1 0 1 0 1 0 1 0 1 3 1 2 1 3 1 0 1 0 1-2 1-1 1-1 1 0 1 0 1 1 1 3 1 3 1 0 1-3 1-2 1-2 1 0 1 0 1 1 1-2 1-2 1 0 1-2 1-2 1-1 1 0 1 3 1 3 1 6 1 6 1-5 1-6 1-4 1-3 1-2 1 1 1 2 1 3 1 4 1 6 1 2 1-6 1-5 1-3 1-2 1-1 1 0 1 0 1-1 1-5 1-9 1-14 1-18 1-20 1-21 1-23 1-4 1-14 1-8 1-3 1 3 1 1 1 5 1 6 1 6 1 7 1 0 1 9 1 8 1 7 1 8 1 6 1 6 1 5 1 4 1 4 1 3 1 4 1 2 1 3 1 2 1 2 1 2 1 3 1 2 1 3 1 4 1 3 1 4 1 4 1 4 1 0 1 0 1 2 1 2 1 3 1 3 1 1 1-1 1-1 1 0 1-1 1 0 1 0 1 2 1 4 1-1 1-4 1-4 1-3 1-3 1 0 1 0 1 2 1 2 1 3 1 3 1 4 1 5 1 3 1 2 1-1 1 0 1 0 1 0 1-1 1-1 1 0 1 0 1 0 1 0 1 1 1-1 1 1 1 0 1-1 1-2 1-1 1 0 1 0 1 0 1-1 1 0 1-1 1-1 1 0 1 0 1-1 1-1 1 0 1-1 1 1 1 2 1 2 1 2 1 2 1 2 1 1 1 0 1-1 1-2 1-3 1-2 1-2 1 0 1 0 1 2 1 3 1 2 1 2 1 0 1-6 1-10 1-14 1-17 1-18 1-18 1-19 1-31 1-15 1-9 1-2 1 2 1 2 1 5 1 6 1 6 1 8 1 7 1 2 1 8 1 7 1 8 1 6 1 4 1 4 1 4 1 2 1 2 1 3 1 4 1 2 1 2 1 1 1 1 1 1 1 2 1 2 1 2 1 3 1 4 1 4 1 5 1 5 1 5 1 5 1 5 1 0 1-2 1-2 1-1 1-1 1-2 1-2 1 0 1 2 1 3 1 4 1 4 1 4 1 5 1 3 1-2 1-1 1 0 1 2 1 2 1 2 1-1 1-1 1 1 1-2 1-1 1 0 1 1 1 1 1 1 1 0 1-1 1-2 1-2 1-1 1-1 1-1 1-1 1 0 1 0 1 1 1 2 1 1 1 3 1 2 1 2 1 2 1 3 1 2 1 0 1-2 1-2 1-1 1-1 1-1 1 0 1 1 1 1 1 2 1 2 1-2 1-1 1 0 1-1 1 0 1 0 1 0 1 0 1 1 1 0 1-2 1-3 1-1 1-1 1 0 1-1 1-5 1-11 1-14 1-17 1-19 1-22 1-22 1-11 1-14 1-8 1-3 1 3 1 1 1 5 1 5 1 7 1 7 1 1 1 8 1 7 1 6 1 6 1 5 1 6 1 5 1 6 1 5 1 5 1 5 1 4 1 4 1 4 1 3 1 4 1 3 1 3 1 1 1 2 1 1 1 1 1 2 1 1 1 0 1 0 1 1 1 1 1 1 1 1 1 1 1 0 1 0 1 0 1-1 1 0 1 1 1 3 1 3 1 3 1 4 1 3 1-1 1-2 1-2 1-1 1 0 1 1 1 0 1 1 1 1 1 2 1 2 1 3 1 3 1 0 1-3 1-1 1 0 1 1 1 2 1 1 1 2 1 0 1-1 1 0 1-1 1 0 1 0 1-2 1-3 1-3 1-2 1-2 1-1 1 0 1 1 1 3 1 2 1 2 1 2 1-1 1 0 1-1 1-2 1-3 1-4 1-4 1-2 1 0 1 2 1 3 1 4 1 6 1 7 1-4 1-6 1-4 1-4 1-2 1-2 1 1 1 1 1-1 1-3 1-9 1-12 1-18 1-23 1-25 1-24 1-5 1-15 1-9 1-2 1 2 1 2 1 5 1 6 1 7 1 8 1 7 1 7 1-3 1 8 1 8 1 6 1 5 1 5 1 5 1 4 1 4 1 3 1 3 1 3 1 3 1 4 1 5 1 6 1 2 1 2 1 1 1 1 1 2 1 1 1 2 1 0 1 1 1 0 1 2 1 1 1 1 1 2 1 2 1 4 1 5 1 4 1 4 1-1 1 0 1 1 1 1 1-1 1-1 1 0 1 1 1 2 1 3 1 5 1 2 1-5 1-5 1-4 1-3 1-1 1 1 1 3 1 5 1 5 1 5 1 1 1-4 1-2 1-1 1 1 1 1 1 2 1 2 1 1 1 1 1 0 1 0 1 0 1-1 1-1 1-2 1-2 1-1 1 0 1 1 1 1 1 1 1 1 1 0 1 1 1 0 1-1 1-1 1-1 1 0 1-1 1-2 1-2 1 0 1 0 1 1 1-1 1 0 1 2 1 0 1 1 1 1 1 2 1 3 1 2 1-2 1-6 1-11 1-15 1-17 1-21 1-21 1-22" fill="none" stroke="#ff0000" stroke-width="2.4" stroke-linejoin="round" vector-effect="non-scaling-stroke"/></g>
<g fill="#262626" stroke="#262626" stroke-width="0.3">
<text x="885.00" y="1626.00" font-size="22" text-anchor="middle" font-family='"Liberation Sans", Arial, Helvetica, sans-serif'>0</text>
<text x="1021.78" y="1626.00" font-size="22" text-anchor="middle" font-family='"Liberation Sans", Arial, Helvetica, sans-serif'>0.02</text>
<text x="1158.56" y="1626.00" font-size="22" text-anchor="middle" font-family='"Liberation Sans", Arial, Helvetica, sans-serif'>0.04</text>
<text x="1295.34" y="1626.00" font-size="22" text-anchor="middle" font-family='"Liberation Sans", Arial, Helvetica, sans-serif'>0.06</text>
<text x="1432.12" y="1626.00" font-size="22" text-anchor="middle" font-family='"Liberation Sans", Arial, Helvetica, sans-serif'>0.08</text>
<text x="1568.90" y="1626.00" font-size="22" text-anchor="middle" font-family='"Liberation Sans", Arial, Helvetica, sans-serif'>0.1</text>
<text x="876.50" y="1519.00" font-size="22" text-anchor="end" font-family='"Liberation Sans", Arial, Helvetica, sans-serif'>-5</text>
<text x="876.50" y="1432.00" font-size="22" text-anchor="end" font-family='"Liberation Sans", Arial, Helvetica, sans-serif'>0</text>
<text x="876.50" y="1345.00" font-size="22" text-anchor="end" font-family='"Liberation Sans", Arial, Helvetica, sans-serif'>5</text>
<text x="1226.35" y="1659.10" font-size="24.2" text-anchor="middle" font-family='"Liberation Sans", Arial, Helvetica, sans-serif'>Time[S]</text>
<text transform="translate(843.60 1434.60) rotate(-90)" font-size="24.3" text-anchor="middle" textLength="174.7" lengthAdjust="spacing" font-family='"Liberation Sans", Arial, Helvetica, sans-serif'>Amplitude[m/s<tspan dy="-11" dx="0.4" font-size="19.4">2</tspan><tspan dy="11" dx="0.6">]</tspan></text>
</g>
<rect x="1271.50" y="1280.70" width="282.30" height="81.60" fill="#fff" stroke="#262626" stroke-width="1.1"/>
<path d="M1278.80 1302.40H1349.60" stroke="#0000ff" stroke-width="1.1" fill="none"/>
<text x="1355.00" y="1313.00" font-size="27.5" text-anchor="start" font-family='"Liberation Sans", Arial, Helvetica, sans-serif' textLength="121.5" lengthAdjust="spacing" fill="#000" stroke="#000" stroke-width="0.3">waveform</text>
<path d="M1278.80 1340.40H1349.60" stroke="#ff0000" stroke-width="2" fill="none"/>
<text x="1355.00" y="1351.00" font-size="27.5" text-anchor="start" font-family='"Liberation Sans", Arial, Helvetica, sans-serif' textLength="189.5" lengthAdjust="spacing" fill="#000" stroke="#000" stroke-width="0.3">Slice waveform</text>
</svg>
</body></html>
